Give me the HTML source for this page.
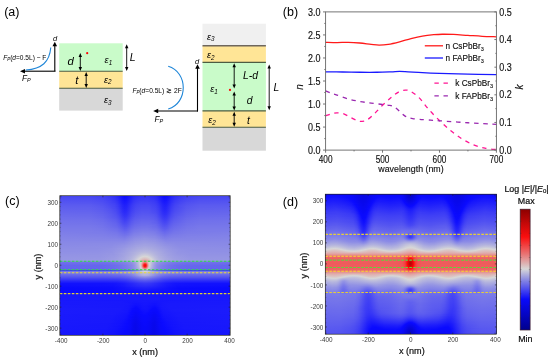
<!DOCTYPE html>
<html><head><meta charset="utf-8"><title>Figure</title>
<style>html,body{margin:0;padding:0;background:#fff}svg{display:block}</style></head>
<body>
<svg width="550" height="360" viewBox="0 0 550 360">
<defs>
<linearGradient id="c0"><stop offset="0" stop-color="#4848f3"/><stop offset="0.176" stop-color="#4747f3"/><stop offset="0.252" stop-color="#4141f4"/><stop offset="0.293" stop-color="#3939f6"/><stop offset="0.323" stop-color="#3030f8"/><stop offset="0.34" stop-color="#2626fa"/><stop offset="0.37" stop-color="#1010fe"/><stop offset="0.381" stop-color="#0c0cff"/><stop offset="0.393" stop-color="#0f0ffe"/><stop offset="0.434" stop-color="#2b2bf9"/><stop offset="0.452" stop-color="#3131f7"/><stop offset="0.475" stop-color="#3535f7"/><stop offset="0.516" stop-color="#3535f7"/><stop offset="0.552" stop-color="#3030f8"/><stop offset="0.569" stop-color="#2929f9"/><stop offset="0.604" stop-color="#1010fe"/><stop offset="0.616" stop-color="#0c0cff"/><stop offset="0.628" stop-color="#0e0efe"/><stop offset="0.663" stop-color="#2828f9"/><stop offset="0.681" stop-color="#3131f7"/><stop offset="0.745" stop-color="#4040f4"/><stop offset="0.822" stop-color="#4747f3"/><stop offset="0.998" stop-color="#4848f3"/></linearGradient>
<linearGradient id="c1"><stop offset="0" stop-color="#4a4af2"/><stop offset="0.176" stop-color="#4949f3"/><stop offset="0.252" stop-color="#4343f4"/><stop offset="0.293" stop-color="#3b3bf5"/><stop offset="0.323" stop-color="#3232f7"/><stop offset="0.34" stop-color="#2828f9"/><stop offset="0.37" stop-color="#1212fd"/><stop offset="0.381" stop-color="#0e0efe"/><stop offset="0.393" stop-color="#1111fe"/><stop offset="0.434" stop-color="#2d2df8"/><stop offset="0.452" stop-color="#3333f7"/><stop offset="0.475" stop-color="#3737f6"/><stop offset="0.516" stop-color="#3838f6"/><stop offset="0.552" stop-color="#3232f7"/><stop offset="0.569" stop-color="#2c2cf8"/><stop offset="0.604" stop-color="#1212fd"/><stop offset="0.616" stop-color="#0e0efe"/><stop offset="0.634" stop-color="#1414fd"/><stop offset="0.657" stop-color="#2727f9"/><stop offset="0.675" stop-color="#3131f7"/><stop offset="0.704" stop-color="#3a3af6"/><stop offset="0.745" stop-color="#4343f4"/><stop offset="0.822" stop-color="#4949f3"/><stop offset="0.998" stop-color="#4a4af2"/></linearGradient>
<linearGradient id="c2"><stop offset="0" stop-color="#4c4cf2"/><stop offset="0.176" stop-color="#4c4cf2"/><stop offset="0.252" stop-color="#4545f3"/><stop offset="0.293" stop-color="#3d3df5"/><stop offset="0.323" stop-color="#3434f7"/><stop offset="0.34" stop-color="#2b2bf9"/><stop offset="0.37" stop-color="#1414fd"/><stop offset="0.381" stop-color="#1010fe"/><stop offset="0.393" stop-color="#1313fd"/><stop offset="0.434" stop-color="#2f2ff8"/><stop offset="0.452" stop-color="#3535f7"/><stop offset="0.475" stop-color="#3939f6"/><stop offset="0.516" stop-color="#3a3af6"/><stop offset="0.552" stop-color="#3434f7"/><stop offset="0.569" stop-color="#2e2ef8"/><stop offset="0.604" stop-color="#1515fd"/><stop offset="0.616" stop-color="#1010fe"/><stop offset="0.634" stop-color="#1616fd"/><stop offset="0.657" stop-color="#2929f9"/><stop offset="0.675" stop-color="#3333f7"/><stop offset="0.704" stop-color="#3c3cf5"/><stop offset="0.745" stop-color="#4545f4"/><stop offset="0.822" stop-color="#4b4bf2"/><stop offset="0.998" stop-color="#4c4cf2"/></linearGradient>
<linearGradient id="c3"><stop offset="0" stop-color="#4e4ef2"/><stop offset="0.176" stop-color="#4e4ef2"/><stop offset="0.252" stop-color="#4747f3"/><stop offset="0.293" stop-color="#3f3ff5"/><stop offset="0.323" stop-color="#3636f6"/><stop offset="0.34" stop-color="#2d2df8"/><stop offset="0.37" stop-color="#1616fd"/><stop offset="0.381" stop-color="#1313fd"/><stop offset="0.393" stop-color="#1515fd"/><stop offset="0.434" stop-color="#3232f7"/><stop offset="0.452" stop-color="#3737f6"/><stop offset="0.475" stop-color="#3b3bf5"/><stop offset="0.516" stop-color="#3c3cf5"/><stop offset="0.552" stop-color="#3737f6"/><stop offset="0.569" stop-color="#3030f8"/><stop offset="0.604" stop-color="#1717fd"/><stop offset="0.616" stop-color="#1313fd"/><stop offset="0.628" stop-color="#1515fd"/><stop offset="0.657" stop-color="#2b2bf8"/><stop offset="0.675" stop-color="#3535f7"/><stop offset="0.704" stop-color="#3f3ff5"/><stop offset="0.745" stop-color="#4747f3"/><stop offset="0.822" stop-color="#4e4ef2"/><stop offset="0.998" stop-color="#4e4ef2"/></linearGradient>
<linearGradient id="c4"><stop offset="0" stop-color="#5151f1"/><stop offset="0.176" stop-color="#5050f1"/><stop offset="0.252" stop-color="#4a4af3"/><stop offset="0.293" stop-color="#4141f4"/><stop offset="0.323" stop-color="#3939f6"/><stop offset="0.34" stop-color="#2f2ff8"/><stop offset="0.37" stop-color="#1919fc"/><stop offset="0.381" stop-color="#1515fd"/><stop offset="0.393" stop-color="#1818fc"/><stop offset="0.434" stop-color="#3434f7"/><stop offset="0.452" stop-color="#3a3af6"/><stop offset="0.475" stop-color="#3d3df5"/><stop offset="0.516" stop-color="#3e3ef5"/><stop offset="0.552" stop-color="#3939f6"/><stop offset="0.569" stop-color="#3232f7"/><stop offset="0.604" stop-color="#1919fc"/><stop offset="0.616" stop-color="#1515fd"/><stop offset="0.628" stop-color="#1717fc"/><stop offset="0.657" stop-color="#2e2ef8"/><stop offset="0.675" stop-color="#3838f6"/><stop offset="0.704" stop-color="#4141f4"/><stop offset="0.745" stop-color="#4949f3"/><stop offset="0.822" stop-color="#5050f1"/><stop offset="0.998" stop-color="#5151f1"/></linearGradient>
<linearGradient id="c5"><stop offset="0" stop-color="#5353f1"/><stop offset="0.176" stop-color="#5252f1"/><stop offset="0.252" stop-color="#4c4cf2"/><stop offset="0.293" stop-color="#4444f4"/><stop offset="0.323" stop-color="#3b3bf5"/><stop offset="0.34" stop-color="#3232f7"/><stop offset="0.37" stop-color="#1b1bfc"/><stop offset="0.381" stop-color="#1717fc"/><stop offset="0.393" stop-color="#1a1afc"/><stop offset="0.434" stop-color="#3636f6"/><stop offset="0.452" stop-color="#3c3cf5"/><stop offset="0.475" stop-color="#4040f5"/><stop offset="0.516" stop-color="#4040f4"/><stop offset="0.552" stop-color="#3b3bf5"/><stop offset="0.569" stop-color="#3535f7"/><stop offset="0.604" stop-color="#1b1bfc"/><stop offset="0.616" stop-color="#1717fc"/><stop offset="0.628" stop-color="#1a1afc"/><stop offset="0.657" stop-color="#3030f8"/><stop offset="0.675" stop-color="#3a3af6"/><stop offset="0.704" stop-color="#4343f4"/><stop offset="0.745" stop-color="#4b4bf2"/><stop offset="0.822" stop-color="#5252f1"/><stop offset="0.998" stop-color="#5353f1"/></linearGradient>
<linearGradient id="c6"><stop offset="0" stop-color="#5555f0"/><stop offset="0.176" stop-color="#5454f1"/><stop offset="0.252" stop-color="#4e4ef2"/><stop offset="0.323" stop-color="#3d3df5"/><stop offset="0.34" stop-color="#3434f7"/><stop offset="0.37" stop-color="#1d1dfb"/><stop offset="0.381" stop-color="#1919fc"/><stop offset="0.393" stop-color="#1c1cfb"/><stop offset="0.434" stop-color="#3838f6"/><stop offset="0.452" stop-color="#3e3ef5"/><stop offset="0.475" stop-color="#4242f4"/><stop offset="0.516" stop-color="#4343f4"/><stop offset="0.558" stop-color="#3c3cf5"/><stop offset="0.575" stop-color="#3333f7"/><stop offset="0.604" stop-color="#1d1dfb"/><stop offset="0.616" stop-color="#1919fc"/><stop offset="0.628" stop-color="#1c1cfc"/><stop offset="0.657" stop-color="#3232f7"/><stop offset="0.675" stop-color="#3c3cf5"/><stop offset="0.704" stop-color="#4545f3"/><stop offset="0.745" stop-color="#4e4ef2"/><stop offset="0.822" stop-color="#5454f1"/><stop offset="0.998" stop-color="#5555f0"/></linearGradient>
<linearGradient id="c7"><stop offset="0" stop-color="#5757f0"/><stop offset="0.176" stop-color="#5656f0"/><stop offset="0.252" stop-color="#5050f1"/><stop offset="0.323" stop-color="#4040f5"/><stop offset="0.34" stop-color="#3636f6"/><stop offset="0.37" stop-color="#1f1ffb"/><stop offset="0.381" stop-color="#1b1bfc"/><stop offset="0.393" stop-color="#1e1efb"/><stop offset="0.423" stop-color="#3434f7"/><stop offset="0.434" stop-color="#3b3bf5"/><stop offset="0.452" stop-color="#4040f4"/><stop offset="0.475" stop-color="#4444f4"/><stop offset="0.516" stop-color="#4545f4"/><stop offset="0.558" stop-color="#3e3ef5"/><stop offset="0.575" stop-color="#3636f6"/><stop offset="0.604" stop-color="#2020fb"/><stop offset="0.616" stop-color="#1b1bfc"/><stop offset="0.628" stop-color="#1e1efb"/><stop offset="0.657" stop-color="#3535f7"/><stop offset="0.675" stop-color="#3f3ff5"/><stop offset="0.704" stop-color="#4747f3"/><stop offset="0.745" stop-color="#5050f1"/><stop offset="0.822" stop-color="#5656f0"/><stop offset="0.998" stop-color="#5757f0"/></linearGradient>
<linearGradient id="c8"><stop offset="0" stop-color="#5959f0"/><stop offset="0.176" stop-color="#5959f0"/><stop offset="0.252" stop-color="#5252f1"/><stop offset="0.323" stop-color="#4242f4"/><stop offset="0.34" stop-color="#3939f6"/><stop offset="0.37" stop-color="#2222fa"/><stop offset="0.381" stop-color="#1e1efb"/><stop offset="0.393" stop-color="#2020fb"/><stop offset="0.423" stop-color="#3636f6"/><stop offset="0.434" stop-color="#3d3df5"/><stop offset="0.452" stop-color="#4343f4"/><stop offset="0.475" stop-color="#4646f3"/><stop offset="0.516" stop-color="#4747f3"/><stop offset="0.558" stop-color="#4040f4"/><stop offset="0.575" stop-color="#3838f6"/><stop offset="0.604" stop-color="#2222fa"/><stop offset="0.616" stop-color="#1e1efb"/><stop offset="0.628" stop-color="#2020fb"/><stop offset="0.657" stop-color="#3737f6"/><stop offset="0.675" stop-color="#4141f4"/><stop offset="0.704" stop-color="#4a4af3"/><stop offset="0.745" stop-color="#5252f1"/><stop offset="0.822" stop-color="#5959f0"/><stop offset="0.998" stop-color="#5959f0"/></linearGradient>
<linearGradient id="c9"><stop offset="0" stop-color="#5b5bef"/><stop offset="0.176" stop-color="#5b5bef"/><stop offset="0.252" stop-color="#5454f0"/><stop offset="0.323" stop-color="#4444f4"/><stop offset="0.34" stop-color="#3b3bf5"/><stop offset="0.37" stop-color="#2424fa"/><stop offset="0.381" stop-color="#2020fb"/><stop offset="0.393" stop-color="#2222fa"/><stop offset="0.423" stop-color="#3939f6"/><stop offset="0.446" stop-color="#4343f4"/><stop offset="0.481" stop-color="#4949f3"/><stop offset="0.522" stop-color="#4949f3"/><stop offset="0.563" stop-color="#4040f4"/><stop offset="0.581" stop-color="#3636f6"/><stop offset="0.604" stop-color="#2424fa"/><stop offset="0.616" stop-color="#2020fb"/><stop offset="0.628" stop-color="#2222fa"/><stop offset="0.657" stop-color="#3939f6"/><stop offset="0.675" stop-color="#4343f4"/><stop offset="0.704" stop-color="#4c4cf2"/><stop offset="0.745" stop-color="#5454f1"/><stop offset="0.822" stop-color="#5b5bef"/><stop offset="0.998" stop-color="#5b5bef"/></linearGradient>
<linearGradient id="c10"><stop offset="0" stop-color="#5d5def"/><stop offset="0.176" stop-color="#5c5cef"/><stop offset="0.252" stop-color="#5656f0"/><stop offset="0.323" stop-color="#4545f3"/><stop offset="0.34" stop-color="#3c3cf5"/><stop offset="0.37" stop-color="#2525fa"/><stop offset="0.381" stop-color="#2121fa"/><stop offset="0.393" stop-color="#2424fa"/><stop offset="0.423" stop-color="#3a3af6"/><stop offset="0.446" stop-color="#4545f4"/><stop offset="0.481" stop-color="#4a4af2"/><stop offset="0.522" stop-color="#4a4af3"/><stop offset="0.563" stop-color="#4242f4"/><stop offset="0.581" stop-color="#3838f6"/><stop offset="0.604" stop-color="#2525fa"/><stop offset="0.616" stop-color="#2121fa"/><stop offset="0.628" stop-color="#2424fa"/><stop offset="0.657" stop-color="#3b3bf5"/><stop offset="0.675" stop-color="#4444f4"/><stop offset="0.704" stop-color="#4d4df2"/><stop offset="0.745" stop-color="#5656f0"/><stop offset="0.822" stop-color="#5c5cef"/><stop offset="0.998" stop-color="#5d5def"/></linearGradient>
<linearGradient id="c11"><stop offset="0" stop-color="#5e5eef"/><stop offset="0.176" stop-color="#5e5eef"/><stop offset="0.252" stop-color="#5757f0"/><stop offset="0.323" stop-color="#4747f3"/><stop offset="0.34" stop-color="#3e3ef5"/><stop offset="0.37" stop-color="#2727f9"/><stop offset="0.381" stop-color="#2323fa"/><stop offset="0.393" stop-color="#2525fa"/><stop offset="0.423" stop-color="#3c3cf5"/><stop offset="0.446" stop-color="#4646f3"/><stop offset="0.481" stop-color="#4c4cf2"/><stop offset="0.522" stop-color="#4c4cf2"/><stop offset="0.563" stop-color="#4343f4"/><stop offset="0.581" stop-color="#3939f6"/><stop offset="0.604" stop-color="#2727f9"/><stop offset="0.616" stop-color="#2323fa"/><stop offset="0.628" stop-color="#2626fa"/><stop offset="0.657" stop-color="#3c3cf5"/><stop offset="0.675" stop-color="#4646f3"/><stop offset="0.745" stop-color="#5757f0"/><stop offset="0.822" stop-color="#5d5def"/><stop offset="0.998" stop-color="#5e5eef"/></linearGradient>
<linearGradient id="c12"><stop offset="0" stop-color="#6060ee"/><stop offset="0.176" stop-color="#5f5fee"/><stop offset="0.252" stop-color="#5959f0"/><stop offset="0.299" stop-color="#4f4ff1"/><stop offset="0.329" stop-color="#4646f3"/><stop offset="0.346" stop-color="#3b3bf5"/><stop offset="0.37" stop-color="#2828f9"/><stop offset="0.381" stop-color="#2424fa"/><stop offset="0.393" stop-color="#2727f9"/><stop offset="0.423" stop-color="#3d3df5"/><stop offset="0.446" stop-color="#4848f3"/><stop offset="0.481" stop-color="#4d4df2"/><stop offset="0.522" stop-color="#4d4df2"/><stop offset="0.563" stop-color="#4545f4"/><stop offset="0.581" stop-color="#3b3bf6"/><stop offset="0.604" stop-color="#2828f9"/><stop offset="0.616" stop-color="#2424fa"/><stop offset="0.628" stop-color="#2727f9"/><stop offset="0.657" stop-color="#3e3ef5"/><stop offset="0.675" stop-color="#4848f3"/><stop offset="0.745" stop-color="#5858f0"/><stop offset="0.822" stop-color="#5f5fee"/><stop offset="0.998" stop-color="#6060ee"/></linearGradient>
<linearGradient id="c13"><stop offset="0" stop-color="#6161ee"/><stop offset="0.176" stop-color="#6060ee"/><stop offset="0.252" stop-color="#5a5aef"/><stop offset="0.299" stop-color="#5151f1"/><stop offset="0.329" stop-color="#4848f3"/><stop offset="0.346" stop-color="#3d3df5"/><stop offset="0.37" stop-color="#2a2af9"/><stop offset="0.381" stop-color="#2626fa"/><stop offset="0.393" stop-color="#2828f9"/><stop offset="0.423" stop-color="#3f3ff5"/><stop offset="0.446" stop-color="#4949f3"/><stop offset="0.481" stop-color="#4f4ff2"/><stop offset="0.522" stop-color="#4f4ff2"/><stop offset="0.563" stop-color="#4646f3"/><stop offset="0.581" stop-color="#3c3cf5"/><stop offset="0.604" stop-color="#2a2af9"/><stop offset="0.616" stop-color="#2525fa"/><stop offset="0.628" stop-color="#2929f9"/><stop offset="0.657" stop-color="#4040f5"/><stop offset="0.675" stop-color="#4949f3"/><stop offset="0.745" stop-color="#5a5aef"/><stop offset="0.822" stop-color="#6060ee"/><stop offset="0.998" stop-color="#6161ee"/></linearGradient>
<linearGradient id="c14"><stop offset="0" stop-color="#6363ee"/><stop offset="0.176" stop-color="#6262ee"/><stop offset="0.252" stop-color="#5c5cef"/><stop offset="0.299" stop-color="#5252f1"/><stop offset="0.329" stop-color="#4949f3"/><stop offset="0.346" stop-color="#3f3ff5"/><stop offset="0.37" stop-color="#2c2cf8"/><stop offset="0.381" stop-color="#2727f9"/><stop offset="0.393" stop-color="#2a2af9"/><stop offset="0.423" stop-color="#4040f4"/><stop offset="0.446" stop-color="#4b4bf2"/><stop offset="0.481" stop-color="#5050f1"/><stop offset="0.522" stop-color="#5050f1"/><stop offset="0.563" stop-color="#4848f3"/><stop offset="0.581" stop-color="#3e3ef5"/><stop offset="0.604" stop-color="#2b2bf9"/><stop offset="0.616" stop-color="#2727f9"/><stop offset="0.628" stop-color="#2a2af9"/><stop offset="0.657" stop-color="#4141f4"/><stop offset="0.675" stop-color="#4b4bf2"/><stop offset="0.745" stop-color="#5b5bef"/><stop offset="0.822" stop-color="#6262ee"/><stop offset="0.998" stop-color="#6363ee"/></linearGradient>
<linearGradient id="c15"><stop offset="0" stop-color="#6464ed"/><stop offset="0.176" stop-color="#6363ee"/><stop offset="0.252" stop-color="#5d5def"/><stop offset="0.299" stop-color="#5454f1"/><stop offset="0.329" stop-color="#4b4bf2"/><stop offset="0.346" stop-color="#4141f4"/><stop offset="0.37" stop-color="#2d2df8"/><stop offset="0.381" stop-color="#2929f9"/><stop offset="0.393" stop-color="#2c2cf8"/><stop offset="0.423" stop-color="#4242f4"/><stop offset="0.446" stop-color="#4c4cf2"/><stop offset="0.481" stop-color="#5252f1"/><stop offset="0.522" stop-color="#5252f1"/><stop offset="0.563" stop-color="#4949f3"/><stop offset="0.581" stop-color="#4040f5"/><stop offset="0.604" stop-color="#2d2df8"/><stop offset="0.616" stop-color="#2929f9"/><stop offset="0.628" stop-color="#2c2cf8"/><stop offset="0.657" stop-color="#4343f4"/><stop offset="0.675" stop-color="#4c4cf2"/><stop offset="0.745" stop-color="#5d5def"/><stop offset="0.822" stop-color="#6363ee"/><stop offset="0.998" stop-color="#6464ed"/></linearGradient>
<linearGradient id="c16"><stop offset="0" stop-color="#6565ed"/><stop offset="0.176" stop-color="#6565ed"/><stop offset="0.252" stop-color="#5f5fee"/><stop offset="0.299" stop-color="#5555f0"/><stop offset="0.329" stop-color="#4d4df2"/><stop offset="0.346" stop-color="#4242f4"/><stop offset="0.37" stop-color="#2f2ff8"/><stop offset="0.381" stop-color="#2b2bf9"/><stop offset="0.393" stop-color="#2e2ef8"/><stop offset="0.423" stop-color="#4444f4"/><stop offset="0.446" stop-color="#4e4ef2"/><stop offset="0.481" stop-color="#5454f1"/><stop offset="0.522" stop-color="#5353f1"/><stop offset="0.563" stop-color="#4b4bf2"/><stop offset="0.581" stop-color="#4141f4"/><stop offset="0.604" stop-color="#2f2ff8"/><stop offset="0.616" stop-color="#2b2bf9"/><stop offset="0.628" stop-color="#2e2ef8"/><stop offset="0.657" stop-color="#4545f4"/><stop offset="0.675" stop-color="#4e4ef2"/><stop offset="0.745" stop-color="#5e5eef"/><stop offset="0.822" stop-color="#6565ed"/><stop offset="0.998" stop-color="#6565ed"/></linearGradient>
<linearGradient id="c17"><stop offset="0" stop-color="#6767ed"/><stop offset="0.176" stop-color="#6666ed"/><stop offset="0.252" stop-color="#6060ee"/><stop offset="0.299" stop-color="#5757f0"/><stop offset="0.329" stop-color="#4e4ef2"/><stop offset="0.346" stop-color="#4444f4"/><stop offset="0.37" stop-color="#3232f7"/><stop offset="0.381" stop-color="#2d2df8"/><stop offset="0.393" stop-color="#3030f8"/><stop offset="0.423" stop-color="#4646f3"/><stop offset="0.446" stop-color="#5050f1"/><stop offset="0.487" stop-color="#5656f0"/><stop offset="0.522" stop-color="#5555f0"/><stop offset="0.563" stop-color="#4d4df2"/><stop offset="0.581" stop-color="#4343f4"/><stop offset="0.604" stop-color="#3131f7"/><stop offset="0.616" stop-color="#2d2df8"/><stop offset="0.628" stop-color="#3030f8"/><stop offset="0.657" stop-color="#4747f3"/><stop offset="0.675" stop-color="#5050f1"/><stop offset="0.745" stop-color="#6060ee"/><stop offset="0.822" stop-color="#6666ed"/><stop offset="0.998" stop-color="#6767ed"/></linearGradient>
<linearGradient id="c18"><stop offset="0" stop-color="#6868ed"/><stop offset="0.176" stop-color="#6868ed"/><stop offset="0.252" stop-color="#6262ee"/><stop offset="0.299" stop-color="#5959f0"/><stop offset="0.329" stop-color="#5050f1"/><stop offset="0.346" stop-color="#4747f3"/><stop offset="0.37" stop-color="#3434f7"/><stop offset="0.381" stop-color="#2f2ff8"/><stop offset="0.393" stop-color="#3232f7"/><stop offset="0.423" stop-color="#4848f3"/><stop offset="0.446" stop-color="#5252f1"/><stop offset="0.487" stop-color="#5858f0"/><stop offset="0.522" stop-color="#5757f0"/><stop offset="0.552" stop-color="#5353f1"/><stop offset="0.569" stop-color="#4d4df2"/><stop offset="0.604" stop-color="#3333f7"/><stop offset="0.616" stop-color="#2f2ff8"/><stop offset="0.628" stop-color="#3232f7"/><stop offset="0.657" stop-color="#4949f3"/><stop offset="0.675" stop-color="#5252f1"/><stop offset="0.745" stop-color="#6161ee"/><stop offset="0.822" stop-color="#6767ed"/><stop offset="0.998" stop-color="#6868ed"/></linearGradient>
<linearGradient id="c19"><stop offset="0" stop-color="#6a6aec"/><stop offset="0.176" stop-color="#6969ec"/><stop offset="0.252" stop-color="#6363ee"/><stop offset="0.299" stop-color="#5a5aef"/><stop offset="0.329" stop-color="#5252f1"/><stop offset="0.346" stop-color="#4949f3"/><stop offset="0.37" stop-color="#3636f6"/><stop offset="0.381" stop-color="#3232f7"/><stop offset="0.393" stop-color="#3434f7"/><stop offset="0.423" stop-color="#4a4af2"/><stop offset="0.446" stop-color="#5454f1"/><stop offset="0.487" stop-color="#5a5aef"/><stop offset="0.522" stop-color="#5959f0"/><stop offset="0.552" stop-color="#5555f0"/><stop offset="0.569" stop-color="#4f4ff2"/><stop offset="0.604" stop-color="#3636f6"/><stop offset="0.616" stop-color="#3232f7"/><stop offset="0.628" stop-color="#3535f7"/><stop offset="0.657" stop-color="#4b4bf2"/><stop offset="0.675" stop-color="#5353f1"/><stop offset="0.745" stop-color="#6363ee"/><stop offset="0.822" stop-color="#6969ec"/><stop offset="0.998" stop-color="#6a6aec"/></linearGradient>
<linearGradient id="c20"><stop offset="0" stop-color="#6b6bec"/><stop offset="0.176" stop-color="#6a6aec"/><stop offset="0.252" stop-color="#6565ed"/><stop offset="0.329" stop-color="#5454f1"/><stop offset="0.346" stop-color="#4b4bf2"/><stop offset="0.37" stop-color="#3939f6"/><stop offset="0.381" stop-color="#3434f7"/><stop offset="0.393" stop-color="#3737f6"/><stop offset="0.423" stop-color="#4c4cf2"/><stop offset="0.446" stop-color="#5656f0"/><stop offset="0.487" stop-color="#5c5cef"/><stop offset="0.522" stop-color="#5b5bef"/><stop offset="0.552" stop-color="#5757f0"/><stop offset="0.569" stop-color="#5151f1"/><stop offset="0.604" stop-color="#3838f6"/><stop offset="0.616" stop-color="#3434f7"/><stop offset="0.628" stop-color="#3838f6"/><stop offset="0.651" stop-color="#4949f3"/><stop offset="0.669" stop-color="#5353f1"/><stop offset="0.698" stop-color="#5c5cef"/><stop offset="0.745" stop-color="#6464ed"/><stop offset="0.822" stop-color="#6a6aec"/><stop offset="0.998" stop-color="#6b6bec"/></linearGradient>
<linearGradient id="c21"><stop offset="0" stop-color="#6d6dec"/><stop offset="0.176" stop-color="#6c6cec"/><stop offset="0.252" stop-color="#6666ed"/><stop offset="0.329" stop-color="#5656f0"/><stop offset="0.346" stop-color="#4d4df2"/><stop offset="0.37" stop-color="#3c3cf5"/><stop offset="0.381" stop-color="#3737f6"/><stop offset="0.393" stop-color="#3a3af6"/><stop offset="0.423" stop-color="#4f4ff2"/><stop offset="0.44" stop-color="#5757f0"/><stop offset="0.481" stop-color="#5d5def"/><stop offset="0.522" stop-color="#5d5def"/><stop offset="0.552" stop-color="#5959f0"/><stop offset="0.569" stop-color="#5353f1"/><stop offset="0.604" stop-color="#3b3bf5"/><stop offset="0.616" stop-color="#3737f6"/><stop offset="0.628" stop-color="#3a3af6"/><stop offset="0.651" stop-color="#4c4cf2"/><stop offset="0.669" stop-color="#5555f0"/><stop offset="0.698" stop-color="#5d5def"/><stop offset="0.745" stop-color="#6666ed"/><stop offset="0.822" stop-color="#6c6cec"/><stop offset="0.998" stop-color="#6d6dec"/></linearGradient>
<linearGradient id="c22"><stop offset="0" stop-color="#6e6eec"/><stop offset="0.176" stop-color="#6d6dec"/><stop offset="0.252" stop-color="#6868ed"/><stop offset="0.329" stop-color="#5858f0"/><stop offset="0.346" stop-color="#5050f1"/><stop offset="0.37" stop-color="#3f3ff5"/><stop offset="0.381" stop-color="#3a3af6"/><stop offset="0.393" stop-color="#3d3df5"/><stop offset="0.423" stop-color="#5151f1"/><stop offset="0.44" stop-color="#5959f0"/><stop offset="0.481" stop-color="#5f5fee"/><stop offset="0.522" stop-color="#5f5fee"/><stop offset="0.552" stop-color="#5b5bef"/><stop offset="0.569" stop-color="#5656f0"/><stop offset="0.604" stop-color="#3e3ef5"/><stop offset="0.616" stop-color="#3a3af6"/><stop offset="0.628" stop-color="#3d3df5"/><stop offset="0.651" stop-color="#4e4ef2"/><stop offset="0.669" stop-color="#5858f0"/><stop offset="0.745" stop-color="#6868ed"/><stop offset="0.822" stop-color="#6d6dec"/><stop offset="0.998" stop-color="#6e6eec"/></linearGradient>
<linearGradient id="c23"><stop offset="0" stop-color="#6f6feb"/><stop offset="0.176" stop-color="#6f6feb"/><stop offset="0.252" stop-color="#6a6aec"/><stop offset="0.329" stop-color="#5b5bef"/><stop offset="0.346" stop-color="#5252f1"/><stop offset="0.37" stop-color="#4242f4"/><stop offset="0.381" stop-color="#3d3df5"/><stop offset="0.393" stop-color="#4040f5"/><stop offset="0.423" stop-color="#5454f1"/><stop offset="0.44" stop-color="#5b5bef"/><stop offset="0.481" stop-color="#6262ee"/><stop offset="0.522" stop-color="#6161ee"/><stop offset="0.552" stop-color="#5d5def"/><stop offset="0.569" stop-color="#5858f0"/><stop offset="0.604" stop-color="#4141f4"/><stop offset="0.616" stop-color="#3d3df5"/><stop offset="0.628" stop-color="#4040f4"/><stop offset="0.651" stop-color="#5151f1"/><stop offset="0.669" stop-color="#5a5aef"/><stop offset="0.745" stop-color="#6969ec"/><stop offset="0.822" stop-color="#6f6feb"/><stop offset="0.998" stop-color="#6f6feb"/></linearGradient>
<linearGradient id="c24"><stop offset="0" stop-color="#7171eb"/><stop offset="0.176" stop-color="#7070eb"/><stop offset="0.252" stop-color="#6b6bec"/><stop offset="0.329" stop-color="#5d5def"/><stop offset="0.346" stop-color="#5555f0"/><stop offset="0.37" stop-color="#4545f4"/><stop offset="0.381" stop-color="#4040f4"/><stop offset="0.393" stop-color="#4343f4"/><stop offset="0.423" stop-color="#5656f0"/><stop offset="0.44" stop-color="#5e5eef"/><stop offset="0.481" stop-color="#6464ed"/><stop offset="0.522" stop-color="#6464ee"/><stop offset="0.552" stop-color="#6060ee"/><stop offset="0.569" stop-color="#5a5aef"/><stop offset="0.604" stop-color="#4444f4"/><stop offset="0.616" stop-color="#4040f4"/><stop offset="0.628" stop-color="#4343f4"/><stop offset="0.651" stop-color="#5353f1"/><stop offset="0.669" stop-color="#5c5cef"/><stop offset="0.745" stop-color="#6b6bec"/><stop offset="0.822" stop-color="#7070eb"/><stop offset="0.998" stop-color="#7171eb"/></linearGradient>
<linearGradient id="c25"><stop offset="0" stop-color="#7272eb"/><stop offset="0.176" stop-color="#7171eb"/><stop offset="0.252" stop-color="#6c6cec"/><stop offset="0.329" stop-color="#5f5fee"/><stop offset="0.346" stop-color="#5757f0"/><stop offset="0.37" stop-color="#4747f3"/><stop offset="0.381" stop-color="#4343f4"/><stop offset="0.393" stop-color="#4646f3"/><stop offset="0.423" stop-color="#5959f0"/><stop offset="0.44" stop-color="#6060ee"/><stop offset="0.481" stop-color="#6666ed"/><stop offset="0.522" stop-color="#6666ed"/><stop offset="0.552" stop-color="#6262ee"/><stop offset="0.569" stop-color="#5d5def"/><stop offset="0.604" stop-color="#4747f3"/><stop offset="0.616" stop-color="#4343f4"/><stop offset="0.628" stop-color="#4646f3"/><stop offset="0.651" stop-color="#5656f0"/><stop offset="0.669" stop-color="#5e5eef"/><stop offset="0.745" stop-color="#6c6cec"/><stop offset="0.822" stop-color="#7171eb"/><stop offset="0.998" stop-color="#7272eb"/></linearGradient>
<linearGradient id="c26"><stop offset="0" stop-color="#7373eb"/><stop offset="0.176" stop-color="#7272eb"/><stop offset="0.252" stop-color="#6e6eec"/><stop offset="0.329" stop-color="#6161ee"/><stop offset="0.346" stop-color="#5959ef"/><stop offset="0.37" stop-color="#4a4af2"/><stop offset="0.381" stop-color="#4646f3"/><stop offset="0.393" stop-color="#4949f3"/><stop offset="0.423" stop-color="#5b5bef"/><stop offset="0.44" stop-color="#6262ee"/><stop offset="0.481" stop-color="#6868ed"/><stop offset="0.522" stop-color="#6868ed"/><stop offset="0.569" stop-color="#5f5fee"/><stop offset="0.604" stop-color="#4a4af3"/><stop offset="0.616" stop-color="#4646f3"/><stop offset="0.628" stop-color="#4949f3"/><stop offset="0.651" stop-color="#5858f0"/><stop offset="0.669" stop-color="#6060ee"/><stop offset="0.745" stop-color="#6d6dec"/><stop offset="0.822" stop-color="#7272eb"/><stop offset="0.998" stop-color="#7373eb"/></linearGradient>
<linearGradient id="c27"><stop offset="0" stop-color="#7474ea"/><stop offset="0.176" stop-color="#7373ea"/><stop offset="0.252" stop-color="#6f6feb"/><stop offset="0.329" stop-color="#6363ee"/><stop offset="0.346" stop-color="#5c5cef"/><stop offset="0.37" stop-color="#4d4df2"/><stop offset="0.381" stop-color="#4949f3"/><stop offset="0.393" stop-color="#4c4cf2"/><stop offset="0.423" stop-color="#5e5eef"/><stop offset="0.44" stop-color="#6464ed"/><stop offset="0.481" stop-color="#6a6aec"/><stop offset="0.522" stop-color="#6a6aec"/><stop offset="0.569" stop-color="#6161ee"/><stop offset="0.604" stop-color="#4d4df2"/><stop offset="0.616" stop-color="#4949f3"/><stop offset="0.628" stop-color="#4c4cf2"/><stop offset="0.651" stop-color="#5b5bef"/><stop offset="0.669" stop-color="#6262ee"/><stop offset="0.745" stop-color="#6f6feb"/><stop offset="0.822" stop-color="#7373ea"/><stop offset="0.998" stop-color="#7474ea"/></linearGradient>
<linearGradient id="c28"><stop offset="0" stop-color="#7575ea"/><stop offset="0.176" stop-color="#7474ea"/><stop offset="0.252" stop-color="#7070eb"/><stop offset="0.329" stop-color="#6565ed"/><stop offset="0.346" stop-color="#5e5eef"/><stop offset="0.37" stop-color="#5050f1"/><stop offset="0.381" stop-color="#4d4df2"/><stop offset="0.393" stop-color="#4f4ff2"/><stop offset="0.423" stop-color="#6060ee"/><stop offset="0.44" stop-color="#6767ed"/><stop offset="0.475" stop-color="#6c6cec"/><stop offset="0.516" stop-color="#6c6cec"/><stop offset="0.563" stop-color="#6666ed"/><stop offset="0.581" stop-color="#5e5eef"/><stop offset="0.604" stop-color="#5050f1"/><stop offset="0.616" stop-color="#4d4df2"/><stop offset="0.628" stop-color="#4f4ff1"/><stop offset="0.651" stop-color="#5d5def"/><stop offset="0.669" stop-color="#6464ed"/><stop offset="0.745" stop-color="#7070eb"/><stop offset="0.822" stop-color="#7474ea"/><stop offset="0.998" stop-color="#7575ea"/></linearGradient>
<linearGradient id="c29"><stop offset="0" stop-color="#7676ea"/><stop offset="0.176" stop-color="#7676ea"/><stop offset="0.252" stop-color="#7272eb"/><stop offset="0.335" stop-color="#6565ed"/><stop offset="0.37" stop-color="#5454f1"/><stop offset="0.381" stop-color="#5050f1"/><stop offset="0.393" stop-color="#5252f1"/><stop offset="0.423" stop-color="#6363ee"/><stop offset="0.44" stop-color="#6969ec"/><stop offset="0.481" stop-color="#6e6eeb"/><stop offset="0.516" stop-color="#6f6feb"/><stop offset="0.546" stop-color="#6c6cec"/><stop offset="0.569" stop-color="#6666ed"/><stop offset="0.604" stop-color="#5353f1"/><stop offset="0.616" stop-color="#5050f1"/><stop offset="0.628" stop-color="#5353f1"/><stop offset="0.651" stop-color="#6060ee"/><stop offset="0.669" stop-color="#6666ed"/><stop offset="0.745" stop-color="#7171eb"/><stop offset="0.822" stop-color="#7676ea"/><stop offset="0.998" stop-color="#7676ea"/></linearGradient>
<linearGradient id="c30"><stop offset="0" stop-color="#7777ea"/><stop offset="0.176" stop-color="#7777ea"/><stop offset="0.252" stop-color="#7373eb"/><stop offset="0.335" stop-color="#6767ed"/><stop offset="0.381" stop-color="#5353f1"/><stop offset="0.393" stop-color="#5555f0"/><stop offset="0.423" stop-color="#6666ed"/><stop offset="0.44" stop-color="#6b6bec"/><stop offset="0.481" stop-color="#7171eb"/><stop offset="0.516" stop-color="#7171eb"/><stop offset="0.569" stop-color="#6969ec"/><stop offset="0.604" stop-color="#5656f0"/><stop offset="0.616" stop-color="#5353f1"/><stop offset="0.628" stop-color="#5656f0"/><stop offset="0.651" stop-color="#6262ee"/><stop offset="0.669" stop-color="#6868ed"/><stop offset="0.745" stop-color="#7373eb"/><stop offset="0.822" stop-color="#7777ea"/><stop offset="0.998" stop-color="#7777ea"/></linearGradient>
<linearGradient id="c31"><stop offset="0" stop-color="#7878ea"/><stop offset="0.176" stop-color="#7878ea"/><stop offset="0.252" stop-color="#7474ea"/><stop offset="0.335" stop-color="#6969ec"/><stop offset="0.381" stop-color="#5757f0"/><stop offset="0.393" stop-color="#5959f0"/><stop offset="0.423" stop-color="#6868ed"/><stop offset="0.44" stop-color="#6e6eeb"/><stop offset="0.481" stop-color="#7373ea"/><stop offset="0.516" stop-color="#7373ea"/><stop offset="0.569" stop-color="#6b6bec"/><stop offset="0.604" stop-color="#5a5aef"/><stop offset="0.616" stop-color="#5757f0"/><stop offset="0.628" stop-color="#5959f0"/><stop offset="0.651" stop-color="#6565ed"/><stop offset="0.669" stop-color="#6a6aec"/><stop offset="0.745" stop-color="#7474ea"/><stop offset="0.822" stop-color="#7878ea"/><stop offset="0.998" stop-color="#7878ea"/></linearGradient>
<linearGradient id="c32"><stop offset="0" stop-color="#7979e9"/><stop offset="0.176" stop-color="#7979e9"/><stop offset="0.252" stop-color="#7676ea"/><stop offset="0.335" stop-color="#6c6cec"/><stop offset="0.381" stop-color="#5a5aef"/><stop offset="0.393" stop-color="#5c5cef"/><stop offset="0.423" stop-color="#6b6bec"/><stop offset="0.44" stop-color="#7070eb"/><stop offset="0.481" stop-color="#7575ea"/><stop offset="0.516" stop-color="#7676ea"/><stop offset="0.569" stop-color="#6e6eeb"/><stop offset="0.604" stop-color="#5d5def"/><stop offset="0.616" stop-color="#5a5aef"/><stop offset="0.628" stop-color="#5c5cef"/><stop offset="0.651" stop-color="#6767ed"/><stop offset="0.669" stop-color="#6c6cec"/><stop offset="0.745" stop-color="#7575ea"/><stop offset="0.822" stop-color="#7979e9"/><stop offset="0.998" stop-color="#7979e9"/></linearGradient>
<linearGradient id="c33"><stop offset="0" stop-color="#7a7ae9"/><stop offset="0.176" stop-color="#7a7ae9"/><stop offset="0.252" stop-color="#7777ea"/><stop offset="0.335" stop-color="#6e6eec"/><stop offset="0.381" stop-color="#5e5eef"/><stop offset="0.393" stop-color="#6060ee"/><stop offset="0.423" stop-color="#6e6eeb"/><stop offset="0.44" stop-color="#7373ea"/><stop offset="0.481" stop-color="#7878ea"/><stop offset="0.516" stop-color="#7878ea"/><stop offset="0.569" stop-color="#7171eb"/><stop offset="0.604" stop-color="#6161ee"/><stop offset="0.616" stop-color="#5e5eef"/><stop offset="0.628" stop-color="#6060ee"/><stop offset="0.651" stop-color="#6a6aec"/><stop offset="0.669" stop-color="#6e6eeb"/><stop offset="0.745" stop-color="#7777ea"/><stop offset="0.822" stop-color="#7a7ae9"/><stop offset="0.998" stop-color="#7a7ae9"/></linearGradient>
<linearGradient id="c34"><stop offset="0" stop-color="#7b7be9"/><stop offset="0.176" stop-color="#7b7be9"/><stop offset="0.252" stop-color="#7878e9"/><stop offset="0.335" stop-color="#7070eb"/><stop offset="0.381" stop-color="#6161ee"/><stop offset="0.393" stop-color="#6363ee"/><stop offset="0.423" stop-color="#7171eb"/><stop offset="0.44" stop-color="#7676ea"/><stop offset="0.481" stop-color="#7a7ae9"/><stop offset="0.516" stop-color="#7b7be9"/><stop offset="0.569" stop-color="#7474ea"/><stop offset="0.604" stop-color="#6464ed"/><stop offset="0.616" stop-color="#6161ee"/><stop offset="0.669" stop-color="#7171eb"/><stop offset="0.745" stop-color="#7878ea"/><stop offset="0.822" stop-color="#7b7be9"/><stop offset="0.998" stop-color="#7b7be9"/></linearGradient>
<linearGradient id="c35"><stop offset="0" stop-color="#7c7ce9"/><stop offset="0.176" stop-color="#7c7ce9"/><stop offset="0.252" stop-color="#7a7ae9"/><stop offset="0.335" stop-color="#7272eb"/><stop offset="0.381" stop-color="#6565ed"/><stop offset="0.393" stop-color="#6767ed"/><stop offset="0.434" stop-color="#7777ea"/><stop offset="0.487" stop-color="#7d7de8"/><stop offset="0.522" stop-color="#7d7de9"/><stop offset="0.558" stop-color="#7979e9"/><stop offset="0.575" stop-color="#7575ea"/><stop offset="0.604" stop-color="#6868ed"/><stop offset="0.616" stop-color="#6565ed"/><stop offset="0.669" stop-color="#7373eb"/><stop offset="0.751" stop-color="#7a7ae9"/><stop offset="0.998" stop-color="#7c7ce9"/></linearGradient>
<linearGradient id="c36"><stop offset="0" stop-color="#7e7ee8"/><stop offset="0.252" stop-color="#7b7be9"/><stop offset="0.335" stop-color="#7575ea"/><stop offset="0.381" stop-color="#6969ed"/><stop offset="0.393" stop-color="#6a6aec"/><stop offset="0.434" stop-color="#7a7ae9"/><stop offset="0.487" stop-color="#8080e8"/><stop offset="0.522" stop-color="#7f7fe8"/><stop offset="0.558" stop-color="#7c7ce9"/><stop offset="0.616" stop-color="#6969ed"/><stop offset="0.669" stop-color="#7575ea"/><stop offset="0.751" stop-color="#7b7be9"/><stop offset="0.998" stop-color="#7e7ee8"/></linearGradient>
<linearGradient id="c37"><stop offset="0" stop-color="#7f7fe8"/><stop offset="0.252" stop-color="#7c7ce9"/><stop offset="0.335" stop-color="#7777ea"/><stop offset="0.381" stop-color="#6c6cec"/><stop offset="0.393" stop-color="#6e6eec"/><stop offset="0.434" stop-color="#7d7de9"/><stop offset="0.487" stop-color="#8383e7"/><stop offset="0.522" stop-color="#8282e8"/><stop offset="0.558" stop-color="#7e7ee8"/><stop offset="0.616" stop-color="#6c6cec"/><stop offset="0.663" stop-color="#7676ea"/><stop offset="0.751" stop-color="#7c7ce9"/><stop offset="0.998" stop-color="#7f7fe8"/></linearGradient>
<linearGradient id="c38"><stop offset="0" stop-color="#8080e8"/><stop offset="0.246" stop-color="#7e7ee8"/><stop offset="0.335" stop-color="#7979e9"/><stop offset="0.381" stop-color="#7070eb"/><stop offset="0.393" stop-color="#7171eb"/><stop offset="0.434" stop-color="#8080e8"/><stop offset="0.493" stop-color="#8585e7"/><stop offset="0.528" stop-color="#8484e7"/><stop offset="0.563" stop-color="#8080e8"/><stop offset="0.616" stop-color="#7070eb"/><stop offset="0.663" stop-color="#7979e9"/><stop offset="0.751" stop-color="#7e7ee8"/><stop offset="0.998" stop-color="#8080e8"/></linearGradient>
<linearGradient id="c39"><stop offset="0" stop-color="#8181e8"/><stop offset="0.246" stop-color="#7f7fe8"/><stop offset="0.335" stop-color="#7b7be9"/><stop offset="0.381" stop-color="#7373ea"/><stop offset="0.393" stop-color="#7575ea"/><stop offset="0.434" stop-color="#8282e8"/><stop offset="0.493" stop-color="#8888e6"/><stop offset="0.558" stop-color="#8484e7"/><stop offset="0.616" stop-color="#7373ea"/><stop offset="0.663" stop-color="#7b7be9"/><stop offset="0.751" stop-color="#7f7fe8"/><stop offset="0.998" stop-color="#8181e8"/></linearGradient>
<linearGradient id="c40"><stop offset="0" stop-color="#8282e8"/><stop offset="0.246" stop-color="#8080e8"/><stop offset="0.335" stop-color="#7d7de9"/><stop offset="0.381" stop-color="#7777ea"/><stop offset="0.434" stop-color="#8585e7"/><stop offset="0.493" stop-color="#8b8be6"/><stop offset="0.558" stop-color="#8787e7"/><stop offset="0.616" stop-color="#7777ea"/><stop offset="0.663" stop-color="#7d7de9"/><stop offset="0.757" stop-color="#8181e8"/><stop offset="0.998" stop-color="#8282e8"/></linearGradient>
<linearGradient id="c41"><stop offset="0" stop-color="#8383e7"/><stop offset="0.241" stop-color="#8282e8"/><stop offset="0.335" stop-color="#7f7fe8"/><stop offset="0.381" stop-color="#7a7ae9"/><stop offset="0.44" stop-color="#8989e6"/><stop offset="0.499" stop-color="#8e8ee5"/><stop offset="0.563" stop-color="#8888e6"/><stop offset="0.616" stop-color="#7b7be9"/><stop offset="0.663" stop-color="#7f7fe8"/><stop offset="0.763" stop-color="#8282e8"/><stop offset="0.998" stop-color="#8383e7"/></linearGradient>
<linearGradient id="c42"><stop offset="0" stop-color="#8484e7"/><stop offset="0.235" stop-color="#8383e7"/><stop offset="0.34" stop-color="#8181e8"/><stop offset="0.381" stop-color="#7e7ee8"/><stop offset="0.44" stop-color="#8c8ce6"/><stop offset="0.499" stop-color="#9191e5"/><stop offset="0.558" stop-color="#8c8ce6"/><stop offset="0.61" stop-color="#7f7fe8"/><stop offset="0.622" stop-color="#7e7ee8"/><stop offset="0.663" stop-color="#8282e8"/><stop offset="0.763" stop-color="#8383e7"/><stop offset="0.998" stop-color="#8484e7"/></linearGradient>
<linearGradient id="c43"><stop offset="0" stop-color="#8585e7"/><stop offset="0.335" stop-color="#8484e7"/><stop offset="0.381" stop-color="#8181e8"/><stop offset="0.44" stop-color="#8f8fe5"/><stop offset="0.499" stop-color="#9393e4"/><stop offset="0.558" stop-color="#8f8fe5"/><stop offset="0.622" stop-color="#8181e8"/><stop offset="0.663" stop-color="#8484e7"/><stop offset="0.998" stop-color="#8585e7"/></linearGradient>
<linearGradient id="c44"><stop offset="0" stop-color="#8686e7"/><stop offset="0.376" stop-color="#8484e7"/><stop offset="0.393" stop-color="#8686e7"/><stop offset="0.44" stop-color="#9191e5"/><stop offset="0.499" stop-color="#9696e4"/><stop offset="0.558" stop-color="#9292e5"/><stop offset="0.622" stop-color="#8484e7"/><stop offset="0.998" stop-color="#8686e7"/></linearGradient>
<linearGradient id="c45"><stop offset="0" stop-color="#8787e7"/><stop offset="0.376" stop-color="#8787e7"/><stop offset="0.446" stop-color="#9595e4"/><stop offset="0.499" stop-color="#9999e3"/><stop offset="0.558" stop-color="#9494e4"/><stop offset="0.622" stop-color="#8787e7"/><stop offset="0.998" stop-color="#8787e7"/></linearGradient>
<linearGradient id="c46"><stop offset="0" stop-color="#8888e6"/><stop offset="0.27" stop-color="#8888e6"/><stop offset="0.376" stop-color="#8a8ae6"/><stop offset="0.446" stop-color="#9797e3"/><stop offset="0.499" stop-color="#9b9be3"/><stop offset="0.552" stop-color="#9898e3"/><stop offset="0.628" stop-color="#8a8ae6"/><stop offset="0.728" stop-color="#8888e6"/><stop offset="0.998" stop-color="#8888e6"/></linearGradient>
<linearGradient id="c47"><stop offset="0" stop-color="#8989e6"/><stop offset="0.311" stop-color="#8a8ae6"/><stop offset="0.381" stop-color="#8d8de5"/><stop offset="0.446" stop-color="#9a9ae3"/><stop offset="0.499" stop-color="#9e9ee2"/><stop offset="0.552" stop-color="#9a9ae3"/><stop offset="0.622" stop-color="#8d8de5"/><stop offset="0.687" stop-color="#8a8ae6"/><stop offset="0.998" stop-color="#8989e6"/></linearGradient>
<linearGradient id="c48"><stop offset="0" stop-color="#8989e6"/><stop offset="0.305" stop-color="#8b8be6"/><stop offset="0.381" stop-color="#9090e5"/><stop offset="0.446" stop-color="#9c9ce2"/><stop offset="0.499" stop-color="#a1a1e2"/><stop offset="0.552" stop-color="#9d9de2"/><stop offset="0.622" stop-color="#9090e5"/><stop offset="0.692" stop-color="#8b8be6"/><stop offset="0.998" stop-color="#8989e6"/></linearGradient>
<linearGradient id="c49"><stop offset="0" stop-color="#8a8ae6"/><stop offset="0.305" stop-color="#8c8ce6"/><stop offset="0.376" stop-color="#9292e5"/><stop offset="0.452" stop-color="#a0a0e2"/><stop offset="0.499" stop-color="#a3a3e1"/><stop offset="0.552" stop-color="#9f9fe2"/><stop offset="0.622" stop-color="#9292e4"/><stop offset="0.698" stop-color="#8c8ce6"/><stop offset="0.998" stop-color="#8a8ae6"/></linearGradient>
<linearGradient id="c50"><stop offset="0" stop-color="#8b8be6"/><stop offset="0.299" stop-color="#8d8de5"/><stop offset="0.376" stop-color="#9494e4"/><stop offset="0.452" stop-color="#a2a2e1"/><stop offset="0.499" stop-color="#a6a6e1"/><stop offset="0.546" stop-color="#a2a2e1"/><stop offset="0.628" stop-color="#9494e4"/><stop offset="0.698" stop-color="#8d8de5"/><stop offset="0.998" stop-color="#8b8be6"/></linearGradient>
<linearGradient id="c51"><stop offset="0" stop-color="#8c8ce6"/><stop offset="0.299" stop-color="#8e8ee5"/><stop offset="0.37" stop-color="#9595e4"/><stop offset="0.458" stop-color="#a6a6e1"/><stop offset="0.499" stop-color="#a9a9e0"/><stop offset="0.546" stop-color="#a5a5e1"/><stop offset="0.634" stop-color="#9595e4"/><stop offset="0.704" stop-color="#8e8ee5"/><stop offset="0.998" stop-color="#8c8ce6"/></linearGradient>
<linearGradient id="c52"><stop offset="0" stop-color="#8d8de5"/><stop offset="0.217" stop-color="#8d8de5"/><stop offset="0.299" stop-color="#9090e5"/><stop offset="0.364" stop-color="#9797e4"/><stop offset="0.458" stop-color="#a8a8e0"/><stop offset="0.499" stop-color="#acacdf"/><stop offset="0.54" stop-color="#a8a8e0"/><stop offset="0.64" stop-color="#9696e4"/><stop offset="0.704" stop-color="#8f8fe5"/><stop offset="0.998" stop-color="#8d8de5"/></linearGradient>
<linearGradient id="c53"><stop offset="0" stop-color="#8e8ee5"/><stop offset="0.217" stop-color="#8e8ee5"/><stop offset="0.299" stop-color="#9191e5"/><stop offset="0.358" stop-color="#9797e3"/><stop offset="0.464" stop-color="#acacdf"/><stop offset="0.499" stop-color="#afafdf"/><stop offset="0.534" stop-color="#acacdf"/><stop offset="0.646" stop-color="#9797e4"/><stop offset="0.704" stop-color="#9191e5"/><stop offset="0.786" stop-color="#8e8ee5"/><stop offset="0.998" stop-color="#8e8ee5"/></linearGradient>
<linearGradient id="c54"><stop offset="0" stop-color="#8f8fe5"/><stop offset="0.217" stop-color="#8f8fe5"/><stop offset="0.299" stop-color="#9292e5"/><stop offset="0.358" stop-color="#9999e3"/><stop offset="0.469" stop-color="#b0b0df"/><stop offset="0.499" stop-color="#b3b3de"/><stop offset="0.528" stop-color="#b0b0df"/><stop offset="0.64" stop-color="#9999e3"/><stop offset="0.704" stop-color="#9292e5"/><stop offset="0.786" stop-color="#8f8fe5"/><stop offset="0.998" stop-color="#8f8fe5"/></linearGradient>
<linearGradient id="c55"><stop offset="0" stop-color="#8f8fe5"/><stop offset="0.217" stop-color="#9090e5"/><stop offset="0.299" stop-color="#9393e4"/><stop offset="0.364" stop-color="#9b9be3"/><stop offset="0.475" stop-color="#b4b4de"/><stop offset="0.499" stop-color="#b7b7dd"/><stop offset="0.522" stop-color="#b5b5de"/><stop offset="0.634" stop-color="#9b9be3"/><stop offset="0.698" stop-color="#9393e4"/><stop offset="0.781" stop-color="#9090e5"/><stop offset="0.998" stop-color="#8f8fe5"/></linearGradient>
<linearGradient id="c56"><stop offset="0" stop-color="#9090e5"/><stop offset="0.223" stop-color="#9191e5"/><stop offset="0.305" stop-color="#9494e4"/><stop offset="0.376" stop-color="#9f9fe2"/><stop offset="0.475" stop-color="#b9b9dd"/><stop offset="0.499" stop-color="#bcbcdc"/><stop offset="0.522" stop-color="#b9b9dd"/><stop offset="0.622" stop-color="#9f9fe2"/><stop offset="0.692" stop-color="#9494e4"/><stop offset="0.775" stop-color="#9191e5"/><stop offset="0.998" stop-color="#9090e5"/></linearGradient>
<linearGradient id="c57"><stop offset="0" stop-color="#9191e5"/><stop offset="0.223" stop-color="#9292e5"/><stop offset="0.311" stop-color="#9696e4"/><stop offset="0.393" stop-color="#a4a4e1"/><stop offset="0.434" stop-color="#afafdf"/><stop offset="0.481" stop-color="#bfbfdc"/><stop offset="0.499" stop-color="#c2c2db"/><stop offset="0.516" stop-color="#c0c0dc"/><stop offset="0.569" stop-color="#aeaedf"/><stop offset="0.61" stop-color="#a3a3e1"/><stop offset="0.692" stop-color="#9595e4"/><stop offset="0.775" stop-color="#9292e5"/><stop offset="0.998" stop-color="#9191e5"/></linearGradient>
<linearGradient id="c58"><stop offset="0" stop-color="#9292e4"/><stop offset="0.229" stop-color="#9393e4"/><stop offset="0.317" stop-color="#9797e3"/><stop offset="0.364" stop-color="#9f9fe2"/><stop offset="0.411" stop-color="#aaaae0"/><stop offset="0.44" stop-color="#b3b3de"/><stop offset="0.481" stop-color="#c5c5db"/><stop offset="0.499" stop-color="#c9c9da"/><stop offset="0.516" stop-color="#c6c6da"/><stop offset="0.563" stop-color="#b2b2de"/><stop offset="0.593" stop-color="#a9a9e0"/><stop offset="0.64" stop-color="#9e9ee2"/><stop offset="0.687" stop-color="#9797e3"/><stop offset="0.775" stop-color="#9292e4"/><stop offset="0.998" stop-color="#9292e4"/></linearGradient>
<linearGradient id="c59"><stop offset="0" stop-color="#9393e4"/><stop offset="0.235" stop-color="#9494e4"/><stop offset="0.323" stop-color="#9999e3"/><stop offset="0.37" stop-color="#a1a1e1"/><stop offset="0.417" stop-color="#adaddf"/><stop offset="0.44" stop-color="#b6b6dd"/><stop offset="0.481" stop-color="#ccccd9"/><stop offset="0.499" stop-color="#d0d0d8"/><stop offset="0.516" stop-color="#cdcdd9"/><stop offset="0.558" stop-color="#b7b7dd"/><stop offset="0.587" stop-color="#acacdf"/><stop offset="0.634" stop-color="#a0a0e2"/><stop offset="0.681" stop-color="#9999e3"/><stop offset="0.769" stop-color="#9393e4"/><stop offset="0.998" stop-color="#9393e4"/></linearGradient>
<linearGradient id="c60"><stop offset="0" stop-color="#9494e4"/><stop offset="0.235" stop-color="#9494e4"/><stop offset="0.323" stop-color="#9a9ae3"/><stop offset="0.37" stop-color="#a2a2e1"/><stop offset="0.417" stop-color="#afafdf"/><stop offset="0.44" stop-color="#b9b9dd"/><stop offset="0.487" stop-color="#d6d6d7"/><stop offset="0.499" stop-color="#d7d5d5"/><stop offset="0.511" stop-color="#d7d7d7"/><stop offset="0.516" stop-color="#d5d5d7"/><stop offset="0.558" stop-color="#babadd"/><stop offset="0.581" stop-color="#b0b0df"/><stop offset="0.628" stop-color="#a3a3e1"/><stop offset="0.675" stop-color="#9b9be3"/><stop offset="0.769" stop-color="#9494e4"/><stop offset="0.998" stop-color="#9494e4"/></linearGradient>
<linearGradient id="c61"><stop offset="0" stop-color="#9595e4"/><stop offset="0.235" stop-color="#9595e4"/><stop offset="0.323" stop-color="#9b9be3"/><stop offset="0.376" stop-color="#a5a5e1"/><stop offset="0.423" stop-color="#b3b3de"/><stop offset="0.446" stop-color="#bfbfdc"/><stop offset="0.475" stop-color="#d7d7d7"/><stop offset="0.487" stop-color="#d9cfcf"/><stop offset="0.499" stop-color="#d9cbcb"/><stop offset="0.511" stop-color="#d9cece"/><stop offset="0.522" stop-color="#d7d5d5"/><stop offset="0.528" stop-color="#d4d4d8"/><stop offset="0.558" stop-color="#bdbddc"/><stop offset="0.581" stop-color="#b1b1de"/><stop offset="0.628" stop-color="#a4a4e1"/><stop offset="0.675" stop-color="#9c9ce3"/><stop offset="0.769" stop-color="#9595e4"/><stop offset="0.998" stop-color="#9595e4"/></linearGradient>
<linearGradient id="c62"><stop offset="0" stop-color="#9595e4"/><stop offset="0.235" stop-color="#9696e4"/><stop offset="0.323" stop-color="#9c9ce2"/><stop offset="0.376" stop-color="#a6a6e1"/><stop offset="0.417" stop-color="#b2b2de"/><stop offset="0.44" stop-color="#bfbfdc"/><stop offset="0.464" stop-color="#d3d3d8"/><stop offset="0.469" stop-color="#d7d5d5"/><stop offset="0.487" stop-color="#dbc5c5"/><stop offset="0.499" stop-color="#dbc0c0"/><stop offset="0.511" stop-color="#dbc4c4"/><stop offset="0.534" stop-color="#d6d6d7"/><stop offset="0.558" stop-color="#c0c0db"/><stop offset="0.581" stop-color="#b3b3de"/><stop offset="0.622" stop-color="#a7a7e0"/><stop offset="0.675" stop-color="#9d9de2"/><stop offset="0.769" stop-color="#9696e4"/><stop offset="0.998" stop-color="#9595e4"/></linearGradient>
<linearGradient id="c63"><stop offset="0" stop-color="#9696e4"/><stop offset="0.235" stop-color="#9797e3"/><stop offset="0.323" stop-color="#9d9de2"/><stop offset="0.376" stop-color="#a7a7e0"/><stop offset="0.417" stop-color="#b4b4de"/><stop offset="0.44" stop-color="#c2c2db"/><stop offset="0.458" stop-color="#d3d3d8"/><stop offset="0.464" stop-color="#d7d5d5"/><stop offset="0.487" stop-color="#ddb9b9"/><stop offset="0.499" stop-color="#deb2b2"/><stop offset="0.511" stop-color="#ddb7b7"/><stop offset="0.534" stop-color="#d8d2d2"/><stop offset="0.54" stop-color="#d5d5d7"/><stop offset="0.558" stop-color="#c3c3db"/><stop offset="0.581" stop-color="#b5b5de"/><stop offset="0.622" stop-color="#a8a8e0"/><stop offset="0.675" stop-color="#9e9ee2"/><stop offset="0.769" stop-color="#9797e3"/><stop offset="0.998" stop-color="#9696e4"/></linearGradient>
<linearGradient id="c64"><stop offset="0" stop-color="#9797e3"/><stop offset="0.235" stop-color="#9898e3"/><stop offset="0.323" stop-color="#9e9ee2"/><stop offset="0.376" stop-color="#a8a8e0"/><stop offset="0.417" stop-color="#b5b5de"/><stop offset="0.44" stop-color="#c4c4db"/><stop offset="0.458" stop-color="#d7d6d6"/><stop offset="0.475" stop-color="#dcbebe"/><stop offset="0.493" stop-color="#e1a2a2"/><stop offset="0.499" stop-color="#e29d9d"/><stop offset="0.505" stop-color="#e29f9f"/><stop offset="0.511" stop-color="#e0a7a7"/><stop offset="0.54" stop-color="#d8d3d3"/><stop offset="0.546" stop-color="#d3d3d8"/><stop offset="0.563" stop-color="#c1c1db"/><stop offset="0.587" stop-color="#b4b4de"/><stop offset="0.628" stop-color="#a8a8e0"/><stop offset="0.681" stop-color="#9e9ee2"/><stop offset="0.769" stop-color="#9898e3"/><stop offset="0.998" stop-color="#9797e3"/></linearGradient>
<linearGradient id="c65"><stop offset="0" stop-color="#8888e6"/><stop offset="0.241" stop-color="#8989e6"/><stop offset="0.293" stop-color="#8c8ce6"/><stop offset="0.335" stop-color="#9191e5"/><stop offset="0.387" stop-color="#9d9de2"/><stop offset="0.423" stop-color="#aaaae0"/><stop offset="0.44" stop-color="#b7b7dd"/><stop offset="0.452" stop-color="#c4c4db"/><stop offset="0.464" stop-color="#d5d5d7"/><stop offset="0.469" stop-color="#d8d0d0"/><stop offset="0.475" stop-color="#dbc5c5"/><stop offset="0.481" stop-color="#ddb7b7"/><stop offset="0.493" stop-color="#e49595"/><stop offset="0.499" stop-color="#e68c8c"/><stop offset="0.505" stop-color="#e59090"/><stop offset="0.522" stop-color="#dcbfbf"/><stop offset="0.534" stop-color="#d7d5d5"/><stop offset="0.558" stop-color="#b9b9dd"/><stop offset="0.581" stop-color="#a8a8e0"/><stop offset="0.616" stop-color="#9c9ce3"/><stop offset="0.663" stop-color="#9191e5"/><stop offset="0.704" stop-color="#8c8ce6"/><stop offset="0.757" stop-color="#8989e6"/><stop offset="0.998" stop-color="#8888e6"/></linearGradient>
<linearGradient id="c66"><stop offset="0" stop-color="#6f6feb"/><stop offset="0.252" stop-color="#7070eb"/><stop offset="0.311" stop-color="#7575ea"/><stop offset="0.358" stop-color="#7d7de9"/><stop offset="0.405" stop-color="#8989e6"/><stop offset="0.428" stop-color="#9595e4"/><stop offset="0.44" stop-color="#9f9fe2"/><stop offset="0.452" stop-color="#aeaedf"/><stop offset="0.464" stop-color="#c0c0dc"/><stop offset="0.475" stop-color="#d7d5d5"/><stop offset="0.481" stop-color="#dcbfbf"/><stop offset="0.493" stop-color="#e78383"/><stop offset="0.499" stop-color="#eb7373"/><stop offset="0.505" stop-color="#e97a7a"/><stop offset="0.511" stop-color="#e49595"/><stop offset="0.516" stop-color="#deb4b4"/><stop offset="0.522" stop-color="#d9cdcd"/><stop offset="0.528" stop-color="#d0d0d8"/><stop offset="0.54" stop-color="#babadd"/><stop offset="0.552" stop-color="#a9a9e0"/><stop offset="0.569" stop-color="#9797e3"/><stop offset="0.593" stop-color="#8a8ae6"/><stop offset="0.634" stop-color="#7e7ee8"/><stop offset="0.681" stop-color="#7676ea"/><stop offset="0.769" stop-color="#7070eb"/><stop offset="0.998" stop-color="#6f6feb"/></linearGradient>
<linearGradient id="c67"><stop offset="0" stop-color="#6c6cec"/><stop offset="0.241" stop-color="#6d6dec"/><stop offset="0.293" stop-color="#6f6feb"/><stop offset="0.34" stop-color="#7676ea"/><stop offset="0.393" stop-color="#8282e8"/><stop offset="0.423" stop-color="#8e8ee5"/><stop offset="0.434" stop-color="#9797e3"/><stop offset="0.446" stop-color="#a4a4e1"/><stop offset="0.464" stop-color="#bfbfdc"/><stop offset="0.469" stop-color="#ccccd9"/><stop offset="0.475" stop-color="#d8cfcf"/><stop offset="0.481" stop-color="#dfb1b1"/><stop offset="0.487" stop-color="#e78383"/><stop offset="0.493" stop-color="#f15252"/><stop offset="0.499" stop-color="#f63737"/><stop offset="0.505" stop-color="#f44444"/><stop offset="0.511" stop-color="#eb6f6f"/><stop offset="0.516" stop-color="#e2a0a0"/><stop offset="0.522" stop-color="#dbc5c5"/><stop offset="0.528" stop-color="#d2d2d8"/><stop offset="0.534" stop-color="#c4c4db"/><stop offset="0.546" stop-color="#b0b0df"/><stop offset="0.558" stop-color="#a0a0e2"/><stop offset="0.569" stop-color="#9494e4"/><stop offset="0.593" stop-color="#8787e7"/><stop offset="0.64" stop-color="#7a7ae9"/><stop offset="0.687" stop-color="#7272eb"/><stop offset="0.745" stop-color="#6d6dec"/><stop offset="0.998" stop-color="#6c6cec"/></linearGradient>
<linearGradient id="c68"><stop offset="0" stop-color="#6868ed"/><stop offset="0.241" stop-color="#6969ec"/><stop offset="0.293" stop-color="#6c6cec"/><stop offset="0.34" stop-color="#7272eb"/><stop offset="0.393" stop-color="#7f7fe8"/><stop offset="0.423" stop-color="#8b8be6"/><stop offset="0.434" stop-color="#9494e4"/><stop offset="0.446" stop-color="#a1a1e1"/><stop offset="0.464" stop-color="#bebedc"/><stop offset="0.469" stop-color="#ccccd9"/><stop offset="0.475" stop-color="#d9cccc"/><stop offset="0.481" stop-color="#e1a5a5"/><stop offset="0.487" stop-color="#ed6868"/><stop offset="0.493" stop-color="#f92727"/><stop offset="0.499" stop-color="#fb0a0a"/><stop offset="0.505" stop-color="#fd1313"/><stop offset="0.511" stop-color="#f24d4d"/><stop offset="0.516" stop-color="#e58f8f"/><stop offset="0.522" stop-color="#dcbfbf"/><stop offset="0.528" stop-color="#d3d3d8"/><stop offset="0.534" stop-color="#c3c3db"/><stop offset="0.546" stop-color="#adaddf"/><stop offset="0.558" stop-color="#9d9de2"/><stop offset="0.569" stop-color="#9191e5"/><stop offset="0.593" stop-color="#8484e7"/><stop offset="0.64" stop-color="#7676ea"/><stop offset="0.687" stop-color="#6e6eeb"/><stop offset="0.745" stop-color="#6a6aec"/><stop offset="0.998" stop-color="#6868ed"/></linearGradient>
<linearGradient id="c69"><stop offset="0" stop-color="#6565ed"/><stop offset="0.241" stop-color="#6666ed"/><stop offset="0.293" stop-color="#6969ec"/><stop offset="0.34" stop-color="#6f6feb"/><stop offset="0.393" stop-color="#7c7ce9"/><stop offset="0.423" stop-color="#8888e6"/><stop offset="0.434" stop-color="#9191e5"/><stop offset="0.446" stop-color="#9f9fe2"/><stop offset="0.464" stop-color="#bbbbdc"/><stop offset="0.469" stop-color="#cacada"/><stop offset="0.475" stop-color="#d9cccc"/><stop offset="0.481" stop-color="#e2a1a1"/><stop offset="0.487" stop-color="#ef5e5e"/><stop offset="0.493" stop-color="#fd1515"/><stop offset="0.499" stop-color="#ee0909"/><stop offset="0.505" stop-color="#f90909"/><stop offset="0.511" stop-color="#f44040"/><stop offset="0.516" stop-color="#e68989"/><stop offset="0.522" stop-color="#dcbebe"/><stop offset="0.528" stop-color="#d2d2d8"/><stop offset="0.534" stop-color="#c0c0db"/><stop offset="0.546" stop-color="#aaaae0"/><stop offset="0.558" stop-color="#9a9ae3"/><stop offset="0.569" stop-color="#8e8ee5"/><stop offset="0.593" stop-color="#8181e8"/><stop offset="0.64" stop-color="#7373ea"/><stop offset="0.687" stop-color="#6b6bec"/><stop offset="0.745" stop-color="#6767ed"/><stop offset="0.998" stop-color="#6565ed"/></linearGradient>
<linearGradient id="c70"><stop offset="0" stop-color="#6565ed"/><stop offset="0.241" stop-color="#6666ed"/><stop offset="0.293" stop-color="#6969ed"/><stop offset="0.34" stop-color="#6f6feb"/><stop offset="0.393" stop-color="#7c7ce9"/><stop offset="0.423" stop-color="#8888e6"/><stop offset="0.434" stop-color="#9191e5"/><stop offset="0.446" stop-color="#9e9ee2"/><stop offset="0.464" stop-color="#babadd"/><stop offset="0.469" stop-color="#c7c7da"/><stop offset="0.475" stop-color="#d8d0d0"/><stop offset="0.481" stop-color="#e0a8a8"/><stop offset="0.487" stop-color="#ec6969"/><stop offset="0.493" stop-color="#fa2626"/><stop offset="0.499" stop-color="#f90909"/><stop offset="0.505" stop-color="#fe1111"/><stop offset="0.511" stop-color="#f24d4d"/><stop offset="0.516" stop-color="#e59191"/><stop offset="0.522" stop-color="#dbc2c2"/><stop offset="0.528" stop-color="#cfcfd9"/><stop offset="0.534" stop-color="#bebedc"/><stop offset="0.54" stop-color="#b3b3de"/><stop offset="0.552" stop-color="#a1a1e2"/><stop offset="0.563" stop-color="#9393e4"/><stop offset="0.575" stop-color="#8989e6"/><stop offset="0.604" stop-color="#7c7ce9"/><stop offset="0.657" stop-color="#6f6feb"/><stop offset="0.704" stop-color="#6969ec"/><stop offset="0.757" stop-color="#6666ed"/><stop offset="0.998" stop-color="#6565ed"/></linearGradient>
<linearGradient id="c71"><stop offset="0" stop-color="#6565ed"/><stop offset="0.258" stop-color="#6666ed"/><stop offset="0.317" stop-color="#6b6bec"/><stop offset="0.37" stop-color="#7575ea"/><stop offset="0.411" stop-color="#8181e8"/><stop offset="0.434" stop-color="#9090e5"/><stop offset="0.452" stop-color="#a4a4e1"/><stop offset="0.464" stop-color="#b6b6dd"/><stop offset="0.469" stop-color="#c3c3db"/><stop offset="0.475" stop-color="#d6d6d7"/><stop offset="0.481" stop-color="#ddb8b8"/><stop offset="0.487" stop-color="#e78787"/><stop offset="0.493" stop-color="#f15353"/><stop offset="0.499" stop-color="#f63636"/><stop offset="0.505" stop-color="#f44343"/><stop offset="0.511" stop-color="#eb7272"/><stop offset="0.516" stop-color="#e1a6a6"/><stop offset="0.522" stop-color="#d9cdcd"/><stop offset="0.528" stop-color="#c9c9da"/><stop offset="0.534" stop-color="#bbbbdc"/><stop offset="0.552" stop-color="#9f9fe2"/><stop offset="0.563" stop-color="#9292e4"/><stop offset="0.575" stop-color="#8989e6"/><stop offset="0.604" stop-color="#7c7ce9"/><stop offset="0.657" stop-color="#6f6feb"/><stop offset="0.704" stop-color="#6868ed"/><stop offset="0.757" stop-color="#6666ed"/><stop offset="0.998" stop-color="#6565ed"/></linearGradient>
<linearGradient id="c72"><stop offset="0" stop-color="#6464ed"/><stop offset="0.223" stop-color="#6565ed"/><stop offset="0.311" stop-color="#6a6aec"/><stop offset="0.358" stop-color="#7272eb"/><stop offset="0.405" stop-color="#7e7ee8"/><stop offset="0.428" stop-color="#8a8ae6"/><stop offset="0.446" stop-color="#9a9ae3"/><stop offset="0.464" stop-color="#b2b2de"/><stop offset="0.469" stop-color="#bdbddc"/><stop offset="0.475" stop-color="#ccccd9"/><stop offset="0.481" stop-color="#d9cccc"/><stop offset="0.493" stop-color="#e68a8a"/><stop offset="0.499" stop-color="#ea7878"/><stop offset="0.505" stop-color="#e88080"/><stop offset="0.511" stop-color="#e29e9e"/><stop offset="0.516" stop-color="#dbc0c0"/><stop offset="0.522" stop-color="#d3d3d8"/><stop offset="0.528" stop-color="#c2c2db"/><stop offset="0.534" stop-color="#b6b6dd"/><stop offset="0.552" stop-color="#9d9de2"/><stop offset="0.569" stop-color="#8c8ce6"/><stop offset="0.593" stop-color="#7f7fe8"/><stop offset="0.64" stop-color="#7272eb"/><stop offset="0.687" stop-color="#6a6aec"/><stop offset="0.775" stop-color="#6565ed"/><stop offset="0.998" stop-color="#6464ed"/></linearGradient>
<linearGradient id="c73"><stop offset="0" stop-color="#6464ed"/><stop offset="0.264" stop-color="#6565ed"/><stop offset="0.323" stop-color="#6b6bec"/><stop offset="0.376" stop-color="#7575ea"/><stop offset="0.417" stop-color="#8282e8"/><stop offset="0.44" stop-color="#9292e5"/><stop offset="0.464" stop-color="#adaddf"/><stop offset="0.475" stop-color="#c1c1db"/><stop offset="0.481" stop-color="#d0d0d8"/><stop offset="0.487" stop-color="#d9cccc"/><stop offset="0.493" stop-color="#ddb9b9"/><stop offset="0.499" stop-color="#dfafaf"/><stop offset="0.505" stop-color="#deb4b4"/><stop offset="0.516" stop-color="#d7d7d7"/><stop offset="0.522" stop-color="#c6c6da"/><stop offset="0.534" stop-color="#b1b1de"/><stop offset="0.552" stop-color="#9a9ae3"/><stop offset="0.563" stop-color="#8f8fe5"/><stop offset="0.587" stop-color="#8181e8"/><stop offset="0.628" stop-color="#7474ea"/><stop offset="0.681" stop-color="#6a6aec"/><stop offset="0.739" stop-color="#6565ed"/><stop offset="0.998" stop-color="#6464ed"/></linearGradient>
<linearGradient id="c74"><stop offset="0" stop-color="#3d3df5"/><stop offset="0.258" stop-color="#3f3ff5"/><stop offset="0.317" stop-color="#4343f4"/><stop offset="0.37" stop-color="#4d4df2"/><stop offset="0.417" stop-color="#5b5bef"/><stop offset="0.44" stop-color="#6969ec"/><stop offset="0.464" stop-color="#8282e8"/><stop offset="0.475" stop-color="#9292e5"/><stop offset="0.493" stop-color="#afafdf"/><stop offset="0.499" stop-color="#b4b4de"/><stop offset="0.505" stop-color="#b1b1de"/><stop offset="0.522" stop-color="#9595e4"/><stop offset="0.54" stop-color="#7e7ee8"/><stop offset="0.563" stop-color="#6767ed"/><stop offset="0.587" stop-color="#5a5aef"/><stop offset="0.628" stop-color="#4e4ef2"/><stop offset="0.681" stop-color="#4444f4"/><stop offset="0.739" stop-color="#3f3ff5"/><stop offset="0.998" stop-color="#3d3df5"/></linearGradient>
<linearGradient id="c75"><stop offset="0" stop-color="#7575ea"/><stop offset="0.252" stop-color="#7676ea"/><stop offset="0.305" stop-color="#7979e9"/><stop offset="0.352" stop-color="#8080e8"/><stop offset="0.399" stop-color="#8c8ce6"/><stop offset="0.428" stop-color="#9797e4"/><stop offset="0.446" stop-color="#a3a3e1"/><stop offset="0.487" stop-color="#ccccd9"/><stop offset="0.499" stop-color="#d4d4d8"/><stop offset="0.511" stop-color="#cfcfd9"/><stop offset="0.546" stop-color="#aaaae0"/><stop offset="0.569" stop-color="#9898e3"/><stop offset="0.599" stop-color="#8c8ce6"/><stop offset="0.651" stop-color="#8080e8"/><stop offset="0.698" stop-color="#7979e9"/><stop offset="0.751" stop-color="#7676ea"/><stop offset="0.998" stop-color="#7575ea"/></linearGradient>
<linearGradient id="c76"><stop offset="0" stop-color="#7878ea"/><stop offset="0.241" stop-color="#7979e9"/><stop offset="0.293" stop-color="#7b7be9"/><stop offset="0.34" stop-color="#8080e8"/><stop offset="0.393" stop-color="#8b8be6"/><stop offset="0.428" stop-color="#9696e4"/><stop offset="0.446" stop-color="#a0a0e2"/><stop offset="0.487" stop-color="#c1c1db"/><stop offset="0.499" stop-color="#c6c6da"/><stop offset="0.505" stop-color="#c5c5db"/><stop offset="0.516" stop-color="#bfbfdc"/><stop offset="0.552" stop-color="#a2a2e1"/><stop offset="0.575" stop-color="#9595e4"/><stop offset="0.61" stop-color="#8a8ae6"/><stop offset="0.657" stop-color="#8181e8"/><stop offset="0.704" stop-color="#7b7be9"/><stop offset="0.757" stop-color="#7979e9"/><stop offset="0.998" stop-color="#7878ea"/></linearGradient>
<linearGradient id="c77"><stop offset="0" stop-color="#7474ea"/><stop offset="0.246" stop-color="#7474ea"/><stop offset="0.346" stop-color="#7c7ce9"/><stop offset="0.393" stop-color="#8484e7"/><stop offset="0.423" stop-color="#8d8de5"/><stop offset="0.446" stop-color="#9a9ae3"/><stop offset="0.481" stop-color="#b4b4de"/><stop offset="0.499" stop-color="#bbbbdd"/><stop offset="0.516" stop-color="#b6b6de"/><stop offset="0.552" stop-color="#9b9be3"/><stop offset="0.575" stop-color="#8e8ee5"/><stop offset="0.604" stop-color="#8585e7"/><stop offset="0.651" stop-color="#7c7ce9"/><stop offset="0.751" stop-color="#7474ea"/><stop offset="0.998" stop-color="#7474ea"/></linearGradient>
<linearGradient id="c78"><stop offset="0" stop-color="#6b6bec"/><stop offset="0.252" stop-color="#6b6bec"/><stop offset="0.352" stop-color="#7272eb"/><stop offset="0.387" stop-color="#7979e9"/><stop offset="0.417" stop-color="#8383e7"/><stop offset="0.44" stop-color="#9191e5"/><stop offset="0.481" stop-color="#b0b0df"/><stop offset="0.499" stop-color="#b6b6dd"/><stop offset="0.516" stop-color="#b2b2de"/><stop offset="0.558" stop-color="#9292e4"/><stop offset="0.581" stop-color="#8484e7"/><stop offset="0.61" stop-color="#7a7ae9"/><stop offset="0.646" stop-color="#7272eb"/><stop offset="0.745" stop-color="#6b6bec"/><stop offset="0.998" stop-color="#6b6bec"/></linearGradient>
<linearGradient id="c79"><stop offset="0" stop-color="#6262ee"/><stop offset="0.264" stop-color="#6363ee"/><stop offset="0.358" stop-color="#6969ec"/><stop offset="0.387" stop-color="#7070eb"/><stop offset="0.417" stop-color="#7b7be9"/><stop offset="0.44" stop-color="#8989e6"/><stop offset="0.475" stop-color="#a4a4e1"/><stop offset="0.487" stop-color="#ababe0"/><stop offset="0.499" stop-color="#adaddf"/><stop offset="0.511" stop-color="#ababe0"/><stop offset="0.522" stop-color="#a6a6e1"/><stop offset="0.563" stop-color="#8787e7"/><stop offset="0.587" stop-color="#7979e9"/><stop offset="0.616" stop-color="#6f6feb"/><stop offset="0.646" stop-color="#6969ed"/><stop offset="0.739" stop-color="#6363ee"/><stop offset="0.998" stop-color="#6262ee"/></linearGradient>
<linearGradient id="c80"><stop offset="0" stop-color="#5959ef"/><stop offset="0.264" stop-color="#5a5aef"/><stop offset="0.352" stop-color="#5f5fef"/><stop offset="0.381" stop-color="#6464ed"/><stop offset="0.411" stop-color="#6d6dec"/><stop offset="0.434" stop-color="#7979e9"/><stop offset="0.475" stop-color="#9393e4"/><stop offset="0.499" stop-color="#9a9ae3"/><stop offset="0.522" stop-color="#9494e4"/><stop offset="0.569" stop-color="#7777ea"/><stop offset="0.593" stop-color="#6c6cec"/><stop offset="0.616" stop-color="#6464ed"/><stop offset="0.646" stop-color="#5f5fee"/><stop offset="0.734" stop-color="#5a5aef"/><stop offset="0.998" stop-color="#5959ef"/></linearGradient>
<linearGradient id="c81"><stop offset="0" stop-color="#5050f1"/><stop offset="0.27" stop-color="#5151f1"/><stop offset="0.352" stop-color="#5555f0"/><stop offset="0.405" stop-color="#6161ee"/><stop offset="0.428" stop-color="#6a6aec"/><stop offset="0.475" stop-color="#8383e7"/><stop offset="0.499" stop-color="#8989e6"/><stop offset="0.522" stop-color="#8484e7"/><stop offset="0.569" stop-color="#6c6cec"/><stop offset="0.599" stop-color="#5f5fee"/><stop offset="0.651" stop-color="#5454f1"/><stop offset="0.734" stop-color="#5151f1"/><stop offset="0.998" stop-color="#5050f1"/></linearGradient>
<linearGradient id="c82"><stop offset="0" stop-color="#4545f3"/><stop offset="0.27" stop-color="#4545f3"/><stop offset="0.346" stop-color="#4848f3"/><stop offset="0.399" stop-color="#5353f1"/><stop offset="0.475" stop-color="#7373eb"/><stop offset="0.499" stop-color="#7777ea"/><stop offset="0.522" stop-color="#7373ea"/><stop offset="0.599" stop-color="#5353f1"/><stop offset="0.651" stop-color="#4949f3"/><stop offset="0.728" stop-color="#4545f3"/><stop offset="0.998" stop-color="#4545f3"/></linearGradient>
<linearGradient id="c83"><stop offset="0" stop-color="#3a3af6"/><stop offset="0.27" stop-color="#3a3af6"/><stop offset="0.34" stop-color="#3c3cf5"/><stop offset="0.393" stop-color="#4545f3"/><stop offset="0.469" stop-color="#6262ee"/><stop offset="0.499" stop-color="#6868ed"/><stop offset="0.528" stop-color="#6363ee"/><stop offset="0.61" stop-color="#4545f4"/><stop offset="0.657" stop-color="#3c3cf5"/><stop offset="0.728" stop-color="#3a3af6"/><stop offset="0.998" stop-color="#3a3af6"/></linearGradient>
<linearGradient id="c84"><stop offset="0" stop-color="#2e2ef8"/><stop offset="0.264" stop-color="#2f2ff8"/><stop offset="0.335" stop-color="#3131f7"/><stop offset="0.387" stop-color="#3939f6"/><stop offset="0.469" stop-color="#5555f0"/><stop offset="0.499" stop-color="#5a5aef"/><stop offset="0.528" stop-color="#5555f0"/><stop offset="0.616" stop-color="#3838f6"/><stop offset="0.663" stop-color="#3131f7"/><stop offset="0.734" stop-color="#2f2ff8"/><stop offset="0.998" stop-color="#2e2ef8"/></linearGradient>
<linearGradient id="c85"><stop offset="0" stop-color="#2424fa"/><stop offset="0.264" stop-color="#2525fa"/><stop offset="0.335" stop-color="#2727f9"/><stop offset="0.381" stop-color="#2e2ef8"/><stop offset="0.469" stop-color="#4a4af3"/><stop offset="0.499" stop-color="#4e4ef2"/><stop offset="0.534" stop-color="#4949f3"/><stop offset="0.622" stop-color="#2e2ef8"/><stop offset="0.669" stop-color="#2727f9"/><stop offset="0.739" stop-color="#2525fa"/><stop offset="0.998" stop-color="#2424fa"/></linearGradient>
<linearGradient id="c86"><stop offset="0" stop-color="#1b1bfc"/><stop offset="0.258" stop-color="#1b1bfc"/><stop offset="0.329" stop-color="#1d1dfb"/><stop offset="0.376" stop-color="#2424fa"/><stop offset="0.464" stop-color="#3d3df5"/><stop offset="0.499" stop-color="#4242f4"/><stop offset="0.534" stop-color="#3e3ef5"/><stop offset="0.622" stop-color="#2424fa"/><stop offset="0.675" stop-color="#1d1dfb"/><stop offset="0.745" stop-color="#1b1bfc"/><stop offset="0.998" stop-color="#1b1bfc"/></linearGradient>
<linearGradient id="c87"><stop offset="0" stop-color="#1212fd"/><stop offset="0.252" stop-color="#1212fd"/><stop offset="0.323" stop-color="#1515fd"/><stop offset="0.37" stop-color="#1b1bfc"/><stop offset="0.464" stop-color="#3333f7"/><stop offset="0.499" stop-color="#3838f6"/><stop offset="0.534" stop-color="#3434f7"/><stop offset="0.628" stop-color="#1b1bfc"/><stop offset="0.681" stop-color="#1414fd"/><stop offset="0.751" stop-color="#1212fd"/><stop offset="0.998" stop-color="#1212fd"/></linearGradient>
<linearGradient id="c88"><stop offset="0" stop-color="#1010fe"/><stop offset="0.246" stop-color="#1111fe"/><stop offset="0.317" stop-color="#1313fd"/><stop offset="0.37" stop-color="#1919fc"/><stop offset="0.458" stop-color="#2e2ef8"/><stop offset="0.499" stop-color="#3333f7"/><stop offset="0.534" stop-color="#3030f8"/><stop offset="0.622" stop-color="#1b1bfc"/><stop offset="0.681" stop-color="#1313fd"/><stop offset="0.757" stop-color="#1111fe"/><stop offset="0.998" stop-color="#1010fe"/></linearGradient>
<linearGradient id="c89"><stop offset="0" stop-color="#0f0ffe"/><stop offset="0.311" stop-color="#1111fe"/><stop offset="0.364" stop-color="#1717fd"/><stop offset="0.458" stop-color="#2a2af9"/><stop offset="0.499" stop-color="#2e2ef8"/><stop offset="0.534" stop-color="#2c2cf8"/><stop offset="0.628" stop-color="#1818fc"/><stop offset="0.687" stop-color="#1111fe"/><stop offset="0.998" stop-color="#0f0ffe"/></linearGradient>
<linearGradient id="c90"><stop offset="0" stop-color="#0d0dfe"/><stop offset="0.305" stop-color="#0f0ffe"/><stop offset="0.358" stop-color="#1414fd"/><stop offset="0.458" stop-color="#2626fa"/><stop offset="0.499" stop-color="#2929f9"/><stop offset="0.54" stop-color="#2626fa"/><stop offset="0.634" stop-color="#1515fd"/><stop offset="0.692" stop-color="#0f0ffe"/><stop offset="0.998" stop-color="#0d0dfe"/></linearGradient>
<linearGradient id="c91"><stop offset="0" stop-color="#0b0bff"/><stop offset="0.305" stop-color="#0d0dfe"/><stop offset="0.364" stop-color="#1212fd"/><stop offset="0.458" stop-color="#2020fb"/><stop offset="0.499" stop-color="#2323fa"/><stop offset="0.54" stop-color="#2121fb"/><stop offset="0.64" stop-color="#1212fd"/><stop offset="0.698" stop-color="#0d0dfe"/><stop offset="0.998" stop-color="#0b0bff"/></linearGradient>
<linearGradient id="c92"><stop offset="0" stop-color="#0a0aff"/><stop offset="0.299" stop-color="#0c0cff"/><stop offset="0.358" stop-color="#1010fe"/><stop offset="0.458" stop-color="#1c1cfc"/><stop offset="0.499" stop-color="#1e1efb"/><stop offset="0.54" stop-color="#1c1cfc"/><stop offset="0.64" stop-color="#1010fe"/><stop offset="0.704" stop-color="#0b0bff"/><stop offset="0.998" stop-color="#0a0aff"/></linearGradient>
<linearGradient id="c93"><stop offset="0" stop-color="#0a0aff"/><stop offset="0.293" stop-color="#0b0bff"/><stop offset="0.499" stop-color="#1a1afc"/><stop offset="0.704" stop-color="#0b0bff"/><stop offset="0.998" stop-color="#0a0aff"/></linearGradient>
<linearGradient id="c94"><stop offset="0" stop-color="#0a0aff"/><stop offset="0.288" stop-color="#0b0bff"/><stop offset="0.499" stop-color="#1616fd"/><stop offset="0.71" stop-color="#0b0bff"/><stop offset="0.998" stop-color="#0a0aff"/></linearGradient>
<linearGradient id="c95"><stop offset="0" stop-color="#0a0aff"/><stop offset="0.288" stop-color="#0b0bff"/><stop offset="0.499" stop-color="#1212fd"/><stop offset="0.716" stop-color="#0b0bff"/><stop offset="0.998" stop-color="#0a0aff"/></linearGradient>
<linearGradient id="c96"><stop offset="0" stop-color="#0a0aff"/><stop offset="0.282" stop-color="#0a0aff"/><stop offset="0.499" stop-color="#0f0ffe"/><stop offset="0.722" stop-color="#0a0aff"/><stop offset="0.998" stop-color="#0a0aff"/></linearGradient>
<linearGradient id="c97"><stop offset="0" stop-color="#0b0bff"/><stop offset="0.499" stop-color="#0e0efe"/><stop offset="0.998" stop-color="#0b0bff"/></linearGradient>
<linearGradient id="c98"><stop offset="0" stop-color="#1212fd"/><stop offset="0.998" stop-color="#1212fd"/></linearGradient>
<linearGradient id="c99"><stop offset="0" stop-color="#1717fc"/><stop offset="0.998" stop-color="#1717fc"/></linearGradient>
<linearGradient id="c100"><stop offset="0" stop-color="#1717fc"/><stop offset="0.998" stop-color="#1717fc"/></linearGradient>
<linearGradient id="c101"><stop offset="0" stop-color="#1717fc"/><stop offset="0.998" stop-color="#1717fc"/></linearGradient>
<linearGradient id="c102"><stop offset="0" stop-color="#1818fc"/><stop offset="0.998" stop-color="#1818fc"/></linearGradient>
<linearGradient id="c103"><stop offset="0" stop-color="#1818fc"/><stop offset="0.998" stop-color="#1818fc"/></linearGradient>
<linearGradient id="c104"><stop offset="0" stop-color="#1818fc"/><stop offset="0.446" stop-color="#1616fd"/><stop offset="0.998" stop-color="#1818fc"/></linearGradient>
<linearGradient id="c105"><stop offset="0" stop-color="#1919fc"/><stop offset="0.352" stop-color="#1818fc"/><stop offset="0.446" stop-color="#1515fd"/><stop offset="0.499" stop-color="#1717fd"/><stop offset="0.558" stop-color="#1515fd"/><stop offset="0.657" stop-color="#1818fc"/><stop offset="0.998" stop-color="#1919fc"/></linearGradient>
<linearGradient id="c106"><stop offset="0" stop-color="#1919fc"/><stop offset="0.358" stop-color="#1818fc"/><stop offset="0.446" stop-color="#1414fd"/><stop offset="0.499" stop-color="#1616fd"/><stop offset="0.558" stop-color="#1414fd"/><stop offset="0.599" stop-color="#1717fc"/><stop offset="0.657" stop-color="#1818fc"/><stop offset="0.998" stop-color="#1919fc"/></linearGradient>
<linearGradient id="c107"><stop offset="0" stop-color="#1919fc"/><stop offset="0.364" stop-color="#1818fc"/><stop offset="0.405" stop-color="#1717fc"/><stop offset="0.446" stop-color="#1212fd"/><stop offset="0.499" stop-color="#1616fd"/><stop offset="0.558" stop-color="#1212fd"/><stop offset="0.599" stop-color="#1717fc"/><stop offset="0.651" stop-color="#1919fc"/><stop offset="0.998" stop-color="#1919fc"/></linearGradient>
<linearGradient id="c108"><stop offset="0" stop-color="#1919fc"/><stop offset="0.364" stop-color="#1818fc"/><stop offset="0.405" stop-color="#1717fc"/><stop offset="0.446" stop-color="#1111fe"/><stop offset="0.499" stop-color="#1616fd"/><stop offset="0.558" stop-color="#1111fe"/><stop offset="0.599" stop-color="#1717fc"/><stop offset="0.651" stop-color="#1919fc"/><stop offset="0.998" stop-color="#1919fc"/></linearGradient>
<linearGradient id="c109"><stop offset="0" stop-color="#1a1afc"/><stop offset="0.37" stop-color="#1818fc"/><stop offset="0.405" stop-color="#1616fd"/><stop offset="0.446" stop-color="#0f0ffe"/><stop offset="0.499" stop-color="#1515fd"/><stop offset="0.558" stop-color="#0f0ffe"/><stop offset="0.599" stop-color="#1717fc"/><stop offset="0.646" stop-color="#1919fc"/><stop offset="0.998" stop-color="#1a1afc"/></linearGradient>
<linearGradient id="c110"><stop offset="0" stop-color="#1a1afc"/><stop offset="0.37" stop-color="#1818fc"/><stop offset="0.405" stop-color="#1616fd"/><stop offset="0.446" stop-color="#0c0cff"/><stop offset="0.481" stop-color="#1313fd"/><stop offset="0.499" stop-color="#1414fd"/><stop offset="0.558" stop-color="#0d0dff"/><stop offset="0.599" stop-color="#1717fd"/><stop offset="0.646" stop-color="#1919fc"/><stop offset="0.998" stop-color="#1a1afc"/></linearGradient>
<linearGradient id="c111"><stop offset="0" stop-color="#1a1afc"/><stop offset="0.37" stop-color="#1818fc"/><stop offset="0.405" stop-color="#1616fd"/><stop offset="0.446" stop-color="#0a0aff"/><stop offset="0.481" stop-color="#1212fd"/><stop offset="0.499" stop-color="#1414fd"/><stop offset="0.522" stop-color="#1212fd"/><stop offset="0.558" stop-color="#0a0aff"/><stop offset="0.599" stop-color="#1616fd"/><stop offset="0.646" stop-color="#1919fc"/><stop offset="0.998" stop-color="#1a1afc"/></linearGradient>
<linearGradient id="c112"><stop offset="0" stop-color="#1b1bfc"/><stop offset="0.364" stop-color="#1919fc"/><stop offset="0.405" stop-color="#1515fd"/><stop offset="0.434" stop-color="#0a0aff"/><stop offset="0.446" stop-color="#0a0afe"/><stop offset="0.458" stop-color="#0a0aff"/><stop offset="0.481" stop-color="#1212fe"/><stop offset="0.499" stop-color="#1313fd"/><stop offset="0.522" stop-color="#1111fe"/><stop offset="0.546" stop-color="#0a0aff"/><stop offset="0.563" stop-color="#0a0aff"/><stop offset="0.599" stop-color="#1616fd"/><stop offset="0.651" stop-color="#1919fc"/><stop offset="0.998" stop-color="#1b1bfc"/></linearGradient>
<linearGradient id="c113"><stop offset="0" stop-color="#1b1bfc"/><stop offset="0.352" stop-color="#1919fc"/><stop offset="0.399" stop-color="#1616fd"/><stop offset="0.411" stop-color="#1313fd"/><stop offset="0.428" stop-color="#0b0bff"/><stop offset="0.446" stop-color="#0a0afd"/><stop offset="0.464" stop-color="#0a0aff"/><stop offset="0.481" stop-color="#1111fe"/><stop offset="0.499" stop-color="#1212fd"/><stop offset="0.516" stop-color="#1111fe"/><stop offset="0.54" stop-color="#0a0aff"/><stop offset="0.558" stop-color="#0a0afd"/><stop offset="0.569" stop-color="#0a0aff"/><stop offset="0.599" stop-color="#1515fd"/><stop offset="0.663" stop-color="#1a1afc"/><stop offset="0.998" stop-color="#1b1bfc"/></linearGradient>
<linearGradient id="c114"><stop offset="0" stop-color="#1b1bfc"/><stop offset="0.346" stop-color="#1919fc"/><stop offset="0.399" stop-color="#1515fd"/><stop offset="0.428" stop-color="#0a0afe"/><stop offset="0.446" stop-color="#0a0afc"/><stop offset="0.464" stop-color="#0a0afe"/><stop offset="0.481" stop-color="#0f0ffe"/><stop offset="0.499" stop-color="#1111fe"/><stop offset="0.516" stop-color="#1010fe"/><stop offset="0.534" stop-color="#0a0aff"/><stop offset="0.552" stop-color="#0a0afc"/><stop offset="0.569" stop-color="#0a0afe"/><stop offset="0.604" stop-color="#1616fd"/><stop offset="0.669" stop-color="#1a1afc"/><stop offset="0.998" stop-color="#1b1bfc"/></linearGradient>
<linearGradient id="c115"><stop offset="0" stop-color="#1b1bfc"/><stop offset="0.34" stop-color="#1919fc"/><stop offset="0.393" stop-color="#1616fd"/><stop offset="0.411" stop-color="#1111fe"/><stop offset="0.423" stop-color="#0a0aff"/><stop offset="0.446" stop-color="#0a0afa"/><stop offset="0.469" stop-color="#0a0aff"/><stop offset="0.499" stop-color="#1010fe"/><stop offset="0.516" stop-color="#0f0ffe"/><stop offset="0.528" stop-color="#0b0bff"/><stop offset="0.558" stop-color="#0a0afa"/><stop offset="0.575" stop-color="#0a0afe"/><stop offset="0.604" stop-color="#1515fd"/><stop offset="0.675" stop-color="#1a1afc"/><stop offset="0.998" stop-color="#1b1bfc"/></linearGradient>
<linearGradient id="c116"><stop offset="0" stop-color="#1b1bfc"/><stop offset="0.329" stop-color="#1919fc"/><stop offset="0.393" stop-color="#1515fd"/><stop offset="0.417" stop-color="#0c0cff"/><stop offset="0.423" stop-color="#0a0afe"/><stop offset="0.446" stop-color="#0909f9"/><stop offset="0.475" stop-color="#0a0aff"/><stop offset="0.499" stop-color="#0f0ffe"/><stop offset="0.528" stop-color="#0a0afe"/><stop offset="0.552" stop-color="#0909f9"/><stop offset="0.575" stop-color="#0a0afd"/><stop offset="0.599" stop-color="#1313fd"/><stop offset="0.61" stop-color="#1515fd"/><stop offset="0.681" stop-color="#1919fc"/><stop offset="0.998" stop-color="#1b1bfc"/></linearGradient>
<linearGradient id="c117"><stop offset="0" stop-color="#1b1bfc"/><stop offset="0.323" stop-color="#1919fc"/><stop offset="0.393" stop-color="#1414fd"/><stop offset="0.405" stop-color="#1111fe"/><stop offset="0.417" stop-color="#0b0bff"/><stop offset="0.446" stop-color="#0909f8"/><stop offset="0.481" stop-color="#0b0bff"/><stop offset="0.499" stop-color="#0e0efe"/><stop offset="0.522" stop-color="#0a0aff"/><stop offset="0.558" stop-color="#0909f8"/><stop offset="0.581" stop-color="#0a0aff"/><stop offset="0.599" stop-color="#1212fd"/><stop offset="0.61" stop-color="#1515fd"/><stop offset="0.687" stop-color="#1919fc"/><stop offset="0.998" stop-color="#1b1bfc"/></linearGradient>
<linearGradient id="c118"><stop offset="0" stop-color="#1a1afc"/><stop offset="0.317" stop-color="#1919fc"/><stop offset="0.387" stop-color="#1414fd"/><stop offset="0.405" stop-color="#1010fe"/><stop offset="0.417" stop-color="#0a0aff"/><stop offset="0.446" stop-color="#0909f6"/><stop offset="0.481" stop-color="#0a0aff"/><stop offset="0.499" stop-color="#0c0cff"/><stop offset="0.516" stop-color="#0a0aff"/><stop offset="0.552" stop-color="#0909f6"/><stop offset="0.563" stop-color="#0909f7"/><stop offset="0.581" stop-color="#0a0afe"/><stop offset="0.61" stop-color="#1414fd"/><stop offset="0.692" stop-color="#1919fc"/><stop offset="0.998" stop-color="#1a1afc"/></linearGradient>
<linearGradient id="c119"><stop offset="0" stop-color="#1a1afc"/><stop offset="0.317" stop-color="#1818fc"/><stop offset="0.387" stop-color="#1313fd"/><stop offset="0.411" stop-color="#0c0cff"/><stop offset="0.446" stop-color="#0909f5"/><stop offset="0.475" stop-color="#0a0afd"/><stop offset="0.493" stop-color="#0a0aff"/><stop offset="0.516" stop-color="#0a0afe"/><stop offset="0.552" stop-color="#0909f5"/><stop offset="0.563" stop-color="#0909f6"/><stop offset="0.587" stop-color="#0a0aff"/><stop offset="0.599" stop-color="#1010fe"/><stop offset="0.61" stop-color="#1313fd"/><stop offset="0.687" stop-color="#1919fc"/><stop offset="0.998" stop-color="#1a1afc"/></linearGradient>
<linearGradient id="c120"><stop offset="0" stop-color="#1a1afc"/><stop offset="0.311" stop-color="#1818fc"/><stop offset="0.387" stop-color="#1313fd"/><stop offset="0.411" stop-color="#0b0bff"/><stop offset="0.434" stop-color="#0909f6"/><stop offset="0.446" stop-color="#0909f4"/><stop offset="0.481" stop-color="#0a0afd"/><stop offset="0.499" stop-color="#0a0aff"/><stop offset="0.522" stop-color="#0a0afd"/><stop offset="0.552" stop-color="#0909f4"/><stop offset="0.563" stop-color="#0909f5"/><stop offset="0.587" stop-color="#0a0afe"/><stop offset="0.599" stop-color="#0f0ffe"/><stop offset="0.616" stop-color="#1313fd"/><stop offset="0.692" stop-color="#1919fc"/><stop offset="0.998" stop-color="#1a1afc"/></linearGradient>
<linearGradient id="c121"><stop offset="0" stop-color="#1a1afc"/><stop offset="0.305" stop-color="#1818fc"/><stop offset="0.381" stop-color="#1313fd"/><stop offset="0.399" stop-color="#0f0ffe"/><stop offset="0.411" stop-color="#0a0aff"/><stop offset="0.434" stop-color="#0909f5"/><stop offset="0.446" stop-color="#0909f2"/><stop offset="0.481" stop-color="#0a0afd"/><stop offset="0.499" stop-color="#0a0afe"/><stop offset="0.522" stop-color="#0a0afc"/><stop offset="0.552" stop-color="#0909f2"/><stop offset="0.563" stop-color="#0909f4"/><stop offset="0.593" stop-color="#0c0cff"/><stop offset="0.604" stop-color="#1010fe"/><stop offset="0.622" stop-color="#1313fd"/><stop offset="0.698" stop-color="#1818fc"/><stop offset="0.998" stop-color="#1a1afc"/></linearGradient>
<linearGradient id="c122"><stop offset="0" stop-color="#1a1afc"/><stop offset="0.293" stop-color="#1818fc"/><stop offset="0.376" stop-color="#1313fd"/><stop offset="0.405" stop-color="#0c0cff"/><stop offset="0.446" stop-color="#0909f1"/><stop offset="0.481" stop-color="#0a0afc"/><stop offset="0.499" stop-color="#0a0afe"/><stop offset="0.522" stop-color="#0a0afb"/><stop offset="0.552" stop-color="#0909f1"/><stop offset="0.563" stop-color="#0909f3"/><stop offset="0.593" stop-color="#0a0aff"/><stop offset="0.604" stop-color="#0f0ffe"/><stop offset="0.622" stop-color="#1212fd"/><stop offset="0.698" stop-color="#1818fc"/><stop offset="0.998" stop-color="#1a1afc"/></linearGradient>
<linearGradient id="c123"><stop offset="0" stop-color="#1a1afc"/><stop offset="0.293" stop-color="#1818fc"/><stop offset="0.376" stop-color="#1212fd"/><stop offset="0.405" stop-color="#0b0bff"/><stop offset="0.434" stop-color="#0909f2"/><stop offset="0.446" stop-color="#0909f0"/><stop offset="0.481" stop-color="#0a0afb"/><stop offset="0.499" stop-color="#0a0afd"/><stop offset="0.522" stop-color="#0a0afb"/><stop offset="0.552" stop-color="#0909f0"/><stop offset="0.563" stop-color="#0909f2"/><stop offset="0.593" stop-color="#0a0aff"/><stop offset="0.622" stop-color="#1212fd"/><stop offset="0.704" stop-color="#1818fc"/><stop offset="0.998" stop-color="#1a1afc"/></linearGradient>
<linearGradient id="c124"><stop offset="0" stop-color="#1919fc"/><stop offset="0.293" stop-color="#1818fc"/><stop offset="0.376" stop-color="#1111fe"/><stop offset="0.405" stop-color="#0a0aff"/><stop offset="0.434" stop-color="#0909f2"/><stop offset="0.446" stop-color="#0808ef"/><stop offset="0.481" stop-color="#0a0afb"/><stop offset="0.499" stop-color="#0a0afd"/><stop offset="0.522" stop-color="#0a0afa"/><stop offset="0.552" stop-color="#0808ef"/><stop offset="0.563" stop-color="#0909f1"/><stop offset="0.587" stop-color="#0a0afc"/><stop offset="0.599" stop-color="#0c0cff"/><stop offset="0.634" stop-color="#1313fd"/><stop offset="0.71" stop-color="#1818fc"/><stop offset="0.998" stop-color="#1919fc"/></linearGradient>
<linearGradient id="c125"><stop offset="0" stop-color="#1919fc"/><stop offset="0.288" stop-color="#1818fc"/><stop offset="0.358" stop-color="#1313fd"/><stop offset="0.399" stop-color="#0c0cff"/><stop offset="0.411" stop-color="#0a0afd"/><stop offset="0.434" stop-color="#0909f1"/><stop offset="0.446" stop-color="#0808ee"/><stop offset="0.481" stop-color="#0a0afa"/><stop offset="0.499" stop-color="#0a0afc"/><stop offset="0.522" stop-color="#0909f9"/><stop offset="0.546" stop-color="#0909f0"/><stop offset="0.558" stop-color="#0808ee"/><stop offset="0.599" stop-color="#0b0bff"/><stop offset="0.634" stop-color="#1212fd"/><stop offset="0.71" stop-color="#1818fc"/><stop offset="0.998" stop-color="#1919fc"/></linearGradient>
<linearGradient id="c126"><stop offset="0" stop-color="#1919fc"/><stop offset="0.282" stop-color="#1818fc"/><stop offset="0.352" stop-color="#1313fd"/><stop offset="0.399" stop-color="#0b0bff"/><stop offset="0.411" stop-color="#0a0afc"/><stop offset="0.434" stop-color="#0909f0"/><stop offset="0.446" stop-color="#0808ed"/><stop offset="0.481" stop-color="#0909fa"/><stop offset="0.499" stop-color="#0a0afc"/><stop offset="0.522" stop-color="#0909f9"/><stop offset="0.546" stop-color="#0808ef"/><stop offset="0.558" stop-color="#0808ed"/><stop offset="0.599" stop-color="#0a0aff"/><stop offset="0.634" stop-color="#1111fe"/><stop offset="0.71" stop-color="#1717fc"/><stop offset="0.998" stop-color="#1919fc"/></linearGradient>
<linearGradient id="c127"><stop offset="0" stop-color="#1919fc"/><stop offset="0.282" stop-color="#1717fc"/><stop offset="0.352" stop-color="#1212fd"/><stop offset="0.399" stop-color="#0a0aff"/><stop offset="0.411" stop-color="#0a0afc"/><stop offset="0.434" stop-color="#0808ef"/><stop offset="0.446" stop-color="#0808ec"/><stop offset="0.481" stop-color="#0909f9"/><stop offset="0.499" stop-color="#0a0afb"/><stop offset="0.522" stop-color="#0909f8"/><stop offset="0.546" stop-color="#0808ee"/><stop offset="0.558" stop-color="#0808ed"/><stop offset="0.587" stop-color="#0a0afb"/><stop offset="0.604" stop-color="#0b0bff"/><stop offset="0.651" stop-color="#1313fd"/><stop offset="0.722" stop-color="#1818fc"/><stop offset="0.998" stop-color="#1919fc"/></linearGradient>
<linearGradient id="c128"><stop offset="0" stop-color="#1919fc"/><stop offset="0.282" stop-color="#1717fc"/><stop offset="0.346" stop-color="#1313fd"/><stop offset="0.399" stop-color="#0a0aff"/><stop offset="0.411" stop-color="#0a0afb"/><stop offset="0.434" stop-color="#0808ef"/><stop offset="0.446" stop-color="#0808ec"/><stop offset="0.481" stop-color="#0909f9"/><stop offset="0.499" stop-color="#0a0afb"/><stop offset="0.522" stop-color="#0909f8"/><stop offset="0.546" stop-color="#0808ed"/><stop offset="0.558" stop-color="#0808ec"/><stop offset="0.587" stop-color="#0a0afa"/><stop offset="0.604" stop-color="#0b0bff"/><stop offset="0.651" stop-color="#1212fd"/><stop offset="0.722" stop-color="#1717fc"/><stop offset="0.998" stop-color="#1919fc"/></linearGradient>
<linearGradient id="c129"><stop offset="0" stop-color="#1818fc"/><stop offset="0.276" stop-color="#1717fc"/><stop offset="0.34" stop-color="#1313fd"/><stop offset="0.393" stop-color="#0b0bff"/><stop offset="0.411" stop-color="#0a0afb"/><stop offset="0.434" stop-color="#0808ee"/><stop offset="0.446" stop-color="#0808eb"/><stop offset="0.481" stop-color="#0909f8"/><stop offset="0.499" stop-color="#0a0afa"/><stop offset="0.522" stop-color="#0909f7"/><stop offset="0.546" stop-color="#0808ed"/><stop offset="0.558" stop-color="#0808eb"/><stop offset="0.587" stop-color="#0a0afa"/><stop offset="0.604" stop-color="#0a0aff"/><stop offset="0.657" stop-color="#1313fd"/><stop offset="0.722" stop-color="#1717fc"/><stop offset="0.998" stop-color="#1818fc"/></linearGradient>
<linearGradient id="c130"><stop offset="0" stop-color="#1818fc"/><stop offset="0.276" stop-color="#1717fc"/><stop offset="0.34" stop-color="#1212fd"/><stop offset="0.393" stop-color="#0a0aff"/><stop offset="0.411" stop-color="#0a0afb"/><stop offset="0.434" stop-color="#0808ee"/><stop offset="0.446" stop-color="#0808eb"/><stop offset="0.481" stop-color="#0909f8"/><stop offset="0.499" stop-color="#0909fa"/><stop offset="0.522" stop-color="#0909f7"/><stop offset="0.546" stop-color="#0808ed"/><stop offset="0.558" stop-color="#0808eb"/><stop offset="0.593" stop-color="#0a0afc"/><stop offset="0.61" stop-color="#0b0bff"/><stop offset="0.663" stop-color="#1313fd"/><stop offset="0.728" stop-color="#1717fc"/><stop offset="0.998" stop-color="#1818fc"/></linearGradient>
<linearGradient id="c131"><stop offset="0" stop-color="#1818fc"/><stop offset="0.27" stop-color="#1717fc"/><stop offset="0.335" stop-color="#1313fd"/><stop offset="0.393" stop-color="#0a0aff"/><stop offset="0.411" stop-color="#0a0afa"/><stop offset="0.434" stop-color="#0808ed"/><stop offset="0.446" stop-color="#0808ea"/><stop offset="0.481" stop-color="#0909f7"/><stop offset="0.499" stop-color="#0909f9"/><stop offset="0.522" stop-color="#0909f6"/><stop offset="0.546" stop-color="#0808ec"/><stop offset="0.558" stop-color="#0808eb"/><stop offset="0.593" stop-color="#0a0afc"/><stop offset="0.61" stop-color="#0a0aff"/><stop offset="0.663" stop-color="#1212fd"/><stop offset="0.728" stop-color="#1717fd"/><stop offset="0.998" stop-color="#1818fc"/></linearGradient>
<linearGradient id="c132"><stop offset="0" stop-color="#1818fc"/><stop offset="0.27" stop-color="#1717fd"/><stop offset="0.335" stop-color="#1212fd"/><stop offset="0.387" stop-color="#0a0aff"/><stop offset="0.411" stop-color="#0a0afa"/><stop offset="0.434" stop-color="#0808ed"/><stop offset="0.446" stop-color="#0808ea"/><stop offset="0.481" stop-color="#0909f7"/><stop offset="0.499" stop-color="#0909f9"/><stop offset="0.522" stop-color="#0909f6"/><stop offset="0.546" stop-color="#0808ec"/><stop offset="0.558" stop-color="#0808ea"/><stop offset="0.593" stop-color="#0a0afb"/><stop offset="0.61" stop-color="#0a0aff"/><stop offset="0.669" stop-color="#1313fd"/><stop offset="0.728" stop-color="#1717fd"/><stop offset="0.998" stop-color="#1818fc"/></linearGradient>
<linearGradient id="c133"><stop offset="0" stop-color="#1818fc"/><stop offset="0.27" stop-color="#1616fd"/><stop offset="0.329" stop-color="#1212fd"/><stop offset="0.387" stop-color="#0a0aff"/><stop offset="0.411" stop-color="#0909fa"/><stop offset="0.434" stop-color="#0808ed"/><stop offset="0.446" stop-color="#0808ea"/><stop offset="0.481" stop-color="#0909f7"/><stop offset="0.499" stop-color="#0909f9"/><stop offset="0.522" stop-color="#0909f6"/><stop offset="0.546" stop-color="#0808eb"/><stop offset="0.558" stop-color="#0808ea"/><stop offset="0.593" stop-color="#0a0afb"/><stop offset="0.616" stop-color="#0a0aff"/><stop offset="0.675" stop-color="#1313fd"/><stop offset="0.734" stop-color="#1616fd"/><stop offset="0.998" stop-color="#1818fc"/></linearGradient>
<linearGradient id="c134"><stop offset="0" stop-color="#1818fc"/><stop offset="0.264" stop-color="#1616fd"/><stop offset="0.323" stop-color="#1313fd"/><stop offset="0.381" stop-color="#0a0aff"/><stop offset="0.405" stop-color="#0a0afb"/><stop offset="0.434" stop-color="#0808ec"/><stop offset="0.446" stop-color="#0808ea"/><stop offset="0.481" stop-color="#0909f6"/><stop offset="0.499" stop-color="#0909f8"/><stop offset="0.522" stop-color="#0909f5"/><stop offset="0.546" stop-color="#0808eb"/><stop offset="0.558" stop-color="#0808ea"/><stop offset="0.593" stop-color="#0a0afb"/><stop offset="0.616" stop-color="#0a0aff"/><stop offset="0.675" stop-color="#1212fd"/><stop offset="0.734" stop-color="#1616fd"/><stop offset="0.998" stop-color="#1818fc"/></linearGradient>
<linearGradient id="c135"><stop offset="0" stop-color="#1717fc"/><stop offset="0.264" stop-color="#1616fd"/><stop offset="0.323" stop-color="#1212fd"/><stop offset="0.381" stop-color="#0a0aff"/><stop offset="0.405" stop-color="#0a0afb"/><stop offset="0.434" stop-color="#0808ec"/><stop offset="0.446" stop-color="#0808e9"/><stop offset="0.481" stop-color="#0909f6"/><stop offset="0.499" stop-color="#0909f8"/><stop offset="0.522" stop-color="#0909f5"/><stop offset="0.546" stop-color="#0808eb"/><stop offset="0.558" stop-color="#0808e9"/><stop offset="0.593" stop-color="#0a0afb"/><stop offset="0.616" stop-color="#0a0aff"/><stop offset="0.675" stop-color="#1212fd"/><stop offset="0.734" stop-color="#1616fd"/><stop offset="0.998" stop-color="#1717fc"/></linearGradient>
<linearGradient id="c136"><stop offset="0" stop-color="#1717fc"/><stop offset="0.264" stop-color="#1616fd"/><stop offset="0.323" stop-color="#1212fd"/><stop offset="0.381" stop-color="#0a0aff"/><stop offset="0.405" stop-color="#0a0afb"/><stop offset="0.434" stop-color="#0808ec"/><stop offset="0.446" stop-color="#0808e9"/><stop offset="0.481" stop-color="#0909f6"/><stop offset="0.499" stop-color="#0909f8"/><stop offset="0.522" stop-color="#0909f5"/><stop offset="0.546" stop-color="#0808eb"/><stop offset="0.558" stop-color="#0808e9"/><stop offset="0.593" stop-color="#0a0afa"/><stop offset="0.622" stop-color="#0a0aff"/><stop offset="0.681" stop-color="#1212fd"/><stop offset="0.739" stop-color="#1616fd"/><stop offset="0.998" stop-color="#1717fc"/></linearGradient>
<linearGradient id="c137"><stop offset="0" stop-color="#1717fc"/><stop offset="0.258" stop-color="#1616fd"/><stop offset="0.317" stop-color="#1212fd"/><stop offset="0.376" stop-color="#0a0aff"/><stop offset="0.405" stop-color="#0a0afb"/><stop offset="0.434" stop-color="#0808ec"/><stop offset="0.446" stop-color="#0808e9"/><stop offset="0.481" stop-color="#0909f6"/><stop offset="0.499" stop-color="#0909f7"/><stop offset="0.522" stop-color="#0909f5"/><stop offset="0.546" stop-color="#0808ea"/><stop offset="0.558" stop-color="#0808e9"/><stop offset="0.593" stop-color="#0a0afa"/><stop offset="0.622" stop-color="#0a0aff"/><stop offset="0.681" stop-color="#1212fd"/><stop offset="0.739" stop-color="#1616fd"/><stop offset="0.998" stop-color="#1717fc"/></linearGradient>
<linearGradient id="c138"><stop offset="0" stop-color="#1717fc"/><stop offset="0.258" stop-color="#1616fd"/><stop offset="0.317" stop-color="#1212fd"/><stop offset="0.376" stop-color="#0a0aff"/><stop offset="0.405" stop-color="#0a0afb"/><stop offset="0.434" stop-color="#0808ec"/><stop offset="0.446" stop-color="#0808e9"/><stop offset="0.481" stop-color="#0909f5"/><stop offset="0.499" stop-color="#0909f7"/><stop offset="0.522" stop-color="#0909f4"/><stop offset="0.546" stop-color="#0808ea"/><stop offset="0.558" stop-color="#0808e9"/><stop offset="0.593" stop-color="#0a0afa"/><stop offset="0.622" stop-color="#0a0aff"/><stop offset="0.681" stop-color="#1212fd"/><stop offset="0.739" stop-color="#1616fd"/><stop offset="0.998" stop-color="#1717fc"/></linearGradient>
<linearGradient id="c139"><stop offset="0" stop-color="#1717fd"/><stop offset="0.258" stop-color="#1515fd"/><stop offset="0.317" stop-color="#1212fd"/><stop offset="0.376" stop-color="#0a0aff"/><stop offset="0.405" stop-color="#0a0afb"/><stop offset="0.434" stop-color="#0808ec"/><stop offset="0.446" stop-color="#0808e9"/><stop offset="0.481" stop-color="#0909f5"/><stop offset="0.499" stop-color="#0909f7"/><stop offset="0.522" stop-color="#0909f4"/><stop offset="0.546" stop-color="#0808ea"/><stop offset="0.558" stop-color="#0808e9"/><stop offset="0.593" stop-color="#0a0afa"/><stop offset="0.628" stop-color="#0a0aff"/><stop offset="0.687" stop-color="#1212fd"/><stop offset="0.745" stop-color="#1616fd"/><stop offset="0.998" stop-color="#1717fd"/></linearGradient>
<linearGradient id="d0"><stop offset="0" stop-color="#0a0afe"/><stop offset="0.082" stop-color="#0a0aff"/><stop offset="0.14" stop-color="#0a0afb"/><stop offset="0.164" stop-color="#0909f6"/><stop offset="0.204" stop-color="#0808e5"/><stop offset="0.222" stop-color="#0707e2"/><stop offset="0.239" stop-color="#0707e5"/><stop offset="0.28" stop-color="#0909f6"/><stop offset="0.304" stop-color="#0a0afc"/><stop offset="0.432" stop-color="#0a0afd"/><stop offset="0.444" stop-color="#0a0afa"/><stop offset="0.456" stop-color="#0909f3"/><stop offset="0.485" stop-color="#0505cf"/><stop offset="0.496" stop-color="#0505c8"/><stop offset="0.508" stop-color="#0505ce"/><stop offset="0.537" stop-color="#0909f2"/><stop offset="0.549" stop-color="#0a0afa"/><stop offset="0.561" stop-color="#0a0afd"/><stop offset="0.689" stop-color="#0a0afc"/><stop offset="0.713" stop-color="#0909f6"/><stop offset="0.754" stop-color="#0808e5"/><stop offset="0.771" stop-color="#0707e2"/><stop offset="0.789" stop-color="#0808e5"/><stop offset="0.829" stop-color="#0909f6"/><stop offset="0.853" stop-color="#0a0afb"/><stop offset="0.911" stop-color="#0a0aff"/><stop offset="0.999" stop-color="#0a0afe"/></linearGradient>
<linearGradient id="d1"><stop offset="0" stop-color="#0a0aff"/><stop offset="0.053" stop-color="#0d0dfe"/><stop offset="0.105" stop-color="#0a0aff"/><stop offset="0.134" stop-color="#0a0afd"/><stop offset="0.164" stop-color="#0909f7"/><stop offset="0.204" stop-color="#0808e7"/><stop offset="0.222" stop-color="#0707e3"/><stop offset="0.239" stop-color="#0808e6"/><stop offset="0.28" stop-color="#0909f7"/><stop offset="0.304" stop-color="#0a0afd"/><stop offset="0.432" stop-color="#0a0afe"/><stop offset="0.444" stop-color="#0a0afb"/><stop offset="0.456" stop-color="#0909f4"/><stop offset="0.485" stop-color="#0606d1"/><stop offset="0.496" stop-color="#0505ca"/><stop offset="0.508" stop-color="#0505cf"/><stop offset="0.537" stop-color="#0909f3"/><stop offset="0.549" stop-color="#0a0afb"/><stop offset="0.561" stop-color="#0a0afe"/><stop offset="0.689" stop-color="#0a0afd"/><stop offset="0.713" stop-color="#0909f8"/><stop offset="0.754" stop-color="#0808e6"/><stop offset="0.771" stop-color="#0707e3"/><stop offset="0.789" stop-color="#0808e6"/><stop offset="0.835" stop-color="#0909f8"/><stop offset="0.859" stop-color="#0a0afd"/><stop offset="0.888" stop-color="#0a0aff"/><stop offset="0.94" stop-color="#0d0dfe"/><stop offset="0.999" stop-color="#0a0aff"/></linearGradient>
<linearGradient id="d2"><stop offset="0" stop-color="#0c0cff"/><stop offset="0.058" stop-color="#1010fe"/><stop offset="0.134" stop-color="#0a0afe"/><stop offset="0.164" stop-color="#0909f8"/><stop offset="0.204" stop-color="#0808e8"/><stop offset="0.222" stop-color="#0707e4"/><stop offset="0.239" stop-color="#0808e7"/><stop offset="0.28" stop-color="#0909f8"/><stop offset="0.304" stop-color="#0a0afe"/><stop offset="0.432" stop-color="#0a0aff"/><stop offset="0.444" stop-color="#0a0afc"/><stop offset="0.456" stop-color="#0909f6"/><stop offset="0.485" stop-color="#0606d3"/><stop offset="0.496" stop-color="#0505cd"/><stop offset="0.508" stop-color="#0606d2"/><stop offset="0.537" stop-color="#0909f5"/><stop offset="0.549" stop-color="#0a0afc"/><stop offset="0.561" stop-color="#0a0aff"/><stop offset="0.689" stop-color="#0a0afe"/><stop offset="0.713" stop-color="#0909f9"/><stop offset="0.754" stop-color="#0808e7"/><stop offset="0.771" stop-color="#0707e4"/><stop offset="0.789" stop-color="#0808e7"/><stop offset="0.835" stop-color="#0909f9"/><stop offset="0.859" stop-color="#0a0afe"/><stop offset="0.935" stop-color="#1010fe"/><stop offset="0.999" stop-color="#0c0cff"/></linearGradient>
<linearGradient id="d3"><stop offset="0" stop-color="#0f0ffe"/><stop offset="0.064" stop-color="#1212fd"/><stop offset="0.134" stop-color="#0a0aff"/><stop offset="0.164" stop-color="#0909f9"/><stop offset="0.204" stop-color="#0808e9"/><stop offset="0.222" stop-color="#0808e5"/><stop offset="0.239" stop-color="#0808e8"/><stop offset="0.28" stop-color="#0a0afa"/><stop offset="0.298" stop-color="#0a0aff"/><stop offset="0.321" stop-color="#0e0efe"/><stop offset="0.38" stop-color="#0b0bff"/><stop offset="0.426" stop-color="#0d0dfe"/><stop offset="0.438" stop-color="#0b0bff"/><stop offset="0.456" stop-color="#0909f8"/><stop offset="0.485" stop-color="#0606d7"/><stop offset="0.496" stop-color="#0606d1"/><stop offset="0.508" stop-color="#0606d6"/><stop offset="0.537" stop-color="#0909f7"/><stop offset="0.555" stop-color="#0a0aff"/><stop offset="0.567" stop-color="#0d0dfe"/><stop offset="0.613" stop-color="#0b0bff"/><stop offset="0.672" stop-color="#0e0efe"/><stop offset="0.695" stop-color="#0a0aff"/><stop offset="0.718" stop-color="#0909f8"/><stop offset="0.754" stop-color="#0808e8"/><stop offset="0.771" stop-color="#0808e5"/><stop offset="0.789" stop-color="#0808e8"/><stop offset="0.829" stop-color="#0909f9"/><stop offset="0.859" stop-color="#0a0aff"/><stop offset="0.935" stop-color="#1212fd"/><stop offset="0.999" stop-color="#0e0efe"/></linearGradient>
<linearGradient id="d4"><stop offset="0" stop-color="#1111fe"/><stop offset="0.041" stop-color="#1515fd"/><stop offset="0.07" stop-color="#1515fd"/><stop offset="0.111" stop-color="#1010fe"/><stop offset="0.14" stop-color="#0a0aff"/><stop offset="0.164" stop-color="#0a0afa"/><stop offset="0.204" stop-color="#0808ea"/><stop offset="0.222" stop-color="#0808e6"/><stop offset="0.239" stop-color="#0808e9"/><stop offset="0.292" stop-color="#0a0aff"/><stop offset="0.304" stop-color="#0e0efe"/><stop offset="0.321" stop-color="#1111fe"/><stop offset="0.38" stop-color="#0d0dfe"/><stop offset="0.426" stop-color="#1010fe"/><stop offset="0.444" stop-color="#0b0bff"/><stop offset="0.456" stop-color="#0909fa"/><stop offset="0.485" stop-color="#0707dc"/><stop offset="0.496" stop-color="#0606d6"/><stop offset="0.508" stop-color="#0707db"/><stop offset="0.532" stop-color="#0909f4"/><stop offset="0.549" stop-color="#0a0aff"/><stop offset="0.567" stop-color="#1010fe"/><stop offset="0.613" stop-color="#0d0dfe"/><stop offset="0.672" stop-color="#1111fe"/><stop offset="0.689" stop-color="#0f0ffe"/><stop offset="0.701" stop-color="#0a0aff"/><stop offset="0.718" stop-color="#0909fa"/><stop offset="0.754" stop-color="#0808ea"/><stop offset="0.771" stop-color="#0808e6"/><stop offset="0.789" stop-color="#0808e9"/><stop offset="0.829" stop-color="#0a0afa"/><stop offset="0.853" stop-color="#0a0aff"/><stop offset="0.888" stop-color="#1111fe"/><stop offset="0.929" stop-color="#1515fd"/><stop offset="0.999" stop-color="#1111fe"/></linearGradient>
<linearGradient id="d5"><stop offset="0" stop-color="#1414fd"/><stop offset="0.041" stop-color="#1818fc"/><stop offset="0.076" stop-color="#1717fc"/><stop offset="0.123" stop-color="#1111fe"/><stop offset="0.152" stop-color="#0a0aff"/><stop offset="0.169" stop-color="#0909fa"/><stop offset="0.204" stop-color="#0808eb"/><stop offset="0.222" stop-color="#0808e8"/><stop offset="0.239" stop-color="#0808ea"/><stop offset="0.286" stop-color="#0a0aff"/><stop offset="0.304" stop-color="#1212fe"/><stop offset="0.321" stop-color="#1414fd"/><stop offset="0.38" stop-color="#1010fe"/><stop offset="0.432" stop-color="#1212fd"/><stop offset="0.444" stop-color="#0f0ffe"/><stop offset="0.45" stop-color="#0a0aff"/><stop offset="0.461" stop-color="#0909f7"/><stop offset="0.485" stop-color="#0707e1"/><stop offset="0.496" stop-color="#0707db"/><stop offset="0.508" stop-color="#0707e0"/><stop offset="0.532" stop-color="#0909f6"/><stop offset="0.543" stop-color="#0a0afe"/><stop offset="0.555" stop-color="#1111fe"/><stop offset="0.567" stop-color="#1313fd"/><stop offset="0.613" stop-color="#1010fe"/><stop offset="0.672" stop-color="#1414fd"/><stop offset="0.689" stop-color="#1212fd"/><stop offset="0.707" stop-color="#0b0bff"/><stop offset="0.754" stop-color="#0808eb"/><stop offset="0.771" stop-color="#0808e7"/><stop offset="0.789" stop-color="#0808eb"/><stop offset="0.824" stop-color="#0909f9"/><stop offset="0.847" stop-color="#0b0bff"/><stop offset="0.876" stop-color="#1212fd"/><stop offset="0.923" stop-color="#1818fc"/><stop offset="0.958" stop-color="#1818fc"/><stop offset="0.999" stop-color="#1414fd"/></linearGradient>
<linearGradient id="d6"><stop offset="0" stop-color="#1717fc"/><stop offset="0.041" stop-color="#1b1bfc"/><stop offset="0.082" stop-color="#1a1afc"/><stop offset="0.129" stop-color="#1313fd"/><stop offset="0.158" stop-color="#0a0aff"/><stop offset="0.204" stop-color="#0808ec"/><stop offset="0.222" stop-color="#0808e9"/><stop offset="0.239" stop-color="#0808ec"/><stop offset="0.28" stop-color="#0a0afe"/><stop offset="0.298" stop-color="#1313fd"/><stop offset="0.321" stop-color="#1717fd"/><stop offset="0.38" stop-color="#1313fd"/><stop offset="0.432" stop-color="#1616fd"/><stop offset="0.444" stop-color="#1212fd"/><stop offset="0.456" stop-color="#0a0afe"/><stop offset="0.485" stop-color="#0808e6"/><stop offset="0.496" stop-color="#0707e1"/><stop offset="0.508" stop-color="#0808e5"/><stop offset="0.532" stop-color="#0909f9"/><stop offset="0.543" stop-color="#0d0dfe"/><stop offset="0.549" stop-color="#1111fe"/><stop offset="0.561" stop-color="#1515fd"/><stop offset="0.613" stop-color="#1313fd"/><stop offset="0.678" stop-color="#1616fd"/><stop offset="0.695" stop-color="#1313fd"/><stop offset="0.713" stop-color="#0a0aff"/><stop offset="0.754" stop-color="#0808ec"/><stop offset="0.771" stop-color="#0808e9"/><stop offset="0.789" stop-color="#0808ec"/><stop offset="0.835" stop-color="#0a0afe"/><stop offset="0.864" stop-color="#1313fd"/><stop offset="0.917" stop-color="#1a1afc"/><stop offset="0.952" stop-color="#1b1bfc"/><stop offset="0.999" stop-color="#1717fd"/></linearGradient>
<linearGradient id="d7"><stop offset="0" stop-color="#1a1afc"/><stop offset="0.047" stop-color="#1e1efb"/><stop offset="0.088" stop-color="#1c1cfb"/><stop offset="0.134" stop-color="#1515fd"/><stop offset="0.164" stop-color="#0a0aff"/><stop offset="0.204" stop-color="#0808ee"/><stop offset="0.222" stop-color="#0808ea"/><stop offset="0.239" stop-color="#0808ed"/><stop offset="0.275" stop-color="#0a0afe"/><stop offset="0.298" stop-color="#1616fd"/><stop offset="0.315" stop-color="#1919fc"/><stop offset="0.38" stop-color="#1616fd"/><stop offset="0.432" stop-color="#1919fc"/><stop offset="0.444" stop-color="#1616fd"/><stop offset="0.456" stop-color="#0d0dfe"/><stop offset="0.461" stop-color="#0a0afd"/><stop offset="0.485" stop-color="#0808eb"/><stop offset="0.496" stop-color="#0808e7"/><stop offset="0.508" stop-color="#0808ea"/><stop offset="0.537" stop-color="#0b0bff"/><stop offset="0.549" stop-color="#1515fd"/><stop offset="0.561" stop-color="#1919fc"/><stop offset="0.613" stop-color="#1616fd"/><stop offset="0.678" stop-color="#1919fc"/><stop offset="0.695" stop-color="#1717fd"/><stop offset="0.718" stop-color="#0a0afe"/><stop offset="0.754" stop-color="#0808ed"/><stop offset="0.771" stop-color="#0808ea"/><stop offset="0.789" stop-color="#0808ed"/><stop offset="0.829" stop-color="#0a0afe"/><stop offset="0.859" stop-color="#1515fd"/><stop offset="0.911" stop-color="#1c1cfb"/><stop offset="0.952" stop-color="#1e1efb"/><stop offset="0.999" stop-color="#1919fc"/></linearGradient>
<linearGradient id="d8"><stop offset="0" stop-color="#1d1dfb"/><stop offset="0.047" stop-color="#2121fb"/><stop offset="0.093" stop-color="#1e1efb"/><stop offset="0.14" stop-color="#1717fd"/><stop offset="0.169" stop-color="#0a0afe"/><stop offset="0.204" stop-color="#0808ef"/><stop offset="0.222" stop-color="#0808eb"/><stop offset="0.239" stop-color="#0808ee"/><stop offset="0.275" stop-color="#0b0bff"/><stop offset="0.292" stop-color="#1717fc"/><stop offset="0.31" stop-color="#1c1cfb"/><stop offset="0.38" stop-color="#1919fc"/><stop offset="0.432" stop-color="#1c1cfc"/><stop offset="0.45" stop-color="#1616fd"/><stop offset="0.461" stop-color="#0b0bff"/><stop offset="0.485" stop-color="#0909f0"/><stop offset="0.496" stop-color="#0808ed"/><stop offset="0.508" stop-color="#0909ef"/><stop offset="0.532" stop-color="#0a0aff"/><stop offset="0.543" stop-color="#1616fd"/><stop offset="0.561" stop-color="#1c1cfc"/><stop offset="0.613" stop-color="#1919fc"/><stop offset="0.678" stop-color="#1c1cfb"/><stop offset="0.701" stop-color="#1818fc"/><stop offset="0.718" stop-color="#0c0cff"/><stop offset="0.754" stop-color="#0808ef"/><stop offset="0.771" stop-color="#0808eb"/><stop offset="0.789" stop-color="#0808ef"/><stop offset="0.829" stop-color="#0c0cff"/><stop offset="0.841" stop-color="#1212fd"/><stop offset="0.859" stop-color="#1818fc"/><stop offset="0.905" stop-color="#1f1ffb"/><stop offset="0.946" stop-color="#2121fb"/><stop offset="0.999" stop-color="#1c1cfb"/></linearGradient>
<linearGradient id="d9"><stop offset="0" stop-color="#2020fb"/><stop offset="0.047" stop-color="#2424fa"/><stop offset="0.093" stop-color="#2121fa"/><stop offset="0.14" stop-color="#1a1afc"/><stop offset="0.158" stop-color="#1313fd"/><stop offset="0.169" stop-color="#0c0cff"/><stop offset="0.204" stop-color="#0909f1"/><stop offset="0.222" stop-color="#0808ed"/><stop offset="0.239" stop-color="#0909f0"/><stop offset="0.269" stop-color="#0a0afe"/><stop offset="0.292" stop-color="#1b1bfc"/><stop offset="0.315" stop-color="#2020fb"/><stop offset="0.38" stop-color="#1b1bfc"/><stop offset="0.438" stop-color="#1e1efb"/><stop offset="0.456" stop-color="#1616fd"/><stop offset="0.467" stop-color="#0a0aff"/><stop offset="0.485" stop-color="#0909f5"/><stop offset="0.496" stop-color="#0909f2"/><stop offset="0.508" stop-color="#0909f4"/><stop offset="0.526" stop-color="#0a0afe"/><stop offset="0.543" stop-color="#1a1afc"/><stop offset="0.555" stop-color="#1e1efb"/><stop offset="0.613" stop-color="#1b1bfc"/><stop offset="0.683" stop-color="#1f1ffb"/><stop offset="0.707" stop-color="#1818fc"/><stop offset="0.724" stop-color="#0a0aff"/><stop offset="0.754" stop-color="#0909f0"/><stop offset="0.771" stop-color="#0808ed"/><stop offset="0.789" stop-color="#0909f0"/><stop offset="0.824" stop-color="#0b0bff"/><stop offset="0.835" stop-color="#1212fd"/><stop offset="0.853" stop-color="#1919fc"/><stop offset="0.9" stop-color="#2121fb"/><stop offset="0.946" stop-color="#2424fa"/><stop offset="0.999" stop-color="#1f1ffb"/></linearGradient>
<linearGradient id="d10"><stop offset="0" stop-color="#2323fa"/><stop offset="0.053" stop-color="#2727f9"/><stop offset="0.111" stop-color="#2222fa"/><stop offset="0.152" stop-color="#1919fc"/><stop offset="0.175" stop-color="#0a0aff"/><stop offset="0.204" stop-color="#0909f2"/><stop offset="0.222" stop-color="#0808ee"/><stop offset="0.239" stop-color="#0909f1"/><stop offset="0.269" stop-color="#0c0cff"/><stop offset="0.28" stop-color="#1717fc"/><stop offset="0.292" stop-color="#1e1efb"/><stop offset="0.315" stop-color="#2323fa"/><stop offset="0.38" stop-color="#1e1efb"/><stop offset="0.438" stop-color="#2222fa"/><stop offset="0.456" stop-color="#1b1bfc"/><stop offset="0.473" stop-color="#0a0aff"/><stop offset="0.496" stop-color="#0909f6"/><stop offset="0.508" stop-color="#0909f9"/><stop offset="0.52" stop-color="#0a0afe"/><stop offset="0.537" stop-color="#1a1afc"/><stop offset="0.555" stop-color="#2222fa"/><stop offset="0.613" stop-color="#1e1efb"/><stop offset="0.683" stop-color="#2323fa"/><stop offset="0.707" stop-color="#1c1cfc"/><stop offset="0.73" stop-color="#0a0afd"/><stop offset="0.754" stop-color="#0909f2"/><stop offset="0.771" stop-color="#0808ee"/><stop offset="0.789" stop-color="#0909f1"/><stop offset="0.818" stop-color="#0a0aff"/><stop offset="0.835" stop-color="#1616fd"/><stop offset="0.847" stop-color="#1b1bfc"/><stop offset="0.888" stop-color="#2323fa"/><stop offset="0.94" stop-color="#2727f9"/><stop offset="0.999" stop-color="#2222fa"/></linearGradient>
<linearGradient id="d11"><stop offset="0" stop-color="#2626fa"/><stop offset="0.053" stop-color="#2a2af9"/><stop offset="0.105" stop-color="#2626fa"/><stop offset="0.152" stop-color="#1c1cfb"/><stop offset="0.181" stop-color="#0a0afe"/><stop offset="0.204" stop-color="#0909f3"/><stop offset="0.222" stop-color="#0808ef"/><stop offset="0.239" stop-color="#0909f2"/><stop offset="0.263" stop-color="#0a0afe"/><stop offset="0.286" stop-color="#1f1ffb"/><stop offset="0.31" stop-color="#2626fa"/><stop offset="0.38" stop-color="#2121fa"/><stop offset="0.444" stop-color="#2424fa"/><stop offset="0.461" stop-color="#1b1bfc"/><stop offset="0.479" stop-color="#0a0aff"/><stop offset="0.496" stop-color="#0a0afb"/><stop offset="0.514" stop-color="#0a0aff"/><stop offset="0.537" stop-color="#1f1ffb"/><stop offset="0.555" stop-color="#2525fa"/><stop offset="0.613" stop-color="#2121fa"/><stop offset="0.683" stop-color="#2626fa"/><stop offset="0.707" stop-color="#1f1ffb"/><stop offset="0.718" stop-color="#1717fd"/><stop offset="0.73" stop-color="#0a0aff"/><stop offset="0.754" stop-color="#0909f3"/><stop offset="0.771" stop-color="#0808ef"/><stop offset="0.789" stop-color="#0909f3"/><stop offset="0.812" stop-color="#0a0afe"/><stop offset="0.818" stop-color="#0d0dfe"/><stop offset="0.829" stop-color="#1616fd"/><stop offset="0.847" stop-color="#1e1efb"/><stop offset="0.894" stop-color="#2626f9"/><stop offset="0.946" stop-color="#2a2af9"/><stop offset="0.999" stop-color="#2525fa"/></linearGradient>
<linearGradient id="d12"><stop offset="0" stop-color="#2929f9"/><stop offset="0.058" stop-color="#2d2df8"/><stop offset="0.117" stop-color="#2727f9"/><stop offset="0.14" stop-color="#2323fa"/><stop offset="0.158" stop-color="#1d1dfb"/><stop offset="0.169" stop-color="#1616fd"/><stop offset="0.181" stop-color="#0c0cff"/><stop offset="0.21" stop-color="#0909f3"/><stop offset="0.222" stop-color="#0909f0"/><stop offset="0.239" stop-color="#0909f4"/><stop offset="0.257" stop-color="#0a0afd"/><stop offset="0.263" stop-color="#0c0cff"/><stop offset="0.275" stop-color="#1919fc"/><stop offset="0.286" stop-color="#2222fa"/><stop offset="0.31" stop-color="#2929f9"/><stop offset="0.38" stop-color="#2424fa"/><stop offset="0.444" stop-color="#2727f9"/><stop offset="0.461" stop-color="#2020fb"/><stop offset="0.485" stop-color="#0d0dfe"/><stop offset="0.496" stop-color="#0a0afe"/><stop offset="0.508" stop-color="#0c0cff"/><stop offset="0.532" stop-color="#1f1ffb"/><stop offset="0.549" stop-color="#2727f9"/><stop offset="0.613" stop-color="#2424fa"/><stop offset="0.683" stop-color="#2929f9"/><stop offset="0.707" stop-color="#2323fa"/><stop offset="0.736" stop-color="#0a0afd"/><stop offset="0.754" stop-color="#0909f4"/><stop offset="0.771" stop-color="#0909f0"/><stop offset="0.789" stop-color="#0909f4"/><stop offset="0.812" stop-color="#0b0bff"/><stop offset="0.824" stop-color="#1515fd"/><stop offset="0.841" stop-color="#1f1ffb"/><stop offset="0.882" stop-color="#2828f9"/><stop offset="0.94" stop-color="#2d2df8"/><stop offset="0.999" stop-color="#2828f9"/></linearGradient>
<linearGradient id="d13"><stop offset="0" stop-color="#2c2cf8"/><stop offset="0.058" stop-color="#3030f8"/><stop offset="0.129" stop-color="#2828f9"/><stop offset="0.146" stop-color="#2525fa"/><stop offset="0.164" stop-color="#1d1dfb"/><stop offset="0.187" stop-color="#0a0aff"/><stop offset="0.21" stop-color="#0909f4"/><stop offset="0.222" stop-color="#0909f2"/><stop offset="0.239" stop-color="#0909f5"/><stop offset="0.257" stop-color="#0a0afe"/><stop offset="0.275" stop-color="#1d1dfb"/><stop offset="0.286" stop-color="#2626fa"/><stop offset="0.31" stop-color="#2c2cf8"/><stop offset="0.38" stop-color="#2727f9"/><stop offset="0.444" stop-color="#2b2bf9"/><stop offset="0.456" stop-color="#2727f9"/><stop offset="0.485" stop-color="#1313fd"/><stop offset="0.496" stop-color="#0f0ffe"/><stop offset="0.508" stop-color="#1212fd"/><stop offset="0.532" stop-color="#2323fa"/><stop offset="0.549" stop-color="#2b2bf9"/><stop offset="0.613" stop-color="#2727f9"/><stop offset="0.689" stop-color="#2c2cf8"/><stop offset="0.701" stop-color="#2929f9"/><stop offset="0.713" stop-color="#2323fa"/><stop offset="0.724" stop-color="#1818fc"/><stop offset="0.736" stop-color="#0a0aff"/><stop offset="0.754" stop-color="#0909f6"/><stop offset="0.771" stop-color="#0909f2"/><stop offset="0.783" stop-color="#0909f4"/><stop offset="0.806" stop-color="#0a0afe"/><stop offset="0.824" stop-color="#1919fc"/><stop offset="0.835" stop-color="#2020fb"/><stop offset="0.87" stop-color="#2929f9"/><stop offset="0.935" stop-color="#3030f8"/><stop offset="0.999" stop-color="#2b2bf9"/></linearGradient>
<linearGradient id="d14"><stop offset="0" stop-color="#2f2ff8"/><stop offset="0.064" stop-color="#3333f7"/><stop offset="0.134" stop-color="#2a2af9"/><stop offset="0.164" stop-color="#2121fb"/><stop offset="0.193" stop-color="#0a0afd"/><stop offset="0.21" stop-color="#0909f5"/><stop offset="0.222" stop-color="#0909f3"/><stop offset="0.234" stop-color="#0909f5"/><stop offset="0.257" stop-color="#0c0cff"/><stop offset="0.269" stop-color="#1a1afc"/><stop offset="0.28" stop-color="#2525fa"/><stop offset="0.292" stop-color="#2c2cf8"/><stop offset="0.31" stop-color="#2f2ff8"/><stop offset="0.38" stop-color="#2a2af9"/><stop offset="0.444" stop-color="#2e2ef8"/><stop offset="0.456" stop-color="#2b2bf9"/><stop offset="0.485" stop-color="#1919fc"/><stop offset="0.496" stop-color="#1515fd"/><stop offset="0.508" stop-color="#1818fc"/><stop offset="0.532" stop-color="#2727f9"/><stop offset="0.549" stop-color="#2e2ef8"/><stop offset="0.613" stop-color="#2a2af9"/><stop offset="0.689" stop-color="#2f2ff8"/><stop offset="0.701" stop-color="#2c2cf8"/><stop offset="0.713" stop-color="#2626fa"/><stop offset="0.724" stop-color="#1c1cfc"/><stop offset="0.736" stop-color="#0d0dfe"/><stop offset="0.742" stop-color="#0a0afd"/><stop offset="0.759" stop-color="#0909f5"/><stop offset="0.771" stop-color="#0909f3"/><stop offset="0.783" stop-color="#0909f5"/><stop offset="0.806" stop-color="#0c0cff"/><stop offset="0.818" stop-color="#1818fc"/><stop offset="0.829" stop-color="#2020fb"/><stop offset="0.847" stop-color="#2828f9"/><stop offset="0.864" stop-color="#2b2bf9"/><stop offset="0.935" stop-color="#3333f7"/><stop offset="0.999" stop-color="#2e2ef8"/></linearGradient>
<linearGradient id="d15"><stop offset="0" stop-color="#3232f7"/><stop offset="0.064" stop-color="#3636f7"/><stop offset="0.134" stop-color="#2e2ef8"/><stop offset="0.164" stop-color="#2424fa"/><stop offset="0.175" stop-color="#1c1cfb"/><stop offset="0.193" stop-color="#0a0aff"/><stop offset="0.21" stop-color="#0909f7"/><stop offset="0.222" stop-color="#0909f4"/><stop offset="0.234" stop-color="#0909f6"/><stop offset="0.251" stop-color="#0a0afe"/><stop offset="0.28" stop-color="#2929f9"/><stop offset="0.292" stop-color="#2f2ff8"/><stop offset="0.31" stop-color="#3232f7"/><stop offset="0.38" stop-color="#2d2df8"/><stop offset="0.444" stop-color="#3131f7"/><stop offset="0.456" stop-color="#2e2ef8"/><stop offset="0.485" stop-color="#1e1efb"/><stop offset="0.496" stop-color="#1b1bfc"/><stop offset="0.508" stop-color="#1d1dfb"/><stop offset="0.532" stop-color="#2b2bf9"/><stop offset="0.549" stop-color="#3131f7"/><stop offset="0.613" stop-color="#2d2df8"/><stop offset="0.689" stop-color="#3232f7"/><stop offset="0.701" stop-color="#3030f8"/><stop offset="0.713" stop-color="#2a2af9"/><stop offset="0.724" stop-color="#1f1ffb"/><stop offset="0.742" stop-color="#0a0aff"/><stop offset="0.759" stop-color="#0909f6"/><stop offset="0.771" stop-color="#0909f4"/><stop offset="0.783" stop-color="#0909f6"/><stop offset="0.8" stop-color="#0a0afe"/><stop offset="0.818" stop-color="#1b1bfc"/><stop offset="0.829" stop-color="#2424fa"/><stop offset="0.859" stop-color="#2d2df8"/><stop offset="0.935" stop-color="#3636f6"/><stop offset="0.999" stop-color="#3131f7"/></linearGradient>
<linearGradient id="d16"><stop offset="0" stop-color="#3535f7"/><stop offset="0.064" stop-color="#3939f6"/><stop offset="0.14" stop-color="#3030f8"/><stop offset="0.158" stop-color="#2b2bf9"/><stop offset="0.169" stop-color="#2424fa"/><stop offset="0.193" stop-color="#0e0efe"/><stop offset="0.199" stop-color="#0a0afe"/><stop offset="0.222" stop-color="#0909f6"/><stop offset="0.234" stop-color="#0909f7"/><stop offset="0.251" stop-color="#0b0bff"/><stop offset="0.269" stop-color="#2222fa"/><stop offset="0.28" stop-color="#2c2cf8"/><stop offset="0.292" stop-color="#3333f7"/><stop offset="0.31" stop-color="#3535f7"/><stop offset="0.38" stop-color="#3030f8"/><stop offset="0.444" stop-color="#3434f7"/><stop offset="0.456" stop-color="#3232f7"/><stop offset="0.485" stop-color="#2121fa"/><stop offset="0.496" stop-color="#1e1efb"/><stop offset="0.508" stop-color="#2121fb"/><stop offset="0.532" stop-color="#2f2ff8"/><stop offset="0.549" stop-color="#3434f7"/><stop offset="0.613" stop-color="#3030f8"/><stop offset="0.689" stop-color="#3535f7"/><stop offset="0.701" stop-color="#3333f7"/><stop offset="0.713" stop-color="#2d2df8"/><stop offset="0.724" stop-color="#2323fa"/><stop offset="0.742" stop-color="#0d0dfe"/><stop offset="0.748" stop-color="#0a0afd"/><stop offset="0.759" stop-color="#0909f8"/><stop offset="0.771" stop-color="#0909f6"/><stop offset="0.794" stop-color="#0a0afd"/><stop offset="0.8" stop-color="#0c0cff"/><stop offset="0.824" stop-color="#2424fa"/><stop offset="0.835" stop-color="#2a2af9"/><stop offset="0.853" stop-color="#2f2ff8"/><stop offset="0.935" stop-color="#3939f6"/><stop offset="0.999" stop-color="#3434f7"/></linearGradient>
<linearGradient id="d17"><stop offset="0" stop-color="#3838f6"/><stop offset="0.064" stop-color="#3c3cf5"/><stop offset="0.146" stop-color="#3232f7"/><stop offset="0.169" stop-color="#2828f9"/><stop offset="0.181" stop-color="#1e1efb"/><stop offset="0.199" stop-color="#0a0aff"/><stop offset="0.222" stop-color="#0909f7"/><stop offset="0.234" stop-color="#0909f9"/><stop offset="0.245" stop-color="#0a0afe"/><stop offset="0.251" stop-color="#0f0ffe"/><stop offset="0.269" stop-color="#2525fa"/><stop offset="0.28" stop-color="#3030f8"/><stop offset="0.292" stop-color="#3636f6"/><stop offset="0.304" stop-color="#3838f6"/><stop offset="0.38" stop-color="#3333f7"/><stop offset="0.444" stop-color="#3737f6"/><stop offset="0.456" stop-color="#3535f7"/><stop offset="0.485" stop-color="#2525fa"/><stop offset="0.496" stop-color="#2222fa"/><stop offset="0.508" stop-color="#2424fa"/><stop offset="0.537" stop-color="#3434f7"/><stop offset="0.549" stop-color="#3737f6"/><stop offset="0.613" stop-color="#3333f7"/><stop offset="0.689" stop-color="#3838f6"/><stop offset="0.707" stop-color="#3434f7"/><stop offset="0.718" stop-color="#2c2cf8"/><stop offset="0.748" stop-color="#0a0afe"/><stop offset="0.759" stop-color="#0909f9"/><stop offset="0.771" stop-color="#0909f7"/><stop offset="0.794" stop-color="#0a0afe"/><stop offset="0.824" stop-color="#2727f9"/><stop offset="0.835" stop-color="#2e2ef8"/><stop offset="0.853" stop-color="#3232f7"/><stop offset="0.935" stop-color="#3c3cf5"/><stop offset="0.999" stop-color="#3737f6"/></linearGradient>
<linearGradient id="d18"><stop offset="0" stop-color="#3b3bf6"/><stop offset="0.035" stop-color="#3e3ef5"/><stop offset="0.07" stop-color="#3e3ef5"/><stop offset="0.146" stop-color="#3535f7"/><stop offset="0.169" stop-color="#2b2bf8"/><stop offset="0.181" stop-color="#2222fa"/><stop offset="0.199" stop-color="#0e0efe"/><stop offset="0.204" stop-color="#0a0afe"/><stop offset="0.222" stop-color="#0909f8"/><stop offset="0.234" stop-color="#0a0afa"/><stop offset="0.245" stop-color="#0a0aff"/><stop offset="0.263" stop-color="#2222fa"/><stop offset="0.275" stop-color="#2e2ef8"/><stop offset="0.286" stop-color="#3737f6"/><stop offset="0.304" stop-color="#3b3bf5"/><stop offset="0.38" stop-color="#3636f6"/><stop offset="0.444" stop-color="#3a3af6"/><stop offset="0.461" stop-color="#3434f7"/><stop offset="0.485" stop-color="#2727f9"/><stop offset="0.496" stop-color="#2424fa"/><stop offset="0.508" stop-color="#2727f9"/><stop offset="0.537" stop-color="#3636f6"/><stop offset="0.555" stop-color="#3b3bf6"/><stop offset="0.613" stop-color="#3636f6"/><stop offset="0.689" stop-color="#3c3cf5"/><stop offset="0.707" stop-color="#3737f6"/><stop offset="0.718" stop-color="#3030f8"/><stop offset="0.73" stop-color="#2323fa"/><stop offset="0.748" stop-color="#0c0cff"/><stop offset="0.771" stop-color="#0909f8"/><stop offset="0.789" stop-color="#0a0afd"/><stop offset="0.794" stop-color="#0c0cff"/><stop offset="0.812" stop-color="#2121fb"/><stop offset="0.824" stop-color="#2b2bf9"/><stop offset="0.847" stop-color="#3434f7"/><stop offset="0.929" stop-color="#3e3ef5"/><stop offset="0.964" stop-color="#3e3ef5"/><stop offset="0.999" stop-color="#3a3af6"/></linearGradient>
<linearGradient id="d19"><stop offset="0" stop-color="#3d3df5"/><stop offset="0.07" stop-color="#4040f4"/><stop offset="0.111" stop-color="#3d3df5"/><stop offset="0.152" stop-color="#3737f6"/><stop offset="0.164" stop-color="#3232f7"/><stop offset="0.175" stop-color="#2b2bf9"/><stop offset="0.204" stop-color="#0a0aff"/><stop offset="0.222" stop-color="#0909fa"/><stop offset="0.239" stop-color="#0a0afd"/><stop offset="0.245" stop-color="#0d0dfe"/><stop offset="0.263" stop-color="#2424fa"/><stop offset="0.275" stop-color="#3131f7"/><stop offset="0.286" stop-color="#3939f6"/><stop offset="0.304" stop-color="#3e3ef5"/><stop offset="0.38" stop-color="#3939f6"/><stop offset="0.444" stop-color="#3c3cf5"/><stop offset="0.461" stop-color="#3737f6"/><stop offset="0.485" stop-color="#2a2af9"/><stop offset="0.496" stop-color="#2727f9"/><stop offset="0.508" stop-color="#2929f9"/><stop offset="0.532" stop-color="#3636f6"/><stop offset="0.549" stop-color="#3c3cf5"/><stop offset="0.613" stop-color="#3939f6"/><stop offset="0.689" stop-color="#3e3ef5"/><stop offset="0.707" stop-color="#3a3af6"/><stop offset="0.718" stop-color="#3232f7"/><stop offset="0.73" stop-color="#2626fa"/><stop offset="0.748" stop-color="#0e0efe"/><stop offset="0.754" stop-color="#0a0afe"/><stop offset="0.771" stop-color="#0909fa"/><stop offset="0.789" stop-color="#0a0aff"/><stop offset="0.818" stop-color="#2a2af9"/><stop offset="0.829" stop-color="#3232f7"/><stop offset="0.847" stop-color="#3838f6"/><stop offset="0.929" stop-color="#4040f4"/><stop offset="0.999" stop-color="#3d3df5"/></linearGradient>
<linearGradient id="d20"><stop offset="0" stop-color="#4040f5"/><stop offset="0.07" stop-color="#4242f4"/><stop offset="0.152" stop-color="#3a3af6"/><stop offset="0.164" stop-color="#3636f6"/><stop offset="0.175" stop-color="#2e2ef8"/><stop offset="0.187" stop-color="#2323fa"/><stop offset="0.204" stop-color="#0d0dfe"/><stop offset="0.21" stop-color="#0a0afe"/><stop offset="0.222" stop-color="#0a0afb"/><stop offset="0.239" stop-color="#0a0afe"/><stop offset="0.245" stop-color="#0f0ffe"/><stop offset="0.263" stop-color="#2727f9"/><stop offset="0.275" stop-color="#3434f7"/><stop offset="0.286" stop-color="#3c3cf5"/><stop offset="0.304" stop-color="#4040f4"/><stop offset="0.38" stop-color="#3c3cf5"/><stop offset="0.444" stop-color="#3e3ef5"/><stop offset="0.461" stop-color="#3939f6"/><stop offset="0.485" stop-color="#2c2cf8"/><stop offset="0.496" stop-color="#2929f9"/><stop offset="0.508" stop-color="#2c2cf8"/><stop offset="0.537" stop-color="#3b3bf5"/><stop offset="0.555" stop-color="#3f3ff5"/><stop offset="0.613" stop-color="#3c3cf5"/><stop offset="0.695" stop-color="#4040f5"/><stop offset="0.707" stop-color="#3c3cf5"/><stop offset="0.718" stop-color="#3535f7"/><stop offset="0.73" stop-color="#2929f9"/><stop offset="0.754" stop-color="#0a0aff"/><stop offset="0.771" stop-color="#0a0afb"/><stop offset="0.789" stop-color="#0c0cff"/><stop offset="0.806" stop-color="#2222fa"/><stop offset="0.818" stop-color="#2e2ef8"/><stop offset="0.829" stop-color="#3535f7"/><stop offset="0.841" stop-color="#3939f6"/><stop offset="0.929" stop-color="#4242f4"/><stop offset="0.999" stop-color="#3f3ff5"/></linearGradient>
<linearGradient id="d21"><stop offset="0" stop-color="#4242f4"/><stop offset="0.064" stop-color="#4545f4"/><stop offset="0.152" stop-color="#3c3cf5"/><stop offset="0.164" stop-color="#3939f6"/><stop offset="0.175" stop-color="#3232f7"/><stop offset="0.187" stop-color="#2626fa"/><stop offset="0.21" stop-color="#0a0aff"/><stop offset="0.222" stop-color="#0a0afc"/><stop offset="0.239" stop-color="#0b0bff"/><stop offset="0.263" stop-color="#2a2af9"/><stop offset="0.275" stop-color="#3737f6"/><stop offset="0.286" stop-color="#3e3ef5"/><stop offset="0.304" stop-color="#4242f4"/><stop offset="0.38" stop-color="#3f3ff5"/><stop offset="0.444" stop-color="#4141f4"/><stop offset="0.461" stop-color="#3b3bf5"/><stop offset="0.485" stop-color="#2e2ef8"/><stop offset="0.496" stop-color="#2c2cf8"/><stop offset="0.508" stop-color="#2e2ef8"/><stop offset="0.537" stop-color="#3d3df5"/><stop offset="0.555" stop-color="#4141f4"/><stop offset="0.613" stop-color="#3f3ff5"/><stop offset="0.695" stop-color="#4242f4"/><stop offset="0.707" stop-color="#3f3ff5"/><stop offset="0.718" stop-color="#3838f6"/><stop offset="0.73" stop-color="#2c2cf8"/><stop offset="0.754" stop-color="#0c0cff"/><stop offset="0.771" stop-color="#0a0afb"/><stop offset="0.783" stop-color="#0a0afe"/><stop offset="0.789" stop-color="#0e0efe"/><stop offset="0.806" stop-color="#2525fa"/><stop offset="0.818" stop-color="#3131f7"/><stop offset="0.829" stop-color="#3838f6"/><stop offset="0.841" stop-color="#3c3cf5"/><stop offset="0.929" stop-color="#4545f4"/><stop offset="0.999" stop-color="#4141f4"/></linearGradient>
<linearGradient id="d22"><stop offset="0" stop-color="#4444f4"/><stop offset="0.07" stop-color="#4646f3"/><stop offset="0.158" stop-color="#3d3df5"/><stop offset="0.169" stop-color="#3838f6"/><stop offset="0.181" stop-color="#2f2ff8"/><stop offset="0.21" stop-color="#0c0cff"/><stop offset="0.222" stop-color="#0a0afd"/><stop offset="0.234" stop-color="#0a0afe"/><stop offset="0.239" stop-color="#0d0dfe"/><stop offset="0.263" stop-color="#2d2df8"/><stop offset="0.28" stop-color="#3e3ef5"/><stop offset="0.292" stop-color="#4343f4"/><stop offset="0.304" stop-color="#4545f4"/><stop offset="0.374" stop-color="#4141f4"/><stop offset="0.444" stop-color="#4343f4"/><stop offset="0.461" stop-color="#3d3df5"/><stop offset="0.485" stop-color="#3131f7"/><stop offset="0.496" stop-color="#2e2ef8"/><stop offset="0.508" stop-color="#3030f8"/><stop offset="0.537" stop-color="#3f3ff5"/><stop offset="0.555" stop-color="#4343f4"/><stop offset="0.613" stop-color="#4141f4"/><stop offset="0.695" stop-color="#4444f4"/><stop offset="0.713" stop-color="#3f3ff5"/><stop offset="0.724" stop-color="#3535f7"/><stop offset="0.754" stop-color="#0e0efe"/><stop offset="0.759" stop-color="#0a0afe"/><stop offset="0.771" stop-color="#0a0afc"/><stop offset="0.783" stop-color="#0b0bff"/><stop offset="0.806" stop-color="#2828f9"/><stop offset="0.818" stop-color="#3333f7"/><stop offset="0.829" stop-color="#3b3bf5"/><stop offset="0.841" stop-color="#3f3ff5"/><stop offset="0.929" stop-color="#4747f3"/><stop offset="0.999" stop-color="#4343f4"/></linearGradient>
<linearGradient id="d23"><stop offset="0" stop-color="#4646f3"/><stop offset="0.07" stop-color="#4949f3"/><stop offset="0.158" stop-color="#4040f5"/><stop offset="0.175" stop-color="#3737f6"/><stop offset="0.187" stop-color="#2c2cf8"/><stop offset="0.21" stop-color="#0e0efe"/><stop offset="0.216" stop-color="#0a0aff"/><stop offset="0.222" stop-color="#0a0afd"/><stop offset="0.234" stop-color="#0a0aff"/><stop offset="0.239" stop-color="#0f0ffe"/><stop offset="0.263" stop-color="#3030f8"/><stop offset="0.275" stop-color="#3c3cf5"/><stop offset="0.286" stop-color="#4444f4"/><stop offset="0.304" stop-color="#4747f3"/><stop offset="0.374" stop-color="#4343f4"/><stop offset="0.444" stop-color="#4545f4"/><stop offset="0.461" stop-color="#3f3ff5"/><stop offset="0.485" stop-color="#3333f7"/><stop offset="0.496" stop-color="#3030f8"/><stop offset="0.508" stop-color="#3232f7"/><stop offset="0.537" stop-color="#4141f4"/><stop offset="0.555" stop-color="#4545f3"/><stop offset="0.613" stop-color="#4343f4"/><stop offset="0.695" stop-color="#4747f3"/><stop offset="0.707" stop-color="#4444f4"/><stop offset="0.718" stop-color="#3d3df5"/><stop offset="0.73" stop-color="#3131f7"/><stop offset="0.748" stop-color="#1919fc"/><stop offset="0.759" stop-color="#0b0bff"/><stop offset="0.771" stop-color="#0a0afd"/><stop offset="0.783" stop-color="#0d0dfe"/><stop offset="0.812" stop-color="#3131f7"/><stop offset="0.824" stop-color="#3a3af6"/><stop offset="0.835" stop-color="#3f3ff5"/><stop offset="0.929" stop-color="#4949f3"/><stop offset="0.999" stop-color="#4646f3"/></linearGradient>
<linearGradient id="d24"><stop offset="0" stop-color="#4848f3"/><stop offset="0.07" stop-color="#4b4bf2"/><stop offset="0.158" stop-color="#4242f4"/><stop offset="0.169" stop-color="#3e3ef5"/><stop offset="0.181" stop-color="#3535f7"/><stop offset="0.21" stop-color="#1111fe"/><stop offset="0.216" stop-color="#0b0bff"/><stop offset="0.222" stop-color="#0a0afe"/><stop offset="0.234" stop-color="#0c0cff"/><stop offset="0.239" stop-color="#1212fd"/><stop offset="0.263" stop-color="#3333f7"/><stop offset="0.275" stop-color="#3f3ff5"/><stop offset="0.286" stop-color="#4646f3"/><stop offset="0.298" stop-color="#4949f3"/><stop offset="0.38" stop-color="#4545f3"/><stop offset="0.444" stop-color="#4747f3"/><stop offset="0.461" stop-color="#4242f4"/><stop offset="0.485" stop-color="#3535f7"/><stop offset="0.496" stop-color="#3232f7"/><stop offset="0.508" stop-color="#3535f7"/><stop offset="0.537" stop-color="#4444f4"/><stop offset="0.549" stop-color="#4747f3"/><stop offset="0.619" stop-color="#4545f3"/><stop offset="0.695" stop-color="#4949f3"/><stop offset="0.707" stop-color="#4747f3"/><stop offset="0.718" stop-color="#4040f4"/><stop offset="0.73" stop-color="#3434f7"/><stop offset="0.754" stop-color="#1313fd"/><stop offset="0.759" stop-color="#0d0dfe"/><stop offset="0.771" stop-color="#0a0afe"/><stop offset="0.777" stop-color="#0b0bff"/><stop offset="0.783" stop-color="#0f0ffe"/><stop offset="0.806" stop-color="#2d2df8"/><stop offset="0.818" stop-color="#3939f6"/><stop offset="0.835" stop-color="#4242f4"/><stop offset="0.929" stop-color="#4b4bf2"/><stop offset="0.999" stop-color="#4848f3"/></linearGradient>
<linearGradient id="d25"><stop offset="0" stop-color="#4a4af2"/><stop offset="0.07" stop-color="#4d4df2"/><stop offset="0.158" stop-color="#4545f4"/><stop offset="0.169" stop-color="#4040f4"/><stop offset="0.181" stop-color="#3838f6"/><stop offset="0.21" stop-color="#1313fd"/><stop offset="0.222" stop-color="#0b0bff"/><stop offset="0.228" stop-color="#0b0bff"/><stop offset="0.239" stop-color="#1414fd"/><stop offset="0.263" stop-color="#3636f6"/><stop offset="0.275" stop-color="#4242f4"/><stop offset="0.286" stop-color="#4949f3"/><stop offset="0.298" stop-color="#4b4bf2"/><stop offset="0.374" stop-color="#4747f3"/><stop offset="0.444" stop-color="#4949f3"/><stop offset="0.461" stop-color="#4444f4"/><stop offset="0.485" stop-color="#3737f6"/><stop offset="0.496" stop-color="#3434f7"/><stop offset="0.508" stop-color="#3737f6"/><stop offset="0.537" stop-color="#4646f3"/><stop offset="0.555" stop-color="#4a4af3"/><stop offset="0.613" stop-color="#4747f3"/><stop offset="0.701" stop-color="#4b4bf2"/><stop offset="0.713" stop-color="#4747f3"/><stop offset="0.724" stop-color="#3e3ef5"/><stop offset="0.736" stop-color="#2f2ff8"/><stop offset="0.754" stop-color="#1616fd"/><stop offset="0.765" stop-color="#0b0bff"/><stop offset="0.771" stop-color="#0b0bff"/><stop offset="0.783" stop-color="#1212fd"/><stop offset="0.812" stop-color="#3737f6"/><stop offset="0.824" stop-color="#4040f5"/><stop offset="0.835" stop-color="#4444f4"/><stop offset="0.929" stop-color="#4d4df2"/><stop offset="0.999" stop-color="#4a4af3"/></linearGradient>
<linearGradient id="d26"><stop offset="0" stop-color="#4c4cf2"/><stop offset="0.07" stop-color="#4f4ff2"/><stop offset="0.146" stop-color="#4949f3"/><stop offset="0.164" stop-color="#4545f3"/><stop offset="0.181" stop-color="#3b3bf5"/><stop offset="0.21" stop-color="#1515fd"/><stop offset="0.222" stop-color="#0d0dfe"/><stop offset="0.228" stop-color="#0d0dfe"/><stop offset="0.239" stop-color="#1717fd"/><stop offset="0.263" stop-color="#3939f6"/><stop offset="0.275" stop-color="#4545f4"/><stop offset="0.286" stop-color="#4b4bf2"/><stop offset="0.298" stop-color="#4d4df2"/><stop offset="0.374" stop-color="#4949f3"/><stop offset="0.444" stop-color="#4b4bf2"/><stop offset="0.461" stop-color="#4646f3"/><stop offset="0.485" stop-color="#3a3af6"/><stop offset="0.496" stop-color="#3737f6"/><stop offset="0.508" stop-color="#3939f6"/><stop offset="0.537" stop-color="#4848f3"/><stop offset="0.555" stop-color="#4c4cf2"/><stop offset="0.613" stop-color="#4949f3"/><stop offset="0.701" stop-color="#4d4df2"/><stop offset="0.713" stop-color="#4949f3"/><stop offset="0.724" stop-color="#4141f4"/><stop offset="0.759" stop-color="#1212fe"/><stop offset="0.771" stop-color="#0d0dfe"/><stop offset="0.783" stop-color="#1414fd"/><stop offset="0.812" stop-color="#3a3af6"/><stop offset="0.824" stop-color="#4242f4"/><stop offset="0.835" stop-color="#4747f3"/><stop offset="0.929" stop-color="#4f4ff1"/><stop offset="0.999" stop-color="#4c4cf2"/></linearGradient>
<linearGradient id="d27"><stop offset="0" stop-color="#4f4ff2"/><stop offset="0.07" stop-color="#5151f1"/><stop offset="0.164" stop-color="#4848f3"/><stop offset="0.181" stop-color="#3e3ef5"/><stop offset="0.193" stop-color="#3030f8"/><stop offset="0.21" stop-color="#1818fc"/><stop offset="0.222" stop-color="#0f0ffe"/><stop offset="0.228" stop-color="#0f0ffe"/><stop offset="0.234" stop-color="#1313fd"/><stop offset="0.239" stop-color="#1919fc"/><stop offset="0.263" stop-color="#3c3cf5"/><stop offset="0.275" stop-color="#4848f3"/><stop offset="0.286" stop-color="#4e4ef2"/><stop offset="0.298" stop-color="#5050f1"/><stop offset="0.374" stop-color="#4b4bf2"/><stop offset="0.444" stop-color="#4d4df2"/><stop offset="0.461" stop-color="#4848f3"/><stop offset="0.485" stop-color="#3d3df5"/><stop offset="0.496" stop-color="#3a3af6"/><stop offset="0.508" stop-color="#3c3cf5"/><stop offset="0.537" stop-color="#4a4af2"/><stop offset="0.555" stop-color="#4e4ef2"/><stop offset="0.613" stop-color="#4b4bf2"/><stop offset="0.701" stop-color="#4f4ff1"/><stop offset="0.713" stop-color="#4c4cf2"/><stop offset="0.724" stop-color="#4444f4"/><stop offset="0.759" stop-color="#1414fd"/><stop offset="0.765" stop-color="#1010fe"/><stop offset="0.771" stop-color="#0f0ffe"/><stop offset="0.783" stop-color="#1717fd"/><stop offset="0.812" stop-color="#3c3cf5"/><stop offset="0.824" stop-color="#4545f3"/><stop offset="0.835" stop-color="#4949f3"/><stop offset="0.929" stop-color="#5151f1"/><stop offset="0.999" stop-color="#4e4ef2"/></linearGradient>
<linearGradient id="d28"><stop offset="0" stop-color="#5151f1"/><stop offset="0.064" stop-color="#5454f1"/><stop offset="0.164" stop-color="#4a4af2"/><stop offset="0.181" stop-color="#4040f4"/><stop offset="0.193" stop-color="#3333f7"/><stop offset="0.21" stop-color="#1a1afc"/><stop offset="0.222" stop-color="#1111fe"/><stop offset="0.228" stop-color="#1111fe"/><stop offset="0.239" stop-color="#1b1bfc"/><stop offset="0.257" stop-color="#3737f6"/><stop offset="0.269" stop-color="#4646f3"/><stop offset="0.28" stop-color="#4e4ef2"/><stop offset="0.292" stop-color="#5252f1"/><stop offset="0.38" stop-color="#4e4ef2"/><stop offset="0.444" stop-color="#5050f1"/><stop offset="0.456" stop-color="#4d4df2"/><stop offset="0.485" stop-color="#3f3ff5"/><stop offset="0.496" stop-color="#3d3df5"/><stop offset="0.508" stop-color="#3f3ff5"/><stop offset="0.532" stop-color="#4b4bf2"/><stop offset="0.549" stop-color="#5050f1"/><stop offset="0.619" stop-color="#4e4ef2"/><stop offset="0.701" stop-color="#5252f1"/><stop offset="0.713" stop-color="#4f4ff2"/><stop offset="0.724" stop-color="#4747f3"/><stop offset="0.736" stop-color="#3838f6"/><stop offset="0.754" stop-color="#1d1dfb"/><stop offset="0.759" stop-color="#1616fd"/><stop offset="0.765" stop-color="#1212fd"/><stop offset="0.771" stop-color="#1111fe"/><stop offset="0.783" stop-color="#1919fc"/><stop offset="0.812" stop-color="#3f3ff5"/><stop offset="0.829" stop-color="#4a4af3"/><stop offset="0.929" stop-color="#5454f1"/><stop offset="0.999" stop-color="#5050f1"/></linearGradient>
<linearGradient id="d29"><stop offset="0" stop-color="#5353f1"/><stop offset="0.064" stop-color="#5757f0"/><stop offset="0.164" stop-color="#4d4df2"/><stop offset="0.181" stop-color="#4343f4"/><stop offset="0.193" stop-color="#3636f6"/><stop offset="0.21" stop-color="#1d1dfb"/><stop offset="0.222" stop-color="#1313fd"/><stop offset="0.228" stop-color="#1414fd"/><stop offset="0.234" stop-color="#1818fc"/><stop offset="0.269" stop-color="#4949f3"/><stop offset="0.28" stop-color="#5252f1"/><stop offset="0.292" stop-color="#5555f0"/><stop offset="0.374" stop-color="#5050f1"/><stop offset="0.444" stop-color="#5353f1"/><stop offset="0.456" stop-color="#5050f1"/><stop offset="0.485" stop-color="#4242f4"/><stop offset="0.496" stop-color="#4040f5"/><stop offset="0.508" stop-color="#4242f4"/><stop offset="0.532" stop-color="#4d4df2"/><stop offset="0.549" stop-color="#5252f1"/><stop offset="0.619" stop-color="#5050f1"/><stop offset="0.701" stop-color="#5555f0"/><stop offset="0.713" stop-color="#5252f1"/><stop offset="0.724" stop-color="#4a4af2"/><stop offset="0.736" stop-color="#3c3cf5"/><stop offset="0.759" stop-color="#1919fc"/><stop offset="0.765" stop-color="#1414fd"/><stop offset="0.771" stop-color="#1313fd"/><stop offset="0.783" stop-color="#1b1bfc"/><stop offset="0.8" stop-color="#3434f7"/><stop offset="0.812" stop-color="#4242f4"/><stop offset="0.829" stop-color="#4c4cf2"/><stop offset="0.929" stop-color="#5757f0"/><stop offset="0.999" stop-color="#5252f1"/></linearGradient>
<linearGradient id="d30"><stop offset="0" stop-color="#5656f0"/><stop offset="0.064" stop-color="#5959f0"/><stop offset="0.164" stop-color="#4f4ff2"/><stop offset="0.181" stop-color="#4646f3"/><stop offset="0.193" stop-color="#3939f6"/><stop offset="0.21" stop-color="#2020fb"/><stop offset="0.222" stop-color="#1616fd"/><stop offset="0.228" stop-color="#1717fd"/><stop offset="0.234" stop-color="#1b1bfc"/><stop offset="0.239" stop-color="#2222fa"/><stop offset="0.257" stop-color="#3e3ef5"/><stop offset="0.269" stop-color="#4d4df2"/><stop offset="0.28" stop-color="#5555f0"/><stop offset="0.292" stop-color="#5858f0"/><stop offset="0.374" stop-color="#5252f1"/><stop offset="0.444" stop-color="#5555f0"/><stop offset="0.456" stop-color="#5353f1"/><stop offset="0.485" stop-color="#4646f3"/><stop offset="0.496" stop-color="#4343f4"/><stop offset="0.508" stop-color="#4545f3"/><stop offset="0.532" stop-color="#5050f1"/><stop offset="0.549" stop-color="#5555f0"/><stop offset="0.619" stop-color="#5252f1"/><stop offset="0.701" stop-color="#5858f0"/><stop offset="0.713" stop-color="#5555f0"/><stop offset="0.724" stop-color="#4e4ef2"/><stop offset="0.736" stop-color="#4040f5"/><stop offset="0.759" stop-color="#1c1cfc"/><stop offset="0.765" stop-color="#1717fc"/><stop offset="0.771" stop-color="#1616fd"/><stop offset="0.783" stop-color="#1e1efb"/><stop offset="0.8" stop-color="#3737f6"/><stop offset="0.812" stop-color="#4545f3"/><stop offset="0.829" stop-color="#4f4ff2"/><stop offset="0.929" stop-color="#5959f0"/><stop offset="0.999" stop-color="#5555f0"/></linearGradient>
<linearGradient id="d31"><stop offset="0" stop-color="#5858f0"/><stop offset="0.064" stop-color="#5c5cef"/><stop offset="0.164" stop-color="#5252f1"/><stop offset="0.175" stop-color="#4d4df2"/><stop offset="0.187" stop-color="#4444f4"/><stop offset="0.21" stop-color="#2323fa"/><stop offset="0.222" stop-color="#1919fc"/><stop offset="0.228" stop-color="#1919fc"/><stop offset="0.234" stop-color="#1d1dfb"/><stop offset="0.239" stop-color="#2525fa"/><stop offset="0.257" stop-color="#4242f4"/><stop offset="0.269" stop-color="#5050f1"/><stop offset="0.28" stop-color="#5858f0"/><stop offset="0.292" stop-color="#5b5bef"/><stop offset="0.38" stop-color="#5454f0"/><stop offset="0.444" stop-color="#5858f0"/><stop offset="0.456" stop-color="#5656f0"/><stop offset="0.485" stop-color="#4a4af3"/><stop offset="0.496" stop-color="#4747f3"/><stop offset="0.508" stop-color="#4949f3"/><stop offset="0.532" stop-color="#5454f1"/><stop offset="0.549" stop-color="#5858f0"/><stop offset="0.613" stop-color="#5454f0"/><stop offset="0.689" stop-color="#5b5bef"/><stop offset="0.707" stop-color="#5a5aef"/><stop offset="0.724" stop-color="#5151f1"/><stop offset="0.736" stop-color="#4343f4"/><stop offset="0.759" stop-color="#1f1ffb"/><stop offset="0.765" stop-color="#1a1afc"/><stop offset="0.771" stop-color="#1919fc"/><stop offset="0.777" stop-color="#1c1cfc"/><stop offset="0.783" stop-color="#2222fa"/><stop offset="0.8" stop-color="#3b3bf5"/><stop offset="0.812" stop-color="#4848f3"/><stop offset="0.829" stop-color="#5252f1"/><stop offset="0.929" stop-color="#5c5cef"/><stop offset="0.999" stop-color="#5858f0"/></linearGradient>
<linearGradient id="d32"><stop offset="0" stop-color="#5b5bef"/><stop offset="0.041" stop-color="#5f5fee"/><stop offset="0.07" stop-color="#5f5fee"/><stop offset="0.169" stop-color="#5353f1"/><stop offset="0.187" stop-color="#4848f3"/><stop offset="0.21" stop-color="#2626f9"/><stop offset="0.222" stop-color="#1c1cfb"/><stop offset="0.228" stop-color="#1c1cfb"/><stop offset="0.234" stop-color="#2020fb"/><stop offset="0.239" stop-color="#2828f9"/><stop offset="0.257" stop-color="#4545f3"/><stop offset="0.269" stop-color="#5454f1"/><stop offset="0.28" stop-color="#5b5bef"/><stop offset="0.292" stop-color="#5e5eef"/><stop offset="0.38" stop-color="#5757f0"/><stop offset="0.444" stop-color="#5c5cef"/><stop offset="0.456" stop-color="#5a5aef"/><stop offset="0.485" stop-color="#4f4ff2"/><stop offset="0.496" stop-color="#4d4df2"/><stop offset="0.549" stop-color="#5c5cef"/><stop offset="0.613" stop-color="#5757f0"/><stop offset="0.689" stop-color="#5e5eef"/><stop offset="0.707" stop-color="#5d5def"/><stop offset="0.724" stop-color="#5555f0"/><stop offset="0.736" stop-color="#4747f3"/><stop offset="0.759" stop-color="#2222fa"/><stop offset="0.765" stop-color="#1d1dfb"/><stop offset="0.771" stop-color="#1c1cfc"/><stop offset="0.777" stop-color="#1f1ffb"/><stop offset="0.783" stop-color="#2525fa"/><stop offset="0.8" stop-color="#3f3ff5"/><stop offset="0.812" stop-color="#4c4cf2"/><stop offset="0.829" stop-color="#5555f0"/><stop offset="0.929" stop-color="#5f5fee"/><stop offset="0.999" stop-color="#5b5bef"/></linearGradient>
<linearGradient id="d33"><stop offset="0" stop-color="#5e5eef"/><stop offset="0.064" stop-color="#6262ee"/><stop offset="0.169" stop-color="#5757f0"/><stop offset="0.187" stop-color="#4b4bf2"/><stop offset="0.21" stop-color="#2929f9"/><stop offset="0.222" stop-color="#1f1ffb"/><stop offset="0.228" stop-color="#1f1ffb"/><stop offset="0.234" stop-color="#2323fa"/><stop offset="0.239" stop-color="#2b2bf9"/><stop offset="0.257" stop-color="#4949f3"/><stop offset="0.269" stop-color="#5757f0"/><stop offset="0.28" stop-color="#5e5eef"/><stop offset="0.292" stop-color="#6161ee"/><stop offset="0.38" stop-color="#5a5aef"/><stop offset="0.45" stop-color="#5e5eef"/><stop offset="0.496" stop-color="#5353f1"/><stop offset="0.549" stop-color="#5f5fee"/><stop offset="0.613" stop-color="#5a5aef"/><stop offset="0.707" stop-color="#6060ee"/><stop offset="0.718" stop-color="#5c5cef"/><stop offset="0.73" stop-color="#5353f1"/><stop offset="0.759" stop-color="#2525fa"/><stop offset="0.765" stop-color="#2020fb"/><stop offset="0.771" stop-color="#1f1ffb"/><stop offset="0.777" stop-color="#2121fa"/><stop offset="0.783" stop-color="#2828f9"/><stop offset="0.806" stop-color="#4a4af3"/><stop offset="0.824" stop-color="#5656f0"/><stop offset="0.929" stop-color="#6262ee"/><stop offset="0.999" stop-color="#5e5eef"/></linearGradient>
<linearGradient id="d34"><stop offset="0" stop-color="#6161ee"/><stop offset="0.064" stop-color="#6565ed"/><stop offset="0.169" stop-color="#5a5aef"/><stop offset="0.187" stop-color="#4f4ff2"/><stop offset="0.21" stop-color="#2d2df8"/><stop offset="0.216" stop-color="#2626fa"/><stop offset="0.222" stop-color="#2222fa"/><stop offset="0.228" stop-color="#2222fa"/><stop offset="0.234" stop-color="#2626f9"/><stop offset="0.239" stop-color="#2e2ef8"/><stop offset="0.257" stop-color="#4d4df2"/><stop offset="0.269" stop-color="#5b5bef"/><stop offset="0.28" stop-color="#6262ee"/><stop offset="0.292" stop-color="#6464ee"/><stop offset="0.38" stop-color="#5d5def"/><stop offset="0.45" stop-color="#6262ee"/><stop offset="0.496" stop-color="#5a5aef"/><stop offset="0.543" stop-color="#6262ee"/><stop offset="0.613" stop-color="#5d5def"/><stop offset="0.707" stop-color="#6363ee"/><stop offset="0.718" stop-color="#6060ee"/><stop offset="0.73" stop-color="#5656f0"/><stop offset="0.759" stop-color="#2828f9"/><stop offset="0.765" stop-color="#2222fa"/><stop offset="0.771" stop-color="#2121fa"/><stop offset="0.777" stop-color="#2424fa"/><stop offset="0.783" stop-color="#2b2bf9"/><stop offset="0.806" stop-color="#4e4ef2"/><stop offset="0.812" stop-color="#5353f1"/><stop offset="0.824" stop-color="#5959f0"/><stop offset="0.929" stop-color="#6565ed"/><stop offset="0.999" stop-color="#6060ee"/></linearGradient>
<linearGradient id="d35"><stop offset="0" stop-color="#6464ed"/><stop offset="0.064" stop-color="#6868ed"/><stop offset="0.169" stop-color="#5d5def"/><stop offset="0.187" stop-color="#5252f1"/><stop offset="0.193" stop-color="#4c4cf2"/><stop offset="0.21" stop-color="#3030f8"/><stop offset="0.216" stop-color="#2929f9"/><stop offset="0.222" stop-color="#2424fa"/><stop offset="0.228" stop-color="#2525fa"/><stop offset="0.234" stop-color="#2929f9"/><stop offset="0.239" stop-color="#3131f7"/><stop offset="0.257" stop-color="#5151f1"/><stop offset="0.269" stop-color="#5f5fee"/><stop offset="0.286" stop-color="#6666ed"/><stop offset="0.38" stop-color="#6060ee"/><stop offset="0.45" stop-color="#6666ed"/><stop offset="0.496" stop-color="#6161ee"/><stop offset="0.543" stop-color="#6666ed"/><stop offset="0.613" stop-color="#6060ee"/><stop offset="0.707" stop-color="#6767ed"/><stop offset="0.718" stop-color="#6363ee"/><stop offset="0.73" stop-color="#5a5aef"/><stop offset="0.736" stop-color="#5252f1"/><stop offset="0.759" stop-color="#2b2bf9"/><stop offset="0.765" stop-color="#2525fa"/><stop offset="0.771" stop-color="#2424fa"/><stop offset="0.777" stop-color="#2727f9"/><stop offset="0.783" stop-color="#2e2ef8"/><stop offset="0.806" stop-color="#5151f1"/><stop offset="0.812" stop-color="#5757f0"/><stop offset="0.824" stop-color="#5d5def"/><stop offset="0.935" stop-color="#6868ed"/><stop offset="0.999" stop-color="#6363ee"/></linearGradient>
<linearGradient id="d36"><stop offset="0" stop-color="#6767ed"/><stop offset="0.035" stop-color="#6b6bec"/><stop offset="0.064" stop-color="#6b6bec"/><stop offset="0.169" stop-color="#6060ee"/><stop offset="0.187" stop-color="#5656f0"/><stop offset="0.199" stop-color="#4747f3"/><stop offset="0.21" stop-color="#3333f7"/><stop offset="0.216" stop-color="#2c2cf8"/><stop offset="0.222" stop-color="#2727f9"/><stop offset="0.228" stop-color="#2828f9"/><stop offset="0.234" stop-color="#2d2df8"/><stop offset="0.257" stop-color="#5555f0"/><stop offset="0.263" stop-color="#5d5def"/><stop offset="0.275" stop-color="#6767ed"/><stop offset="0.286" stop-color="#6a6aec"/><stop offset="0.38" stop-color="#6262ee"/><stop offset="0.409" stop-color="#6464ed"/><stop offset="0.456" stop-color="#6b6bec"/><stop offset="0.496" stop-color="#6767ed"/><stop offset="0.537" stop-color="#6b6bec"/><stop offset="0.613" stop-color="#6262ee"/><stop offset="0.707" stop-color="#6a6aec"/><stop offset="0.718" stop-color="#6868ed"/><stop offset="0.73" stop-color="#5f5fee"/><stop offset="0.736" stop-color="#5757f0"/><stop offset="0.759" stop-color="#2e2ef8"/><stop offset="0.765" stop-color="#2828f9"/><stop offset="0.771" stop-color="#2727f9"/><stop offset="0.777" stop-color="#2a2af9"/><stop offset="0.783" stop-color="#3232f7"/><stop offset="0.8" stop-color="#4e4ef2"/><stop offset="0.806" stop-color="#5555f0"/><stop offset="0.812" stop-color="#5a5aef"/><stop offset="0.824" stop-color="#6060ee"/><stop offset="0.935" stop-color="#6c6cec"/><stop offset="0.999" stop-color="#6666ed"/></linearGradient>
<linearGradient id="d37"><stop offset="0" stop-color="#6a6aec"/><stop offset="0.035" stop-color="#6f6feb"/><stop offset="0.064" stop-color="#6f6feb"/><stop offset="0.169" stop-color="#6363ee"/><stop offset="0.187" stop-color="#5a5aef"/><stop offset="0.193" stop-color="#5353f1"/><stop offset="0.216" stop-color="#2f2ff8"/><stop offset="0.222" stop-color="#2b2bf9"/><stop offset="0.228" stop-color="#2b2bf8"/><stop offset="0.234" stop-color="#3131f7"/><stop offset="0.257" stop-color="#5a5aef"/><stop offset="0.263" stop-color="#6262ee"/><stop offset="0.275" stop-color="#6b6bec"/><stop offset="0.286" stop-color="#6e6eeb"/><stop offset="0.38" stop-color="#6565ed"/><stop offset="0.403" stop-color="#6666ed"/><stop offset="0.456" stop-color="#6f6feb"/><stop offset="0.496" stop-color="#6a6aec"/><stop offset="0.537" stop-color="#6f6feb"/><stop offset="0.59" stop-color="#6666ed"/><stop offset="0.613" stop-color="#6565ed"/><stop offset="0.695" stop-color="#6e6eeb"/><stop offset="0.713" stop-color="#6d6dec"/><stop offset="0.724" stop-color="#6868ed"/><stop offset="0.73" stop-color="#6363ee"/><stop offset="0.742" stop-color="#5252f1"/><stop offset="0.759" stop-color="#3232f7"/><stop offset="0.765" stop-color="#2c2cf8"/><stop offset="0.771" stop-color="#2b2bf9"/><stop offset="0.777" stop-color="#2e2ef8"/><stop offset="0.783" stop-color="#3535f7"/><stop offset="0.8" stop-color="#5151f1"/><stop offset="0.806" stop-color="#5959f0"/><stop offset="0.812" stop-color="#5e5eef"/><stop offset="0.824" stop-color="#6363ee"/><stop offset="0.935" stop-color="#6f6feb"/><stop offset="0.999" stop-color="#6a6aec"/></linearGradient>
<linearGradient id="d38"><stop offset="0" stop-color="#6e6eec"/><stop offset="0.035" stop-color="#7272eb"/><stop offset="0.064" stop-color="#7373eb"/><stop offset="0.175" stop-color="#6565ed"/><stop offset="0.187" stop-color="#5e5eef"/><stop offset="0.193" stop-color="#5858f0"/><stop offset="0.21" stop-color="#3c3cf5"/><stop offset="0.216" stop-color="#3434f7"/><stop offset="0.222" stop-color="#2f2ff8"/><stop offset="0.228" stop-color="#3030f8"/><stop offset="0.234" stop-color="#3535f7"/><stop offset="0.257" stop-color="#5f5fee"/><stop offset="0.263" stop-color="#6666ed"/><stop offset="0.275" stop-color="#6f6feb"/><stop offset="0.286" stop-color="#7272eb"/><stop offset="0.38" stop-color="#6969ed"/><stop offset="0.403" stop-color="#6a6aec"/><stop offset="0.456" stop-color="#7272eb"/><stop offset="0.496" stop-color="#6969ec"/><stop offset="0.537" stop-color="#7272eb"/><stop offset="0.613" stop-color="#6969ed"/><stop offset="0.695" stop-color="#7272eb"/><stop offset="0.713" stop-color="#7171eb"/><stop offset="0.724" stop-color="#6d6dec"/><stop offset="0.73" stop-color="#6868ed"/><stop offset="0.742" stop-color="#5757f0"/><stop offset="0.759" stop-color="#3737f6"/><stop offset="0.765" stop-color="#3030f8"/><stop offset="0.771" stop-color="#2f2ff8"/><stop offset="0.777" stop-color="#3232f7"/><stop offset="0.783" stop-color="#3a3af6"/><stop offset="0.794" stop-color="#4d4df2"/><stop offset="0.806" stop-color="#5d5def"/><stop offset="0.812" stop-color="#6262ee"/><stop offset="0.824" stop-color="#6666ed"/><stop offset="0.935" stop-color="#7373eb"/><stop offset="0.999" stop-color="#6d6dec"/></linearGradient>
<linearGradient id="d39"><stop offset="0" stop-color="#7272eb"/><stop offset="0.035" stop-color="#7676ea"/><stop offset="0.064" stop-color="#7676ea"/><stop offset="0.175" stop-color="#6969ec"/><stop offset="0.187" stop-color="#6363ee"/><stop offset="0.193" stop-color="#5d5def"/><stop offset="0.216" stop-color="#3939f6"/><stop offset="0.222" stop-color="#3535f7"/><stop offset="0.228" stop-color="#3535f7"/><stop offset="0.234" stop-color="#3a3af6"/><stop offset="0.251" stop-color="#5a5aef"/><stop offset="0.263" stop-color="#6b6bec"/><stop offset="0.275" stop-color="#7373ea"/><stop offset="0.286" stop-color="#7676ea"/><stop offset="0.38" stop-color="#6c6cec"/><stop offset="0.456" stop-color="#7575ea"/><stop offset="0.467" stop-color="#7171eb"/><stop offset="0.485" stop-color="#6565ed"/><stop offset="0.496" stop-color="#6161ee"/><stop offset="0.508" stop-color="#6565ed"/><stop offset="0.526" stop-color="#7171eb"/><stop offset="0.537" stop-color="#7575ea"/><stop offset="0.613" stop-color="#6c6cec"/><stop offset="0.695" stop-color="#7575ea"/><stop offset="0.713" stop-color="#7575ea"/><stop offset="0.724" stop-color="#7171eb"/><stop offset="0.73" stop-color="#6c6cec"/><stop offset="0.742" stop-color="#5c5cef"/><stop offset="0.759" stop-color="#3c3cf5"/><stop offset="0.765" stop-color="#3636f6"/><stop offset="0.771" stop-color="#3434f7"/><stop offset="0.777" stop-color="#3838f6"/><stop offset="0.783" stop-color="#3f3ff5"/><stop offset="0.8" stop-color="#5b5bef"/><stop offset="0.806" stop-color="#6262ee"/><stop offset="0.818" stop-color="#6969ec"/><stop offset="0.929" stop-color="#7676ea"/><stop offset="0.958" stop-color="#7676ea"/><stop offset="0.999" stop-color="#7171eb"/></linearGradient>
<linearGradient id="d40"><stop offset="0" stop-color="#7575ea"/><stop offset="0.035" stop-color="#7a7ae9"/><stop offset="0.064" stop-color="#7a7ae9"/><stop offset="0.175" stop-color="#6d6dec"/><stop offset="0.187" stop-color="#6868ed"/><stop offset="0.193" stop-color="#6262ee"/><stop offset="0.216" stop-color="#3f3ff5"/><stop offset="0.222" stop-color="#3b3bf5"/><stop offset="0.228" stop-color="#3b3bf5"/><stop offset="0.234" stop-color="#4141f4"/><stop offset="0.251" stop-color="#6060ee"/><stop offset="0.263" stop-color="#7070eb"/><stop offset="0.275" stop-color="#7878ea"/><stop offset="0.286" stop-color="#7a7ae9"/><stop offset="0.38" stop-color="#7070eb"/><stop offset="0.45" stop-color="#7878e9"/><stop offset="0.461" stop-color="#7474ea"/><stop offset="0.485" stop-color="#5b5bef"/><stop offset="0.496" stop-color="#5454f1"/><stop offset="0.508" stop-color="#5a5aef"/><stop offset="0.532" stop-color="#7373ea"/><stop offset="0.543" stop-color="#7878ea"/><stop offset="0.613" stop-color="#7070eb"/><stop offset="0.713" stop-color="#7979e9"/><stop offset="0.724" stop-color="#7676ea"/><stop offset="0.73" stop-color="#7171eb"/><stop offset="0.742" stop-color="#6262ee"/><stop offset="0.759" stop-color="#4242f4"/><stop offset="0.765" stop-color="#3c3cf5"/><stop offset="0.771" stop-color="#3a3af6"/><stop offset="0.777" stop-color="#3e3ef5"/><stop offset="0.783" stop-color="#4545f3"/><stop offset="0.8" stop-color="#6161ee"/><stop offset="0.806" stop-color="#6767ed"/><stop offset="0.818" stop-color="#6d6dec"/><stop offset="0.935" stop-color="#7a7ae9"/><stop offset="0.964" stop-color="#7979e9"/><stop offset="0.999" stop-color="#7474ea"/></linearGradient>
<linearGradient id="d41"><stop offset="0" stop-color="#7979e9"/><stop offset="0.035" stop-color="#7e7ee8"/><stop offset="0.064" stop-color="#7e7ee8"/><stop offset="0.175" stop-color="#7171eb"/><stop offset="0.187" stop-color="#6c6cec"/><stop offset="0.193" stop-color="#6767ed"/><stop offset="0.216" stop-color="#4646f3"/><stop offset="0.222" stop-color="#4242f4"/><stop offset="0.228" stop-color="#4242f4"/><stop offset="0.234" stop-color="#4848f3"/><stop offset="0.251" stop-color="#6666ed"/><stop offset="0.263" stop-color="#7575ea"/><stop offset="0.269" stop-color="#7a7ae9"/><stop offset="0.28" stop-color="#7d7de8"/><stop offset="0.38" stop-color="#7373ea"/><stop offset="0.45" stop-color="#7b7be9"/><stop offset="0.461" stop-color="#7474ea"/><stop offset="0.467" stop-color="#6d6dec"/><stop offset="0.485" stop-color="#4e4ef2"/><stop offset="0.491" stop-color="#4747f3"/><stop offset="0.496" stop-color="#4444f4"/><stop offset="0.502" stop-color="#4646f3"/><stop offset="0.508" stop-color="#4d4df2"/><stop offset="0.526" stop-color="#6b6bec"/><stop offset="0.532" stop-color="#7373eb"/><stop offset="0.543" stop-color="#7a7ae9"/><stop offset="0.555" stop-color="#7b7be9"/><stop offset="0.59" stop-color="#7575ea"/><stop offset="0.619" stop-color="#7474ea"/><stop offset="0.713" stop-color="#7d7de8"/><stop offset="0.73" stop-color="#7777ea"/><stop offset="0.742" stop-color="#6868ed"/><stop offset="0.759" stop-color="#4949f3"/><stop offset="0.765" stop-color="#4343f4"/><stop offset="0.771" stop-color="#4242f4"/><stop offset="0.777" stop-color="#4545f3"/><stop offset="0.783" stop-color="#4c4cf2"/><stop offset="0.8" stop-color="#6666ed"/><stop offset="0.806" stop-color="#6c6cec"/><stop offset="0.818" stop-color="#7171eb"/><stop offset="0.935" stop-color="#7e7ee8"/><stop offset="0.964" stop-color="#7d7de9"/><stop offset="0.999" stop-color="#7878e9"/></linearGradient>
<linearGradient id="d42"><stop offset="0" stop-color="#7d7de9"/><stop offset="0.035" stop-color="#8181e8"/><stop offset="0.064" stop-color="#8282e8"/><stop offset="0.175" stop-color="#7575ea"/><stop offset="0.187" stop-color="#7171eb"/><stop offset="0.193" stop-color="#6d6dec"/><stop offset="0.216" stop-color="#4e4ef2"/><stop offset="0.222" stop-color="#4a4af3"/><stop offset="0.228" stop-color="#4a4af2"/><stop offset="0.234" stop-color="#4f4ff1"/><stop offset="0.257" stop-color="#7575ea"/><stop offset="0.263" stop-color="#7b7be9"/><stop offset="0.275" stop-color="#8080e8"/><stop offset="0.298" stop-color="#8181e8"/><stop offset="0.38" stop-color="#7777ea"/><stop offset="0.444" stop-color="#7f7fe8"/><stop offset="0.456" stop-color="#7a7ae9"/><stop offset="0.461" stop-color="#7474ea"/><stop offset="0.467" stop-color="#6b6bec"/><stop offset="0.485" stop-color="#4646f3"/><stop offset="0.491" stop-color="#3d3df5"/><stop offset="0.496" stop-color="#3939f6"/><stop offset="0.502" stop-color="#3c3cf5"/><stop offset="0.508" stop-color="#4444f4"/><stop offset="0.526" stop-color="#6969ec"/><stop offset="0.532" stop-color="#7373eb"/><stop offset="0.537" stop-color="#7979e9"/><stop offset="0.549" stop-color="#7f7fe8"/><stop offset="0.613" stop-color="#7777ea"/><stop offset="0.695" stop-color="#8181e8"/><stop offset="0.718" stop-color="#8181e8"/><stop offset="0.73" stop-color="#7c7ce9"/><stop offset="0.736" stop-color="#7676ea"/><stop offset="0.759" stop-color="#5151f1"/><stop offset="0.765" stop-color="#4b4bf2"/><stop offset="0.771" stop-color="#4949f3"/><stop offset="0.777" stop-color="#4d4df2"/><stop offset="0.8" stop-color="#6c6cec"/><stop offset="0.806" stop-color="#7171eb"/><stop offset="0.818" stop-color="#7575ea"/><stop offset="0.935" stop-color="#8282e8"/><stop offset="0.964" stop-color="#8181e8"/><stop offset="0.999" stop-color="#7c7ce9"/></linearGradient>
<linearGradient id="d43"><stop offset="0" stop-color="#8181e8"/><stop offset="0.035" stop-color="#8585e7"/><stop offset="0.064" stop-color="#8686e7"/><stop offset="0.181" stop-color="#7979e9"/><stop offset="0.193" stop-color="#7373eb"/><stop offset="0.216" stop-color="#5656f0"/><stop offset="0.222" stop-color="#5252f1"/><stop offset="0.228" stop-color="#5353f1"/><stop offset="0.234" stop-color="#5858f0"/><stop offset="0.257" stop-color="#7a7ae9"/><stop offset="0.263" stop-color="#8080e8"/><stop offset="0.275" stop-color="#8585e7"/><stop offset="0.298" stop-color="#8585e7"/><stop offset="0.38" stop-color="#7b7be9"/><stop offset="0.444" stop-color="#8383e7"/><stop offset="0.456" stop-color="#7e7ee8"/><stop offset="0.461" stop-color="#7878ea"/><stop offset="0.473" stop-color="#6363ee"/><stop offset="0.485" stop-color="#4a4af3"/><stop offset="0.491" stop-color="#4141f4"/><stop offset="0.496" stop-color="#3d3df5"/><stop offset="0.502" stop-color="#4040f5"/><stop offset="0.508" stop-color="#4848f3"/><stop offset="0.526" stop-color="#6c6cec"/><stop offset="0.532" stop-color="#7676ea"/><stop offset="0.537" stop-color="#7d7de9"/><stop offset="0.549" stop-color="#8383e7"/><stop offset="0.613" stop-color="#7b7be9"/><stop offset="0.695" stop-color="#8585e7"/><stop offset="0.718" stop-color="#8585e7"/><stop offset="0.73" stop-color="#8181e8"/><stop offset="0.736" stop-color="#7c7ce9"/><stop offset="0.759" stop-color="#5959f0"/><stop offset="0.765" stop-color="#5353f1"/><stop offset="0.771" stop-color="#5252f1"/><stop offset="0.777" stop-color="#5555f0"/><stop offset="0.8" stop-color="#7272eb"/><stop offset="0.818" stop-color="#7a7ae9"/><stop offset="0.935" stop-color="#8686e7"/><stop offset="0.964" stop-color="#8585e7"/><stop offset="0.999" stop-color="#8080e8"/></linearGradient>
<linearGradient id="d44"><stop offset="0" stop-color="#8585e7"/><stop offset="0.035" stop-color="#8989e6"/><stop offset="0.064" stop-color="#8a8ae6"/><stop offset="0.14" stop-color="#8080e8"/><stop offset="0.181" stop-color="#7d7de9"/><stop offset="0.193" stop-color="#7878ea"/><stop offset="0.216" stop-color="#5e5eef"/><stop offset="0.222" stop-color="#5b5bef"/><stop offset="0.228" stop-color="#5b5bef"/><stop offset="0.234" stop-color="#6060ee"/><stop offset="0.257" stop-color="#8080e8"/><stop offset="0.263" stop-color="#8585e7"/><stop offset="0.275" stop-color="#8989e6"/><stop offset="0.298" stop-color="#8989e6"/><stop offset="0.38" stop-color="#7f7fe8"/><stop offset="0.444" stop-color="#8787e7"/><stop offset="0.456" stop-color="#8484e7"/><stop offset="0.461" stop-color="#7f7fe8"/><stop offset="0.467" stop-color="#7878e9"/><stop offset="0.485" stop-color="#5959f0"/><stop offset="0.491" stop-color="#5151f1"/><stop offset="0.496" stop-color="#4e4ef2"/><stop offset="0.502" stop-color="#5050f1"/><stop offset="0.508" stop-color="#5757f0"/><stop offset="0.526" stop-color="#7777ea"/><stop offset="0.532" stop-color="#7e7ee8"/><stop offset="0.537" stop-color="#8383e7"/><stop offset="0.549" stop-color="#8787e7"/><stop offset="0.613" stop-color="#7f7fe8"/><stop offset="0.695" stop-color="#8989e6"/><stop offset="0.718" stop-color="#8989e6"/><stop offset="0.736" stop-color="#8181e8"/><stop offset="0.742" stop-color="#7b7be9"/><stop offset="0.759" stop-color="#6161ee"/><stop offset="0.765" stop-color="#5c5cef"/><stop offset="0.771" stop-color="#5b5bef"/><stop offset="0.777" stop-color="#5d5def"/><stop offset="0.8" stop-color="#7777ea"/><stop offset="0.812" stop-color="#7d7de9"/><stop offset="0.935" stop-color="#8a8ae6"/><stop offset="0.964" stop-color="#8989e6"/><stop offset="0.999" stop-color="#8484e7"/></linearGradient>
<linearGradient id="d45"><stop offset="0" stop-color="#8888e6"/><stop offset="0.058" stop-color="#8f8fe5"/><stop offset="0.14" stop-color="#8383e7"/><stop offset="0.181" stop-color="#8181e8"/><stop offset="0.193" stop-color="#7d7de8"/><stop offset="0.216" stop-color="#6767ed"/><stop offset="0.222" stop-color="#6464ed"/><stop offset="0.228" stop-color="#6464ed"/><stop offset="0.234" stop-color="#6969ed"/><stop offset="0.257" stop-color="#8686e7"/><stop offset="0.269" stop-color="#8d8de5"/><stop offset="0.28" stop-color="#8f8fe5"/><stop offset="0.38" stop-color="#8383e7"/><stop offset="0.403" stop-color="#8484e7"/><stop offset="0.456" stop-color="#8d8de6"/><stop offset="0.467" stop-color="#8585e7"/><stop offset="0.485" stop-color="#6f6feb"/><stop offset="0.491" stop-color="#6969ec"/><stop offset="0.496" stop-color="#6767ed"/><stop offset="0.502" stop-color="#6969ed"/><stop offset="0.508" stop-color="#6e6eec"/><stop offset="0.526" stop-color="#8484e7"/><stop offset="0.537" stop-color="#8c8ce6"/><stop offset="0.549" stop-color="#8d8de6"/><stop offset="0.584" stop-color="#8585e7"/><stop offset="0.613" stop-color="#8383e7"/><stop offset="0.718" stop-color="#8e8ee5"/><stop offset="0.736" stop-color="#8787e7"/><stop offset="0.759" stop-color="#6a6aec"/><stop offset="0.765" stop-color="#6565ed"/><stop offset="0.771" stop-color="#6464ee"/><stop offset="0.777" stop-color="#6666ed"/><stop offset="0.8" stop-color="#7d7de9"/><stop offset="0.812" stop-color="#8181e8"/><stop offset="0.859" stop-color="#8484e7"/><stop offset="0.935" stop-color="#8f8fe5"/><stop offset="0.958" stop-color="#8e8ee5"/><stop offset="0.999" stop-color="#8888e6"/></linearGradient>
<linearGradient id="d46"><stop offset="0" stop-color="#8c8ce6"/><stop offset="0.035" stop-color="#9494e4"/><stop offset="0.058" stop-color="#9696e4"/><stop offset="0.134" stop-color="#8888e6"/><stop offset="0.181" stop-color="#8686e7"/><stop offset="0.199" stop-color="#7f7fe8"/><stop offset="0.216" stop-color="#7070eb"/><stop offset="0.222" stop-color="#6d6dec"/><stop offset="0.228" stop-color="#6e6eeb"/><stop offset="0.234" stop-color="#7373ea"/><stop offset="0.257" stop-color="#8f8fe5"/><stop offset="0.269" stop-color="#9494e4"/><stop offset="0.28" stop-color="#9595e4"/><stop offset="0.345" stop-color="#8a8ae6"/><stop offset="0.38" stop-color="#8787e7"/><stop offset="0.415" stop-color="#8a8ae6"/><stop offset="0.456" stop-color="#9696e4"/><stop offset="0.467" stop-color="#9393e4"/><stop offset="0.485" stop-color="#8787e7"/><stop offset="0.496" stop-color="#8282e8"/><stop offset="0.508" stop-color="#8686e7"/><stop offset="0.526" stop-color="#9292e4"/><stop offset="0.537" stop-color="#9696e4"/><stop offset="0.578" stop-color="#8a8ae6"/><stop offset="0.613" stop-color="#8787e7"/><stop offset="0.648" stop-color="#8989e6"/><stop offset="0.695" stop-color="#9393e4"/><stop offset="0.718" stop-color="#9595e4"/><stop offset="0.736" stop-color="#8f8fe5"/><stop offset="0.742" stop-color="#8a8ae6"/><stop offset="0.759" stop-color="#7474ea"/><stop offset="0.765" stop-color="#6f6feb"/><stop offset="0.771" stop-color="#6d6dec"/><stop offset="0.777" stop-color="#6f6feb"/><stop offset="0.794" stop-color="#7e7ee8"/><stop offset="0.806" stop-color="#8484e7"/><stop offset="0.864" stop-color="#8989e6"/><stop offset="0.923" stop-color="#9494e4"/><stop offset="0.958" stop-color="#9595e4"/><stop offset="0.999" stop-color="#8b8be6"/></linearGradient>
<linearGradient id="d47"><stop offset="0" stop-color="#9393e4"/><stop offset="0.041" stop-color="#9c9ce3"/><stop offset="0.07" stop-color="#9b9be3"/><stop offset="0.134" stop-color="#8c8ce6"/><stop offset="0.187" stop-color="#8989e6"/><stop offset="0.199" stop-color="#8686e7"/><stop offset="0.222" stop-color="#7979e9"/><stop offset="0.234" stop-color="#7f7fe8"/><stop offset="0.257" stop-color="#9797e4"/><stop offset="0.275" stop-color="#9c9ce3"/><stop offset="0.304" stop-color="#9999e3"/><stop offset="0.356" stop-color="#8c8ce6"/><stop offset="0.386" stop-color="#8a8ae6"/><stop offset="0.409" stop-color="#8d8de5"/><stop offset="0.461" stop-color="#a0a0e2"/><stop offset="0.496" stop-color="#9a9ae3"/><stop offset="0.532" stop-color="#a0a0e2"/><stop offset="0.584" stop-color="#8e8ee5"/><stop offset="0.613" stop-color="#8a8ae6"/><stop offset="0.637" stop-color="#8c8ce6"/><stop offset="0.689" stop-color="#9999e3"/><stop offset="0.718" stop-color="#9c9ce3"/><stop offset="0.736" stop-color="#9797e3"/><stop offset="0.748" stop-color="#8d8de5"/><stop offset="0.759" stop-color="#8080e8"/><stop offset="0.771" stop-color="#7979e9"/><stop offset="0.806" stop-color="#8989e6"/><stop offset="0.859" stop-color="#8c8ce6"/><stop offset="0.929" stop-color="#9c9ce3"/><stop offset="0.958" stop-color="#9b9be3"/><stop offset="0.999" stop-color="#9292e5"/></linearGradient>
<linearGradient id="d48"><stop offset="0" stop-color="#9a9ae3"/><stop offset="0.035" stop-color="#a2a2e1"/><stop offset="0.064" stop-color="#a3a3e1"/><stop offset="0.146" stop-color="#9090e5"/><stop offset="0.193" stop-color="#8f8fe5"/><stop offset="0.222" stop-color="#8585e7"/><stop offset="0.234" stop-color="#8a8ae6"/><stop offset="0.257" stop-color="#9e9ee2"/><stop offset="0.269" stop-color="#a2a2e1"/><stop offset="0.292" stop-color="#a2a2e1"/><stop offset="0.356" stop-color="#9393e4"/><stop offset="0.386" stop-color="#9090e5"/><stop offset="0.409" stop-color="#9494e4"/><stop offset="0.461" stop-color="#a9a9e0"/><stop offset="0.479" stop-color="#acacdf"/><stop offset="0.526" stop-color="#ababe0"/><stop offset="0.578" stop-color="#9696e4"/><stop offset="0.607" stop-color="#9090e5"/><stop offset="0.637" stop-color="#9292e4"/><stop offset="0.701" stop-color="#a2a2e1"/><stop offset="0.724" stop-color="#a2a2e1"/><stop offset="0.742" stop-color="#9b9be3"/><stop offset="0.759" stop-color="#8b8be6"/><stop offset="0.771" stop-color="#8585e7"/><stop offset="0.8" stop-color="#8f8fe5"/><stop offset="0.853" stop-color="#9191e5"/><stop offset="0.929" stop-color="#a2a2e1"/><stop offset="0.958" stop-color="#a2a2e1"/><stop offset="0.999" stop-color="#9898e3"/></linearGradient>
<linearGradient id="d49"><stop offset="0" stop-color="#a0a0e2"/><stop offset="0.035" stop-color="#a9a9e0"/><stop offset="0.064" stop-color="#aaaae0"/><stop offset="0.14" stop-color="#9898e3"/><stop offset="0.164" stop-color="#9696e4"/><stop offset="0.193" stop-color="#9797e4"/><stop offset="0.222" stop-color="#9090e5"/><stop offset="0.234" stop-color="#9595e4"/><stop offset="0.257" stop-color="#a7a7e0"/><stop offset="0.28" stop-color="#aaaae0"/><stop offset="0.304" stop-color="#a7a7e0"/><stop offset="0.356" stop-color="#9999e3"/><stop offset="0.386" stop-color="#9797e4"/><stop offset="0.415" stop-color="#9c9ce3"/><stop offset="0.473" stop-color="#b6b6dd"/><stop offset="0.496" stop-color="#babadd"/><stop offset="0.52" stop-color="#b6b6dd"/><stop offset="0.578" stop-color="#9c9ce2"/><stop offset="0.607" stop-color="#9797e4"/><stop offset="0.637" stop-color="#9999e3"/><stop offset="0.689" stop-color="#a7a7e0"/><stop offset="0.713" stop-color="#aaaae0"/><stop offset="0.736" stop-color="#a7a7e0"/><stop offset="0.765" stop-color="#9292e4"/><stop offset="0.771" stop-color="#9090e5"/><stop offset="0.8" stop-color="#9797e4"/><stop offset="0.853" stop-color="#9898e3"/><stop offset="0.911" stop-color="#a7a7e0"/><stop offset="0.935" stop-color="#aaaae0"/><stop offset="0.964" stop-color="#a8a8e0"/><stop offset="0.999" stop-color="#9f9fe2"/></linearGradient>
<linearGradient id="d50"><stop offset="0" stop-color="#a7a7e0"/><stop offset="0.035" stop-color="#b0b0df"/><stop offset="0.058" stop-color="#b1b1de"/><stop offset="0.082" stop-color="#aeaedf"/><stop offset="0.146" stop-color="#9d9de2"/><stop offset="0.199" stop-color="#9e9ee2"/><stop offset="0.222" stop-color="#9c9ce3"/><stop offset="0.257" stop-color="#aeaedf"/><stop offset="0.28" stop-color="#b1b1de"/><stop offset="0.304" stop-color="#aeaedf"/><stop offset="0.356" stop-color="#a0a0e2"/><stop offset="0.386" stop-color="#9d9de2"/><stop offset="0.415" stop-color="#a3a3e1"/><stop offset="0.473" stop-color="#bfbfdc"/><stop offset="0.496" stop-color="#c4c4db"/><stop offset="0.52" stop-color="#bfbfdc"/><stop offset="0.578" stop-color="#a3a3e1"/><stop offset="0.607" stop-color="#9d9de2"/><stop offset="0.637" stop-color="#9f9fe2"/><stop offset="0.689" stop-color="#aeaedf"/><stop offset="0.718" stop-color="#b1b1de"/><stop offset="0.736" stop-color="#afafdf"/><stop offset="0.765" stop-color="#9e9ee2"/><stop offset="0.777" stop-color="#9b9be3"/><stop offset="0.794" stop-color="#9e9ee2"/><stop offset="0.847" stop-color="#9d9de2"/><stop offset="0.911" stop-color="#aeaedf"/><stop offset="0.935" stop-color="#b1b1de"/><stop offset="0.964" stop-color="#afafdf"/><stop offset="0.999" stop-color="#a6a6e1"/></linearGradient>
<linearGradient id="d51"><stop offset="0" stop-color="#aeaedf"/><stop offset="0.035" stop-color="#b7b7dd"/><stop offset="0.058" stop-color="#b9b9dd"/><stop offset="0.076" stop-color="#b7b7dd"/><stop offset="0.14" stop-color="#a5a5e1"/><stop offset="0.169" stop-color="#a3a3e1"/><stop offset="0.222" stop-color="#a7a7e0"/><stop offset="0.257" stop-color="#b7b7dd"/><stop offset="0.28" stop-color="#b9b9dd"/><stop offset="0.298" stop-color="#b7b7dd"/><stop offset="0.356" stop-color="#a7a7e0"/><stop offset="0.386" stop-color="#a4a4e1"/><stop offset="0.421" stop-color="#ababe0"/><stop offset="0.473" stop-color="#c5c5da"/><stop offset="0.496" stop-color="#ccccd9"/><stop offset="0.52" stop-color="#c6c6da"/><stop offset="0.578" stop-color="#aaaae0"/><stop offset="0.607" stop-color="#a4a4e1"/><stop offset="0.637" stop-color="#a7a7e0"/><stop offset="0.695" stop-color="#b6b6dd"/><stop offset="0.718" stop-color="#b9b9dd"/><stop offset="0.742" stop-color="#b5b5de"/><stop offset="0.771" stop-color="#a7a7e0"/><stop offset="0.824" stop-color="#a3a3e1"/><stop offset="0.853" stop-color="#a5a5e1"/><stop offset="0.917" stop-color="#b6b6dd"/><stop offset="0.935" stop-color="#b9b9dd"/><stop offset="0.958" stop-color="#b8b8dd"/><stop offset="0.999" stop-color="#adaddf"/></linearGradient>
<linearGradient id="d52"><stop offset="0" stop-color="#b6b6de"/><stop offset="0.035" stop-color="#c0c0db"/><stop offset="0.058" stop-color="#c2c2db"/><stop offset="0.082" stop-color="#bebedc"/><stop offset="0.134" stop-color="#aeaedf"/><stop offset="0.169" stop-color="#aaaae0"/><stop offset="0.222" stop-color="#b1b1de"/><stop offset="0.257" stop-color="#c0c0dc"/><stop offset="0.28" stop-color="#c2c2db"/><stop offset="0.304" stop-color="#bebedc"/><stop offset="0.356" stop-color="#aeaedf"/><stop offset="0.391" stop-color="#ababe0"/><stop offset="0.426" stop-color="#b4b4de"/><stop offset="0.473" stop-color="#ccccd9"/><stop offset="0.496" stop-color="#d2d2d8"/><stop offset="0.52" stop-color="#cdcdd9"/><stop offset="0.572" stop-color="#b2b2de"/><stop offset="0.607" stop-color="#ababe0"/><stop offset="0.637" stop-color="#aeaedf"/><stop offset="0.695" stop-color="#bfbfdc"/><stop offset="0.718" stop-color="#c2c2db"/><stop offset="0.742" stop-color="#bebedc"/><stop offset="0.777" stop-color="#b0b0df"/><stop offset="0.824" stop-color="#aaaae0"/><stop offset="0.859" stop-color="#adaddf"/><stop offset="0.911" stop-color="#bdbddc"/><stop offset="0.935" stop-color="#c1c1db"/><stop offset="0.964" stop-color="#bfbfdc"/><stop offset="0.999" stop-color="#b4b4de"/></linearGradient>
<linearGradient id="d53"><stop offset="0" stop-color="#bebedc"/><stop offset="0.035" stop-color="#c9c9da"/><stop offset="0.058" stop-color="#cbcbd9"/><stop offset="0.076" stop-color="#c8c8da"/><stop offset="0.134" stop-color="#b5b5de"/><stop offset="0.169" stop-color="#b1b1de"/><stop offset="0.216" stop-color="#babadd"/><stop offset="0.257" stop-color="#c9c9da"/><stop offset="0.28" stop-color="#cbcbd9"/><stop offset="0.298" stop-color="#c8c8da"/><stop offset="0.356" stop-color="#b5b5de"/><stop offset="0.391" stop-color="#b2b2de"/><stop offset="0.421" stop-color="#b8b8dd"/><stop offset="0.479" stop-color="#d5d5d7"/><stop offset="0.496" stop-color="#d7d6d6"/><stop offset="0.514" stop-color="#d5d5d7"/><stop offset="0.572" stop-color="#b9b9dd"/><stop offset="0.59" stop-color="#b4b4de"/><stop offset="0.607" stop-color="#b2b2de"/><stop offset="0.637" stop-color="#b5b5de"/><stop offset="0.695" stop-color="#c8c8da"/><stop offset="0.718" stop-color="#cbcbd9"/><stop offset="0.736" stop-color="#c9c9da"/><stop offset="0.8" stop-color="#b5b5de"/><stop offset="0.824" stop-color="#b1b1de"/><stop offset="0.859" stop-color="#b5b5de"/><stop offset="0.917" stop-color="#c8c8da"/><stop offset="0.935" stop-color="#cbcbd9"/><stop offset="0.958" stop-color="#c9c9da"/><stop offset="0.999" stop-color="#bdbddc"/></linearGradient>
<linearGradient id="d54"><stop offset="0" stop-color="#c7c7da"/><stop offset="0.035" stop-color="#d4d4d8"/><stop offset="0.058" stop-color="#d6d6d7"/><stop offset="0.082" stop-color="#d1d1d8"/><stop offset="0.134" stop-color="#bdbddc"/><stop offset="0.169" stop-color="#b9b9dd"/><stop offset="0.204" stop-color="#c0c0db"/><stop offset="0.257" stop-color="#d4d4d8"/><stop offset="0.28" stop-color="#d6d6d7"/><stop offset="0.304" stop-color="#d1d1d8"/><stop offset="0.356" stop-color="#bdbddc"/><stop offset="0.386" stop-color="#b9b9dd"/><stop offset="0.421" stop-color="#c0c0dc"/><stop offset="0.467" stop-color="#d7d7d7"/><stop offset="0.485" stop-color="#d8d0d0"/><stop offset="0.496" stop-color="#d9cfcf"/><stop offset="0.508" stop-color="#d8d0d0"/><stop offset="0.526" stop-color="#d7d7d7"/><stop offset="0.572" stop-color="#c0c0db"/><stop offset="0.607" stop-color="#b9b9dd"/><stop offset="0.637" stop-color="#bdbddc"/><stop offset="0.695" stop-color="#d2d2d8"/><stop offset="0.718" stop-color="#d6d6d7"/><stop offset="0.742" stop-color="#d3d3d8"/><stop offset="0.789" stop-color="#c1c1db"/><stop offset="0.824" stop-color="#b9b9dd"/><stop offset="0.859" stop-color="#bdbddc"/><stop offset="0.911" stop-color="#d1d1d8"/><stop offset="0.935" stop-color="#d6d6d7"/><stop offset="0.964" stop-color="#d3d3d8"/><stop offset="0.999" stop-color="#c5c5da"/></linearGradient>
<linearGradient id="d55"><stop offset="0" stop-color="#d2d2d8"/><stop offset="0.012" stop-color="#d7d7d7"/><stop offset="0.035" stop-color="#d9cfcf"/><stop offset="0.053" stop-color="#d9cccc"/><stop offset="0.07" stop-color="#d9cece"/><stop offset="0.093" stop-color="#d7d7d7"/><stop offset="0.134" stop-color="#c6c6da"/><stop offset="0.169" stop-color="#c2c2db"/><stop offset="0.193" stop-color="#c6c6da"/><stop offset="0.234" stop-color="#d7d7d7"/><stop offset="0.263" stop-color="#d9cdcd"/><stop offset="0.292" stop-color="#d9cece"/><stop offset="0.315" stop-color="#d7d7d7"/><stop offset="0.356" stop-color="#c6c6da"/><stop offset="0.386" stop-color="#c2c2db"/><stop offset="0.415" stop-color="#c6c6da"/><stop offset="0.45" stop-color="#d6d6d7"/><stop offset="0.479" stop-color="#dac9c9"/><stop offset="0.496" stop-color="#dac5c5"/><stop offset="0.514" stop-color="#dac8c8"/><stop offset="0.543" stop-color="#d7d7d7"/><stop offset="0.578" stop-color="#c6c6da"/><stop offset="0.607" stop-color="#c2c2db"/><stop offset="0.637" stop-color="#c6c6da"/><stop offset="0.678" stop-color="#d7d7d7"/><stop offset="0.707" stop-color="#d9cdcd"/><stop offset="0.73" stop-color="#d9cdcd"/><stop offset="0.759" stop-color="#d7d7d7"/><stop offset="0.8" stop-color="#c6c6da"/><stop offset="0.829" stop-color="#c2c2db"/><stop offset="0.859" stop-color="#c6c6da"/><stop offset="0.9" stop-color="#d7d7d7"/><stop offset="0.905" stop-color="#d7d5d5"/><stop offset="0.929" stop-color="#d9cdcd"/><stop offset="0.946" stop-color="#d9cdcd"/><stop offset="0.981" stop-color="#d7d7d7"/><stop offset="0.999" stop-color="#d0d0d8"/></linearGradient>
<linearGradient id="d56"><stop offset="0" stop-color="#d8d2d2"/><stop offset="0.035" stop-color="#dbc4c4"/><stop offset="0.058" stop-color="#dbc2c2"/><stop offset="0.082" stop-color="#dac7c7"/><stop offset="0.117" stop-color="#d7d6d6"/><stop offset="0.158" stop-color="#cdcdd9"/><stop offset="0.175" stop-color="#ceced9"/><stop offset="0.193" stop-color="#d1d1d8"/><stop offset="0.21" stop-color="#d7d6d6"/><stop offset="0.251" stop-color="#dac5c5"/><stop offset="0.275" stop-color="#dbc2c2"/><stop offset="0.298" stop-color="#dbc5c5"/><stop offset="0.339" stop-color="#d7d6d6"/><stop offset="0.38" stop-color="#cdcdd9"/><stop offset="0.409" stop-color="#d0d0d8"/><stop offset="0.432" stop-color="#d7d6d6"/><stop offset="0.479" stop-color="#dcbebe"/><stop offset="0.496" stop-color="#ddbaba"/><stop offset="0.52" stop-color="#dcc0c0"/><stop offset="0.561" stop-color="#d7d6d6"/><stop offset="0.567" stop-color="#d6d6d7"/><stop offset="0.584" stop-color="#d0d0d8"/><stop offset="0.602" stop-color="#cdcdd9"/><stop offset="0.619" stop-color="#ceced9"/><stop offset="0.654" stop-color="#d7d6d6"/><stop offset="0.695" stop-color="#dac5c5"/><stop offset="0.718" stop-color="#dbc2c2"/><stop offset="0.742" stop-color="#dbc5c5"/><stop offset="0.783" stop-color="#d7d6d6"/><stop offset="0.794" stop-color="#d4d4d8"/><stop offset="0.818" stop-color="#ceced9"/><stop offset="0.835" stop-color="#cdcdd9"/><stop offset="0.876" stop-color="#d7d6d6"/><stop offset="0.917" stop-color="#dac5c5"/><stop offset="0.94" stop-color="#dbc2c2"/><stop offset="0.964" stop-color="#dbc5c5"/><stop offset="0.999" stop-color="#d8d4d4"/></linearGradient>
<linearGradient id="d57"><stop offset="0" stop-color="#dac5c5"/><stop offset="0.035" stop-color="#dcbbbb"/><stop offset="0.058" stop-color="#ddbaba"/><stop offset="0.082" stop-color="#dcbdbd"/><stop offset="0.14" stop-color="#d8d0d0"/><stop offset="0.169" stop-color="#d8d2d2"/><stop offset="0.193" stop-color="#d9cfcf"/><stop offset="0.251" stop-color="#dcbcbc"/><stop offset="0.28" stop-color="#ddbaba"/><stop offset="0.304" stop-color="#dcbdbd"/><stop offset="0.362" stop-color="#d8d0d0"/><stop offset="0.391" stop-color="#d8d2d2"/><stop offset="0.426" stop-color="#d9cbcb"/><stop offset="0.479" stop-color="#deb3b3"/><stop offset="0.496" stop-color="#dfb0b0"/><stop offset="0.514" stop-color="#deb3b3"/><stop offset="0.572" stop-color="#d9cccc"/><stop offset="0.602" stop-color="#d8d2d2"/><stop offset="0.631" stop-color="#d8d0d0"/><stop offset="0.689" stop-color="#dcbebe"/><stop offset="0.718" stop-color="#ddb9b9"/><stop offset="0.748" stop-color="#dcbdbd"/><stop offset="0.8" stop-color="#d9cece"/><stop offset="0.824" stop-color="#d8d2d2"/><stop offset="0.853" stop-color="#d8d0d0"/><stop offset="0.911" stop-color="#dcbebe"/><stop offset="0.935" stop-color="#ddbaba"/><stop offset="0.964" stop-color="#dcbcbc"/><stop offset="0.999" stop-color="#dac7c7"/></linearGradient>
<linearGradient id="d58"><stop offset="0" stop-color="#ddb9b9"/><stop offset="0.035" stop-color="#deb1b1"/><stop offset="0.058" stop-color="#dfb0b0"/><stop offset="0.134" stop-color="#dcbebe"/><stop offset="0.169" stop-color="#dcc0c0"/><stop offset="0.199" stop-color="#dcbdbd"/><stop offset="0.257" stop-color="#deb1b1"/><stop offset="0.28" stop-color="#dfb0b0"/><stop offset="0.356" stop-color="#dcbebe"/><stop offset="0.391" stop-color="#dcc0c0"/><stop offset="0.438" stop-color="#ddb9b9"/><stop offset="0.479" stop-color="#e0a7a7"/><stop offset="0.496" stop-color="#e1a3a3"/><stop offset="0.514" stop-color="#e0a7a7"/><stop offset="0.555" stop-color="#ddb8b8"/><stop offset="0.602" stop-color="#dcc0c0"/><stop offset="0.637" stop-color="#dcbebe"/><stop offset="0.695" stop-color="#deb2b2"/><stop offset="0.718" stop-color="#dfb0b0"/><stop offset="0.742" stop-color="#deb2b2"/><stop offset="0.794" stop-color="#dcbdbd"/><stop offset="0.824" stop-color="#dcc0c0"/><stop offset="0.859" stop-color="#dcbebe"/><stop offset="0.935" stop-color="#dfb0b0"/><stop offset="0.964" stop-color="#deb2b2"/><stop offset="0.999" stop-color="#ddbaba"/></linearGradient>
<linearGradient id="d59"><stop offset="0" stop-color="#e0a8a8"/><stop offset="0.058" stop-color="#e1a5a5"/><stop offset="0.169" stop-color="#e0abab"/><stop offset="0.28" stop-color="#e1a5a5"/><stop offset="0.403" stop-color="#e0aaaa"/><stop offset="0.444" stop-color="#e1a6a6"/><stop offset="0.496" stop-color="#e49494"/><stop offset="0.508" stop-color="#e49696"/><stop offset="0.549" stop-color="#e1a6a6"/><stop offset="0.59" stop-color="#e0aaaa"/><stop offset="0.718" stop-color="#e1a5a5"/><stop offset="0.824" stop-color="#e0abab"/><stop offset="0.935" stop-color="#e1a5a5"/><stop offset="0.999" stop-color="#e0a8a8"/></linearGradient>
<linearGradient id="d60"><stop offset="0" stop-color="#e49797"/><stop offset="0.426" stop-color="#e49696"/><stop offset="0.456" stop-color="#e59292"/><stop offset="0.496" stop-color="#e88080"/><stop offset="0.508" stop-color="#e78383"/><stop offset="0.537" stop-color="#e59191"/><stop offset="0.567" stop-color="#e49696"/><stop offset="0.999" stop-color="#e49797"/></linearGradient>
<linearGradient id="d61"><stop offset="0" stop-color="#e78383"/><stop offset="0.426" stop-color="#e88282"/><stop offset="0.444" stop-color="#e88080"/><stop offset="0.461" stop-color="#e97a7a"/><stop offset="0.491" stop-color="#ed6565"/><stop offset="0.496" stop-color="#ee6363"/><stop offset="0.502" stop-color="#ed6464"/><stop offset="0.526" stop-color="#ea7676"/><stop offset="0.537" stop-color="#e97c7c"/><stop offset="0.567" stop-color="#e88282"/><stop offset="0.999" stop-color="#e78383"/></linearGradient>
<linearGradient id="d62"><stop offset="0" stop-color="#eb7070"/><stop offset="0.432" stop-color="#eb6f6f"/><stop offset="0.45" stop-color="#ec6b6b"/><stop offset="0.461" stop-color="#ed6666"/><stop offset="0.473" stop-color="#ef5c5c"/><stop offset="0.491" stop-color="#f34646"/><stop offset="0.496" stop-color="#f44343"/><stop offset="0.502" stop-color="#f44545"/><stop offset="0.52" stop-color="#ef5b5b"/><stop offset="0.532" stop-color="#ed6565"/><stop offset="0.549" stop-color="#ec6d6d"/><stop offset="0.567" stop-color="#eb7070"/><stop offset="0.999" stop-color="#eb7070"/></linearGradient>
<linearGradient id="d63"><stop offset="0" stop-color="#ed6666"/><stop offset="0.432" stop-color="#ed6565"/><stop offset="0.45" stop-color="#ee6060"/><stop offset="0.467" stop-color="#f15454"/><stop offset="0.473" stop-color="#f24d4d"/><stop offset="0.491" stop-color="#f92a2a"/><stop offset="0.496" stop-color="#fa2525"/><stop offset="0.502" stop-color="#f92929"/><stop offset="0.52" stop-color="#f24b4b"/><stop offset="0.532" stop-color="#f05959"/><stop offset="0.543" stop-color="#ee6060"/><stop offset="0.561" stop-color="#ed6565"/><stop offset="0.999" stop-color="#ed6666"/></linearGradient>
<linearGradient id="d64"><stop offset="0" stop-color="#ee6262"/><stop offset="0.432" stop-color="#ee6161"/><stop offset="0.456" stop-color="#f05959"/><stop offset="0.467" stop-color="#f24d4d"/><stop offset="0.473" stop-color="#f44343"/><stop offset="0.491" stop-color="#fe1010"/><stop offset="0.496" stop-color="#fe0a0a"/><stop offset="0.502" stop-color="#fe0d0d"/><stop offset="0.52" stop-color="#f44040"/><stop offset="0.526" stop-color="#f24b4b"/><stop offset="0.537" stop-color="#f05858"/><stop offset="0.561" stop-color="#ee6161"/><stop offset="0.999" stop-color="#ee6262"/></linearGradient>
<linearGradient id="d65"><stop offset="0" stop-color="#ee5f5f"/><stop offset="0.432" stop-color="#ef5d5d"/><stop offset="0.45" stop-color="#f05858"/><stop offset="0.461" stop-color="#f24f4f"/><stop offset="0.467" stop-color="#f34646"/><stop offset="0.473" stop-color="#f63838"/><stop offset="0.479" stop-color="#fa2323"/><stop offset="0.485" stop-color="#fe0a0a"/><stop offset="0.491" stop-color="#f10909"/><stop offset="0.496" stop-color="#eb0808"/><stop offset="0.502" stop-color="#ef0909"/><stop offset="0.508" stop-color="#fb0a0a"/><stop offset="0.514" stop-color="#fb1e1e"/><stop offset="0.52" stop-color="#f73434"/><stop offset="0.526" stop-color="#f44444"/><stop offset="0.532" stop-color="#f24d4d"/><stop offset="0.543" stop-color="#f05757"/><stop offset="0.561" stop-color="#ef5d5d"/><stop offset="0.596" stop-color="#ee5f5f"/><stop offset="0.999" stop-color="#ee5f5f"/></linearGradient>
<linearGradient id="d66"><stop offset="0" stop-color="#ef5d5d"/><stop offset="0.397" stop-color="#ef5d5d"/><stop offset="0.432" stop-color="#ef5b5b"/><stop offset="0.45" stop-color="#f05555"/><stop offset="0.461" stop-color="#f24b4b"/><stop offset="0.467" stop-color="#f44141"/><stop offset="0.473" stop-color="#f82f2f"/><stop offset="0.479" stop-color="#fd1414"/><stop offset="0.485" stop-color="#f10909"/><stop offset="0.491" stop-color="#df0707"/><stop offset="0.496" stop-color="#d70707"/><stop offset="0.502" stop-color="#dd0707"/><stop offset="0.508" stop-color="#ed0808"/><stop offset="0.514" stop-color="#fe0d0d"/><stop offset="0.52" stop-color="#f92b2b"/><stop offset="0.526" stop-color="#f53e3e"/><stop offset="0.532" stop-color="#f34a4a"/><stop offset="0.543" stop-color="#f05555"/><stop offset="0.561" stop-color="#ef5b5b"/><stop offset="0.596" stop-color="#ef5d5d"/><stop offset="0.999" stop-color="#ef5d5d"/></linearGradient>
<linearGradient id="d67"><stop offset="0" stop-color="#ef5d5d"/><stop offset="0.397" stop-color="#ef5d5d"/><stop offset="0.432" stop-color="#ef5b5b"/><stop offset="0.45" stop-color="#f15454"/><stop offset="0.461" stop-color="#f34949"/><stop offset="0.467" stop-color="#f53d3d"/><stop offset="0.473" stop-color="#f92828"/><stop offset="0.479" stop-color="#fd0a0a"/><stop offset="0.491" stop-color="#d00606"/><stop offset="0.496" stop-color="#c60505"/><stop offset="0.502" stop-color="#cd0606"/><stop offset="0.508" stop-color="#e10707"/><stop offset="0.514" stop-color="#f90909"/><stop offset="0.52" stop-color="#fa2323"/><stop offset="0.526" stop-color="#f63a3a"/><stop offset="0.532" stop-color="#f34747"/><stop offset="0.543" stop-color="#f15454"/><stop offset="0.561" stop-color="#ef5a5a"/><stop offset="0.596" stop-color="#ef5c5c"/><stop offset="0.999" stop-color="#ef5d5d"/></linearGradient>
<linearGradient id="d68"><stop offset="0" stop-color="#ef5c5c"/><stop offset="0.397" stop-color="#ef5c5c"/><stop offset="0.432" stop-color="#ef5a5a"/><stop offset="0.45" stop-color="#f15353"/><stop offset="0.461" stop-color="#f34747"/><stop offset="0.467" stop-color="#f63a3a"/><stop offset="0.473" stop-color="#fa2323"/><stop offset="0.479" stop-color="#f80909"/><stop offset="0.491" stop-color="#c50505"/><stop offset="0.496" stop-color="#ba0404"/><stop offset="0.502" stop-color="#c10505"/><stop offset="0.508" stop-color="#d80707"/><stop offset="0.514" stop-color="#f30909"/><stop offset="0.52" stop-color="#fb1d1d"/><stop offset="0.526" stop-color="#f63737"/><stop offset="0.532" stop-color="#f34545"/><stop offset="0.537" stop-color="#f24e4e"/><stop offset="0.543" stop-color="#f15353"/><stop offset="0.561" stop-color="#ef5a5a"/><stop offset="0.596" stop-color="#ef5c5c"/><stop offset="0.999" stop-color="#ef5c5c"/></linearGradient>
<linearGradient id="d69"><stop offset="0" stop-color="#ef5b5b"/><stop offset="0.397" stop-color="#ef5b5b"/><stop offset="0.432" stop-color="#f05959"/><stop offset="0.45" stop-color="#f15252"/><stop offset="0.461" stop-color="#f34646"/><stop offset="0.467" stop-color="#f63939"/><stop offset="0.473" stop-color="#fb2121"/><stop offset="0.479" stop-color="#f60909"/><stop offset="0.491" stop-color="#c10505"/><stop offset="0.496" stop-color="#b50404"/><stop offset="0.502" stop-color="#bd0404"/><stop offset="0.508" stop-color="#d50606"/><stop offset="0.514" stop-color="#f10909"/><stop offset="0.52" stop-color="#fc1a1a"/><stop offset="0.526" stop-color="#f73535"/><stop offset="0.532" stop-color="#f44444"/><stop offset="0.537" stop-color="#f24d4d"/><stop offset="0.543" stop-color="#f15252"/><stop offset="0.561" stop-color="#f05959"/><stop offset="0.596" stop-color="#ef5b5b"/><stop offset="0.999" stop-color="#ef5b5b"/></linearGradient>
<linearGradient id="d70"><stop offset="0" stop-color="#ef5c5c"/><stop offset="0.397" stop-color="#ef5c5c"/><stop offset="0.432" stop-color="#ef5a5a"/><stop offset="0.45" stop-color="#f15353"/><stop offset="0.461" stop-color="#f34747"/><stop offset="0.467" stop-color="#f63a3a"/><stop offset="0.473" stop-color="#fa2323"/><stop offset="0.479" stop-color="#f80909"/><stop offset="0.491" stop-color="#c50505"/><stop offset="0.496" stop-color="#ba0404"/><stop offset="0.502" stop-color="#c10505"/><stop offset="0.508" stop-color="#d80707"/><stop offset="0.514" stop-color="#f30909"/><stop offset="0.52" stop-color="#fb1d1d"/><stop offset="0.526" stop-color="#f63737"/><stop offset="0.532" stop-color="#f34545"/><stop offset="0.537" stop-color="#f24e4e"/><stop offset="0.543" stop-color="#f15353"/><stop offset="0.561" stop-color="#ef5a5a"/><stop offset="0.596" stop-color="#ef5c5c"/><stop offset="0.999" stop-color="#ef5c5c"/></linearGradient>
<linearGradient id="d71"><stop offset="0" stop-color="#ef5d5d"/><stop offset="0.397" stop-color="#ef5d5d"/><stop offset="0.432" stop-color="#ef5b5b"/><stop offset="0.45" stop-color="#f15454"/><stop offset="0.461" stop-color="#f34949"/><stop offset="0.467" stop-color="#f53d3d"/><stop offset="0.473" stop-color="#f92828"/><stop offset="0.479" stop-color="#fd0a0a"/><stop offset="0.491" stop-color="#d00606"/><stop offset="0.496" stop-color="#c60505"/><stop offset="0.502" stop-color="#cd0606"/><stop offset="0.508" stop-color="#e10707"/><stop offset="0.514" stop-color="#f90909"/><stop offset="0.52" stop-color="#fa2323"/><stop offset="0.526" stop-color="#f63a3a"/><stop offset="0.532" stop-color="#f34747"/><stop offset="0.543" stop-color="#f15454"/><stop offset="0.561" stop-color="#ef5a5a"/><stop offset="0.596" stop-color="#ef5c5c"/><stop offset="0.999" stop-color="#ef5d5d"/></linearGradient>
<linearGradient id="d72"><stop offset="0" stop-color="#ef5d5d"/><stop offset="0.397" stop-color="#ef5d5d"/><stop offset="0.432" stop-color="#ef5b5b"/><stop offset="0.45" stop-color="#f05555"/><stop offset="0.461" stop-color="#f24b4b"/><stop offset="0.467" stop-color="#f44141"/><stop offset="0.473" stop-color="#f82f2f"/><stop offset="0.479" stop-color="#fd1414"/><stop offset="0.485" stop-color="#f10909"/><stop offset="0.491" stop-color="#df0707"/><stop offset="0.496" stop-color="#d70707"/><stop offset="0.502" stop-color="#dd0707"/><stop offset="0.508" stop-color="#ed0808"/><stop offset="0.514" stop-color="#fe0d0d"/><stop offset="0.52" stop-color="#f92b2b"/><stop offset="0.526" stop-color="#f53e3e"/><stop offset="0.532" stop-color="#f34a4a"/><stop offset="0.543" stop-color="#f05555"/><stop offset="0.561" stop-color="#ef5b5b"/><stop offset="0.596" stop-color="#ef5d5d"/><stop offset="0.999" stop-color="#ef5d5d"/></linearGradient>
<linearGradient id="d73"><stop offset="0" stop-color="#ee5f5f"/><stop offset="0.432" stop-color="#ef5d5d"/><stop offset="0.45" stop-color="#f05858"/><stop offset="0.461" stop-color="#f24f4f"/><stop offset="0.467" stop-color="#f34646"/><stop offset="0.473" stop-color="#f63838"/><stop offset="0.479" stop-color="#fa2323"/><stop offset="0.485" stop-color="#fe0a0a"/><stop offset="0.491" stop-color="#f10909"/><stop offset="0.496" stop-color="#eb0808"/><stop offset="0.502" stop-color="#ef0909"/><stop offset="0.508" stop-color="#fb0a0a"/><stop offset="0.514" stop-color="#fb1e1e"/><stop offset="0.52" stop-color="#f73434"/><stop offset="0.526" stop-color="#f44444"/><stop offset="0.532" stop-color="#f24d4d"/><stop offset="0.543" stop-color="#f05757"/><stop offset="0.561" stop-color="#ef5d5d"/><stop offset="0.596" stop-color="#ee5f5f"/><stop offset="0.999" stop-color="#ee5f5f"/></linearGradient>
<linearGradient id="d74"><stop offset="0" stop-color="#ee6262"/><stop offset="0.432" stop-color="#ee6161"/><stop offset="0.456" stop-color="#f05959"/><stop offset="0.467" stop-color="#f24d4d"/><stop offset="0.473" stop-color="#f44343"/><stop offset="0.491" stop-color="#fe1010"/><stop offset="0.496" stop-color="#fe0a0a"/><stop offset="0.502" stop-color="#fe0d0d"/><stop offset="0.52" stop-color="#f44040"/><stop offset="0.526" stop-color="#f24b4b"/><stop offset="0.537" stop-color="#f05858"/><stop offset="0.561" stop-color="#ee6161"/><stop offset="0.999" stop-color="#ee6262"/></linearGradient>
<linearGradient id="d75"><stop offset="0" stop-color="#ed6666"/><stop offset="0.432" stop-color="#ed6565"/><stop offset="0.45" stop-color="#ee6060"/><stop offset="0.467" stop-color="#f15454"/><stop offset="0.473" stop-color="#f24d4d"/><stop offset="0.491" stop-color="#f92a2a"/><stop offset="0.496" stop-color="#fa2525"/><stop offset="0.502" stop-color="#f92929"/><stop offset="0.52" stop-color="#f24b4b"/><stop offset="0.532" stop-color="#f05959"/><stop offset="0.543" stop-color="#ee6060"/><stop offset="0.561" stop-color="#ed6565"/><stop offset="0.999" stop-color="#ed6666"/></linearGradient>
<linearGradient id="d76"><stop offset="0" stop-color="#eb7070"/><stop offset="0.432" stop-color="#eb6f6f"/><stop offset="0.45" stop-color="#ec6b6b"/><stop offset="0.461" stop-color="#ed6666"/><stop offset="0.473" stop-color="#ef5c5c"/><stop offset="0.491" stop-color="#f34646"/><stop offset="0.496" stop-color="#f44343"/><stop offset="0.502" stop-color="#f44545"/><stop offset="0.52" stop-color="#ef5b5b"/><stop offset="0.532" stop-color="#ed6565"/><stop offset="0.549" stop-color="#ec6d6d"/><stop offset="0.567" stop-color="#eb7070"/><stop offset="0.999" stop-color="#eb7070"/></linearGradient>
<linearGradient id="d77"><stop offset="0" stop-color="#e78383"/><stop offset="0.426" stop-color="#e88282"/><stop offset="0.444" stop-color="#e88080"/><stop offset="0.461" stop-color="#e97a7a"/><stop offset="0.491" stop-color="#ed6565"/><stop offset="0.496" stop-color="#ee6363"/><stop offset="0.502" stop-color="#ed6464"/><stop offset="0.526" stop-color="#ea7676"/><stop offset="0.537" stop-color="#e97c7c"/><stop offset="0.567" stop-color="#e88282"/><stop offset="0.999" stop-color="#e78383"/></linearGradient>
<linearGradient id="d78"><stop offset="0" stop-color="#e49797"/><stop offset="0.426" stop-color="#e49696"/><stop offset="0.456" stop-color="#e59292"/><stop offset="0.496" stop-color="#e88080"/><stop offset="0.508" stop-color="#e78383"/><stop offset="0.537" stop-color="#e59191"/><stop offset="0.567" stop-color="#e49696"/><stop offset="0.999" stop-color="#e49797"/></linearGradient>
<linearGradient id="d79"><stop offset="0" stop-color="#e0a8a8"/><stop offset="0.058" stop-color="#e1a5a5"/><stop offset="0.169" stop-color="#e0abab"/><stop offset="0.28" stop-color="#e1a5a5"/><stop offset="0.403" stop-color="#e0aaaa"/><stop offset="0.444" stop-color="#e1a6a6"/><stop offset="0.496" stop-color="#e49494"/><stop offset="0.508" stop-color="#e49696"/><stop offset="0.549" stop-color="#e1a6a6"/><stop offset="0.59" stop-color="#e0aaaa"/><stop offset="0.718" stop-color="#e1a5a5"/><stop offset="0.824" stop-color="#e0abab"/><stop offset="0.935" stop-color="#e1a5a5"/><stop offset="0.999" stop-color="#e0a8a8"/></linearGradient>
<linearGradient id="d80"><stop offset="0" stop-color="#ddb9b9"/><stop offset="0.035" stop-color="#deb1b1"/><stop offset="0.058" stop-color="#dfb0b0"/><stop offset="0.134" stop-color="#dcbebe"/><stop offset="0.169" stop-color="#dcc0c0"/><stop offset="0.199" stop-color="#dcbdbd"/><stop offset="0.257" stop-color="#deb1b1"/><stop offset="0.28" stop-color="#dfb0b0"/><stop offset="0.356" stop-color="#dcbebe"/><stop offset="0.391" stop-color="#dcc0c0"/><stop offset="0.438" stop-color="#ddb9b9"/><stop offset="0.479" stop-color="#e0a7a7"/><stop offset="0.496" stop-color="#e1a3a3"/><stop offset="0.514" stop-color="#e0a7a7"/><stop offset="0.555" stop-color="#ddb8b8"/><stop offset="0.602" stop-color="#dcc0c0"/><stop offset="0.637" stop-color="#dcbebe"/><stop offset="0.695" stop-color="#deb2b2"/><stop offset="0.718" stop-color="#dfb0b0"/><stop offset="0.742" stop-color="#deb2b2"/><stop offset="0.794" stop-color="#dcbdbd"/><stop offset="0.824" stop-color="#dcc0c0"/><stop offset="0.859" stop-color="#dcbebe"/><stop offset="0.935" stop-color="#dfb0b0"/><stop offset="0.964" stop-color="#deb2b2"/><stop offset="0.999" stop-color="#ddbaba"/></linearGradient>
<linearGradient id="d81"><stop offset="0" stop-color="#dac5c5"/><stop offset="0.035" stop-color="#dcbbbb"/><stop offset="0.058" stop-color="#ddbaba"/><stop offset="0.082" stop-color="#dcbdbd"/><stop offset="0.14" stop-color="#d8d0d0"/><stop offset="0.169" stop-color="#d8d2d2"/><stop offset="0.193" stop-color="#d9cfcf"/><stop offset="0.251" stop-color="#dcbcbc"/><stop offset="0.28" stop-color="#ddbaba"/><stop offset="0.304" stop-color="#dcbdbd"/><stop offset="0.362" stop-color="#d8d0d0"/><stop offset="0.391" stop-color="#d8d2d2"/><stop offset="0.426" stop-color="#d9cbcb"/><stop offset="0.479" stop-color="#deb3b3"/><stop offset="0.496" stop-color="#dfb0b0"/><stop offset="0.514" stop-color="#deb3b3"/><stop offset="0.572" stop-color="#d9cccc"/><stop offset="0.602" stop-color="#d8d2d2"/><stop offset="0.631" stop-color="#d8d0d0"/><stop offset="0.689" stop-color="#dcbebe"/><stop offset="0.718" stop-color="#ddb9b9"/><stop offset="0.748" stop-color="#dcbdbd"/><stop offset="0.8" stop-color="#d9cece"/><stop offset="0.824" stop-color="#d8d2d2"/><stop offset="0.853" stop-color="#d8d0d0"/><stop offset="0.911" stop-color="#dcbebe"/><stop offset="0.935" stop-color="#ddbaba"/><stop offset="0.964" stop-color="#dcbcbc"/><stop offset="0.999" stop-color="#dac7c7"/></linearGradient>
<linearGradient id="d82"><stop offset="0" stop-color="#d8d2d2"/><stop offset="0.035" stop-color="#dbc4c4"/><stop offset="0.058" stop-color="#dbc2c2"/><stop offset="0.082" stop-color="#dac7c7"/><stop offset="0.117" stop-color="#d7d6d6"/><stop offset="0.158" stop-color="#cdcdd9"/><stop offset="0.175" stop-color="#ceced9"/><stop offset="0.193" stop-color="#d1d1d8"/><stop offset="0.21" stop-color="#d7d6d6"/><stop offset="0.251" stop-color="#dac5c5"/><stop offset="0.275" stop-color="#dbc2c2"/><stop offset="0.298" stop-color="#dbc5c5"/><stop offset="0.339" stop-color="#d7d6d6"/><stop offset="0.38" stop-color="#cdcdd9"/><stop offset="0.409" stop-color="#d0d0d8"/><stop offset="0.432" stop-color="#d7d6d6"/><stop offset="0.479" stop-color="#dcbebe"/><stop offset="0.496" stop-color="#ddbaba"/><stop offset="0.52" stop-color="#dcc0c0"/><stop offset="0.561" stop-color="#d7d6d6"/><stop offset="0.567" stop-color="#d6d6d7"/><stop offset="0.584" stop-color="#d0d0d8"/><stop offset="0.602" stop-color="#cdcdd9"/><stop offset="0.619" stop-color="#ceced9"/><stop offset="0.654" stop-color="#d7d6d6"/><stop offset="0.695" stop-color="#dac5c5"/><stop offset="0.718" stop-color="#dbc2c2"/><stop offset="0.742" stop-color="#dbc5c5"/><stop offset="0.783" stop-color="#d7d6d6"/><stop offset="0.794" stop-color="#d4d4d8"/><stop offset="0.818" stop-color="#ceced9"/><stop offset="0.835" stop-color="#cdcdd9"/><stop offset="0.876" stop-color="#d7d6d6"/><stop offset="0.917" stop-color="#dac5c5"/><stop offset="0.94" stop-color="#dbc2c2"/><stop offset="0.964" stop-color="#dbc5c5"/><stop offset="0.999" stop-color="#d8d4d4"/></linearGradient>
<linearGradient id="d83"><stop offset="0" stop-color="#d2d2d8"/><stop offset="0.012" stop-color="#d7d7d7"/><stop offset="0.047" stop-color="#d9cdcd"/><stop offset="0.064" stop-color="#d9cdcd"/><stop offset="0.082" stop-color="#d8d4d4"/><stop offset="0.088" stop-color="#d7d6d6"/><stop offset="0.093" stop-color="#d5d5d7"/><stop offset="0.134" stop-color="#c5c5da"/><stop offset="0.169" stop-color="#c2c2db"/><stop offset="0.193" stop-color="#c6c6da"/><stop offset="0.234" stop-color="#d7d7d7"/><stop offset="0.263" stop-color="#d9cdcd"/><stop offset="0.286" stop-color="#d9cdcd"/><stop offset="0.315" stop-color="#d7d7d7"/><stop offset="0.356" stop-color="#c6c6da"/><stop offset="0.386" stop-color="#c2c2db"/><stop offset="0.415" stop-color="#c6c6da"/><stop offset="0.45" stop-color="#d6d6d7"/><stop offset="0.479" stop-color="#dac9c9"/><stop offset="0.496" stop-color="#dac5c5"/><stop offset="0.514" stop-color="#dac8c8"/><stop offset="0.543" stop-color="#d7d7d7"/><stop offset="0.578" stop-color="#c6c6da"/><stop offset="0.607" stop-color="#c2c2db"/><stop offset="0.637" stop-color="#c6c6da"/><stop offset="0.678" stop-color="#d7d7d7"/><stop offset="0.707" stop-color="#d9cdcd"/><stop offset="0.73" stop-color="#d9cdcd"/><stop offset="0.759" stop-color="#d7d7d7"/><stop offset="0.8" stop-color="#c6c6da"/><stop offset="0.829" stop-color="#c2c2db"/><stop offset="0.864" stop-color="#c6c6da"/><stop offset="0.905" stop-color="#d7d7d7"/><stop offset="0.917" stop-color="#d8d1d1"/><stop offset="0.929" stop-color="#d9cece"/><stop offset="0.946" stop-color="#d9cdcd"/><stop offset="0.981" stop-color="#d7d7d7"/><stop offset="0.999" stop-color="#d0d0d8"/></linearGradient>
<linearGradient id="d84"><stop offset="0" stop-color="#c7c7da"/><stop offset="0.035" stop-color="#d4d4d8"/><stop offset="0.058" stop-color="#d5d5d7"/><stop offset="0.076" stop-color="#d0d0d8"/><stop offset="0.099" stop-color="#c0c0db"/><stop offset="0.111" stop-color="#bbbbdc"/><stop offset="0.169" stop-color="#babadd"/><stop offset="0.204" stop-color="#c1c1db"/><stop offset="0.257" stop-color="#d4d4d8"/><stop offset="0.28" stop-color="#d6d6d7"/><stop offset="0.304" stop-color="#d1d1d8"/><stop offset="0.356" stop-color="#bebedc"/><stop offset="0.391" stop-color="#bbbbdd"/><stop offset="0.409" stop-color="#bdbddc"/><stop offset="0.432" stop-color="#c4c4db"/><stop offset="0.467" stop-color="#d7d7d7"/><stop offset="0.485" stop-color="#d8d0d0"/><stop offset="0.496" stop-color="#d9cfcf"/><stop offset="0.508" stop-color="#d8d0d0"/><stop offset="0.526" stop-color="#d7d7d7"/><stop offset="0.567" stop-color="#c3c3db"/><stop offset="0.59" stop-color="#bcbcdc"/><stop offset="0.607" stop-color="#bbbbdd"/><stop offset="0.637" stop-color="#bebedc"/><stop offset="0.695" stop-color="#d2d2d8"/><stop offset="0.718" stop-color="#d6d6d7"/><stop offset="0.742" stop-color="#d3d3d8"/><stop offset="0.789" stop-color="#c1c1db"/><stop offset="0.824" stop-color="#bbbbdd"/><stop offset="0.882" stop-color="#bbbbdc"/><stop offset="0.894" stop-color="#c0c0dc"/><stop offset="0.923" stop-color="#d2d2d8"/><stop offset="0.94" stop-color="#d6d6d7"/><stop offset="0.964" stop-color="#d3d3d8"/><stop offset="0.999" stop-color="#c5c5da"/></linearGradient>
<linearGradient id="d85"><stop offset="0" stop-color="#bfbfdc"/><stop offset="0.035" stop-color="#c9c9da"/><stop offset="0.058" stop-color="#cbcbd9"/><stop offset="0.07" stop-color="#c7c7da"/><stop offset="0.099" stop-color="#afafdf"/><stop offset="0.111" stop-color="#ababe0"/><stop offset="0.14" stop-color="#b3b3de"/><stop offset="0.193" stop-color="#b6b6dd"/><stop offset="0.251" stop-color="#c8c8da"/><stop offset="0.275" stop-color="#cbcbd9"/><stop offset="0.298" stop-color="#c8c8da"/><stop offset="0.356" stop-color="#b7b7dd"/><stop offset="0.391" stop-color="#b4b4de"/><stop offset="0.426" stop-color="#bcbcdc"/><stop offset="0.479" stop-color="#d5d5d7"/><stop offset="0.496" stop-color="#d7d6d6"/><stop offset="0.514" stop-color="#d5d5d7"/><stop offset="0.567" stop-color="#bcbcdc"/><stop offset="0.584" stop-color="#b7b7dd"/><stop offset="0.602" stop-color="#b4b4de"/><stop offset="0.637" stop-color="#b6b6dd"/><stop offset="0.695" stop-color="#c8c8da"/><stop offset="0.718" stop-color="#cbcbd9"/><stop offset="0.742" stop-color="#c8c8da"/><stop offset="0.8" stop-color="#b7b7dd"/><stop offset="0.853" stop-color="#b3b3de"/><stop offset="0.882" stop-color="#ababe0"/><stop offset="0.894" stop-color="#aeaedf"/><stop offset="0.917" stop-color="#c3c3db"/><stop offset="0.935" stop-color="#cacad9"/><stop offset="0.958" stop-color="#c9c9da"/><stop offset="0.999" stop-color="#bdbddc"/></linearGradient>
<linearGradient id="d86"><stop offset="0" stop-color="#b7b7dd"/><stop offset="0.035" stop-color="#c1c1db"/><stop offset="0.053" stop-color="#c2c2db"/><stop offset="0.064" stop-color="#c0c0dc"/><stop offset="0.076" stop-color="#b9b9dd"/><stop offset="0.099" stop-color="#a1a1e2"/><stop offset="0.111" stop-color="#9c9ce2"/><stop offset="0.14" stop-color="#ababe0"/><stop offset="0.187" stop-color="#afafdf"/><stop offset="0.269" stop-color="#c1c1db"/><stop offset="0.298" stop-color="#c0c0dc"/><stop offset="0.362" stop-color="#afafdf"/><stop offset="0.397" stop-color="#afafdf"/><stop offset="0.426" stop-color="#b6b6de"/><stop offset="0.479" stop-color="#cfcfd9"/><stop offset="0.496" stop-color="#d2d2d8"/><stop offset="0.514" stop-color="#cfcfd9"/><stop offset="0.567" stop-color="#b6b6dd"/><stop offset="0.596" stop-color="#afafdf"/><stop offset="0.631" stop-color="#afafdf"/><stop offset="0.695" stop-color="#bfbfdc"/><stop offset="0.724" stop-color="#c1c1db"/><stop offset="0.806" stop-color="#afafdf"/><stop offset="0.853" stop-color="#acacdf"/><stop offset="0.882" stop-color="#9d9de2"/><stop offset="0.894" stop-color="#a0a0e2"/><stop offset="0.917" stop-color="#b8b8dd"/><stop offset="0.935" stop-color="#c1c1db"/><stop offset="0.964" stop-color="#c0c0dc"/><stop offset="0.999" stop-color="#b6b6dd"/></linearGradient>
<linearGradient id="d87"><stop offset="0" stop-color="#b1b1de"/><stop offset="0.041" stop-color="#babadd"/><stop offset="0.064" stop-color="#b8b8dd"/><stop offset="0.076" stop-color="#b1b1de"/><stop offset="0.099" stop-color="#9797e4"/><stop offset="0.105" stop-color="#9393e4"/><stop offset="0.111" stop-color="#9393e4"/><stop offset="0.14" stop-color="#a5a5e1"/><stop offset="0.187" stop-color="#a9a9e0"/><stop offset="0.275" stop-color="#b9b9dd"/><stop offset="0.298" stop-color="#b8b8dd"/><stop offset="0.368" stop-color="#a8a8e0"/><stop offset="0.397" stop-color="#a9a9e0"/><stop offset="0.426" stop-color="#b0b0df"/><stop offset="0.473" stop-color="#c6c6da"/><stop offset="0.496" stop-color="#ccccd9"/><stop offset="0.514" stop-color="#c8c8da"/><stop offset="0.567" stop-color="#b1b1de"/><stop offset="0.596" stop-color="#a9a9e0"/><stop offset="0.631" stop-color="#a9a9e0"/><stop offset="0.695" stop-color="#b7b7dd"/><stop offset="0.718" stop-color="#b9b9dd"/><stop offset="0.806" stop-color="#a9a9e0"/><stop offset="0.853" stop-color="#a5a5e1"/><stop offset="0.882" stop-color="#9393e4"/><stop offset="0.888" stop-color="#9393e4"/><stop offset="0.9" stop-color="#9b9be3"/><stop offset="0.917" stop-color="#b0b0df"/><stop offset="0.935" stop-color="#b9b9dd"/><stop offset="0.958" stop-color="#b9b9dd"/><stop offset="0.999" stop-color="#b0b0df"/></linearGradient>
<linearGradient id="d88"><stop offset="0" stop-color="#ababe0"/><stop offset="0.041" stop-color="#b3b3de"/><stop offset="0.064" stop-color="#b1b1de"/><stop offset="0.076" stop-color="#aaaae0"/><stop offset="0.099" stop-color="#9191e5"/><stop offset="0.105" stop-color="#8d8de5"/><stop offset="0.111" stop-color="#8d8de5"/><stop offset="0.134" stop-color="#9c9ce3"/><stop offset="0.146" stop-color="#a0a0e2"/><stop offset="0.187" stop-color="#a2a2e1"/><stop offset="0.28" stop-color="#b1b1de"/><stop offset="0.304" stop-color="#b0b0df"/><stop offset="0.368" stop-color="#a2a2e1"/><stop offset="0.397" stop-color="#a3a3e1"/><stop offset="0.426" stop-color="#ababe0"/><stop offset="0.473" stop-color="#bfbfdc"/><stop offset="0.496" stop-color="#c4c4db"/><stop offset="0.52" stop-color="#c0c0dc"/><stop offset="0.567" stop-color="#ababe0"/><stop offset="0.596" stop-color="#a3a3e1"/><stop offset="0.631" stop-color="#a3a3e1"/><stop offset="0.689" stop-color="#b0b0df"/><stop offset="0.713" stop-color="#b1b1de"/><stop offset="0.806" stop-color="#a2a2e1"/><stop offset="0.847" stop-color="#a0a0e2"/><stop offset="0.859" stop-color="#9d9de2"/><stop offset="0.882" stop-color="#8d8de5"/><stop offset="0.888" stop-color="#8d8de5"/><stop offset="0.9" stop-color="#9595e4"/><stop offset="0.917" stop-color="#a9a9e0"/><stop offset="0.935" stop-color="#b2b2de"/><stop offset="0.958" stop-color="#b2b2de"/><stop offset="0.999" stop-color="#a9a9e0"/></linearGradient>
<linearGradient id="d89"><stop offset="0" stop-color="#a4a4e1"/><stop offset="0.041" stop-color="#adaddf"/><stop offset="0.064" stop-color="#ababe0"/><stop offset="0.076" stop-color="#a4a4e1"/><stop offset="0.099" stop-color="#8a8ae6"/><stop offset="0.105" stop-color="#8787e7"/><stop offset="0.111" stop-color="#8787e7"/><stop offset="0.134" stop-color="#9696e4"/><stop offset="0.146" stop-color="#9a9ae3"/><stop offset="0.239" stop-color="#a0a0e2"/><stop offset="0.286" stop-color="#a9a9e0"/><stop offset="0.31" stop-color="#a8a8e0"/><stop offset="0.368" stop-color="#9d9de2"/><stop offset="0.397" stop-color="#9d9de2"/><stop offset="0.421" stop-color="#a3a3e1"/><stop offset="0.473" stop-color="#b7b7dd"/><stop offset="0.496" stop-color="#bbbbdd"/><stop offset="0.52" stop-color="#b8b8dd"/><stop offset="0.572" stop-color="#a3a3e1"/><stop offset="0.596" stop-color="#9d9de2"/><stop offset="0.625" stop-color="#9c9ce2"/><stop offset="0.683" stop-color="#a8a8e0"/><stop offset="0.707" stop-color="#a9a9e0"/><stop offset="0.754" stop-color="#a0a0e2"/><stop offset="0.847" stop-color="#9a9ae3"/><stop offset="0.859" stop-color="#9797e4"/><stop offset="0.882" stop-color="#8787e7"/><stop offset="0.888" stop-color="#8686e7"/><stop offset="0.9" stop-color="#8f8fe5"/><stop offset="0.917" stop-color="#a3a3e1"/><stop offset="0.935" stop-color="#acacdf"/><stop offset="0.958" stop-color="#acacdf"/><stop offset="0.999" stop-color="#a3a3e1"/></linearGradient>
<linearGradient id="d90"><stop offset="0" stop-color="#9f9fe2"/><stop offset="0.041" stop-color="#a6a6e1"/><stop offset="0.064" stop-color="#a5a5e1"/><stop offset="0.076" stop-color="#9e9ee2"/><stop offset="0.099" stop-color="#8484e7"/><stop offset="0.105" stop-color="#8181e8"/><stop offset="0.111" stop-color="#8181e8"/><stop offset="0.134" stop-color="#9090e5"/><stop offset="0.146" stop-color="#9494e4"/><stop offset="0.204" stop-color="#9797e3"/><stop offset="0.245" stop-color="#9595e4"/><stop offset="0.28" stop-color="#a0a0e2"/><stop offset="0.298" stop-color="#a2a2e1"/><stop offset="0.362" stop-color="#9797e3"/><stop offset="0.391" stop-color="#9797e4"/><stop offset="0.415" stop-color="#9b9be3"/><stop offset="0.456" stop-color="#aaaae0"/><stop offset="0.473" stop-color="#aeaedf"/><stop offset="0.526" stop-color="#adaddf"/><stop offset="0.578" stop-color="#9b9be3"/><stop offset="0.607" stop-color="#9696e4"/><stop offset="0.631" stop-color="#9797e3"/><stop offset="0.695" stop-color="#a2a2e1"/><stop offset="0.713" stop-color="#a0a0e2"/><stop offset="0.748" stop-color="#9696e4"/><stop offset="0.794" stop-color="#9797e3"/><stop offset="0.847" stop-color="#9595e4"/><stop offset="0.859" stop-color="#9191e5"/><stop offset="0.882" stop-color="#8181e8"/><stop offset="0.888" stop-color="#8181e8"/><stop offset="0.9" stop-color="#8989e6"/><stop offset="0.917" stop-color="#9d9de2"/><stop offset="0.935" stop-color="#a6a6e1"/><stop offset="0.958" stop-color="#a6a6e1"/><stop offset="0.999" stop-color="#9d9de2"/></linearGradient>
<linearGradient id="d91"><stop offset="0" stop-color="#9999e3"/><stop offset="0.041" stop-color="#a0a0e2"/><stop offset="0.064" stop-color="#9f9fe2"/><stop offset="0.076" stop-color="#9898e3"/><stop offset="0.099" stop-color="#7f7fe8"/><stop offset="0.105" stop-color="#7b7be9"/><stop offset="0.111" stop-color="#7b7be9"/><stop offset="0.134" stop-color="#8b8be6"/><stop offset="0.152" stop-color="#9090e5"/><stop offset="0.204" stop-color="#9090e5"/><stop offset="0.245" stop-color="#8b8be6"/><stop offset="0.257" stop-color="#8d8de5"/><stop offset="0.286" stop-color="#9999e3"/><stop offset="0.304" stop-color="#9b9be3"/><stop offset="0.356" stop-color="#9292e4"/><stop offset="0.391" stop-color="#9191e5"/><stop offset="0.409" stop-color="#9393e4"/><stop offset="0.461" stop-color="#a3a3e1"/><stop offset="0.496" stop-color="#9c9ce2"/><stop offset="0.526" stop-color="#a3a3e1"/><stop offset="0.537" stop-color="#a3a3e1"/><stop offset="0.584" stop-color="#9494e4"/><stop offset="0.607" stop-color="#9191e5"/><stop offset="0.637" stop-color="#9292e4"/><stop offset="0.689" stop-color="#9b9be3"/><stop offset="0.707" stop-color="#9999e3"/><stop offset="0.748" stop-color="#8b8be6"/><stop offset="0.794" stop-color="#9090e5"/><stop offset="0.841" stop-color="#9090e5"/><stop offset="0.853" stop-color="#8e8ee5"/><stop offset="0.876" stop-color="#7f7fe8"/><stop offset="0.888" stop-color="#7b7be9"/><stop offset="0.9" stop-color="#8383e7"/><stop offset="0.917" stop-color="#9797e3"/><stop offset="0.935" stop-color="#a0a0e2"/><stop offset="0.958" stop-color="#a0a0e2"/><stop offset="0.999" stop-color="#9898e3"/></linearGradient>
<linearGradient id="d92"><stop offset="0" stop-color="#9393e4"/><stop offset="0.041" stop-color="#9b9be3"/><stop offset="0.064" stop-color="#9999e3"/><stop offset="0.076" stop-color="#9292e4"/><stop offset="0.099" stop-color="#7979e9"/><stop offset="0.105" stop-color="#7676ea"/><stop offset="0.117" stop-color="#7979e9"/><stop offset="0.14" stop-color="#8a8ae6"/><stop offset="0.152" stop-color="#8d8de6"/><stop offset="0.193" stop-color="#8c8ce6"/><stop offset="0.234" stop-color="#8181e8"/><stop offset="0.245" stop-color="#8080e8"/><stop offset="0.257" stop-color="#8282e8"/><stop offset="0.286" stop-color="#9191e5"/><stop offset="0.298" stop-color="#9494e4"/><stop offset="0.386" stop-color="#8c8ce6"/><stop offset="0.415" stop-color="#9090e5"/><stop offset="0.456" stop-color="#9a9ae3"/><stop offset="0.467" stop-color="#9797e3"/><stop offset="0.485" stop-color="#8b8be6"/><stop offset="0.496" stop-color="#8686e7"/><stop offset="0.502" stop-color="#8787e7"/><stop offset="0.526" stop-color="#9696e4"/><stop offset="0.537" stop-color="#9a9ae3"/><stop offset="0.549" stop-color="#9999e3"/><stop offset="0.578" stop-color="#9090e5"/><stop offset="0.607" stop-color="#8c8ce6"/><stop offset="0.631" stop-color="#8d8de5"/><stop offset="0.695" stop-color="#9494e4"/><stop offset="0.748" stop-color="#8080e8"/><stop offset="0.759" stop-color="#8080e8"/><stop offset="0.8" stop-color="#8c8ce6"/><stop offset="0.841" stop-color="#8d8de5"/><stop offset="0.859" stop-color="#8888e6"/><stop offset="0.876" stop-color="#7a7ae9"/><stop offset="0.888" stop-color="#7575ea"/><stop offset="0.9" stop-color="#7e7ee8"/><stop offset="0.917" stop-color="#9191e5"/><stop offset="0.935" stop-color="#9a9ae3"/><stop offset="0.958" stop-color="#9a9ae3"/><stop offset="0.999" stop-color="#9292e4"/></linearGradient>
<linearGradient id="d93"><stop offset="0" stop-color="#8f8fe5"/><stop offset="0.041" stop-color="#9595e4"/><stop offset="0.064" stop-color="#9393e4"/><stop offset="0.076" stop-color="#8d8de5"/><stop offset="0.093" stop-color="#7a7ae9"/><stop offset="0.105" stop-color="#7272eb"/><stop offset="0.117" stop-color="#7575ea"/><stop offset="0.14" stop-color="#8787e7"/><stop offset="0.152" stop-color="#8989e6"/><stop offset="0.199" stop-color="#8787e7"/><stop offset="0.234" stop-color="#7777ea"/><stop offset="0.245" stop-color="#7474ea"/><stop offset="0.257" stop-color="#7777ea"/><stop offset="0.286" stop-color="#8888e6"/><stop offset="0.298" stop-color="#8c8ce6"/><stop offset="0.315" stop-color="#8d8de5"/><stop offset="0.386" stop-color="#8888e6"/><stop offset="0.45" stop-color="#9393e4"/><stop offset="0.461" stop-color="#8f8fe5"/><stop offset="0.467" stop-color="#8a8ae6"/><stop offset="0.485" stop-color="#7373ea"/><stop offset="0.491" stop-color="#6e6eec"/><stop offset="0.496" stop-color="#6b6bec"/><stop offset="0.502" stop-color="#6d6dec"/><stop offset="0.508" stop-color="#7272eb"/><stop offset="0.526" stop-color="#8989e6"/><stop offset="0.532" stop-color="#8e8ee5"/><stop offset="0.543" stop-color="#9393e4"/><stop offset="0.607" stop-color="#8888e6"/><stop offset="0.631" stop-color="#8888e6"/><stop offset="0.678" stop-color="#8d8de5"/><stop offset="0.695" stop-color="#8c8ce6"/><stop offset="0.707" stop-color="#8888e6"/><stop offset="0.736" stop-color="#7878ea"/><stop offset="0.748" stop-color="#7575ea"/><stop offset="0.759" stop-color="#7777ea"/><stop offset="0.783" stop-color="#8282e8"/><stop offset="0.8" stop-color="#8888e7"/><stop offset="0.841" stop-color="#8989e6"/><stop offset="0.859" stop-color="#8484e7"/><stop offset="0.876" stop-color="#7676ea"/><stop offset="0.888" stop-color="#7272eb"/><stop offset="0.9" stop-color="#7979e9"/><stop offset="0.917" stop-color="#8c8ce6"/><stop offset="0.935" stop-color="#9494e4"/><stop offset="0.958" stop-color="#9595e4"/><stop offset="0.999" stop-color="#8f8fe5"/></linearGradient>
<linearGradient id="d94"><stop offset="0" stop-color="#8c8ce6"/><stop offset="0.041" stop-color="#9191e5"/><stop offset="0.064" stop-color="#8f8fe5"/><stop offset="0.076" stop-color="#8989e6"/><stop offset="0.099" stop-color="#7171eb"/><stop offset="0.105" stop-color="#6e6eeb"/><stop offset="0.111" stop-color="#6f6feb"/><stop offset="0.134" stop-color="#8080e8"/><stop offset="0.146" stop-color="#8585e7"/><stop offset="0.187" stop-color="#8484e7"/><stop offset="0.204" stop-color="#7f7fe8"/><stop offset="0.234" stop-color="#6f6feb"/><stop offset="0.245" stop-color="#6c6cec"/><stop offset="0.257" stop-color="#6e6eec"/><stop offset="0.286" stop-color="#8080e8"/><stop offset="0.304" stop-color="#8787e7"/><stop offset="0.321" stop-color="#8888e6"/><stop offset="0.38" stop-color="#8383e7"/><stop offset="0.444" stop-color="#8d8de5"/><stop offset="0.456" stop-color="#8a8ae6"/><stop offset="0.461" stop-color="#8585e7"/><stop offset="0.467" stop-color="#7e7ee8"/><stop offset="0.485" stop-color="#5e5eef"/><stop offset="0.491" stop-color="#5656f0"/><stop offset="0.496" stop-color="#5353f1"/><stop offset="0.502" stop-color="#5555f0"/><stop offset="0.508" stop-color="#5c5cef"/><stop offset="0.526" stop-color="#7c7ce9"/><stop offset="0.532" stop-color="#8484e7"/><stop offset="0.537" stop-color="#8989e6"/><stop offset="0.549" stop-color="#8d8de5"/><stop offset="0.613" stop-color="#8383e7"/><stop offset="0.689" stop-color="#8888e7"/><stop offset="0.707" stop-color="#8181e8"/><stop offset="0.736" stop-color="#6e6eeb"/><stop offset="0.748" stop-color="#6c6cec"/><stop offset="0.759" stop-color="#6e6eeb"/><stop offset="0.794" stop-color="#8181e8"/><stop offset="0.812" stop-color="#8585e7"/><stop offset="0.841" stop-color="#8686e7"/><stop offset="0.853" stop-color="#8383e7"/><stop offset="0.882" stop-color="#6f6feb"/><stop offset="0.888" stop-color="#6e6eeb"/><stop offset="0.9" stop-color="#7575ea"/><stop offset="0.917" stop-color="#8888e6"/><stop offset="0.929" stop-color="#8e8ee5"/><stop offset="0.952" stop-color="#9191e5"/><stop offset="0.999" stop-color="#8b8be6"/></linearGradient>
<linearGradient id="d95"><stop offset="0" stop-color="#8888e6"/><stop offset="0.041" stop-color="#8d8de5"/><stop offset="0.064" stop-color="#8b8be6"/><stop offset="0.076" stop-color="#8585e7"/><stop offset="0.099" stop-color="#6d6dec"/><stop offset="0.105" stop-color="#6b6bec"/><stop offset="0.117" stop-color="#6e6eeb"/><stop offset="0.14" stop-color="#7f7fe8"/><stop offset="0.158" stop-color="#8282e8"/><stop offset="0.181" stop-color="#8181e8"/><stop offset="0.204" stop-color="#7a7ae9"/><stop offset="0.234" stop-color="#6767ed"/><stop offset="0.245" stop-color="#6363ee"/><stop offset="0.257" stop-color="#6565ed"/><stop offset="0.286" stop-color="#7a7ae9"/><stop offset="0.304" stop-color="#8282e8"/><stop offset="0.321" stop-color="#8383e7"/><stop offset="0.38" stop-color="#7e7ee8"/><stop offset="0.444" stop-color="#8989e6"/><stop offset="0.456" stop-color="#8484e7"/><stop offset="0.461" stop-color="#7e7ee8"/><stop offset="0.473" stop-color="#6969ec"/><stop offset="0.485" stop-color="#5050f1"/><stop offset="0.491" stop-color="#4747f3"/><stop offset="0.496" stop-color="#4343f4"/><stop offset="0.502" stop-color="#4545f3"/><stop offset="0.508" stop-color="#4e4ef2"/><stop offset="0.526" stop-color="#7272eb"/><stop offset="0.532" stop-color="#7c7ce9"/><stop offset="0.537" stop-color="#8383e7"/><stop offset="0.549" stop-color="#8989e6"/><stop offset="0.613" stop-color="#7e7ee8"/><stop offset="0.672" stop-color="#8383e7"/><stop offset="0.689" stop-color="#8282e8"/><stop offset="0.707" stop-color="#7b7be9"/><stop offset="0.736" stop-color="#6666ed"/><stop offset="0.748" stop-color="#6363ee"/><stop offset="0.759" stop-color="#6767ed"/><stop offset="0.794" stop-color="#7c7ce9"/><stop offset="0.812" stop-color="#8181e8"/><stop offset="0.835" stop-color="#8282e8"/><stop offset="0.853" stop-color="#8080e8"/><stop offset="0.882" stop-color="#6c6cec"/><stop offset="0.888" stop-color="#6a6aec"/><stop offset="0.9" stop-color="#7272eb"/><stop offset="0.917" stop-color="#8484e7"/><stop offset="0.929" stop-color="#8b8be6"/><stop offset="0.952" stop-color="#8d8de5"/><stop offset="0.999" stop-color="#8888e6"/></linearGradient>
<linearGradient id="d96"><stop offset="0" stop-color="#8585e7"/><stop offset="0.041" stop-color="#8989e6"/><stop offset="0.064" stop-color="#8888e6"/><stop offset="0.076" stop-color="#8282e8"/><stop offset="0.099" stop-color="#6c6cec"/><stop offset="0.105" stop-color="#6969ec"/><stop offset="0.117" stop-color="#6d6dec"/><stop offset="0.14" stop-color="#7c7ce9"/><stop offset="0.158" stop-color="#7f7fe8"/><stop offset="0.181" stop-color="#7d7de9"/><stop offset="0.204" stop-color="#7575ea"/><stop offset="0.234" stop-color="#6060ee"/><stop offset="0.245" stop-color="#5c5cef"/><stop offset="0.263" stop-color="#6161ee"/><stop offset="0.286" stop-color="#7373ea"/><stop offset="0.304" stop-color="#7c7ce9"/><stop offset="0.321" stop-color="#7e7ee8"/><stop offset="0.38" stop-color="#7979e9"/><stop offset="0.444" stop-color="#8585e7"/><stop offset="0.456" stop-color="#8181e8"/><stop offset="0.461" stop-color="#7b7be9"/><stop offset="0.467" stop-color="#7272eb"/><stop offset="0.485" stop-color="#4d4df2"/><stop offset="0.491" stop-color="#4444f4"/><stop offset="0.496" stop-color="#4040f4"/><stop offset="0.502" stop-color="#4343f4"/><stop offset="0.508" stop-color="#4b4bf2"/><stop offset="0.526" stop-color="#7070eb"/><stop offset="0.532" stop-color="#7979e9"/><stop offset="0.537" stop-color="#8080e8"/><stop offset="0.549" stop-color="#8585e7"/><stop offset="0.613" stop-color="#7979e9"/><stop offset="0.672" stop-color="#7d7de8"/><stop offset="0.689" stop-color="#7c7ce9"/><stop offset="0.707" stop-color="#7474ea"/><stop offset="0.736" stop-color="#5e5eef"/><stop offset="0.748" stop-color="#5c5cef"/><stop offset="0.759" stop-color="#5f5fee"/><stop offset="0.794" stop-color="#7777ea"/><stop offset="0.812" stop-color="#7d7de9"/><stop offset="0.835" stop-color="#7f7fe8"/><stop offset="0.853" stop-color="#7d7de9"/><stop offset="0.882" stop-color="#6a6aec"/><stop offset="0.888" stop-color="#6969ec"/><stop offset="0.9" stop-color="#7070eb"/><stop offset="0.917" stop-color="#8181e8"/><stop offset="0.929" stop-color="#8787e7"/><stop offset="0.952" stop-color="#8989e6"/><stop offset="0.999" stop-color="#8484e7"/></linearGradient>
<linearGradient id="d97"><stop offset="0" stop-color="#8181e8"/><stop offset="0.041" stop-color="#8686e7"/><stop offset="0.064" stop-color="#8585e7"/><stop offset="0.076" stop-color="#8080e8"/><stop offset="0.099" stop-color="#6e6eec"/><stop offset="0.105" stop-color="#6b6bec"/><stop offset="0.117" stop-color="#6e6eec"/><stop offset="0.134" stop-color="#7777ea"/><stop offset="0.146" stop-color="#7b7be9"/><stop offset="0.181" stop-color="#7a7ae9"/><stop offset="0.204" stop-color="#7070eb"/><stop offset="0.234" stop-color="#5959f0"/><stop offset="0.245" stop-color="#5555f0"/><stop offset="0.257" stop-color="#5757f0"/><stop offset="0.292" stop-color="#7171eb"/><stop offset="0.31" stop-color="#7878ea"/><stop offset="0.374" stop-color="#7474ea"/><stop offset="0.403" stop-color="#7878ea"/><stop offset="0.438" stop-color="#8181e8"/><stop offset="0.45" stop-color="#8181e8"/><stop offset="0.461" stop-color="#7a7ae9"/><stop offset="0.467" stop-color="#7373ea"/><stop offset="0.485" stop-color="#5555f0"/><stop offset="0.491" stop-color="#4e4ef2"/><stop offset="0.496" stop-color="#4b4bf2"/><stop offset="0.502" stop-color="#4d4df2"/><stop offset="0.508" stop-color="#5353f1"/><stop offset="0.526" stop-color="#7171eb"/><stop offset="0.532" stop-color="#7979e9"/><stop offset="0.537" stop-color="#7e7ee8"/><stop offset="0.549" stop-color="#8181e8"/><stop offset="0.613" stop-color="#7575ea"/><stop offset="0.637" stop-color="#7474ea"/><stop offset="0.678" stop-color="#7878e9"/><stop offset="0.689" stop-color="#7777ea"/><stop offset="0.707" stop-color="#6e6eeb"/><stop offset="0.736" stop-color="#5757f0"/><stop offset="0.748" stop-color="#5555f0"/><stop offset="0.759" stop-color="#5959f0"/><stop offset="0.794" stop-color="#7373eb"/><stop offset="0.818" stop-color="#7b7be9"/><stop offset="0.853" stop-color="#7a7ae9"/><stop offset="0.876" stop-color="#6e6eeb"/><stop offset="0.888" stop-color="#6b6bec"/><stop offset="0.9" stop-color="#7171eb"/><stop offset="0.917" stop-color="#7f7fe8"/><stop offset="0.929" stop-color="#8484e7"/><stop offset="0.952" stop-color="#8686e7"/><stop offset="0.999" stop-color="#8181e8"/></linearGradient>
<linearGradient id="d98"><stop offset="0" stop-color="#7e7ee8"/><stop offset="0.041" stop-color="#8282e8"/><stop offset="0.064" stop-color="#8181e8"/><stop offset="0.076" stop-color="#7e7ee8"/><stop offset="0.105" stop-color="#6f6feb"/><stop offset="0.117" stop-color="#7171eb"/><stop offset="0.14" stop-color="#7979e9"/><stop offset="0.175" stop-color="#7979e9"/><stop offset="0.199" stop-color="#7171eb"/><stop offset="0.234" stop-color="#5454f1"/><stop offset="0.245" stop-color="#4f4ff2"/><stop offset="0.251" stop-color="#4f4ff2"/><stop offset="0.263" stop-color="#5454f1"/><stop offset="0.286" stop-color="#6767ed"/><stop offset="0.304" stop-color="#7171eb"/><stop offset="0.315" stop-color="#7373eb"/><stop offset="0.38" stop-color="#7272eb"/><stop offset="0.444" stop-color="#7e7ee8"/><stop offset="0.461" stop-color="#7b7be9"/><stop offset="0.467" stop-color="#7676ea"/><stop offset="0.485" stop-color="#6262ee"/><stop offset="0.496" stop-color="#5b5bef"/><stop offset="0.508" stop-color="#6161ee"/><stop offset="0.532" stop-color="#7a7ae9"/><stop offset="0.549" stop-color="#7e7ee8"/><stop offset="0.613" stop-color="#7272eb"/><stop offset="0.689" stop-color="#7171eb"/><stop offset="0.707" stop-color="#6868ed"/><stop offset="0.736" stop-color="#5151f1"/><stop offset="0.748" stop-color="#4f4ff2"/><stop offset="0.765" stop-color="#5757f0"/><stop offset="0.794" stop-color="#7070eb"/><stop offset="0.818" stop-color="#7979e9"/><stop offset="0.853" stop-color="#7a7ae9"/><stop offset="0.888" stop-color="#6f6feb"/><stop offset="0.917" stop-color="#7e7ee8"/><stop offset="0.935" stop-color="#8282e8"/><stop offset="0.958" stop-color="#8282e8"/><stop offset="0.999" stop-color="#7d7de9"/></linearGradient>
<linearGradient id="d99"><stop offset="0" stop-color="#7c7ce9"/><stop offset="0.058" stop-color="#7f7fe8"/><stop offset="0.105" stop-color="#7474ea"/><stop offset="0.146" stop-color="#7979e9"/><stop offset="0.175" stop-color="#7777ea"/><stop offset="0.199" stop-color="#6e6eeb"/><stop offset="0.234" stop-color="#5050f1"/><stop offset="0.245" stop-color="#4a4af2"/><stop offset="0.251" stop-color="#4a4af2"/><stop offset="0.263" stop-color="#4f4ff1"/><stop offset="0.292" stop-color="#6666ed"/><stop offset="0.31" stop-color="#6e6eec"/><stop offset="0.38" stop-color="#6f6feb"/><stop offset="0.45" stop-color="#7c7ce9"/><stop offset="0.467" stop-color="#7979e9"/><stop offset="0.485" stop-color="#6f6feb"/><stop offset="0.496" stop-color="#6b6bec"/><stop offset="0.502" stop-color="#6c6cec"/><stop offset="0.526" stop-color="#7979e9"/><stop offset="0.537" stop-color="#7c7ce9"/><stop offset="0.619" stop-color="#6e6eeb"/><stop offset="0.683" stop-color="#6e6eec"/><stop offset="0.701" stop-color="#6767ed"/><stop offset="0.736" stop-color="#4d4df2"/><stop offset="0.748" stop-color="#4a4af2"/><stop offset="0.759" stop-color="#4f4ff1"/><stop offset="0.794" stop-color="#6e6eec"/><stop offset="0.818" stop-color="#7777ea"/><stop offset="0.853" stop-color="#7979e9"/><stop offset="0.888" stop-color="#7474ea"/><stop offset="0.923" stop-color="#7d7de9"/><stop offset="0.94" stop-color="#7f7fe8"/><stop offset="0.999" stop-color="#7c7ce9"/></linearGradient>
<linearGradient id="d100"><stop offset="0" stop-color="#7a7ae9"/><stop offset="0.064" stop-color="#7c7ce9"/><stop offset="0.175" stop-color="#7676ea"/><stop offset="0.199" stop-color="#6c6cec"/><stop offset="0.234" stop-color="#4e4ef2"/><stop offset="0.245" stop-color="#4949f3"/><stop offset="0.251" stop-color="#4848f3"/><stop offset="0.263" stop-color="#4d4df2"/><stop offset="0.292" stop-color="#6363ee"/><stop offset="0.31" stop-color="#6b6bec"/><stop offset="0.374" stop-color="#6b6bec"/><stop offset="0.461" stop-color="#7a7ae9"/><stop offset="0.496" stop-color="#7575ea"/><stop offset="0.537" stop-color="#7a7ae9"/><stop offset="0.619" stop-color="#6c6cec"/><stop offset="0.683" stop-color="#6b6bec"/><stop offset="0.701" stop-color="#6464ed"/><stop offset="0.73" stop-color="#4d4df2"/><stop offset="0.742" stop-color="#4848f3"/><stop offset="0.748" stop-color="#4949f3"/><stop offset="0.759" stop-color="#4e4ef2"/><stop offset="0.794" stop-color="#6c6cec"/><stop offset="0.818" stop-color="#7575ea"/><stop offset="0.935" stop-color="#7c7ce9"/><stop offset="0.999" stop-color="#7a7ae9"/></linearGradient>
<linearGradient id="d101"><stop offset="0" stop-color="#7979e9"/><stop offset="0.07" stop-color="#7b7be9"/><stop offset="0.175" stop-color="#7474ea"/><stop offset="0.199" stop-color="#6a6aec"/><stop offset="0.239" stop-color="#4949f3"/><stop offset="0.251" stop-color="#4747f3"/><stop offset="0.263" stop-color="#4b4bf2"/><stop offset="0.292" stop-color="#6060ee"/><stop offset="0.31" stop-color="#6868ed"/><stop offset="0.374" stop-color="#6969ec"/><stop offset="0.456" stop-color="#7878e9"/><stop offset="0.537" stop-color="#7878e9"/><stop offset="0.619" stop-color="#6969ec"/><stop offset="0.683" stop-color="#6868ed"/><stop offset="0.701" stop-color="#6161ee"/><stop offset="0.73" stop-color="#4b4bf2"/><stop offset="0.742" stop-color="#4747f3"/><stop offset="0.748" stop-color="#4747f3"/><stop offset="0.759" stop-color="#4c4cf2"/><stop offset="0.794" stop-color="#6a6aec"/><stop offset="0.818" stop-color="#7474ea"/><stop offset="0.923" stop-color="#7b7be9"/><stop offset="0.999" stop-color="#7979e9"/></linearGradient>
<linearGradient id="d102"><stop offset="0" stop-color="#7777ea"/><stop offset="0.07" stop-color="#7979e9"/><stop offset="0.175" stop-color="#7373eb"/><stop offset="0.199" stop-color="#6969ec"/><stop offset="0.234" stop-color="#4b4bf2"/><stop offset="0.251" stop-color="#4545f3"/><stop offset="0.263" stop-color="#4949f3"/><stop offset="0.292" stop-color="#5e5eef"/><stop offset="0.31" stop-color="#6565ed"/><stop offset="0.374" stop-color="#6767ed"/><stop offset="0.456" stop-color="#7676ea"/><stop offset="0.537" stop-color="#7676ea"/><stop offset="0.619" stop-color="#6767ed"/><stop offset="0.683" stop-color="#6666ed"/><stop offset="0.701" stop-color="#5f5fee"/><stop offset="0.73" stop-color="#4949f3"/><stop offset="0.742" stop-color="#4545f3"/><stop offset="0.759" stop-color="#4a4af2"/><stop offset="0.8" stop-color="#6c6cec"/><stop offset="0.824" stop-color="#7474ea"/><stop offset="0.929" stop-color="#7979e9"/><stop offset="0.999" stop-color="#7777ea"/></linearGradient>
<linearGradient id="d103"><stop offset="0" stop-color="#7676ea"/><stop offset="0.07" stop-color="#7878ea"/><stop offset="0.175" stop-color="#7272eb"/><stop offset="0.199" stop-color="#6767ed"/><stop offset="0.234" stop-color="#4949f3"/><stop offset="0.251" stop-color="#4343f4"/><stop offset="0.263" stop-color="#4747f3"/><stop offset="0.292" stop-color="#5c5cef"/><stop offset="0.31" stop-color="#6363ee"/><stop offset="0.374" stop-color="#6666ed"/><stop offset="0.456" stop-color="#7474ea"/><stop offset="0.543" stop-color="#7474ea"/><stop offset="0.619" stop-color="#6666ed"/><stop offset="0.678" stop-color="#6464ed"/><stop offset="0.695" stop-color="#5f5fee"/><stop offset="0.73" stop-color="#4848f3"/><stop offset="0.742" stop-color="#4444f4"/><stop offset="0.759" stop-color="#4949f3"/><stop offset="0.8" stop-color="#6a6aec"/><stop offset="0.824" stop-color="#7373eb"/><stop offset="0.929" stop-color="#7878ea"/><stop offset="0.999" stop-color="#7676ea"/></linearGradient>
<linearGradient id="d104"><stop offset="0" stop-color="#7575ea"/><stop offset="0.082" stop-color="#7676ea"/><stop offset="0.175" stop-color="#7171eb"/><stop offset="0.199" stop-color="#6666ed"/><stop offset="0.234" stop-color="#4848f3"/><stop offset="0.251" stop-color="#4242f4"/><stop offset="0.263" stop-color="#4646f3"/><stop offset="0.292" stop-color="#5a5aef"/><stop offset="0.31" stop-color="#6262ee"/><stop offset="0.374" stop-color="#6565ed"/><stop offset="0.444" stop-color="#7171eb"/><stop offset="0.496" stop-color="#6f6feb"/><stop offset="0.549" stop-color="#7171eb"/><stop offset="0.625" stop-color="#6464ed"/><stop offset="0.678" stop-color="#6363ee"/><stop offset="0.695" stop-color="#5e5eef"/><stop offset="0.73" stop-color="#4646f3"/><stop offset="0.742" stop-color="#4242f4"/><stop offset="0.759" stop-color="#4848f3"/><stop offset="0.8" stop-color="#6969ec"/><stop offset="0.824" stop-color="#7171eb"/><stop offset="0.923" stop-color="#7777ea"/><stop offset="0.999" stop-color="#7575ea"/></linearGradient>
<linearGradient id="d105"><stop offset="0" stop-color="#7575ea"/><stop offset="0.076" stop-color="#7676ea"/><stop offset="0.169" stop-color="#7171eb"/><stop offset="0.193" stop-color="#6868ed"/><stop offset="0.234" stop-color="#4747f3"/><stop offset="0.251" stop-color="#4141f4"/><stop offset="0.263" stop-color="#4545f4"/><stop offset="0.292" stop-color="#5858f0"/><stop offset="0.31" stop-color="#6060ee"/><stop offset="0.374" stop-color="#6464ee"/><stop offset="0.444" stop-color="#6f6feb"/><stop offset="0.496" stop-color="#6a6aec"/><stop offset="0.555" stop-color="#6f6feb"/><stop offset="0.625" stop-color="#6363ee"/><stop offset="0.678" stop-color="#6262ee"/><stop offset="0.695" stop-color="#5c5cef"/><stop offset="0.73" stop-color="#4545f3"/><stop offset="0.748" stop-color="#4242f4"/><stop offset="0.765" stop-color="#4b4bf2"/><stop offset="0.8" stop-color="#6868ed"/><stop offset="0.824" stop-color="#7070eb"/><stop offset="0.923" stop-color="#7676ea"/><stop offset="0.999" stop-color="#7474ea"/></linearGradient>
<linearGradient id="d106"><stop offset="0" stop-color="#7474ea"/><stop offset="0.076" stop-color="#7575ea"/><stop offset="0.169" stop-color="#6f6feb"/><stop offset="0.193" stop-color="#6767ed"/><stop offset="0.234" stop-color="#4646f3"/><stop offset="0.251" stop-color="#4040f4"/><stop offset="0.263" stop-color="#4343f4"/><stop offset="0.292" stop-color="#5757f0"/><stop offset="0.31" stop-color="#5f5fee"/><stop offset="0.374" stop-color="#6363ee"/><stop offset="0.444" stop-color="#6e6eeb"/><stop offset="0.496" stop-color="#6666ed"/><stop offset="0.555" stop-color="#6e6eec"/><stop offset="0.625" stop-color="#6262ee"/><stop offset="0.678" stop-color="#6060ee"/><stop offset="0.695" stop-color="#5b5bef"/><stop offset="0.73" stop-color="#4444f4"/><stop offset="0.748" stop-color="#4141f4"/><stop offset="0.765" stop-color="#4949f3"/><stop offset="0.8" stop-color="#6666ed"/><stop offset="0.824" stop-color="#6f6feb"/><stop offset="0.917" stop-color="#7575ea"/><stop offset="0.999" stop-color="#7373ea"/></linearGradient>
<linearGradient id="d107"><stop offset="0" stop-color="#7373eb"/><stop offset="0.076" stop-color="#7474ea"/><stop offset="0.169" stop-color="#6e6eeb"/><stop offset="0.193" stop-color="#6666ed"/><stop offset="0.234" stop-color="#4545f3"/><stop offset="0.251" stop-color="#3f3ff5"/><stop offset="0.263" stop-color="#4242f4"/><stop offset="0.292" stop-color="#5656f0"/><stop offset="0.31" stop-color="#5e5eef"/><stop offset="0.374" stop-color="#6262ee"/><stop offset="0.438" stop-color="#6d6dec"/><stop offset="0.456" stop-color="#6b6bec"/><stop offset="0.491" stop-color="#6363ee"/><stop offset="0.508" stop-color="#6464ee"/><stop offset="0.537" stop-color="#6b6bec"/><stop offset="0.555" stop-color="#6d6dec"/><stop offset="0.625" stop-color="#6161ee"/><stop offset="0.678" stop-color="#5f5fee"/><stop offset="0.695" stop-color="#5959ef"/><stop offset="0.73" stop-color="#4343f4"/><stop offset="0.748" stop-color="#4040f5"/><stop offset="0.765" stop-color="#4848f3"/><stop offset="0.8" stop-color="#6565ed"/><stop offset="0.824" stop-color="#6e6eeb"/><stop offset="0.917" stop-color="#7474ea"/><stop offset="0.999" stop-color="#7272eb"/></linearGradient>
<linearGradient id="d108"><stop offset="0" stop-color="#7272eb"/><stop offset="0.076" stop-color="#7373eb"/><stop offset="0.169" stop-color="#6d6dec"/><stop offset="0.193" stop-color="#6464ed"/><stop offset="0.234" stop-color="#4444f4"/><stop offset="0.251" stop-color="#3e3ef5"/><stop offset="0.263" stop-color="#4141f4"/><stop offset="0.298" stop-color="#5757f0"/><stop offset="0.315" stop-color="#5e5eef"/><stop offset="0.374" stop-color="#6161ee"/><stop offset="0.438" stop-color="#6b6bec"/><stop offset="0.456" stop-color="#6a6aec"/><stop offset="0.491" stop-color="#6060ee"/><stop offset="0.508" stop-color="#6161ee"/><stop offset="0.537" stop-color="#6969ec"/><stop offset="0.555" stop-color="#6b6bec"/><stop offset="0.625" stop-color="#6060ee"/><stop offset="0.678" stop-color="#5e5eef"/><stop offset="0.695" stop-color="#5858f0"/><stop offset="0.73" stop-color="#4242f4"/><stop offset="0.748" stop-color="#3f3ff5"/><stop offset="0.765" stop-color="#4747f3"/><stop offset="0.8" stop-color="#6363ee"/><stop offset="0.824" stop-color="#6d6dec"/><stop offset="0.917" stop-color="#7373eb"/><stop offset="0.999" stop-color="#7171eb"/></linearGradient>
<linearGradient id="d109"><stop offset="0" stop-color="#7171eb"/><stop offset="0.076" stop-color="#7272eb"/><stop offset="0.169" stop-color="#6c6cec"/><stop offset="0.193" stop-color="#6363ee"/><stop offset="0.234" stop-color="#4343f4"/><stop offset="0.251" stop-color="#3d3df5"/><stop offset="0.263" stop-color="#4040f4"/><stop offset="0.298" stop-color="#5656f0"/><stop offset="0.315" stop-color="#5c5cef"/><stop offset="0.374" stop-color="#6060ee"/><stop offset="0.438" stop-color="#6a6aec"/><stop offset="0.456" stop-color="#6868ed"/><stop offset="0.496" stop-color="#5f5fee"/><stop offset="0.555" stop-color="#6a6aec"/><stop offset="0.625" stop-color="#5f5fee"/><stop offset="0.672" stop-color="#5d5def"/><stop offset="0.695" stop-color="#5757f0"/><stop offset="0.73" stop-color="#4141f4"/><stop offset="0.748" stop-color="#3e3ef5"/><stop offset="0.765" stop-color="#4646f3"/><stop offset="0.8" stop-color="#6262ee"/><stop offset="0.824" stop-color="#6c6cec"/><stop offset="0.917" stop-color="#7272eb"/><stop offset="0.999" stop-color="#7070eb"/></linearGradient>
<linearGradient id="d110"><stop offset="0" stop-color="#7070eb"/><stop offset="0.082" stop-color="#7171eb"/><stop offset="0.169" stop-color="#6b6bec"/><stop offset="0.193" stop-color="#6262ee"/><stop offset="0.234" stop-color="#4242f4"/><stop offset="0.251" stop-color="#3c3cf5"/><stop offset="0.263" stop-color="#3f3ff5"/><stop offset="0.298" stop-color="#5555f0"/><stop offset="0.315" stop-color="#5b5bef"/><stop offset="0.374" stop-color="#5f5fee"/><stop offset="0.438" stop-color="#6969ec"/><stop offset="0.456" stop-color="#6868ed"/><stop offset="0.496" stop-color="#5e5eef"/><stop offset="0.555" stop-color="#6969ec"/><stop offset="0.625" stop-color="#5e5eef"/><stop offset="0.672" stop-color="#5c5cef"/><stop offset="0.695" stop-color="#5555f0"/><stop offset="0.73" stop-color="#4040f5"/><stop offset="0.748" stop-color="#3d3df5"/><stop offset="0.765" stop-color="#4545f3"/><stop offset="0.8" stop-color="#6161ee"/><stop offset="0.812" stop-color="#6767ed"/><stop offset="0.829" stop-color="#6c6cec"/><stop offset="0.923" stop-color="#7171eb"/><stop offset="0.999" stop-color="#7070eb"/></linearGradient>
<linearGradient id="d111"><stop offset="0" stop-color="#6f6feb"/><stop offset="0.088" stop-color="#7070eb"/><stop offset="0.169" stop-color="#6a6aec"/><stop offset="0.193" stop-color="#6060ee"/><stop offset="0.234" stop-color="#4141f4"/><stop offset="0.251" stop-color="#3c3cf5"/><stop offset="0.263" stop-color="#3e3ef5"/><stop offset="0.298" stop-color="#5353f1"/><stop offset="0.315" stop-color="#5a5aef"/><stop offset="0.374" stop-color="#5e5eef"/><stop offset="0.438" stop-color="#6868ed"/><stop offset="0.456" stop-color="#6767ed"/><stop offset="0.491" stop-color="#5d5def"/><stop offset="0.508" stop-color="#5e5eef"/><stop offset="0.537" stop-color="#6666ed"/><stop offset="0.555" stop-color="#6868ed"/><stop offset="0.625" stop-color="#5d5def"/><stop offset="0.672" stop-color="#5b5bef"/><stop offset="0.695" stop-color="#5454f1"/><stop offset="0.73" stop-color="#3f3ff5"/><stop offset="0.748" stop-color="#3c3cf5"/><stop offset="0.765" stop-color="#4444f4"/><stop offset="0.806" stop-color="#6363ee"/><stop offset="0.829" stop-color="#6b6bec"/><stop offset="0.917" stop-color="#7070eb"/><stop offset="0.999" stop-color="#6f6feb"/></linearGradient>
<linearGradient id="d112"><stop offset="0" stop-color="#6e6eeb"/><stop offset="0.082" stop-color="#6f6feb"/><stop offset="0.164" stop-color="#6a6aec"/><stop offset="0.187" stop-color="#6262ee"/><stop offset="0.234" stop-color="#4040f4"/><stop offset="0.251" stop-color="#3b3bf5"/><stop offset="0.263" stop-color="#3d3df5"/><stop offset="0.298" stop-color="#5252f1"/><stop offset="0.315" stop-color="#5959f0"/><stop offset="0.374" stop-color="#5d5def"/><stop offset="0.438" stop-color="#6868ed"/><stop offset="0.456" stop-color="#6666ed"/><stop offset="0.491" stop-color="#5c5cef"/><stop offset="0.508" stop-color="#5d5def"/><stop offset="0.537" stop-color="#6565ed"/><stop offset="0.555" stop-color="#6868ed"/><stop offset="0.625" stop-color="#5d5def"/><stop offset="0.672" stop-color="#5a5aef"/><stop offset="0.695" stop-color="#5353f1"/><stop offset="0.73" stop-color="#3e3ef5"/><stop offset="0.748" stop-color="#3b3bf5"/><stop offset="0.765" stop-color="#4343f4"/><stop offset="0.806" stop-color="#6262ee"/><stop offset="0.829" stop-color="#6a6aec"/><stop offset="0.917" stop-color="#6f6feb"/><stop offset="0.999" stop-color="#6e6eec"/></linearGradient>
<linearGradient id="d113"><stop offset="0" stop-color="#6d6dec"/><stop offset="0.082" stop-color="#6e6eeb"/><stop offset="0.164" stop-color="#6969ec"/><stop offset="0.187" stop-color="#6161ee"/><stop offset="0.234" stop-color="#3f3ff5"/><stop offset="0.251" stop-color="#3a3af6"/><stop offset="0.269" stop-color="#3f3ff5"/><stop offset="0.298" stop-color="#5151f1"/><stop offset="0.315" stop-color="#5757f0"/><stop offset="0.374" stop-color="#5c5cef"/><stop offset="0.438" stop-color="#6767ed"/><stop offset="0.456" stop-color="#6565ed"/><stop offset="0.491" stop-color="#5b5bef"/><stop offset="0.508" stop-color="#5c5cef"/><stop offset="0.537" stop-color="#6565ed"/><stop offset="0.555" stop-color="#6767ed"/><stop offset="0.625" stop-color="#5c5cef"/><stop offset="0.672" stop-color="#5959f0"/><stop offset="0.695" stop-color="#5151f1"/><stop offset="0.73" stop-color="#3d3df5"/><stop offset="0.748" stop-color="#3a3af6"/><stop offset="0.765" stop-color="#4242f4"/><stop offset="0.806" stop-color="#6060ee"/><stop offset="0.829" stop-color="#6969ed"/><stop offset="0.917" stop-color="#6e6eeb"/><stop offset="0.999" stop-color="#6d6dec"/></linearGradient>
<linearGradient id="d114"><stop offset="0" stop-color="#6c6cec"/><stop offset="0.082" stop-color="#6d6dec"/><stop offset="0.164" stop-color="#6868ed"/><stop offset="0.187" stop-color="#6060ee"/><stop offset="0.234" stop-color="#3e3ef5"/><stop offset="0.251" stop-color="#3939f6"/><stop offset="0.269" stop-color="#3e3ef5"/><stop offset="0.298" stop-color="#5050f1"/><stop offset="0.315" stop-color="#5656f0"/><stop offset="0.374" stop-color="#5b5bef"/><stop offset="0.438" stop-color="#6666ed"/><stop offset="0.456" stop-color="#6464ed"/><stop offset="0.491" stop-color="#5a5aef"/><stop offset="0.508" stop-color="#5b5bef"/><stop offset="0.537" stop-color="#6464ee"/><stop offset="0.555" stop-color="#6666ed"/><stop offset="0.625" stop-color="#5b5bef"/><stop offset="0.672" stop-color="#5858f0"/><stop offset="0.695" stop-color="#5050f1"/><stop offset="0.73" stop-color="#3c3cf5"/><stop offset="0.748" stop-color="#3939f6"/><stop offset="0.765" stop-color="#4141f4"/><stop offset="0.806" stop-color="#5f5fee"/><stop offset="0.829" stop-color="#6868ed"/><stop offset="0.911" stop-color="#6d6dec"/><stop offset="0.999" stop-color="#6c6cec"/></linearGradient>
<linearGradient id="d115"><stop offset="0" stop-color="#6b6bec"/><stop offset="0.082" stop-color="#6c6cec"/><stop offset="0.164" stop-color="#6767ed"/><stop offset="0.187" stop-color="#5f5fee"/><stop offset="0.234" stop-color="#3e3ef5"/><stop offset="0.251" stop-color="#3838f6"/><stop offset="0.269" stop-color="#3c3cf5"/><stop offset="0.31" stop-color="#5353f1"/><stop offset="0.327" stop-color="#5757f0"/><stop offset="0.374" stop-color="#5b5bef"/><stop offset="0.438" stop-color="#6565ed"/><stop offset="0.456" stop-color="#6363ee"/><stop offset="0.485" stop-color="#5a5aef"/><stop offset="0.502" stop-color="#5959f0"/><stop offset="0.537" stop-color="#6363ee"/><stop offset="0.555" stop-color="#6565ed"/><stop offset="0.619" stop-color="#5b5bef"/><stop offset="0.678" stop-color="#5555f0"/><stop offset="0.695" stop-color="#4e4ef2"/><stop offset="0.724" stop-color="#3d3df5"/><stop offset="0.742" stop-color="#3838f6"/><stop offset="0.759" stop-color="#3d3df5"/><stop offset="0.8" stop-color="#5b5bef"/><stop offset="0.829" stop-color="#6767ed"/><stop offset="0.911" stop-color="#6c6cec"/><stop offset="0.999" stop-color="#6b6bec"/></linearGradient>
<linearGradient id="d116"><stop offset="0" stop-color="#6b6bec"/><stop offset="0.082" stop-color="#6b6bec"/><stop offset="0.164" stop-color="#6666ed"/><stop offset="0.187" stop-color="#5f5fef"/><stop offset="0.234" stop-color="#3d3df5"/><stop offset="0.251" stop-color="#3737f6"/><stop offset="0.269" stop-color="#3b3bf5"/><stop offset="0.304" stop-color="#4e4ef2"/><stop offset="0.327" stop-color="#5555f0"/><stop offset="0.374" stop-color="#5a5aef"/><stop offset="0.438" stop-color="#6464ed"/><stop offset="0.456" stop-color="#6262ee"/><stop offset="0.485" stop-color="#5959f0"/><stop offset="0.502" stop-color="#5858f0"/><stop offset="0.537" stop-color="#6262ee"/><stop offset="0.555" stop-color="#6464ed"/><stop offset="0.619" stop-color="#5a5aef"/><stop offset="0.672" stop-color="#5555f0"/><stop offset="0.689" stop-color="#4f4ff2"/><stop offset="0.724" stop-color="#3b3bf5"/><stop offset="0.742" stop-color="#3737f6"/><stop offset="0.759" stop-color="#3d3df5"/><stop offset="0.806" stop-color="#5e5eef"/><stop offset="0.829" stop-color="#6666ed"/><stop offset="0.911" stop-color="#6b6bec"/><stop offset="0.999" stop-color="#6a6aec"/></linearGradient>
<linearGradient id="d117"><stop offset="0" stop-color="#6a6aec"/><stop offset="0.082" stop-color="#6b6bec"/><stop offset="0.164" stop-color="#6565ed"/><stop offset="0.193" stop-color="#5b5bef"/><stop offset="0.239" stop-color="#3a3af6"/><stop offset="0.257" stop-color="#3636f6"/><stop offset="0.275" stop-color="#3c3cf5"/><stop offset="0.31" stop-color="#4f4ff2"/><stop offset="0.333" stop-color="#5555f0"/><stop offset="0.374" stop-color="#5959f0"/><stop offset="0.438" stop-color="#6363ee"/><stop offset="0.456" stop-color="#6161ee"/><stop offset="0.485" stop-color="#5858f0"/><stop offset="0.502" stop-color="#5757f0"/><stop offset="0.537" stop-color="#6161ee"/><stop offset="0.555" stop-color="#6363ee"/><stop offset="0.672" stop-color="#5353f1"/><stop offset="0.689" stop-color="#4d4df2"/><stop offset="0.724" stop-color="#3a3af6"/><stop offset="0.742" stop-color="#3636f6"/><stop offset="0.759" stop-color="#3c3cf5"/><stop offset="0.806" stop-color="#5d5def"/><stop offset="0.829" stop-color="#6565ed"/><stop offset="0.911" stop-color="#6b6bec"/><stop offset="0.999" stop-color="#6a6aec"/></linearGradient>
<linearGradient id="d118"><stop offset="0" stop-color="#6969ec"/><stop offset="0.082" stop-color="#6a6aec"/><stop offset="0.164" stop-color="#6565ed"/><stop offset="0.193" stop-color="#5a5aef"/><stop offset="0.239" stop-color="#3939f6"/><stop offset="0.257" stop-color="#3535f7"/><stop offset="0.275" stop-color="#3a3af6"/><stop offset="0.304" stop-color="#4a4af2"/><stop offset="0.321" stop-color="#5151f1"/><stop offset="0.438" stop-color="#6262ee"/><stop offset="0.456" stop-color="#6060ee"/><stop offset="0.496" stop-color="#5555f0"/><stop offset="0.508" stop-color="#5757f0"/><stop offset="0.543" stop-color="#6161ee"/><stop offset="0.572" stop-color="#6060ee"/><stop offset="0.619" stop-color="#5858f0"/><stop offset="0.672" stop-color="#5151f1"/><stop offset="0.689" stop-color="#4b4bf2"/><stop offset="0.724" stop-color="#3838f6"/><stop offset="0.742" stop-color="#3535f7"/><stop offset="0.759" stop-color="#3c3cf5"/><stop offset="0.806" stop-color="#5c5cef"/><stop offset="0.829" stop-color="#6464ed"/><stop offset="0.911" stop-color="#6a6aec"/><stop offset="0.999" stop-color="#6969ed"/></linearGradient>
<linearGradient id="d119"><stop offset="0" stop-color="#6868ed"/><stop offset="0.082" stop-color="#6969ed"/><stop offset="0.164" stop-color="#6363ee"/><stop offset="0.187" stop-color="#5c5cef"/><stop offset="0.239" stop-color="#3838f6"/><stop offset="0.257" stop-color="#3333f7"/><stop offset="0.275" stop-color="#3838f6"/><stop offset="0.31" stop-color="#4a4af3"/><stop offset="0.327" stop-color="#5050f1"/><stop offset="0.438" stop-color="#6060ee"/><stop offset="0.456" stop-color="#5d5def"/><stop offset="0.485" stop-color="#5454f1"/><stop offset="0.496" stop-color="#5353f1"/><stop offset="0.508" stop-color="#5454f1"/><stop offset="0.543" stop-color="#5e5eef"/><stop offset="0.572" stop-color="#5e5eef"/><stop offset="0.672" stop-color="#4f4ff2"/><stop offset="0.689" stop-color="#4848f3"/><stop offset="0.724" stop-color="#3636f6"/><stop offset="0.742" stop-color="#3434f7"/><stop offset="0.759" stop-color="#3b3bf5"/><stop offset="0.8" stop-color="#5858f0"/><stop offset="0.829" stop-color="#6363ee"/><stop offset="0.911" stop-color="#6969ed"/><stop offset="0.999" stop-color="#6868ed"/></linearGradient>
<linearGradient id="d120"><stop offset="0" stop-color="#6767ed"/><stop offset="0.082" stop-color="#6868ed"/><stop offset="0.164" stop-color="#6262ee"/><stop offset="0.193" stop-color="#5858f0"/><stop offset="0.239" stop-color="#3737f6"/><stop offset="0.257" stop-color="#3232f7"/><stop offset="0.275" stop-color="#3535f7"/><stop offset="0.31" stop-color="#4747f3"/><stop offset="0.327" stop-color="#4d4df2"/><stop offset="0.438" stop-color="#5c5cef"/><stop offset="0.456" stop-color="#5a5aef"/><stop offset="0.485" stop-color="#5050f1"/><stop offset="0.496" stop-color="#4f4ff2"/><stop offset="0.508" stop-color="#5050f1"/><stop offset="0.543" stop-color="#5b5bef"/><stop offset="0.572" stop-color="#5b5bef"/><stop offset="0.672" stop-color="#4b4bf2"/><stop offset="0.718" stop-color="#3535f7"/><stop offset="0.736" stop-color="#3232f7"/><stop offset="0.748" stop-color="#3434f7"/><stop offset="0.759" stop-color="#3a3af6"/><stop offset="0.806" stop-color="#5a5aef"/><stop offset="0.829" stop-color="#6262ee"/><stop offset="0.911" stop-color="#6868ed"/><stop offset="0.999" stop-color="#6767ed"/></linearGradient>
<linearGradient id="d121"><stop offset="0" stop-color="#6666ed"/><stop offset="0.082" stop-color="#6767ed"/><stop offset="0.164" stop-color="#6161ee"/><stop offset="0.193" stop-color="#5757f0"/><stop offset="0.239" stop-color="#3636f6"/><stop offset="0.251" stop-color="#3131f7"/><stop offset="0.263" stop-color="#3030f8"/><stop offset="0.275" stop-color="#3232f7"/><stop offset="0.31" stop-color="#4343f4"/><stop offset="0.327" stop-color="#4949f3"/><stop offset="0.438" stop-color="#5858f0"/><stop offset="0.456" stop-color="#5656f0"/><stop offset="0.485" stop-color="#4c4cf2"/><stop offset="0.496" stop-color="#4a4af3"/><stop offset="0.508" stop-color="#4b4bf2"/><stop offset="0.543" stop-color="#5757f0"/><stop offset="0.572" stop-color="#5757f0"/><stop offset="0.666" stop-color="#4949f3"/><stop offset="0.683" stop-color="#4444f4"/><stop offset="0.718" stop-color="#3333f7"/><stop offset="0.736" stop-color="#3030f8"/><stop offset="0.754" stop-color="#3535f7"/><stop offset="0.8" stop-color="#5656f0"/><stop offset="0.829" stop-color="#6161ee"/><stop offset="0.911" stop-color="#6767ed"/><stop offset="0.999" stop-color="#6666ed"/></linearGradient>
<linearGradient id="d122"><stop offset="0" stop-color="#6565ed"/><stop offset="0.082" stop-color="#6666ed"/><stop offset="0.164" stop-color="#6060ee"/><stop offset="0.193" stop-color="#5555f0"/><stop offset="0.245" stop-color="#3131f7"/><stop offset="0.263" stop-color="#2d2df8"/><stop offset="0.28" stop-color="#3131f7"/><stop offset="0.327" stop-color="#4545f3"/><stop offset="0.438" stop-color="#5454f1"/><stop offset="0.456" stop-color="#5151f1"/><stop offset="0.485" stop-color="#4646f3"/><stop offset="0.496" stop-color="#4444f4"/><stop offset="0.508" stop-color="#4646f3"/><stop offset="0.543" stop-color="#5252f1"/><stop offset="0.572" stop-color="#5353f1"/><stop offset="0.666" stop-color="#4545f3"/><stop offset="0.718" stop-color="#2f2ff8"/><stop offset="0.736" stop-color="#2d2df8"/><stop offset="0.754" stop-color="#3333f7"/><stop offset="0.8" stop-color="#5555f0"/><stop offset="0.829" stop-color="#6060ee"/><stop offset="0.911" stop-color="#6666ed"/><stop offset="0.999" stop-color="#6565ed"/></linearGradient>
<linearGradient id="d123"><stop offset="0" stop-color="#6464ed"/><stop offset="0.082" stop-color="#6565ed"/><stop offset="0.164" stop-color="#5e5eef"/><stop offset="0.193" stop-color="#5454f1"/><stop offset="0.239" stop-color="#3232f7"/><stop offset="0.251" stop-color="#2d2df8"/><stop offset="0.263" stop-color="#2a2af9"/><stop offset="0.28" stop-color="#2e2ef8"/><stop offset="0.315" stop-color="#3d3df5"/><stop offset="0.333" stop-color="#4242f4"/><stop offset="0.432" stop-color="#4f4ff2"/><stop offset="0.45" stop-color="#4d4df2"/><stop offset="0.485" stop-color="#3f3ff5"/><stop offset="0.496" stop-color="#3d3df5"/><stop offset="0.508" stop-color="#3f3ff5"/><stop offset="0.543" stop-color="#4d4df2"/><stop offset="0.572" stop-color="#4e4ef2"/><stop offset="0.666" stop-color="#4141f4"/><stop offset="0.718" stop-color="#2c2cf8"/><stop offset="0.736" stop-color="#2b2bf9"/><stop offset="0.754" stop-color="#3232f7"/><stop offset="0.8" stop-color="#5353f1"/><stop offset="0.829" stop-color="#5e5eef"/><stop offset="0.911" stop-color="#6565ed"/><stop offset="0.999" stop-color="#6464ed"/></linearGradient>
<linearGradient id="d124"><stop offset="0" stop-color="#6464ee"/><stop offset="0.082" stop-color="#6464ed"/><stop offset="0.164" stop-color="#5d5def"/><stop offset="0.181" stop-color="#5858f0"/><stop offset="0.199" stop-color="#4f4ff2"/><stop offset="0.245" stop-color="#2d2df8"/><stop offset="0.257" stop-color="#2929f9"/><stop offset="0.269" stop-color="#2828f9"/><stop offset="0.28" stop-color="#2a2af9"/><stop offset="0.333" stop-color="#3d3df5"/><stop offset="0.421" stop-color="#4848f3"/><stop offset="0.45" stop-color="#4747f3"/><stop offset="0.485" stop-color="#3737f6"/><stop offset="0.496" stop-color="#3535f7"/><stop offset="0.508" stop-color="#3737f6"/><stop offset="0.543" stop-color="#4747f3"/><stop offset="0.561" stop-color="#4949f3"/><stop offset="0.66" stop-color="#3e3ef5"/><stop offset="0.678" stop-color="#3939f6"/><stop offset="0.713" stop-color="#2a2af9"/><stop offset="0.73" stop-color="#2828f9"/><stop offset="0.742" stop-color="#2a2af9"/><stop offset="0.754" stop-color="#3030f8"/><stop offset="0.8" stop-color="#5252f1"/><stop offset="0.829" stop-color="#5d5def"/><stop offset="0.911" stop-color="#6464ee"/><stop offset="0.999" stop-color="#6363ee"/></linearGradient>
<linearGradient id="d125"><stop offset="0" stop-color="#6363ee"/><stop offset="0.082" stop-color="#6363ee"/><stop offset="0.164" stop-color="#5b5bef"/><stop offset="0.181" stop-color="#5656f0"/><stop offset="0.199" stop-color="#4d4df2"/><stop offset="0.245" stop-color="#2b2bf9"/><stop offset="0.257" stop-color="#2626fa"/><stop offset="0.269" stop-color="#2424fa"/><stop offset="0.286" stop-color="#2828f9"/><stop offset="0.333" stop-color="#3838f6"/><stop offset="0.432" stop-color="#4343f4"/><stop offset="0.45" stop-color="#4040f4"/><stop offset="0.485" stop-color="#2e2ef8"/><stop offset="0.496" stop-color="#2c2cf8"/><stop offset="0.508" stop-color="#2e2ef8"/><stop offset="0.543" stop-color="#4040f4"/><stop offset="0.567" stop-color="#4343f4"/><stop offset="0.66" stop-color="#3939f6"/><stop offset="0.713" stop-color="#2626f9"/><stop offset="0.73" stop-color="#2525fa"/><stop offset="0.742" stop-color="#2828f9"/><stop offset="0.754" stop-color="#2e2ef8"/><stop offset="0.8" stop-color="#5050f1"/><stop offset="0.829" stop-color="#5b5bef"/><stop offset="0.911" stop-color="#6363ee"/><stop offset="0.999" stop-color="#6363ee"/></linearGradient>
<linearGradient id="d126"><stop offset="0" stop-color="#6262ee"/><stop offset="0.093" stop-color="#6161ee"/><stop offset="0.14" stop-color="#5d5def"/><stop offset="0.169" stop-color="#5858f0"/><stop offset="0.193" stop-color="#4f4ff2"/><stop offset="0.245" stop-color="#2929f9"/><stop offset="0.263" stop-color="#2222fa"/><stop offset="0.28" stop-color="#2222fa"/><stop offset="0.339" stop-color="#3434f7"/><stop offset="0.432" stop-color="#3d3df5"/><stop offset="0.456" stop-color="#3737f6"/><stop offset="0.485" stop-color="#2424fa"/><stop offset="0.496" stop-color="#2121fb"/><stop offset="0.508" stop-color="#2424fa"/><stop offset="0.543" stop-color="#3939f6"/><stop offset="0.567" stop-color="#3d3df5"/><stop offset="0.66" stop-color="#3434f7"/><stop offset="0.713" stop-color="#2323fa"/><stop offset="0.73" stop-color="#2222fa"/><stop offset="0.754" stop-color="#2c2cf8"/><stop offset="0.8" stop-color="#4e4ef2"/><stop offset="0.829" stop-color="#5a5aef"/><stop offset="0.911" stop-color="#6262ee"/><stop offset="0.999" stop-color="#6262ee"/></linearGradient>
<linearGradient id="d127"><stop offset="0" stop-color="#6161ee"/><stop offset="0.093" stop-color="#6060ee"/><stop offset="0.14" stop-color="#5c5cef"/><stop offset="0.169" stop-color="#5757f0"/><stop offset="0.199" stop-color="#4a4af3"/><stop offset="0.245" stop-color="#2727f9"/><stop offset="0.257" stop-color="#2121fb"/><stop offset="0.269" stop-color="#1e1efb"/><stop offset="0.286" stop-color="#2020fb"/><stop offset="0.339" stop-color="#2f2ff8"/><stop offset="0.432" stop-color="#3737f6"/><stop offset="0.456" stop-color="#3030f8"/><stop offset="0.485" stop-color="#1919fc"/><stop offset="0.496" stop-color="#1515fd"/><stop offset="0.508" stop-color="#1818fc"/><stop offset="0.543" stop-color="#3232f7"/><stop offset="0.561" stop-color="#3737f6"/><stop offset="0.654" stop-color="#2f2ff8"/><stop offset="0.713" stop-color="#1f1ffb"/><stop offset="0.73" stop-color="#1f1ffb"/><stop offset="0.754" stop-color="#2a2af9"/><stop offset="0.8" stop-color="#4d4df2"/><stop offset="0.829" stop-color="#5858f0"/><stop offset="0.911" stop-color="#6060ee"/><stop offset="0.999" stop-color="#6161ee"/></linearGradient>
<linearGradient id="d128"><stop offset="0" stop-color="#6060ee"/><stop offset="0.093" stop-color="#5f5fee"/><stop offset="0.14" stop-color="#5b5bef"/><stop offset="0.169" stop-color="#5555f0"/><stop offset="0.199" stop-color="#4848f3"/><stop offset="0.245" stop-color="#2424fa"/><stop offset="0.269" stop-color="#1b1bfc"/><stop offset="0.286" stop-color="#1c1cfc"/><stop offset="0.321" stop-color="#2626f9"/><stop offset="0.345" stop-color="#2b2bf9"/><stop offset="0.421" stop-color="#3131f7"/><stop offset="0.438" stop-color="#2f2ff8"/><stop offset="0.456" stop-color="#2828f9"/><stop offset="0.485" stop-color="#0d0dfe"/><stop offset="0.496" stop-color="#0a0afe"/><stop offset="0.508" stop-color="#0c0cff"/><stop offset="0.537" stop-color="#2727f9"/><stop offset="0.555" stop-color="#2f2ff8"/><stop offset="0.572" stop-color="#3131f7"/><stop offset="0.648" stop-color="#2b2bf9"/><stop offset="0.672" stop-color="#2727f9"/><stop offset="0.707" stop-color="#1c1cfc"/><stop offset="0.724" stop-color="#1b1bfc"/><stop offset="0.748" stop-color="#2424fa"/><stop offset="0.8" stop-color="#4b4bf2"/><stop offset="0.829" stop-color="#5656f0"/><stop offset="0.911" stop-color="#5f5fee"/><stop offset="0.999" stop-color="#6060ee"/></linearGradient>
<linearGradient id="d129"><stop offset="0" stop-color="#5f5fee"/><stop offset="0.093" stop-color="#5e5eef"/><stop offset="0.14" stop-color="#5959f0"/><stop offset="0.169" stop-color="#5353f1"/><stop offset="0.199" stop-color="#4646f3"/><stop offset="0.245" stop-color="#2222fa"/><stop offset="0.269" stop-color="#1818fc"/><stop offset="0.286" stop-color="#1818fc"/><stop offset="0.345" stop-color="#2626fa"/><stop offset="0.426" stop-color="#2b2bf9"/><stop offset="0.438" stop-color="#2929f9"/><stop offset="0.45" stop-color="#2424fa"/><stop offset="0.461" stop-color="#1b1bfc"/><stop offset="0.473" stop-color="#0d0dfe"/><stop offset="0.479" stop-color="#0a0afd"/><stop offset="0.496" stop-color="#0909f8"/><stop offset="0.52" stop-color="#0b0bff"/><stop offset="0.532" stop-color="#1919fc"/><stop offset="0.543" stop-color="#2323fa"/><stop offset="0.555" stop-color="#2929f9"/><stop offset="0.567" stop-color="#2a2af9"/><stop offset="0.654" stop-color="#2525fa"/><stop offset="0.707" stop-color="#1818fc"/><stop offset="0.724" stop-color="#1717fc"/><stop offset="0.748" stop-color="#2121fa"/><stop offset="0.8" stop-color="#4949f3"/><stop offset="0.829" stop-color="#5555f0"/><stop offset="0.911" stop-color="#5e5eef"/><stop offset="0.999" stop-color="#5f5fee"/></linearGradient>
<linearGradient id="d130"><stop offset="0" stop-color="#5e5eef"/><stop offset="0.088" stop-color="#5d5def"/><stop offset="0.14" stop-color="#5858f0"/><stop offset="0.169" stop-color="#5252f1"/><stop offset="0.199" stop-color="#4545f4"/><stop offset="0.245" stop-color="#2020fb"/><stop offset="0.269" stop-color="#1515fd"/><stop offset="0.286" stop-color="#1414fd"/><stop offset="0.345" stop-color="#2020fb"/><stop offset="0.426" stop-color="#2525fa"/><stop offset="0.438" stop-color="#2323fa"/><stop offset="0.45" stop-color="#1d1dfb"/><stop offset="0.467" stop-color="#0a0aff"/><stop offset="0.485" stop-color="#0909f4"/><stop offset="0.496" stop-color="#0909f1"/><stop offset="0.508" stop-color="#0909f4"/><stop offset="0.526" stop-color="#0a0afe"/><stop offset="0.543" stop-color="#1c1cfb"/><stop offset="0.555" stop-color="#2222fa"/><stop offset="0.567" stop-color="#2424fa"/><stop offset="0.648" stop-color="#2020fb"/><stop offset="0.707" stop-color="#1414fd"/><stop offset="0.724" stop-color="#1414fd"/><stop offset="0.748" stop-color="#1f1ffb"/><stop offset="0.8" stop-color="#4747f3"/><stop offset="0.829" stop-color="#5353f1"/><stop offset="0.911" stop-color="#5d5def"/><stop offset="0.999" stop-color="#5e5eef"/></linearGradient>
<linearGradient id="d131"><stop offset="0" stop-color="#5d5def"/><stop offset="0.088" stop-color="#5c5cef"/><stop offset="0.14" stop-color="#5656f0"/><stop offset="0.169" stop-color="#5050f1"/><stop offset="0.199" stop-color="#4343f4"/><stop offset="0.251" stop-color="#1a1afc"/><stop offset="0.275" stop-color="#1010fe"/><stop offset="0.292" stop-color="#1111fe"/><stop offset="0.345" stop-color="#1b1bfc"/><stop offset="0.421" stop-color="#1f1ffb"/><stop offset="0.444" stop-color="#1a1afc"/><stop offset="0.461" stop-color="#0a0afe"/><stop offset="0.485" stop-color="#0808ee"/><stop offset="0.496" stop-color="#0808ea"/><stop offset="0.508" stop-color="#0808ed"/><stop offset="0.532" stop-color="#0a0afe"/><stop offset="0.549" stop-color="#1919fc"/><stop offset="0.561" stop-color="#1e1efb"/><stop offset="0.572" stop-color="#1f1ffb"/><stop offset="0.648" stop-color="#1b1bfc"/><stop offset="0.701" stop-color="#1111fe"/><stop offset="0.718" stop-color="#1010fe"/><stop offset="0.742" stop-color="#1919fc"/><stop offset="0.8" stop-color="#4646f3"/><stop offset="0.829" stop-color="#5151f1"/><stop offset="0.911" stop-color="#5c5cef"/><stop offset="0.999" stop-color="#5d5def"/></linearGradient>
<linearGradient id="d132"><stop offset="0" stop-color="#5c5cef"/><stop offset="0.088" stop-color="#5a5aef"/><stop offset="0.14" stop-color="#5555f0"/><stop offset="0.169" stop-color="#4e4ef2"/><stop offset="0.199" stop-color="#4141f4"/><stop offset="0.251" stop-color="#1818fc"/><stop offset="0.275" stop-color="#0d0dfe"/><stop offset="0.292" stop-color="#0d0dfe"/><stop offset="0.35" stop-color="#1717fc"/><stop offset="0.421" stop-color="#1a1afc"/><stop offset="0.438" stop-color="#1717fc"/><stop offset="0.456" stop-color="#0a0afe"/><stop offset="0.485" stop-color="#0808e8"/><stop offset="0.496" stop-color="#0707e4"/><stop offset="0.508" stop-color="#0808e7"/><stop offset="0.537" stop-color="#0a0afe"/><stop offset="0.555" stop-color="#1616fd"/><stop offset="0.572" stop-color="#1a1afc"/><stop offset="0.648" stop-color="#1717fd"/><stop offset="0.701" stop-color="#0d0dfe"/><stop offset="0.718" stop-color="#0d0dfe"/><stop offset="0.742" stop-color="#1717fc"/><stop offset="0.783" stop-color="#3838f6"/><stop offset="0.8" stop-color="#4444f4"/><stop offset="0.829" stop-color="#5050f1"/><stop offset="0.911" stop-color="#5b5bef"/><stop offset="0.999" stop-color="#5c5cef"/></linearGradient>
<linearGradient id="d133"><stop offset="0" stop-color="#5b5bef"/><stop offset="0.088" stop-color="#5959f0"/><stop offset="0.14" stop-color="#5353f1"/><stop offset="0.169" stop-color="#4d4df2"/><stop offset="0.199" stop-color="#4040f5"/><stop offset="0.251" stop-color="#1616fd"/><stop offset="0.275" stop-color="#0b0bff"/><stop offset="0.298" stop-color="#0a0aff"/><stop offset="0.35" stop-color="#1313fd"/><stop offset="0.415" stop-color="#1515fd"/><stop offset="0.432" stop-color="#1414fd"/><stop offset="0.45" stop-color="#0a0aff"/><stop offset="0.461" stop-color="#0909f7"/><stop offset="0.485" stop-color="#0707e2"/><stop offset="0.496" stop-color="#0707dd"/><stop offset="0.508" stop-color="#0707e1"/><stop offset="0.532" stop-color="#0909f6"/><stop offset="0.543" stop-color="#0a0afe"/><stop offset="0.561" stop-color="#1313fd"/><stop offset="0.578" stop-color="#1515fd"/><stop offset="0.643" stop-color="#1313fd"/><stop offset="0.695" stop-color="#0a0aff"/><stop offset="0.718" stop-color="#0a0aff"/><stop offset="0.742" stop-color="#1515fd"/><stop offset="0.794" stop-color="#3f3ff5"/><stop offset="0.812" stop-color="#4848f3"/><stop offset="0.829" stop-color="#4e4ef2"/><stop offset="0.864" stop-color="#5555f0"/><stop offset="0.911" stop-color="#5a5aef"/><stop offset="0.999" stop-color="#5b5bef"/></linearGradient>
<linearGradient id="d134"><stop offset="0" stop-color="#5a5aef"/><stop offset="0.088" stop-color="#5858f0"/><stop offset="0.14" stop-color="#5252f1"/><stop offset="0.169" stop-color="#4c4cf2"/><stop offset="0.187" stop-color="#4545f4"/><stop offset="0.204" stop-color="#3a3af6"/><stop offset="0.251" stop-color="#1414fd"/><stop offset="0.269" stop-color="#0a0aff"/><stop offset="0.315" stop-color="#0a0aff"/><stop offset="0.35" stop-color="#0f0ffe"/><stop offset="0.415" stop-color="#1111fe"/><stop offset="0.432" stop-color="#0f0ffe"/><stop offset="0.444" stop-color="#0a0aff"/><stop offset="0.461" stop-color="#0909f4"/><stop offset="0.485" stop-color="#0707dc"/><stop offset="0.496" stop-color="#0606d7"/><stop offset="0.508" stop-color="#0707db"/><stop offset="0.532" stop-color="#0909f3"/><stop offset="0.549" stop-color="#0a0afe"/><stop offset="0.561" stop-color="#0f0ffe"/><stop offset="0.578" stop-color="#1111fe"/><stop offset="0.643" stop-color="#0f0ffe"/><stop offset="0.678" stop-color="#0a0aff"/><stop offset="0.724" stop-color="#0a0aff"/><stop offset="0.742" stop-color="#1313fd"/><stop offset="0.794" stop-color="#3e3ef5"/><stop offset="0.812" stop-color="#4747f3"/><stop offset="0.829" stop-color="#4d4df2"/><stop offset="0.911" stop-color="#5858f0"/><stop offset="0.999" stop-color="#5a5aef"/></linearGradient>
<linearGradient id="d135"><stop offset="0" stop-color="#5959f0"/><stop offset="0.088" stop-color="#5757f0"/><stop offset="0.14" stop-color="#5151f1"/><stop offset="0.169" stop-color="#4b4bf2"/><stop offset="0.199" stop-color="#3d3df5"/><stop offset="0.251" stop-color="#1313fd"/><stop offset="0.263" stop-color="#0b0bff"/><stop offset="0.269" stop-color="#0a0afe"/><stop offset="0.292" stop-color="#0a0afc"/><stop offset="0.339" stop-color="#0a0aff"/><stop offset="0.409" stop-color="#0e0efe"/><stop offset="0.438" stop-color="#0a0aff"/><stop offset="0.456" stop-color="#0909f6"/><stop offset="0.485" stop-color="#0606d7"/><stop offset="0.496" stop-color="#0606d2"/><stop offset="0.508" stop-color="#0606d6"/><stop offset="0.537" stop-color="#0909f5"/><stop offset="0.555" stop-color="#0a0afe"/><stop offset="0.584" stop-color="#0e0efe"/><stop offset="0.66" stop-color="#0a0aff"/><stop offset="0.701" stop-color="#0a0afc"/><stop offset="0.73" stop-color="#0a0aff"/><stop offset="0.748" stop-color="#1616fd"/><stop offset="0.794" stop-color="#3d3df5"/><stop offset="0.812" stop-color="#4646f3"/><stop offset="0.829" stop-color="#4c4cf2"/><stop offset="0.864" stop-color="#5353f1"/><stop offset="0.917" stop-color="#5858f0"/><stop offset="0.999" stop-color="#5959f0"/></linearGradient>
<linearGradient id="d136"><stop offset="0" stop-color="#5858f0"/><stop offset="0.093" stop-color="#5656f0"/><stop offset="0.14" stop-color="#5050f1"/><stop offset="0.169" stop-color="#4a4af3"/><stop offset="0.187" stop-color="#4343f4"/><stop offset="0.204" stop-color="#3939f6"/><stop offset="0.245" stop-color="#1616fd"/><stop offset="0.263" stop-color="#0a0aff"/><stop offset="0.292" stop-color="#0a0afb"/><stop offset="0.356" stop-color="#0a0aff"/><stop offset="0.409" stop-color="#0c0cff"/><stop offset="0.432" stop-color="#0a0aff"/><stop offset="0.444" stop-color="#0a0afc"/><stop offset="0.456" stop-color="#0909f5"/><stop offset="0.485" stop-color="#0606d4"/><stop offset="0.496" stop-color="#0505ce"/><stop offset="0.508" stop-color="#0606d3"/><stop offset="0.537" stop-color="#0909f4"/><stop offset="0.549" stop-color="#0a0afb"/><stop offset="0.561" stop-color="#0a0aff"/><stop offset="0.584" stop-color="#0c0cff"/><stop offset="0.637" stop-color="#0a0aff"/><stop offset="0.701" stop-color="#0a0afb"/><stop offset="0.73" stop-color="#0a0aff"/><stop offset="0.742" stop-color="#1111fe"/><stop offset="0.794" stop-color="#3c3cf5"/><stop offset="0.812" stop-color="#4545f3"/><stop offset="0.829" stop-color="#4b4bf2"/><stop offset="0.859" stop-color="#5151f1"/><stop offset="0.905" stop-color="#5656f0"/><stop offset="0.999" stop-color="#5858f0"/></linearGradient>
<linearGradient id="d137"><stop offset="0" stop-color="#5757f0"/><stop offset="0.093" stop-color="#5555f0"/><stop offset="0.14" stop-color="#5050f1"/><stop offset="0.169" stop-color="#4949f3"/><stop offset="0.187" stop-color="#4242f4"/><stop offset="0.204" stop-color="#3838f6"/><stop offset="0.251" stop-color="#1111fe"/><stop offset="0.263" stop-color="#0a0aff"/><stop offset="0.298" stop-color="#0a0afa"/><stop offset="0.362" stop-color="#0a0afe"/><stop offset="0.426" stop-color="#0a0aff"/><stop offset="0.444" stop-color="#0a0afb"/><stop offset="0.456" stop-color="#0909f4"/><stop offset="0.485" stop-color="#0606d1"/><stop offset="0.496" stop-color="#0505cb"/><stop offset="0.508" stop-color="#0606d0"/><stop offset="0.532" stop-color="#0808ed"/><stop offset="0.543" stop-color="#0909f7"/><stop offset="0.555" stop-color="#0a0afd"/><stop offset="0.567" stop-color="#0a0aff"/><stop offset="0.631" stop-color="#0a0aff"/><stop offset="0.695" stop-color="#0a0afa"/><stop offset="0.73" stop-color="#0a0afe"/><stop offset="0.742" stop-color="#1010fe"/><stop offset="0.794" stop-color="#3b3bf5"/><stop offset="0.812" stop-color="#4444f4"/><stop offset="0.829" stop-color="#4b4bf2"/><stop offset="0.859" stop-color="#5050f1"/><stop offset="0.905" stop-color="#5555f0"/><stop offset="0.999" stop-color="#5757f0"/></linearGradient>
<linearGradient id="d138"><stop offset="0" stop-color="#5757f0"/><stop offset="0.093" stop-color="#5454f1"/><stop offset="0.14" stop-color="#4f4ff2"/><stop offset="0.169" stop-color="#4949f3"/><stop offset="0.187" stop-color="#4242f4"/><stop offset="0.204" stop-color="#3838f6"/><stop offset="0.251" stop-color="#1111fe"/><stop offset="0.263" stop-color="#0a0afe"/><stop offset="0.298" stop-color="#0a0afa"/><stop offset="0.374" stop-color="#0a0afe"/><stop offset="0.426" stop-color="#0a0aff"/><stop offset="0.444" stop-color="#0a0afb"/><stop offset="0.456" stop-color="#0909f3"/><stop offset="0.485" stop-color="#0606d0"/><stop offset="0.496" stop-color="#0505ca"/><stop offset="0.508" stop-color="#0505cf"/><stop offset="0.532" stop-color="#0808ec"/><stop offset="0.543" stop-color="#0909f7"/><stop offset="0.555" stop-color="#0a0afc"/><stop offset="0.567" stop-color="#0a0afe"/><stop offset="0.619" stop-color="#0a0aff"/><stop offset="0.695" stop-color="#0a0afa"/><stop offset="0.73" stop-color="#0a0afe"/><stop offset="0.742" stop-color="#1010fe"/><stop offset="0.794" stop-color="#3b3bf5"/><stop offset="0.812" stop-color="#4444f4"/><stop offset="0.829" stop-color="#4a4af2"/><stop offset="0.905" stop-color="#5555f0"/><stop offset="0.999" stop-color="#5757f0"/></linearGradient>
<linearGradient id="d139"><stop offset="0" stop-color="#5656f0"/><stop offset="0.088" stop-color="#5454f1"/><stop offset="0.14" stop-color="#4f4ff2"/><stop offset="0.169" stop-color="#4949f3"/><stop offset="0.187" stop-color="#4242f4"/><stop offset="0.204" stop-color="#3838f6"/><stop offset="0.251" stop-color="#1111fe"/><stop offset="0.263" stop-color="#0a0afe"/><stop offset="0.298" stop-color="#0909f9"/><stop offset="0.374" stop-color="#0a0afe"/><stop offset="0.426" stop-color="#0a0afe"/><stop offset="0.444" stop-color="#0a0afa"/><stop offset="0.456" stop-color="#0909f3"/><stop offset="0.485" stop-color="#0606d1"/><stop offset="0.496" stop-color="#0505ca"/><stop offset="0.508" stop-color="#0505cf"/><stop offset="0.532" stop-color="#0808ec"/><stop offset="0.543" stop-color="#0909f7"/><stop offset="0.555" stop-color="#0a0afc"/><stop offset="0.572" stop-color="#0a0aff"/><stop offset="0.625" stop-color="#0a0afe"/><stop offset="0.695" stop-color="#0909f9"/><stop offset="0.73" stop-color="#0a0afe"/><stop offset="0.742" stop-color="#1010fe"/><stop offset="0.794" stop-color="#3b3bf5"/><stop offset="0.812" stop-color="#4444f4"/><stop offset="0.829" stop-color="#4a4af2"/><stop offset="0.859" stop-color="#5050f1"/><stop offset="0.911" stop-color="#5454f0"/><stop offset="0.999" stop-color="#5656f0"/></linearGradient>
<linearGradient id="cb" x1="0" y1="0" x2="0" y2="1"><stop offset="0" stop-color="#8c0000"/><stop offset="0.23" stop-color="#fa0f0f"/><stop offset="0.375" stop-color="#e87676"/><stop offset="0.495" stop-color="#d7d7d7"/><stop offset="0.6" stop-color="#7d7de4"/><stop offset="0.745" stop-color="#0a0afa"/><stop offset="1" stop-color="#00008c"/></linearGradient>
</defs>
<rect width="550" height="360" fill="#fff"/>
<g font-family="Liberation Sans, Arial, sans-serif" font-size="12.5" fill="#000">
<text x="4.2" y="16.2">(a)</text>
<text x="282.8" y="16.2">(b)</text>
<text x="5" y="205.4">(c)</text>
<text x="282.8" y="205.9">(d)</text>
</g>
<g font-family="Liberation Sans, Arial, sans-serif" fill="#000">
<rect x="59.2" y="43.3" width="63.5" height="27.9" fill="#c9fbc9"/>
<rect x="59.2" y="71.2" width="63.5" height="17" fill="#ffe596"/>
<rect x="59.2" y="88.2" width="63.5" height="22.4" fill="#d8d8d8"/>
<path d="M59.2 71.3H122.7M59.2 88.3H122.7" stroke="#4c5c42" stroke-width="1.1"/>
<path d="M80.3 56V68" stroke="#000" stroke-width="0.9"/><path d="M80.3 53l1.7 4h-3.4z" fill="#000"/><path d="M80.3 71l1.7 -4h-3.4z" fill="#000"/>
<path d="M86.2 74.9V84.9" stroke="#000" stroke-width="0.9"/><path d="M86.2 71.9l1.7 4h-3.4z" fill="#000"/><path d="M86.2 87.9l1.7 -4h-3.4z" fill="#000"/>
<path d="M126.7 47.3V67.9" stroke="#000" stroke-width="0.9"/><path d="M126.7 44.3l1.7 4h-3.4z" fill="#000"/><path d="M126.7 70.9l1.7 -4h-3.4z" fill="#000"/>
<circle cx="87.2" cy="53.2" r="1.1" fill="#f00"/>
<text x="67.6" y="65" font-style="italic" font-size="11.3">d</text>
<text x="75.2" y="84" font-style="italic" font-size="11.3">t</text>
<text x="129.8" y="61.3" font-style="italic" font-size="10.5">L</text>
<text x="104.6" y="63.4" font-style="italic" font-size="9.3">ε<tspan font-size="6.3" dy="1.8">1</tspan></text>
<text x="103.9" y="82.5" font-style="italic" font-size="9.3">ε<tspan font-size="6.3" dy="1.8">2</tspan></text>
<text x="103.9" y="103.3" font-style="italic" font-size="9.3">ε<tspan font-size="6.3" dy="1.8">3</tspan></text>
<path d="M54.8 45.3V71.3" stroke="#000" stroke-width="1.1"/><path d="M54.8 41.8l2.3 4.5h-4.6z" fill="#000"/>
<path d="M24 71.2H55.5" stroke="#000" stroke-width="1.1"/><path d="M20 71.2l5 -2.3v4.6z" fill="#000"/>
<text x="53.1" y="40.8" font-style="italic" font-size="7.5">d</text>
<path d="M25.8 70 C42 68.8 49.5 62 50.8 47.5" fill="none" stroke="#1f86d8" stroke-width="1.1"/>
<text x="3.2" y="59.5" font-size="7.6" textLength="43.2" lengthAdjust="spacingAndGlyphs"><tspan font-style="italic">F</tspan><tspan font-size="5" dy="1" font-style="italic">P</tspan><tspan dy="-1">(</tspan><tspan font-style="italic">d</tspan>=0.5L) ~ F</text>
<text x="21.9" y="80.9" font-style="italic" font-size="8.2">F<tspan font-size="5.5" dy="1.2">P</tspan></text>
<rect x="202.5" y="23.7" width="63.4" height="22" fill="#f0f0f0"/>
<rect x="202.5" y="46" width="63.4" height="16" fill="#ffe596"/>
<rect x="202.5" y="62" width="63.4" height="49" fill="#c9fbc9"/>
<rect x="202.5" y="111" width="63.4" height="16" fill="#ffe596"/>
<rect x="202.5" y="127" width="63.4" height="23.7" fill="#d8d8d8"/>
<path d="M202.5 45.75H265.9" stroke="#6e665c" stroke-width="1.7"/>
<path d="M202.5 62.4H265.9M202.5 110.9H265.9M202.5 127.3H265.9" stroke="#4c5c42" stroke-width="1.1"/>
<path d="M234.2 66.2V85.6" stroke="#000" stroke-width="0.9"/><path d="M234.2 63.2l1.7 4h-3.4z" fill="#000"/><path d="M234.2 88.6l1.7 -4h-3.4z" fill="#000"/>
<path d="M234.2 94.4V107.4" stroke="#000" stroke-width="0.9"/><path d="M234.2 91.4l1.7 4h-3.4z" fill="#000"/><path d="M234.2 110.4l1.7 -4h-3.4z" fill="#000"/>
<path d="M234.2 114.8V123.7" stroke="#000" stroke-width="0.9"/><path d="M234.2 111.8l1.7 4h-3.4z" fill="#000"/><path d="M234.2 126.7l1.7 -4h-3.4z" fill="#000"/>
<path d="M269.2 67.5V107.3" stroke="#000" stroke-width="0.9"/><path d="M269.2 64.5l1.7 4h-3.4z" fill="#000"/><path d="M269.2 110.3l1.7 -4h-3.4z" fill="#000"/>
<circle cx="230" cy="89.9" r="1.1" fill="#f00"/>
<text x="243" y="79.2" font-style="italic" font-size="10.3">L-d</text>
<text x="246.8" y="104.4" font-style="italic" font-size="10.3">d</text>
<text x="247" y="123.5" font-style="italic" font-size="10.3">t</text>
<text x="273.5" y="90.5" font-style="italic" font-size="10.3">L</text>
<text x="207" y="39.5" font-style="italic" font-size="9.3">ε<tspan font-size="6.3" dy="1.8">3</tspan></text>
<text x="207" y="58" font-style="italic" font-size="9.3">ε<tspan font-size="6.3" dy="1.8">2</tspan></text>
<text x="210.2" y="92" font-style="italic" font-size="9.3">ε<tspan font-size="6.3" dy="1.8">1</tspan></text>
<text x="208.2" y="123.2" font-style="italic" font-size="9.3">ε<tspan font-size="6.3" dy="1.8">2</tspan></text>
<path d="M197.5 67.7V111.5" stroke="#000" stroke-width="1.1"/><path d="M197.5 64.2l2.3 4.5h-4.6z" fill="#000"/>
<path d="M157.2 111H198" stroke="#000" stroke-width="1.1"/><path d="M153.2 111l5 -2.3v4.6z" fill="#000"/>
<text x="195.1" y="63.5" font-style="italic" font-size="7.5">d</text>
<path d="M168.2 66.3 C188 72 188.5 103 168.2 109" fill="none" stroke="#1f86d8" stroke-width="1.1"/>
<text x="132.4" y="93.3" font-size="7.6" textLength="49.4" lengthAdjust="spacingAndGlyphs"><tspan font-style="italic">F</tspan><tspan font-size="5" dy="1" font-style="italic">P</tspan><tspan dy="-1">(</tspan><tspan font-style="italic">d</tspan>=0.5L) ≳ 2F</text>
<text x="154.4" y="121.8" font-style="italic" font-size="8.2">F<tspan font-size="5.5" dy="1.2">P</tspan></text>
</g>
<g font-family="Liberation Sans, Arial, sans-serif" font-size="9" fill="#111" stroke="#111" stroke-width="0.15">
<g fill="none" stroke-width="1.3" stroke-linejoin="round">
<path d="M325.60 42.30 C327.50 42.34 333.19 42.53 336.99 42.53 C340.78 42.53 344.58 42.23 348.37 42.30 C352.17 42.38 355.96 42.65 359.76 43.00 C363.56 43.34 367.92 44.03 371.15 44.38 C374.37 44.72 376.27 45.07 379.12 45.07 C381.96 45.07 384.81 44.91 388.23 44.38 C391.64 43.84 395.82 42.80 399.61 41.84 C403.41 40.88 407.20 39.58 411.00 38.62 C414.80 37.66 418.59 36.74 422.39 36.08 C426.18 35.43 430.45 35.01 433.77 34.70 C437.09 34.40 438.99 34.28 442.31 34.24 C445.63 34.20 449.43 34.28 453.70 34.47 C457.97 34.66 463.19 35.09 467.93 35.39 C472.68 35.70 477.42 36.08 482.17 36.32 C486.91 36.55 494.03 36.70 496.40 36.78" stroke="#ff1a1a"/>
<path d="M325.60 71.79 C328.45 71.83 336.99 71.94 342.68 72.02 C348.37 72.09 354.07 72.21 359.76 72.25 C365.45 72.29 371.62 72.32 376.84 72.25 C382.06 72.17 387.28 71.94 391.07 71.79 C394.87 71.63 396.77 71.33 399.61 71.33 C402.46 71.33 404.36 71.56 408.15 71.79 C411.95 72.02 417.17 72.44 422.39 72.71 C427.61 72.98 431.88 73.17 439.47 73.40 C447.06 73.63 458.44 73.90 467.93 74.09 C477.42 74.28 491.66 74.47 496.40 74.55" stroke="#1a1aff"/>
<path d="M325.60 115.83 C326.55 115.50 329.40 114.40 331.29 113.89 C333.19 113.38 334.90 112.79 336.99 112.79 C339.07 112.79 341.45 113.06 343.82 113.89 C346.19 114.72 349.04 116.66 351.22 117.76 C353.40 118.87 355.21 119.93 356.91 120.53 C358.62 121.12 359.85 121.40 361.47 121.35 C363.08 121.31 364.50 121.45 366.59 120.25 C368.68 119.05 371.34 116.66 373.99 114.17 C376.65 111.68 379.69 108.09 382.53 105.32 C385.38 102.56 388.42 99.80 391.07 97.58 C393.73 95.37 396.10 93.30 398.47 92.06 C400.85 90.81 403.22 90.21 405.31 90.12 C407.39 90.03 408.63 90.17 411.00 91.50 C413.37 92.84 416.69 95.28 419.54 98.14 C422.39 100.99 424.76 104.91 428.08 108.64 C431.40 112.37 435.67 116.84 439.47 120.53 C443.26 124.21 447.06 127.67 450.85 130.75 C454.65 133.84 458.44 136.69 462.24 139.04 C466.04 141.39 469.83 143.33 473.63 144.85 C477.42 146.37 481.22 147.38 485.01 148.17 C488.81 148.95 494.50 149.32 496.40 149.55" stroke="#ff1493" stroke-dasharray="4.4 4.7"/>
<path d="M325.60 90.95 C326.55 91.32 329.40 92.47 331.29 93.16 C333.19 93.85 334.14 94.13 336.99 95.10 C339.83 96.06 344.58 97.91 348.37 98.97 C352.17 100.03 355.96 100.76 359.76 101.45 C363.56 102.14 367.35 102.61 371.15 103.11 C374.94 103.62 379.50 104.13 382.53 104.49 C385.57 104.86 387.56 105.00 389.37 105.32 C391.17 105.65 392.02 105.78 393.35 106.43 C394.68 107.07 396.01 108.09 397.34 109.19 C398.66 110.30 400.09 111.96 401.32 113.06 C402.55 114.17 403.60 115.09 404.74 115.83 C405.88 116.56 406.82 117.02 408.15 117.48 C409.48 117.95 410.81 118.27 412.71 118.59 C414.61 118.91 416.98 119.19 419.54 119.42 C422.10 119.65 424.76 119.74 428.08 119.97 C431.40 120.20 432.82 120.34 439.47 120.80 C446.11 121.26 458.44 122.14 467.93 122.74 C477.42 123.34 491.66 124.12 496.40 124.39" stroke="#9a28b0" stroke-dasharray="4.4 4.7"/>
</g>
<rect x="325.6" y="11.9" width="170.8" height="138.2" fill="none" stroke="#666" stroke-width="0.9"/>
<text x="320.4" y="153.70" text-anchor="end" font-size="10.5" textLength="12.5" lengthAdjust="spacingAndGlyphs">0.0</text>
<text x="320.4" y="130.67" text-anchor="end" font-size="10.5" textLength="12.5" lengthAdjust="spacingAndGlyphs">0.5</text>
<text x="320.4" y="107.63" text-anchor="end" font-size="10.5" textLength="12.5" lengthAdjust="spacingAndGlyphs">1.0</text>
<text x="320.4" y="84.60" text-anchor="end" font-size="10.5" textLength="12.5" lengthAdjust="spacingAndGlyphs">1.5</text>
<text x="320.4" y="61.57" text-anchor="end" font-size="10.5" textLength="12.5" lengthAdjust="spacingAndGlyphs">2.0</text>
<text x="320.4" y="38.53" text-anchor="end" font-size="10.5" textLength="12.5" lengthAdjust="spacingAndGlyphs">2.5</text>
<text x="320.4" y="15.50" text-anchor="end" font-size="10.5" textLength="12.5" lengthAdjust="spacingAndGlyphs">3.0</text>
<text x="499.3" y="153.70" font-size="10.5" textLength="12.5" lengthAdjust="spacingAndGlyphs">0.0</text>
<text x="499.3" y="126.06" font-size="10.5" textLength="12.5" lengthAdjust="spacingAndGlyphs">0.1</text>
<text x="499.3" y="98.42" font-size="10.5" textLength="12.5" lengthAdjust="spacingAndGlyphs">0.2</text>
<text x="499.3" y="70.78" font-size="10.5" textLength="12.5" lengthAdjust="spacingAndGlyphs">0.3</text>
<text x="499.3" y="43.14" font-size="10.5" textLength="12.5" lengthAdjust="spacingAndGlyphs">0.4</text>
<text x="499.3" y="15.50" font-size="10.5" textLength="12.5" lengthAdjust="spacingAndGlyphs">0.5</text>
<text x="325.60" y="162.5" text-anchor="middle" font-size="10.5" textLength="13.8" lengthAdjust="spacingAndGlyphs">400</text>
<text x="382.53" y="162.5" text-anchor="middle" font-size="10.5" textLength="13.8" lengthAdjust="spacingAndGlyphs">500</text>
<text x="439.47" y="162.5" text-anchor="middle" font-size="10.5" textLength="13.8" lengthAdjust="spacingAndGlyphs">600</text>
<text x="496.40" y="162.5" text-anchor="middle" font-size="10.5" textLength="13.8" lengthAdjust="spacingAndGlyphs">700</text>
<path d="M325.6 150.10h-2.6M325.6 138.58h-1.3M325.6 127.07h-2.6M325.6 115.55h-1.3M325.6 104.03h-2.6M325.6 92.52h-1.3M325.6 81.00h-2.6M325.6 69.48h-1.3M325.6 57.97h-2.6M325.6 46.45h-1.3M325.6 34.93h-2.6M325.6 23.42h-1.3M325.6 11.90h-2.6M496.4 150.10h-2M496.4 136.28h-1M496.4 122.46h-2M496.4 108.64h-1M496.4 94.82h-2M496.4 81.00h-1M496.4 67.18h-2M496.4 53.36h-1M496.4 39.54h-2M496.4 25.72h-1M496.4 11.90h-2M325.60 150.1v2.6M354.07 150.1v1.3M382.53 150.1v2.6M411.00 150.1v1.3M439.47 150.1v2.6M467.93 150.1v1.3M496.40 150.1v2.6" stroke="#666" stroke-width="0.9" fill="none"/>
<text x="411" y="171.6" text-anchor="middle" font-size="9.3" textLength="65.4" lengthAdjust="spacingAndGlyphs">wavelength (nm)</text>
<text transform="translate(303.2,86.9) rotate(-90)" text-anchor="middle" font-style="italic" font-size="10">n</text>
<text transform="translate(523,87) rotate(-90)" text-anchor="middle" font-style="italic" font-size="10">k</text>
<path d="M424.8 45.8H443" stroke="#ff1a1a" stroke-width="1.3" fill="none"/>
<text x="445.6" y="48.5" font-size="8.2">n CsPbBr<tspan font-size="5.5" dy="2">3</tspan></text>
<path d="M424.8 58H443" stroke="#1a1aff" stroke-width="1.3" fill="none"/>
<text x="445.6" y="60.7" font-size="8.2">n FAPbBr<tspan font-size="5.5" dy="2">3</tspan></text>
<path d="M434.4 83.1H449" stroke="#ff1493" stroke-width="1.3" stroke-dasharray="4.4 4.7" fill="none"/>
<text x="455.3" y="85.8" font-size="8.2">k CsPbBr<tspan font-size="5.5" dy="2">3</tspan></text>
<path d="M434.4 95.8H449" stroke="#9a28b0" stroke-width="1.3" stroke-dasharray="4.4 4.7" fill="none"/>
<text x="455.3" y="98.5" font-size="8.2">k FAPbBr<tspan font-size="5.5" dy="2">3</tspan></text>
</g>
<g shape-rendering="crispEdges"><rect x="59.8" y="195.7" width="170.4" height="1.05" fill="url(#c0)"/>
<rect x="59.8" y="196.7" width="170.4" height="1.05" fill="url(#c1)"/>
<rect x="59.8" y="197.7" width="170.4" height="1.05" fill="url(#c2)"/>
<rect x="59.8" y="198.7" width="170.4" height="1.05" fill="url(#c3)"/>
<rect x="59.8" y="199.7" width="170.4" height="1.05" fill="url(#c4)"/>
<rect x="59.8" y="200.7" width="170.4" height="1.05" fill="url(#c5)"/>
<rect x="59.8" y="201.7" width="170.4" height="1.05" fill="url(#c6)"/>
<rect x="59.8" y="202.7" width="170.4" height="1.05" fill="url(#c7)"/>
<rect x="59.8" y="203.7" width="170.4" height="1.05" fill="url(#c8)"/>
<rect x="59.8" y="204.7" width="170.4" height="1.05" fill="url(#c9)"/>
<rect x="59.8" y="205.7" width="170.4" height="1.05" fill="url(#c10)"/>
<rect x="59.8" y="206.7" width="170.4" height="1.05" fill="url(#c11)"/>
<rect x="59.8" y="207.7" width="170.4" height="1.05" fill="url(#c12)"/>
<rect x="59.8" y="208.7" width="170.4" height="1.05" fill="url(#c13)"/>
<rect x="59.8" y="209.7" width="170.4" height="1.05" fill="url(#c14)"/>
<rect x="59.8" y="210.7" width="170.4" height="1.05" fill="url(#c15)"/>
<rect x="59.8" y="211.7" width="170.4" height="1.05" fill="url(#c16)"/>
<rect x="59.8" y="212.7" width="170.4" height="1.05" fill="url(#c17)"/>
<rect x="59.8" y="213.7" width="170.4" height="1.05" fill="url(#c18)"/>
<rect x="59.8" y="214.7" width="170.4" height="1.05" fill="url(#c19)"/>
<rect x="59.8" y="215.7" width="170.4" height="1.05" fill="url(#c20)"/>
<rect x="59.8" y="216.7" width="170.4" height="1.05" fill="url(#c21)"/>
<rect x="59.8" y="217.7" width="170.4" height="1.05" fill="url(#c22)"/>
<rect x="59.8" y="218.7" width="170.4" height="1.05" fill="url(#c23)"/>
<rect x="59.8" y="219.7" width="170.4" height="1.05" fill="url(#c24)"/>
<rect x="59.8" y="220.7" width="170.4" height="1.05" fill="url(#c25)"/>
<rect x="59.8" y="221.7" width="170.4" height="1.05" fill="url(#c26)"/>
<rect x="59.8" y="222.7" width="170.4" height="1.05" fill="url(#c27)"/>
<rect x="59.8" y="223.7" width="170.4" height="1.05" fill="url(#c28)"/>
<rect x="59.8" y="224.7" width="170.4" height="1.05" fill="url(#c29)"/>
<rect x="59.8" y="225.7" width="170.4" height="1.05" fill="url(#c30)"/>
<rect x="59.8" y="226.7" width="170.4" height="1.05" fill="url(#c31)"/>
<rect x="59.8" y="227.7" width="170.4" height="1.05" fill="url(#c32)"/>
<rect x="59.8" y="228.7" width="170.4" height="1.05" fill="url(#c33)"/>
<rect x="59.8" y="229.7" width="170.4" height="1.05" fill="url(#c34)"/>
<rect x="59.8" y="230.7" width="170.4" height="1.05" fill="url(#c35)"/>
<rect x="59.8" y="231.7" width="170.4" height="1.05" fill="url(#c36)"/>
<rect x="59.8" y="232.7" width="170.4" height="1.05" fill="url(#c37)"/>
<rect x="59.8" y="233.7" width="170.4" height="1.05" fill="url(#c38)"/>
<rect x="59.8" y="234.7" width="170.4" height="1.05" fill="url(#c39)"/>
<rect x="59.8" y="235.7" width="170.4" height="1.05" fill="url(#c40)"/>
<rect x="59.8" y="236.7" width="170.4" height="1.05" fill="url(#c41)"/>
<rect x="59.8" y="237.7" width="170.4" height="1.05" fill="url(#c42)"/>
<rect x="59.8" y="238.7" width="170.4" height="1.05" fill="url(#c43)"/>
<rect x="59.8" y="239.7" width="170.4" height="1.05" fill="url(#c44)"/>
<rect x="59.8" y="240.7" width="170.4" height="1.05" fill="url(#c45)"/>
<rect x="59.8" y="241.7" width="170.4" height="1.05" fill="url(#c46)"/>
<rect x="59.8" y="242.7" width="170.4" height="1.05" fill="url(#c47)"/>
<rect x="59.8" y="243.7" width="170.4" height="1.05" fill="url(#c48)"/>
<rect x="59.8" y="244.7" width="170.4" height="1.05" fill="url(#c49)"/>
<rect x="59.8" y="245.7" width="170.4" height="1.05" fill="url(#c50)"/>
<rect x="59.8" y="246.7" width="170.4" height="1.05" fill="url(#c51)"/>
<rect x="59.8" y="247.7" width="170.4" height="1.05" fill="url(#c52)"/>
<rect x="59.8" y="248.7" width="170.4" height="1.05" fill="url(#c53)"/>
<rect x="59.8" y="249.7" width="170.4" height="1.05" fill="url(#c54)"/>
<rect x="59.8" y="250.7" width="170.4" height="1.05" fill="url(#c55)"/>
<rect x="59.8" y="251.7" width="170.4" height="1.05" fill="url(#c56)"/>
<rect x="59.8" y="252.7" width="170.4" height="1.05" fill="url(#c57)"/>
<rect x="59.8" y="253.7" width="170.4" height="1.05" fill="url(#c58)"/>
<rect x="59.8" y="254.7" width="170.4" height="1.05" fill="url(#c59)"/>
<rect x="59.8" y="255.7" width="170.4" height="1.05" fill="url(#c60)"/>
<rect x="59.8" y="256.7" width="170.4" height="1.05" fill="url(#c61)"/>
<rect x="59.8" y="257.7" width="170.4" height="1.05" fill="url(#c62)"/>
<rect x="59.8" y="258.7" width="170.4" height="1.05" fill="url(#c63)"/>
<rect x="59.8" y="259.7" width="170.4" height="1.05" fill="url(#c64)"/>
<rect x="59.8" y="260.7" width="170.4" height="1.05" fill="url(#c65)"/>
<rect x="59.8" y="261.7" width="170.4" height="1.05" fill="url(#c66)"/>
<rect x="59.8" y="262.7" width="170.4" height="1.05" fill="url(#c67)"/>
<rect x="59.8" y="263.7" width="170.4" height="1.05" fill="url(#c68)"/>
<rect x="59.8" y="264.7" width="170.4" height="1.05" fill="url(#c69)"/>
<rect x="59.8" y="265.7" width="170.4" height="1.05" fill="url(#c70)"/>
<rect x="59.8" y="266.7" width="170.4" height="1.05" fill="url(#c71)"/>
<rect x="59.8" y="267.7" width="170.4" height="1.05" fill="url(#c72)"/>
<rect x="59.8" y="268.7" width="170.4" height="1.05" fill="url(#c73)"/>
<rect x="59.8" y="269.7" width="170.4" height="1.05" fill="url(#c74)"/>
<rect x="59.8" y="270.7" width="170.4" height="1.05" fill="url(#c75)"/>
<rect x="59.8" y="271.7" width="170.4" height="1.05" fill="url(#c76)"/>
<rect x="59.8" y="272.7" width="170.4" height="1.05" fill="url(#c77)"/>
<rect x="59.8" y="273.7" width="170.4" height="1.05" fill="url(#c78)"/>
<rect x="59.8" y="274.7" width="170.4" height="1.05" fill="url(#c79)"/>
<rect x="59.8" y="275.7" width="170.4" height="1.05" fill="url(#c80)"/>
<rect x="59.8" y="276.7" width="170.4" height="1.05" fill="url(#c81)"/>
<rect x="59.8" y="277.7" width="170.4" height="1.05" fill="url(#c82)"/>
<rect x="59.8" y="278.7" width="170.4" height="1.05" fill="url(#c83)"/>
<rect x="59.8" y="279.7" width="170.4" height="1.05" fill="url(#c84)"/>
<rect x="59.8" y="280.7" width="170.4" height="1.05" fill="url(#c85)"/>
<rect x="59.8" y="281.7" width="170.4" height="1.05" fill="url(#c86)"/>
<rect x="59.8" y="282.7" width="170.4" height="1.05" fill="url(#c87)"/>
<rect x="59.8" y="283.7" width="170.4" height="1.05" fill="url(#c88)"/>
<rect x="59.8" y="284.7" width="170.4" height="1.05" fill="url(#c89)"/>
<rect x="59.8" y="285.7" width="170.4" height="1.05" fill="url(#c90)"/>
<rect x="59.8" y="286.7" width="170.4" height="1.05" fill="url(#c91)"/>
<rect x="59.8" y="287.7" width="170.4" height="1.05" fill="url(#c92)"/>
<rect x="59.8" y="288.7" width="170.4" height="1.05" fill="url(#c93)"/>
<rect x="59.8" y="289.7" width="170.4" height="1.05" fill="url(#c94)"/>
<rect x="59.8" y="290.7" width="170.4" height="1.05" fill="url(#c95)"/>
<rect x="59.8" y="291.7" width="170.4" height="1.05" fill="url(#c96)"/>
<rect x="59.8" y="292.7" width="170.4" height="1.05" fill="url(#c97)"/>
<rect x="59.8" y="293.7" width="170.4" height="1.05" fill="url(#c98)"/>
<rect x="59.8" y="294.7" width="170.4" height="1.05" fill="url(#c99)"/>
<rect x="59.8" y="295.7" width="170.4" height="1.05" fill="url(#c100)"/>
<rect x="59.8" y="296.7" width="170.4" height="1.05" fill="url(#c101)"/>
<rect x="59.8" y="297.7" width="170.4" height="1.05" fill="url(#c102)"/>
<rect x="59.8" y="298.7" width="170.4" height="1.05" fill="url(#c103)"/>
<rect x="59.8" y="299.7" width="170.4" height="1.05" fill="url(#c104)"/>
<rect x="59.8" y="300.7" width="170.4" height="1.05" fill="url(#c105)"/>
<rect x="59.8" y="301.7" width="170.4" height="1.05" fill="url(#c106)"/>
<rect x="59.8" y="302.7" width="170.4" height="1.05" fill="url(#c107)"/>
<rect x="59.8" y="303.7" width="170.4" height="1.05" fill="url(#c108)"/>
<rect x="59.8" y="304.7" width="170.4" height="1.05" fill="url(#c109)"/>
<rect x="59.8" y="305.7" width="170.4" height="1.05" fill="url(#c110)"/>
<rect x="59.8" y="306.7" width="170.4" height="1.05" fill="url(#c111)"/>
<rect x="59.8" y="307.7" width="170.4" height="1.05" fill="url(#c112)"/>
<rect x="59.8" y="308.7" width="170.4" height="1.05" fill="url(#c113)"/>
<rect x="59.8" y="309.7" width="170.4" height="1.05" fill="url(#c114)"/>
<rect x="59.8" y="310.7" width="170.4" height="1.05" fill="url(#c115)"/>
<rect x="59.8" y="311.7" width="170.4" height="1.05" fill="url(#c116)"/>
<rect x="59.8" y="312.7" width="170.4" height="1.05" fill="url(#c117)"/>
<rect x="59.8" y="313.7" width="170.4" height="1.05" fill="url(#c118)"/>
<rect x="59.8" y="314.7" width="170.4" height="1.05" fill="url(#c119)"/>
<rect x="59.8" y="315.7" width="170.4" height="1.05" fill="url(#c120)"/>
<rect x="59.8" y="316.7" width="170.4" height="1.05" fill="url(#c121)"/>
<rect x="59.8" y="317.7" width="170.4" height="1.05" fill="url(#c122)"/>
<rect x="59.8" y="318.7" width="170.4" height="1.05" fill="url(#c123)"/>
<rect x="59.8" y="319.7" width="170.4" height="1.05" fill="url(#c124)"/>
<rect x="59.8" y="320.7" width="170.4" height="1.05" fill="url(#c125)"/>
<rect x="59.8" y="321.7" width="170.4" height="1.05" fill="url(#c126)"/>
<rect x="59.8" y="322.7" width="170.4" height="1.05" fill="url(#c127)"/>
<rect x="59.8" y="323.7" width="170.4" height="1.05" fill="url(#c128)"/>
<rect x="59.8" y="324.7" width="170.4" height="1.05" fill="url(#c129)"/>
<rect x="59.8" y="325.7" width="170.4" height="1.05" fill="url(#c130)"/>
<rect x="59.8" y="326.7" width="170.4" height="1.05" fill="url(#c131)"/>
<rect x="59.8" y="327.7" width="170.4" height="1.05" fill="url(#c132)"/>
<rect x="59.8" y="328.7" width="170.4" height="1.05" fill="url(#c133)"/>
<rect x="59.8" y="329.7" width="170.4" height="1.05" fill="url(#c134)"/>
<rect x="59.8" y="330.7" width="170.4" height="1.05" fill="url(#c135)"/>
<rect x="59.8" y="331.7" width="170.4" height="1.05" fill="url(#c136)"/>
<rect x="59.8" y="332.7" width="170.4" height="1.05" fill="url(#c137)"/>
<rect x="59.8" y="333.7" width="170.4" height="1.05" fill="url(#c138)"/>
<rect x="59.8" y="334.7" width="170.4" height="0.65" fill="url(#c139)"/></g>
<path d="M59.8 261.3H230.2" stroke="#28e040" stroke-width="1.05" stroke-dasharray="2.6 1.4" fill="none"/>
<path d="M59.8 269.7H230.2" stroke="#28e040" stroke-width="1.05" stroke-dasharray="2.6 1.4" fill="none"/>
<path d="M59.8 272.7H230.2" stroke="#eadc32" stroke-width="1.05" stroke-dasharray="2.6 1.4" fill="none"/>
<path d="M59.8 293.6H230.2" stroke="#e2d038" stroke-width="1.05" stroke-dasharray="2.6 1.4" fill="none"/>
<rect x="59.8" y="195.7" width="170.4" height="139.6" fill="none" stroke="#222" stroke-width="0.7"/>
<g font-family="Liberation Sans, Arial, sans-serif" font-size="6.3" fill="#3a3a3a">
<text x="61.10" y="342.7" text-anchor="middle">-400</text>
<text x="103.20" y="342.7" text-anchor="middle">-200</text>
<text x="145.30" y="342.7" text-anchor="middle">0</text>
<text x="187.40" y="342.7" text-anchor="middle">200</text>
<text x="229.50" y="342.7" text-anchor="middle">400</text>
<text x="57.9" y="205" text-anchor="end">300</text>
<text x="57.9" y="226" text-anchor="end">200</text>
<text x="57.9" y="247" text-anchor="end">100</text>
<text x="57.9" y="268" text-anchor="end">0</text>
<text x="57.9" y="289" text-anchor="end">-100</text>
<text x="57.9" y="310" text-anchor="end">-200</text>
<text x="57.9" y="331" text-anchor="end">-300</text>
</g>
<path d="M59.8 332.31h1M230.2 332.31h-1M59.8 323.93h1M230.2 323.93h-1M59.8 319.73h1M230.2 319.73h-1M59.8 315.54h1M230.2 315.54h-1M59.8 311.34h1M230.2 311.34h-1M59.8 302.96h1M230.2 302.96h-1M59.8 298.76h1M230.2 298.76h-1M59.8 294.57h1M230.2 294.57h-1M59.8 290.37h1M230.2 290.37h-1M59.8 281.99h1M230.2 281.99h-1M59.8 277.79h1M230.2 277.79h-1M59.8 273.60h1M230.2 273.60h-1M59.8 269.40h1M230.2 269.40h-1M59.8 261.02h1M230.2 261.02h-1M59.8 256.82h1M230.2 256.82h-1M59.8 252.63h1M230.2 252.63h-1M59.8 248.43h1M230.2 248.43h-1M59.8 240.05h1M230.2 240.05h-1M59.8 235.85h1M230.2 235.85h-1M59.8 231.66h1M230.2 231.66h-1M59.8 227.46h1M230.2 227.46h-1M59.8 219.08h1M230.2 219.08h-1M59.8 214.88h1M230.2 214.88h-1M59.8 210.69h1M230.2 210.69h-1M59.8 206.49h1M230.2 206.49h-1M59.8 198.11h1M230.2 198.11h-1" stroke="#222" stroke-opacity="0.55" stroke-width="0.5" fill="none"/>
<path d="M60.80 335.3v-1.6M60.80 195.7v1.6M102.90 335.3v-1.6M102.90 195.7v1.6M145.00 335.3v-1.6M145.00 195.7v1.6M187.10 335.3v-1.6M187.10 195.7v1.6M229.20 335.3v-1.6M229.20 195.7v1.6M59.8 202.30h1.6M230.2 202.30h-1.6M59.8 223.27h1.6M230.2 223.27h-1.6M59.8 244.24h1.6M230.2 244.24h-1.6M59.8 265.21h1.6M230.2 265.21h-1.6M59.8 286.18h1.6M230.2 286.18h-1.6M59.8 307.15h1.6M230.2 307.15h-1.6M59.8 328.12h1.6M230.2 328.12h-1.6" stroke="#222" stroke-width="0.6" fill="none"/>
<g font-family="Liberation Sans, Arial, sans-serif" font-size="9.1" fill="#111" stroke="#111" stroke-width="0.2">
<text x="145.1" y="354.7" text-anchor="middle">x (nm)</text>
<text transform="translate(41,266.5) rotate(-90)" text-anchor="middle">y (nm)</text>
</g>
<g shape-rendering="crispEdges"><rect x="325.3" y="194.2" width="171.2" height="1.05" fill="url(#d0)"/>
<rect x="325.3" y="195.2" width="171.2" height="1.05" fill="url(#d1)"/>
<rect x="325.3" y="196.2" width="171.2" height="1.05" fill="url(#d2)"/>
<rect x="325.3" y="197.2" width="171.2" height="1.05" fill="url(#d3)"/>
<rect x="325.3" y="198.2" width="171.2" height="1.05" fill="url(#d4)"/>
<rect x="325.3" y="199.2" width="171.2" height="1.05" fill="url(#d5)"/>
<rect x="325.3" y="200.2" width="171.2" height="1.05" fill="url(#d6)"/>
<rect x="325.3" y="201.2" width="171.2" height="1.05" fill="url(#d7)"/>
<rect x="325.3" y="202.2" width="171.2" height="1.05" fill="url(#d8)"/>
<rect x="325.3" y="203.2" width="171.2" height="1.05" fill="url(#d9)"/>
<rect x="325.3" y="204.2" width="171.2" height="1.05" fill="url(#d10)"/>
<rect x="325.3" y="205.2" width="171.2" height="1.05" fill="url(#d11)"/>
<rect x="325.3" y="206.2" width="171.2" height="1.05" fill="url(#d12)"/>
<rect x="325.3" y="207.2" width="171.2" height="1.05" fill="url(#d13)"/>
<rect x="325.3" y="208.2" width="171.2" height="1.05" fill="url(#d14)"/>
<rect x="325.3" y="209.2" width="171.2" height="1.05" fill="url(#d15)"/>
<rect x="325.3" y="210.2" width="171.2" height="1.05" fill="url(#d16)"/>
<rect x="325.3" y="211.2" width="171.2" height="1.05" fill="url(#d17)"/>
<rect x="325.3" y="212.2" width="171.2" height="1.05" fill="url(#d18)"/>
<rect x="325.3" y="213.2" width="171.2" height="1.05" fill="url(#d19)"/>
<rect x="325.3" y="214.2" width="171.2" height="1.05" fill="url(#d20)"/>
<rect x="325.3" y="215.2" width="171.2" height="1.05" fill="url(#d21)"/>
<rect x="325.3" y="216.2" width="171.2" height="1.05" fill="url(#d22)"/>
<rect x="325.3" y="217.2" width="171.2" height="1.05" fill="url(#d23)"/>
<rect x="325.3" y="218.2" width="171.2" height="1.05" fill="url(#d24)"/>
<rect x="325.3" y="219.2" width="171.2" height="1.05" fill="url(#d25)"/>
<rect x="325.3" y="220.2" width="171.2" height="1.05" fill="url(#d26)"/>
<rect x="325.3" y="221.2" width="171.2" height="1.05" fill="url(#d27)"/>
<rect x="325.3" y="222.2" width="171.2" height="1.05" fill="url(#d28)"/>
<rect x="325.3" y="223.2" width="171.2" height="1.05" fill="url(#d29)"/>
<rect x="325.3" y="224.2" width="171.2" height="1.05" fill="url(#d30)"/>
<rect x="325.3" y="225.2" width="171.2" height="1.05" fill="url(#d31)"/>
<rect x="325.3" y="226.2" width="171.2" height="1.05" fill="url(#d32)"/>
<rect x="325.3" y="227.2" width="171.2" height="1.05" fill="url(#d33)"/>
<rect x="325.3" y="228.2" width="171.2" height="1.05" fill="url(#d34)"/>
<rect x="325.3" y="229.2" width="171.2" height="1.05" fill="url(#d35)"/>
<rect x="325.3" y="230.2" width="171.2" height="1.05" fill="url(#d36)"/>
<rect x="325.3" y="231.2" width="171.2" height="1.05" fill="url(#d37)"/>
<rect x="325.3" y="232.2" width="171.2" height="1.05" fill="url(#d38)"/>
<rect x="325.3" y="233.2" width="171.2" height="1.05" fill="url(#d39)"/>
<rect x="325.3" y="234.2" width="171.2" height="1.05" fill="url(#d40)"/>
<rect x="325.3" y="235.2" width="171.2" height="1.05" fill="url(#d41)"/>
<rect x="325.3" y="236.2" width="171.2" height="1.05" fill="url(#d42)"/>
<rect x="325.3" y="237.2" width="171.2" height="1.05" fill="url(#d43)"/>
<rect x="325.3" y="238.2" width="171.2" height="1.05" fill="url(#d44)"/>
<rect x="325.3" y="239.2" width="171.2" height="1.05" fill="url(#d45)"/>
<rect x="325.3" y="240.2" width="171.2" height="1.05" fill="url(#d46)"/>
<rect x="325.3" y="241.2" width="171.2" height="1.05" fill="url(#d47)"/>
<rect x="325.3" y="242.2" width="171.2" height="1.05" fill="url(#d48)"/>
<rect x="325.3" y="243.2" width="171.2" height="1.05" fill="url(#d49)"/>
<rect x="325.3" y="244.2" width="171.2" height="1.05" fill="url(#d50)"/>
<rect x="325.3" y="245.2" width="171.2" height="1.05" fill="url(#d51)"/>
<rect x="325.3" y="246.2" width="171.2" height="1.05" fill="url(#d52)"/>
<rect x="325.3" y="247.2" width="171.2" height="1.05" fill="url(#d53)"/>
<rect x="325.3" y="248.2" width="171.2" height="1.05" fill="url(#d54)"/>
<rect x="325.3" y="249.2" width="171.2" height="1.05" fill="url(#d55)"/>
<rect x="325.3" y="250.2" width="171.2" height="1.05" fill="url(#d56)"/>
<rect x="325.3" y="251.2" width="171.2" height="1.05" fill="url(#d57)"/>
<rect x="325.3" y="252.2" width="171.2" height="1.05" fill="url(#d58)"/>
<rect x="325.3" y="253.2" width="171.2" height="1.05" fill="url(#d59)"/>
<rect x="325.3" y="254.2" width="171.2" height="1.05" fill="url(#d60)"/>
<rect x="325.3" y="255.2" width="171.2" height="1.05" fill="url(#d61)"/>
<rect x="325.3" y="256.2" width="171.2" height="1.05" fill="url(#d62)"/>
<rect x="325.3" y="257.2" width="171.2" height="1.05" fill="url(#d63)"/>
<rect x="325.3" y="258.2" width="171.2" height="1.05" fill="url(#d64)"/>
<rect x="325.3" y="259.2" width="171.2" height="1.05" fill="url(#d65)"/>
<rect x="325.3" y="260.2" width="171.2" height="1.05" fill="url(#d66)"/>
<rect x="325.3" y="261.2" width="171.2" height="1.05" fill="url(#d67)"/>
<rect x="325.3" y="262.2" width="171.2" height="1.05" fill="url(#d68)"/>
<rect x="325.3" y="263.2" width="171.2" height="1.05" fill="url(#d69)"/>
<rect x="325.3" y="264.2" width="171.2" height="1.05" fill="url(#d70)"/>
<rect x="325.3" y="265.2" width="171.2" height="1.05" fill="url(#d71)"/>
<rect x="325.3" y="266.2" width="171.2" height="1.05" fill="url(#d72)"/>
<rect x="325.3" y="267.2" width="171.2" height="1.05" fill="url(#d73)"/>
<rect x="325.3" y="268.2" width="171.2" height="1.05" fill="url(#d74)"/>
<rect x="325.3" y="269.2" width="171.2" height="1.05" fill="url(#d75)"/>
<rect x="325.3" y="270.2" width="171.2" height="1.05" fill="url(#d76)"/>
<rect x="325.3" y="271.2" width="171.2" height="1.05" fill="url(#d77)"/>
<rect x="325.3" y="272.2" width="171.2" height="1.05" fill="url(#d78)"/>
<rect x="325.3" y="273.2" width="171.2" height="1.05" fill="url(#d79)"/>
<rect x="325.3" y="274.2" width="171.2" height="1.05" fill="url(#d80)"/>
<rect x="325.3" y="275.2" width="171.2" height="1.05" fill="url(#d81)"/>
<rect x="325.3" y="276.2" width="171.2" height="1.05" fill="url(#d82)"/>
<rect x="325.3" y="277.2" width="171.2" height="1.05" fill="url(#d83)"/>
<rect x="325.3" y="278.2" width="171.2" height="1.05" fill="url(#d84)"/>
<rect x="325.3" y="279.2" width="171.2" height="1.05" fill="url(#d85)"/>
<rect x="325.3" y="280.2" width="171.2" height="1.05" fill="url(#d86)"/>
<rect x="325.3" y="281.2" width="171.2" height="1.05" fill="url(#d87)"/>
<rect x="325.3" y="282.2" width="171.2" height="1.05" fill="url(#d88)"/>
<rect x="325.3" y="283.2" width="171.2" height="1.05" fill="url(#d89)"/>
<rect x="325.3" y="284.2" width="171.2" height="1.05" fill="url(#d90)"/>
<rect x="325.3" y="285.2" width="171.2" height="1.05" fill="url(#d91)"/>
<rect x="325.3" y="286.2" width="171.2" height="1.05" fill="url(#d92)"/>
<rect x="325.3" y="287.2" width="171.2" height="1.05" fill="url(#d93)"/>
<rect x="325.3" y="288.2" width="171.2" height="1.05" fill="url(#d94)"/>
<rect x="325.3" y="289.2" width="171.2" height="1.05" fill="url(#d95)"/>
<rect x="325.3" y="290.2" width="171.2" height="1.05" fill="url(#d96)"/>
<rect x="325.3" y="291.2" width="171.2" height="1.05" fill="url(#d97)"/>
<rect x="325.3" y="292.2" width="171.2" height="1.05" fill="url(#d98)"/>
<rect x="325.3" y="293.2" width="171.2" height="1.05" fill="url(#d99)"/>
<rect x="325.3" y="294.2" width="171.2" height="1.05" fill="url(#d100)"/>
<rect x="325.3" y="295.2" width="171.2" height="1.05" fill="url(#d101)"/>
<rect x="325.3" y="296.2" width="171.2" height="1.05" fill="url(#d102)"/>
<rect x="325.3" y="297.2" width="171.2" height="1.05" fill="url(#d103)"/>
<rect x="325.3" y="298.2" width="171.2" height="1.05" fill="url(#d104)"/>
<rect x="325.3" y="299.2" width="171.2" height="1.05" fill="url(#d105)"/>
<rect x="325.3" y="300.2" width="171.2" height="1.05" fill="url(#d106)"/>
<rect x="325.3" y="301.2" width="171.2" height="1.05" fill="url(#d107)"/>
<rect x="325.3" y="302.2" width="171.2" height="1.05" fill="url(#d108)"/>
<rect x="325.3" y="303.2" width="171.2" height="1.05" fill="url(#d109)"/>
<rect x="325.3" y="304.2" width="171.2" height="1.05" fill="url(#d110)"/>
<rect x="325.3" y="305.2" width="171.2" height="1.05" fill="url(#d111)"/>
<rect x="325.3" y="306.2" width="171.2" height="1.05" fill="url(#d112)"/>
<rect x="325.3" y="307.2" width="171.2" height="1.05" fill="url(#d113)"/>
<rect x="325.3" y="308.2" width="171.2" height="1.05" fill="url(#d114)"/>
<rect x="325.3" y="309.2" width="171.2" height="1.05" fill="url(#d115)"/>
<rect x="325.3" y="310.2" width="171.2" height="1.05" fill="url(#d116)"/>
<rect x="325.3" y="311.2" width="171.2" height="1.05" fill="url(#d117)"/>
<rect x="325.3" y="312.2" width="171.2" height="1.05" fill="url(#d118)"/>
<rect x="325.3" y="313.2" width="171.2" height="1.05" fill="url(#d119)"/>
<rect x="325.3" y="314.2" width="171.2" height="1.05" fill="url(#d120)"/>
<rect x="325.3" y="315.2" width="171.2" height="1.05" fill="url(#d121)"/>
<rect x="325.3" y="316.2" width="171.2" height="1.05" fill="url(#d122)"/>
<rect x="325.3" y="317.2" width="171.2" height="1.05" fill="url(#d123)"/>
<rect x="325.3" y="318.2" width="171.2" height="1.05" fill="url(#d124)"/>
<rect x="325.3" y="319.2" width="171.2" height="1.05" fill="url(#d125)"/>
<rect x="325.3" y="320.2" width="171.2" height="1.05" fill="url(#d126)"/>
<rect x="325.3" y="321.2" width="171.2" height="1.05" fill="url(#d127)"/>
<rect x="325.3" y="322.2" width="171.2" height="1.05" fill="url(#d128)"/>
<rect x="325.3" y="323.2" width="171.2" height="1.05" fill="url(#d129)"/>
<rect x="325.3" y="324.2" width="171.2" height="1.05" fill="url(#d130)"/>
<rect x="325.3" y="325.2" width="171.2" height="1.05" fill="url(#d131)"/>
<rect x="325.3" y="326.2" width="171.2" height="1.05" fill="url(#d132)"/>
<rect x="325.3" y="327.2" width="171.2" height="1.05" fill="url(#d133)"/>
<rect x="325.3" y="328.2" width="171.2" height="1.05" fill="url(#d134)"/>
<rect x="325.3" y="329.2" width="171.2" height="1.05" fill="url(#d135)"/>
<rect x="325.3" y="330.2" width="171.2" height="1.05" fill="url(#d136)"/>
<rect x="325.3" y="331.2" width="171.2" height="1.05" fill="url(#d137)"/>
<rect x="325.3" y="332.2" width="171.2" height="1.05" fill="url(#d138)"/>
<rect x="325.3" y="333.2" width="171.2" height="1.05" fill="url(#d139)"/></g>
<path d="M325.3 234.3H496.5" stroke="#e8cf35" stroke-width="1.15" stroke-dasharray="2.6 1.4" fill="none"/>
<path d="M325.3 256.2H496.5" stroke="#fbd92a" stroke-width="1.15" stroke-dasharray="2.6 1.4" fill="none"/>
<path d="M325.3 260.1H496.5" stroke="#5ed63c" stroke-width="1.15" stroke-dasharray="2.6 1.4" fill="none"/>
<path d="M325.3 267.5H496.5" stroke="#5ed63c" stroke-width="1.15" stroke-dasharray="2.6 1.4" fill="none"/>
<path d="M325.3 271.2H496.5" stroke="#fbd92a" stroke-width="1.15" stroke-dasharray="2.6 1.4" fill="none"/>
<path d="M325.3 292.5H496.5" stroke="#e8cf35" stroke-width="1.15" stroke-dasharray="2.6 1.4" fill="none"/>
<rect x="325.3" y="194.2" width="171.2" height="140" fill="none" stroke="#222" stroke-width="0.7"/>
<g font-family="Liberation Sans, Arial, sans-serif" font-size="6.4" fill="#3a3a3a">
<text x="326.20" y="341.6" text-anchor="middle">-400</text>
<text x="368.50" y="341.6" text-anchor="middle">-200</text>
<text x="410.80" y="341.6" text-anchor="middle">0</text>
<text x="453.10" y="341.6" text-anchor="middle">200</text>
<text x="495.40" y="341.6" text-anchor="middle">400</text>
<text x="323.4" y="203" text-anchor="end">300</text>
<text x="323.4" y="224" text-anchor="end">200</text>
<text x="323.4" y="245" text-anchor="end">100</text>
<text x="323.4" y="266" text-anchor="end">0</text>
<text x="323.4" y="288" text-anchor="end">-100</text>
<text x="323.4" y="309" text-anchor="end">-200</text>
<text x="323.4" y="330" text-anchor="end">-300</text>
</g>
<path d="M325.3 331.19h1M496.5 331.19h-1M325.3 322.77h1M496.5 322.77h-1M325.3 318.57h1M496.5 318.57h-1M325.3 314.36h1M496.5 314.36h-1M325.3 310.16h1M496.5 310.16h-1M325.3 301.74h1M496.5 301.74h-1M325.3 297.54h1M496.5 297.54h-1M325.3 293.33h1M496.5 293.33h-1M325.3 289.13h1M496.5 289.13h-1M325.3 280.71h1M496.5 280.71h-1M325.3 276.51h1M496.5 276.51h-1M325.3 272.30h1M496.5 272.30h-1M325.3 268.10h1M496.5 268.10h-1M325.3 259.68h1M496.5 259.68h-1M325.3 255.48h1M496.5 255.48h-1M325.3 251.27h1M496.5 251.27h-1M325.3 247.07h1M496.5 247.07h-1M325.3 238.65h1M496.5 238.65h-1M325.3 234.45h1M496.5 234.45h-1M325.3 230.24h1M496.5 230.24h-1M325.3 226.04h1M496.5 226.04h-1M325.3 217.62h1M496.5 217.62h-1M325.3 213.42h1M496.5 213.42h-1M325.3 209.21h1M496.5 209.21h-1M325.3 205.01h1M496.5 205.01h-1M325.3 196.59h1M496.5 196.59h-1" stroke="#222" stroke-opacity="0.55" stroke-width="0.5" fill="none"/>
<path d="M325.90 334.2v-1.6M325.90 194.2v1.6M368.20 334.2v-1.6M368.20 194.2v1.6M410.50 334.2v-1.6M410.50 194.2v1.6M452.80 334.2v-1.6M452.80 194.2v1.6M495.10 334.2v-1.6M495.10 194.2v1.6M325.3 200.80h1.6M496.5 200.80h-1.6M325.3 221.83h1.6M496.5 221.83h-1.6M325.3 242.86h1.6M496.5 242.86h-1.6M325.3 263.89h1.6M496.5 263.89h-1.6M325.3 284.92h1.6M496.5 284.92h-1.6M325.3 305.95h1.6M496.5 305.95h-1.6M325.3 326.98h1.6M496.5 326.98h-1.6" stroke="#222" stroke-width="0.6" fill="none"/>
<g font-family="Liberation Sans, Arial, sans-serif" font-size="9.1" fill="#111" stroke="#111" stroke-width="0.2">
<text x="411.8" y="353.6" text-anchor="middle">x (nm)</text>
<text transform="translate(307,265.5) rotate(-90)" text-anchor="middle">y (nm)</text>
</g>
<g font-family="Liberation Sans, Arial, sans-serif" font-size="8.9" fill="#111" stroke="#111" stroke-width="0.22">
<rect x="520.2" y="209.2" width="9.9" height="120.8" fill="url(#cb)" stroke="#3a1a2a" stroke-width="0.7"/>
<path d="M520.2 221.3h1.3M530.1 221.3h-1.3M520.2 233.4h1.3M530.1 233.4h-1.3M520.2 245.4h1.3M530.1 245.4h-1.3M520.2 257.5h1.3M530.1 257.5h-1.3M520.2 269.6h1.3M530.1 269.6h-1.3M520.2 281.7h1.3M530.1 281.7h-1.3M520.2 293.8h1.3M530.1 293.8h-1.3M520.2 305.8h1.3M530.1 305.8h-1.3M520.2 317.9h1.3M530.1 317.9h-1.3" stroke="#333" stroke-opacity="0.6" stroke-width="0.5" fill="none"/>
<text x="504.4" y="191.9">Log |<tspan font-style="italic">E</tspan>|/|<tspan font-style="italic">E</tspan><tspan font-size="6" dy="1.5">0</tspan><tspan dy="-1.5">|</tspan></text>
<text x="526.2" y="203.6" text-anchor="middle">Max</text>
<text x="525.3" y="342" text-anchor="middle">Min</text>
</g>
</svg>
</body></html>
